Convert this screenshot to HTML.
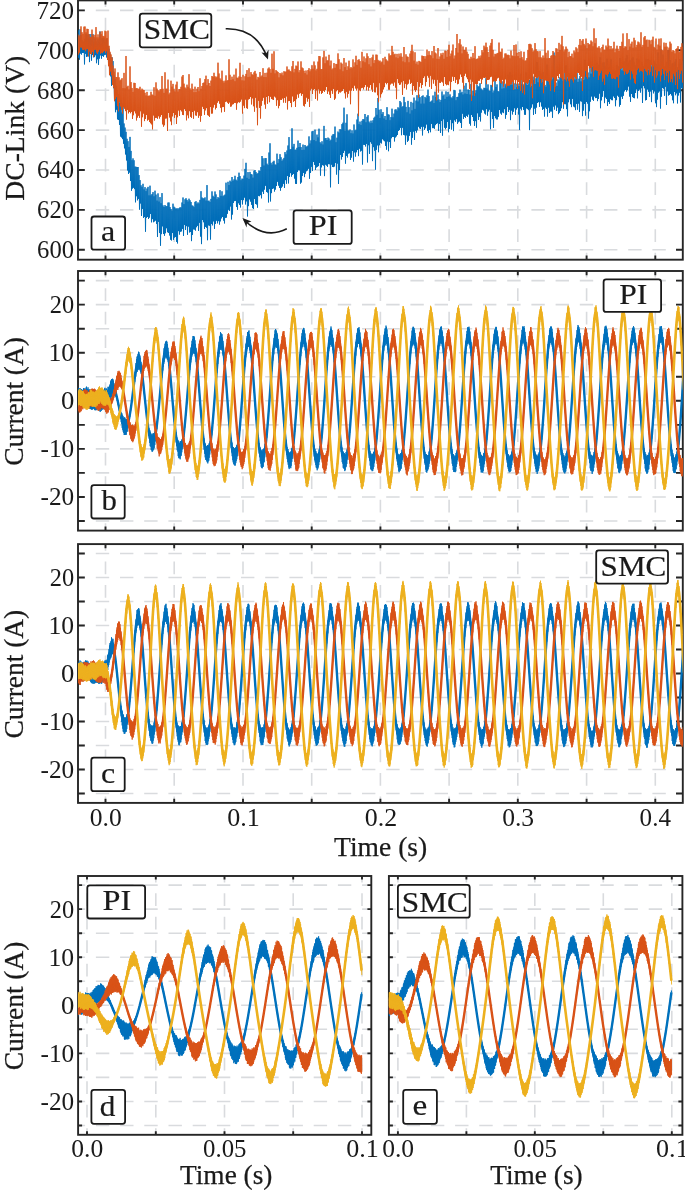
<!DOCTYPE html>
<html><head><meta charset="utf-8"><title>DC-link and current</title>
<style>html,body{margin:0;padding:0;background:#fff;width:685px;height:1193px;overflow:hidden}svg{display:block}</style>
</head><body>
<svg width="685" height="1193" viewBox="0 0 685 1193" font-family='"Liberation Serif", "DejaVu Serif", serif'>
<defs>
<clipPath id="ca"><rect x="78" y="0.4" width="604.8" height="259.3"/></clipPath>
<clipPath id="cb"><rect x="78" y="271" width="604.8" height="259.6"/></clipPath>
<clipPath id="cc"><rect x="78" y="544.1" width="604.8" height="258.8"/></clipPath>
<clipPath id="cd"><rect x="78.1" y="876" width="293.2" height="258.8"/></clipPath>
<clipPath id="ce"><rect x="388.9" y="876" width="293.5" height="258.8"/></clipPath>
</defs>
<path d="M105.5 0.4V259.7M174.2 0.4V259.7M243 0.4V259.7M311.7 0.4V259.7M380.4 0.4V259.7M449.1 0.4V259.7M517.8 0.4V259.7M586.6 0.4V259.7M655.3 0.4V259.7" stroke="#d9dbde" stroke-width="1.6" fill="none" stroke-dasharray="12.8 10.7" stroke-dashoffset="6.2"/>
<path d="M78 249.8H682.8M78 209.9H682.8M78 170H682.8M78 130.1H682.8M78 90.2H682.8M78 50.3H682.8M78 10.4H682.8" stroke="#d9dbde" stroke-width="1.6" fill="none" stroke-dasharray="13.4 10.8" stroke-dashoffset="6.4"/>
<path d="M105.5 259.7V255.5M105.5 0.4V4.6M174.2 259.7V255.5M174.2 0.4V4.6M243 259.7V255.5M243 0.4V4.6M311.7 259.7V255.5M311.7 0.4V4.6M380.4 259.7V255.5M380.4 0.4V4.6M449.1 259.7V255.5M449.1 0.4V4.6M517.8 259.7V255.5M517.8 0.4V4.6M586.6 259.7V255.5M586.6 0.4V4.6M655.3 259.7V255.5M655.3 0.4V4.6M78 249.8H84.8M682.8 249.8H676M78 209.9H84.8M682.8 209.9H676M78 170H84.8M682.8 170H676M78 130.1H84.8M682.8 130.1H676M78 90.2H84.8M682.8 90.2H676M78 50.3H84.8M682.8 50.3H676M78 10.4H84.8M682.8 10.4H676" stroke="#262626" stroke-width="1.9" fill="none"/>
<rect x="78" y="0.4" width="604.8" height="259.3" fill="none" stroke="#262626" stroke-width="1.9"/>
<path d="M105.5 271V530.6M174.2 271V530.6M243 271V530.6M311.7 271V530.6M380.4 271V530.6M449.1 271V530.6M517.8 271V530.6M586.6 271V530.6M655.3 271V530.6" stroke="#d9dbde" stroke-width="1.6" fill="none" stroke-dasharray="12.8 10.7" stroke-dashoffset="6.2"/>
<path d="M78 521H682.8M78 497H682.8M78 472.9H682.8M78 448.9H682.8M78 424.9H682.8M78 400.8H682.8M78 376.8H682.8M78 352.7H682.8M78 328.7H682.8M78 304.6H682.8M78 280.6H682.8" stroke="#d9dbde" stroke-width="1.6" fill="none" stroke-dasharray="13.4 10.8" stroke-dashoffset="6.4"/>
<path d="M105.5 530.6V526.4M105.5 271V275.2M174.2 530.6V526.4M174.2 271V275.2M243 530.6V526.4M243 271V275.2M311.7 530.6V526.4M311.7 271V275.2M380.4 530.6V526.4M380.4 271V275.2M449.1 530.6V526.4M449.1 271V275.2M517.8 530.6V526.4M517.8 271V275.2M586.6 530.6V526.4M586.6 271V275.2M655.3 530.6V526.4M655.3 271V275.2M78 521H84.8M682.8 521H676M78 497H84.8M682.8 497H676M78 472.9H84.8M682.8 472.9H676M78 448.9H84.8M682.8 448.9H676M78 424.9H84.8M682.8 424.9H676M78 400.8H84.8M682.8 400.8H676M78 376.8H84.8M682.8 376.8H676M78 352.7H84.8M682.8 352.7H676M78 328.7H84.8M682.8 328.7H676M78 304.6H84.8M682.8 304.6H676M78 280.6H84.8M682.8 280.6H676" stroke="#262626" stroke-width="1.9" fill="none"/>
<rect x="78" y="271" width="604.8" height="259.6" fill="none" stroke="#262626" stroke-width="1.9"/>
<path d="M105.5 544.1V802.9M174.2 544.1V802.9M243 544.1V802.9M311.7 544.1V802.9M380.4 544.1V802.9M449.1 544.1V802.9M517.8 544.1V802.9M586.6 544.1V802.9M655.3 544.1V802.9" stroke="#d9dbde" stroke-width="1.6" fill="none" stroke-dasharray="12.8 10.7" stroke-dashoffset="6.2"/>
<path d="M78 793.5H682.8M78 769.5H682.8M78 745.5H682.8M78 721.5H682.8M78 697.5H682.8M78 673.5H682.8M78 649.5H682.8M78 625.5H682.8M78 601.5H682.8M78 577.5H682.8M78 553.5H682.8" stroke="#d9dbde" stroke-width="1.6" fill="none" stroke-dasharray="13.4 10.8" stroke-dashoffset="6.4"/>
<path d="M105.5 802.9V798.7M105.5 544.1V548.3M174.2 802.9V798.7M174.2 544.1V548.3M243 802.9V798.7M243 544.1V548.3M311.7 802.9V798.7M311.7 544.1V548.3M380.4 802.9V798.7M380.4 544.1V548.3M449.1 802.9V798.7M449.1 544.1V548.3M517.8 802.9V798.7M517.8 544.1V548.3M586.6 802.9V798.7M586.6 544.1V548.3M655.3 802.9V798.7M655.3 544.1V548.3M78 793.5H84.8M682.8 793.5H676M78 769.5H84.8M682.8 769.5H676M78 745.5H84.8M682.8 745.5H676M78 721.5H84.8M682.8 721.5H676M78 697.5H84.8M682.8 697.5H676M78 673.5H84.8M682.8 673.5H676M78 649.5H84.8M682.8 649.5H676M78 625.5H84.8M682.8 625.5H676M78 601.5H84.8M682.8 601.5H676M78 577.5H84.8M682.8 577.5H676M78 553.5H84.8M682.8 553.5H676" stroke="#262626" stroke-width="1.9" fill="none"/>
<rect x="78" y="544.1" width="604.8" height="258.8" fill="none" stroke="#262626" stroke-width="1.9"/>
<path d="M87 876V1134.8M155.8 876V1134.8M224.5 876V1134.8M293.2 876V1134.8M362 876V1134.8" stroke="#d9dbde" stroke-width="1.6" fill="none" stroke-dasharray="12.8 10.7" stroke-dashoffset="6.2"/>
<path d="M78.1 1125.5H371.4M78.1 1101.5H371.4M78.1 1077.4H371.4M78.1 1053.4H371.4M78.1 1029.3H371.4M78.1 1005.3H371.4M78.1 981.3H371.4M78.1 957.2H371.4M78.1 933.2H371.4M78.1 909.1H371.4M78.1 885.1H371.4" stroke="#d9dbde" stroke-width="1.6" fill="none" stroke-dasharray="13.4 10.8" stroke-dashoffset="6.4"/>
<path d="M87 1134.8V1131.2M87 876V879.6M155.8 1134.8V1131.2M155.8 876V879.6M224.5 1134.8V1131.2M224.5 876V879.6M293.2 1134.8V1131.2M293.2 876V879.6M362 1134.8V1131.2M362 876V879.6M78.1 1125.5H82.1M371.4 1125.5H367.4M78.1 1101.5H82.1M371.4 1101.5H367.4M78.1 1077.4H82.1M371.4 1077.4H367.4M78.1 1053.4H82.1M371.4 1053.4H367.4M78.1 1029.3H82.1M371.4 1029.3H367.4M78.1 1005.3H82.1M371.4 1005.3H367.4M78.1 981.3H82.1M371.4 981.3H367.4M78.1 957.2H82.1M371.4 957.2H367.4M78.1 933.2H82.1M371.4 933.2H367.4M78.1 909.1H82.1M371.4 909.1H367.4M78.1 885.1H82.1M371.4 885.1H367.4" stroke="#262626" stroke-width="1.9" fill="none"/>
<rect x="78.1" y="876" width="293.2" height="258.8" fill="none" stroke="#262626" stroke-width="1.9"/>
<path d="M397.9 876V1134.8M466.4 876V1134.8M534.8 876V1134.8M603.3 876V1134.8M671.8 876V1134.8" stroke="#d9dbde" stroke-width="1.6" fill="none" stroke-dasharray="12.8 10.7" stroke-dashoffset="6.2"/>
<path d="M388.9 1125.5H682.4M388.9 1101.5H682.4M388.9 1077.4H682.4M388.9 1053.4H682.4M388.9 1029.3H682.4M388.9 1005.3H682.4M388.9 981.3H682.4M388.9 957.2H682.4M388.9 933.2H682.4M388.9 909.1H682.4M388.9 885.1H682.4" stroke="#d9dbde" stroke-width="1.6" fill="none" stroke-dasharray="13.4 10.8" stroke-dashoffset="6.4"/>
<path d="M397.9 1134.8V1131.2M397.9 876V879.6M466.4 1134.8V1131.2M466.4 876V879.6M534.8 1134.8V1131.2M534.8 876V879.6M603.3 1134.8V1131.2M603.3 876V879.6M671.8 1134.8V1131.2M671.8 876V879.6M388.9 1125.5H392.9M682.4 1125.5H678.4M388.9 1101.5H392.9M682.4 1101.5H678.4M388.9 1077.4H392.9M682.4 1077.4H678.4M388.9 1053.4H392.9M682.4 1053.4H678.4M388.9 1029.3H392.9M682.4 1029.3H678.4M388.9 1005.3H392.9M682.4 1005.3H678.4M388.9 981.3H392.9M682.4 981.3H678.4M388.9 957.2H392.9M682.4 957.2H678.4M388.9 933.2H392.9M682.4 933.2H678.4M388.9 909.1H392.9M682.4 909.1H678.4M388.9 885.1H392.9M682.4 885.1H678.4" stroke="#262626" stroke-width="1.9" fill="none"/>
<rect x="388.9" y="876" width="293.5" height="258.8" fill="none" stroke="#262626" stroke-width="1.9"/>
<path clip-path="url(#ca)" fill="none" stroke="#006EB9" stroke-width="1.0" stroke-linejoin="round" d="M77 39.2l.5 16.7.5-25.7.5 27.5.5-18.8.5 20.7.5-30.3.5 24.2.5-18.5.5 19.5.5-14.5.5 13 .5-11.3.5 11.2.5-11.4.5 22.9.5-25.5.5 14.8.5-19.8.5 23 .5-22.3.5 21.8.5-17.8.5 14.4.5-19 .5 28.1.5-22.6.5 14.4.5-19.9.5 26.6.5-20.5.5 14.9.5-20.8.5 23.1.5-15.2.5 15 .5-18.6.5 16.7.5-14.5.5 22.5.5-19.6.5 15.6.5-19.8.5 25.4.5-22.8.5 16.5.5-27.1.5 23.9.5-11.6.5 14.9.5-20.5.5 17.8.5-18 .5 18.8.5-18.4.5 16.8.5-12.9.5 12.4.5-15.4.5 18.2.5-18.8.5 18.6.5-11.2.5 17.3.5-14.6.5 20.2.5-15.4.5 22.8.5-18.7.5 28.2.5-28.5.5 25 .5-21.2.5 27.1.5-12.8.5 25.4.5-21.8.5 33.2.5-26.3.5 23.7.5-19.6.5 29.3.5-25.3.5 26 .5-17.2.5 22 .5-23.9.5 35.6.5-36.3.5 37.2.5-24.9.5 26.6.5-35.6.5 40.2.5-20.2.5 24.8.5-20.7.5 26.8.5-22.6.5 28.6.5-21.6.5 31.6.5-29.2.5 32.7.5-26.9.5 25.5.5-35.6.5 44.1.5-30.1.5 39.8.5-30.5.5 28.3.5-30.1.5 29.3.5-27.4.5 28.8.5-22.5.5 35.7.5-35.5.5 29.4.5-29.2.5 33.3.5-33.3.5 31.8.5-23.7.5 34.5.5-29.5.5 23.3.5-18.1.5 30.6.5-29 .5 21.9.5-25 .5 34 .5-28.4.5 27.5.5-29.8.5 44.6.5-40.6.5 26.7.5-29.3.5 28.5.5-30.1.5 32.1.5-23.6.5 22.1.5-31.8.5 28.2.5-18.5.5 26.9.5-28.2.5 25 .5-27 .5 30.1.5-25.9.5 25.1.5-30.7.5 29.8.5-25.9.5 29.3.5-23.3.5 36.4.5-43.6.5 28.4.5-20.2.5 31.3.5-35.8.5 48.6.5-42.5.5 30.9.5-41 .5 33.2.5-20.9.5 28.6.5-27 .5 28.7.5-30.6.5 28.1.5-26.9.5 21.9.5-22.1.5 26.1.5-29.6.5 30.3.5-30.4.5 32.9.5-28.3.5 32.5.5-30.5.5 31.3.5-29.7.5 22.3.5-29.3.5 36 .5-32.8.5 30.6.5-29.8.5 29.2.5-27.9.5 32.8.5-33.7.5 35.3.5-34.1.5 21.8.5-23 .5 26.4.5-27.2.5 24.4.5-24.2.5 23.8.5-28.8.5 26.3.5-31.3.5 38.4.5-31.8.5 20.7.5-25.5.5 30.7.5-31.8.5 27.9.5-26.2.5 34.8.5-33.1.5 24.9.5-27.8.5 33.7.5-32.1.5 31.6.5-29.9.5 39.1.5-35.7.5 29.5.5-29.1.5 23.5.5-22.2.5 22.4.5-27.6.5 28.6.5-29.3.5 26 .5-23.5.5 22 .5-23.3.5 28.4.5-27.3.5 19.2.5-22.8.5 36.6.5-45.3.5 52.9.5-46.6.5 22.5.5-21.6.5 23.8.5-23.8.5 30.6.5-31.6.5 29.4.5-26.2.5 27.1.5-42.6.5 55.1.5-39.3.5 24.4.5-24.7.5 25.1.5-23.7.5 37.5.5-40.6.5 25 .5-32.5.5 33.9.5-29.5.5 25.5.5-24.3.5 31.8.5-37.3.5 32.3.5-29.4.5 26.2.5-21.4.5 24.1.5-26.2.5 24 .5-23 .5 26.4.5-34.3.5 31.1.5-25.4.5 22.4.5-27 .5 25.7.5-20.7.5 24.2.5-25.1.5 28 .5-28.8.5 23.2.5-35.1.5 34.8.5-27.2.5 23.4.5-31.9.5 27.9.5-24.7.5 25.9.5-30.2.5 25.7.5-24.6.5 37.6.5-42.4.5 37.5.5-33.7.5 22.2.5-23.6.5 21.7.5-25.3.5 25 .5-21.1.5 27.3.5-26.3.5 29 .5-32.7.5 26.2.5-30.5.5 32.3.5-28.9.5 31.3.5-27.2.5 19.8.5-21.4.5 25.8.5-25.5.5 21.2.5-24.5.5 21.9.5-28.6.5 35.5.5-41.6.5 38.5.5-23.5.5 38.6.5-44.3.5 34 .5-27.2.5 20.4.5-27.4.5 29.6.5-27.5.5 30.7.5-30.2.5 33.6.5-30.4.5 31.3.5-38.3.5 28.3.5-29 .5 33.8.5-31.7.5 32.3.5-30.5.5 33.7.5-34.5.5 22.7.5-25.4.5 25.8.5-25.2.5 24.1.5-28.1.5 31.3.5-42.3.5 35.5.5-33.2.5 35.7.5-28.5.5 24 .5-31.3.5 27.5.5-27.6.5 33.9.5-28.3.5 28.8.5-27.4.5 37.3.5-49.9.5 36.6.5-45.8.5 58.1.5-38.6.5 30.3.5-28.4.5 24.2.5-27.1.5 26.5.5-27.5.5 30.7.5-27 .5 25 .5-24.7.5 21.2.5-32.3.5 28 .5-18.8.5 22.6.5-26.4.5 28.9.5-33.8.5 36.4.5-33.3.5 30.3.5-26.7.5 25.5.5-27 .5 24.3.5-25.8.5 30.1.5-35.9.5 28 .5-25.8.5 29.4.5-33.2.5 25.5.5-30.5.5 37.9.5-46.3.5 39.8.5-27.4.5 23.6.5-24 .5 27.4.5-48.2.5 46.5.5-28.1.5 27.1.5-29.9.5 34.6.5-28.7.5 33.9.5-34 .5 34.3.5-36.2.5 24.2.5-31.4.5 29.6.5-23.2.5 23.3.5-27.3.5 40.6.5-36.5.5 35.3.5-32.4.5 25.8.5-31.2.5 28.2.5-23 .5 27.3.5-32.1.5 28.6.5-27 .5 24.6.5-24.7.5 23.9.5-24.8.5 23 .5-32.2.5 42.3.5-35.2.5 29.5.5-32.6.5 26.3.5-35.3.5 39.5.5-40 .5 31 .5-21.9.5 24.8.5-35.1.5 40.1.5-28.6.5 26.2.5-32.8.5 32.1.5-29.3.5 28.7.5-37.4.5 34.3.5-20.8.5 33.4.5-32 .5 23.7.5-26 .5 23.8.5-20.6.5 21 .5-39.6.5 50.2.5-37.9.5 26.4.5-26.6.5 27.5.5-25.5.5 26.8.5-29.2.5 26.5.5-25.6.5 25.7.5-23.4.5 46.5.5-47.6.5 24.9.5-28.9.5 31.3.5-32.7.5 32.8.5-33 .5 32.3.5-39.8.5 36.2.5-20.6.5 32.3.5-36.8.5 25.8.5-32 .5 52.4.5-51.2.5 37.2.5-40.7.5 25.6.5-25.2.5 29.8.5-35.3.5 32.7.5-34.1.5 30.3.5-45.3.5 42.9.5-19.7.5 32.7.5-40.8.5 33 .5-41.5.5 43.1.5-26.9.5 23 .5-22.9.5 22.6.5-23.6.5 30.4.5-26.8.5 24.3.5-27.2.5 20.7.5-17.5.5 28 .5-37 .5 27.8.5-21.9.5 26.1.5-26.8.5 22.5.5-32.7.5 30.4.5-36.2.5 42.4.5-31.9.5 24.4.5-27 .5 29.8.5-26.5.5 25.7.5-29.8.5 43.7.5-45.4.5 25.6.5-25.2.5 25.3.5-30.8.5 32.4.5-24.1.5 21.5.5-27 .5 45.6.5-47.2.5 30 .5-23.6.5 32.2.5-30.6.5 18.9.5-21.4.5 22.9.5-20.7.5 38.2.5-40.8.5 26.8.5-29.3.5 32.8.5-33.9.5 52.9.5-61.6.5 41.7.5-34.9.5 30.5.5-47.3.5 54.2.5-42.5.5 35.5.5-27.2.5 24.6.5-33.3.5 34.1.5-29.2.5 25 .5-27.1.5 28.2.5-21.8.5 22.7.5-25.2.5 29.8.5-25.9.5 29.7.5-42.4.5 34.2.5-27.1.5 36.9.5-36.5.5 27.3.5-21.8.5 27.8.5-30.9.5 21.1.5-29.5.5 28.2.5-19.6.5 19.6.5-23.3.5 27.8.5-31.8.5 27.8.5-28.1.5 27 .5-25.6.5 24.2.5-27.6.5 23.7.5-22.6.5 21.6.5-29 .5 26.7.5-25.3.5 32.8.5-28.1.5 20.6.5-21.6.5 28.7.5-37.9.5 38.3.5-33 .5 42.4.5-37.7.5 28.4.5-23 .5 29.6.5-41 .5 39.6.5-33.3.5 28.5.5-22 .5 18.1.5-29.9.5 42.7.5-34.3.5 27.4.5-34.9.5 28.7.5-33.9.5 42.3.5-31 .5 21.8.5-30.1.5 31.9.5-37.3.5 35 .5-28.7.5 25.1.5-31.9.5 33.6.5-31.1.5 31.7.5-25.2.5 23 .5-30.6.5 39.3.5-40 .5 31.2.5-23 .5 26.3.5-33 .5 31.3.5-30 .5 26.2.5-29.1.5 35.5.5-41.2.5 43.5.5-37 .5 33.7.5-27.8.5 30.2.5-30.8.5 22.4.5-23.3.5 27.6.5-32.6.5 32.6.5-25.1.5 25.7.5-37 .5 33.4.5-28.1.5 26.9.5-23.8.5 23.1.5-28.5.5 36.1.5-31.4.5 24.6.5-21.9.5 30.9.5-33.1.5 21.1.5-29.5.5 44.1.5-39.8.5 23.4.5-24.7.5 33.1.5-28.7.5 30.3.5-37.8.5 36.3.5-30.8.5 24.9.5-29.9.5 40.3.5-35.8.5 32.6.5-34.6.5 25.3.5-22.4.5 32.2.5-31.3.5 24.9.5-26.8.5 34.8.5-41.2.5 30.3.5-29.9.5 31.3.5-21.4.5 18.9.5-22.1.5 26.7.5-26.9.5 25.4.5-29 .5 28.1.5-31.6.5 33.3.5-30.2.5 35.1.5-36.2.5 21.9.5-19.1.5 24.5.5-33.3.5 31.2.5-23.3.5 24.3.5-34.8.5 32.6.5-21.7.5 22.8.5-27.2.5 24.8.5-24.5.5 33.7.5-29.1.5 31 .5-41.4.5 30.8.5-19.3.5 21.4.5-26.3.5 30.2.5-35.6.5 40.5.5-32.7.5 28 .5-30.9.5 37.5.5-43.1.5 28.6.5-26.6.5 33.3.5-33.6.5 30.4.5-33.5.5 38.2.5-32.9.5 24 .5-23 .5 20.1.5-19.2.5 20 .5-22.6.5 25.6.5-25.4.5 26.4.5-36.2.5 30.9.5-20.6.5 27.1.5-31.2.5 27 .5-20.9.5 19.1.5-18.6.5 38.2.5-44.3.5 26.9.5-26 .5 33.2.5-26.4.5 35.2.5-37.1.5 25.2.5-40.6.5 42.9.5-31.3.5 32.4.5-34.9.5 34.9.5-28.2.5 25.6.5-25.1.5 18.4.5-34.1.5 37.5.5-30.5.5 31.7.5-25.9.5 23.6.5-30.9.5 31.7.5-24.8.5 20.8.5-25.4.5 34.9.5-33.2.5 29.4.5-31.8.5 23.8.5-32.1.5 37.3.5-35.8.5 33.5.5-37.6.5 48 .5-35.3.5 25.7.5-35.7.5 39.6.5-29.5.5 26.7.5-28.3.5 24.9.5-18.8.5 25.6.5-31.3.5 25.7.5-22.3.5 20.6.5-24.1.5 30.8.5-28.3.5 43.7.5-45.3.5 24 .5-34.7.5 36.4.5-26 .5 22.7.5-21.4.5 24.3.5-25.6.5 30.4.5-34.4.5 34.5.5-42.2.5 35.8.5-23.5.5 24.3.5-24.6.5 25.6.5-30.1.5 50.1.5-50.3.5 29.5.5-26 .5 24.2.5-21.5.5 18.2.5-27.6.5 38.3.5-35 .5 28.6.5-24.5.5 29.8.5-35.5.5 29.2.5-45.5.5 41 .5-20.6.5 19.7.5-31.3.5 36 .5-28.8.5 24.2.5-28.8.5 33 .5-24.3.5 27.8.5-37.8.5 36.8.5-25.8.5 33.4.5-31.6.5 22.5.5-20.6.5 22.1.5-44.3.5 51.9.5-38.7.5 29.7.5-25.9.5 31.4.5-30.8.5 29.2.5-32.1.5 32.1.5-32 .5 38.3.5-41.7.5 30.5.5-54 .5 57 .5-29.4.5 25.2.5-22.7.5 28.4.5-25.1.5 21.5.5-28 .5 34.7.5-33.4.5 31.9.5-35.5.5 33.9.5-33.3.5 30.5.5-32.1.5 26 .5-21.5.5 28.1.5-29.5.5 24.9.5-37.6.5 37.7.5-38.8.5 43.7.5-30.4.5 37.6.5-40.3.5 26.2.5-29 .5 25.9.5-24.1.5 29.2.5-25.9.5 28.8.5-32.1.5 23.8.5-21.5.5 29.1.5-32.1.5 32.9.5-27.6.5 30.5.5-33.6.5 27.3.5-30.7.5 36.5.5-27.7.5 21.6.5-24.8.5 33.3.5-36.2.5 25.4.5-19.8.5 20.1.5-23.3.5 37.9.5-36.8.5 31.2.5-30.8.5 24.3.5-44.1.5 55.6.5-46.4.5 32.9.5-36.1.5 37.6.5-31 .5 46 .5-41.1.5 33.8.5-43.4.5 33.8.5-27.9.5 22.7.5-29.3.5 32.5.5-33.7.5 34.9.5-32.4.5 28 .5-27.5.5 29.2.5-30.1.5 29.9.5-35.1.5 38.3.5-33.5.5 31.3.5-34.2.5 28.8.5-36.2.5 50.9.5-38.8.5 30.9.5-31.7.5 28 .5-34 .5 28.4.5-28.7.5 40.8.5-36.6.5 30.9.5-24.2.5 25.8.5-40.2.5 47.1.5-32.8.5 28.9.5-34.9.5 36.8.5-32.6.5 27.8.5-39.7.5 40.7.5-25.3.5 25.4.5-29.8.5 25.9.5-24.3.5 26 .5-27.5.5 35.7.5-33.8.5 27.7.5-34.9.5 30.3.5-23.8.5 25 .5-30.5.5 40.3.5-48.3.5 46.6.5-37.4.5 29.1.5-26.2.5 28.5.5-36 .5 32.9.5-34.4.5 30 .5-21.4.5 20.1.5-31.6.5 33.2.5-36.4.5 35 .5-26.8.5 23 .5-24.6.5 34.7.5-36.5.5 41.8.5-35.9.5 28 .5-35.4.5 38.6.5-39.9.5 40.7.5-36 .5 36.3.5-32.9.5 27.7.5-26.3.5 22.6.5-30.7.5 39.7.5-32.7.5 25.4.5-31.5.5 30 .5-21.5.5 24.5.5-25.5.5 21.2.5-25.8.5 40.6.5-37 .5 19.8.5-18.6.5 21 .5-22.7.5 34.8.5-41 .5 40.7.5-34.4.5 23.8.5-30.4.5 32.6.5-21.5.5 26.7.5-36.5.5 31.1.5-27.7.5 38.4.5-35.5.5 23.2.5-25.3.5 28.8.5-32.7.5 30.7.5-28.8.5 40.7.5-39.4.5 43.3.5-40.7.5 33.1.5-47.1.5 40.1.5-24.9.5 23.7.5-22.9.5 40.1.5-59.2.5 47.3.5-28.1.5 19.4.5-33.3.5 34 .5-18.7.5 25.8.5-29.4.5 20.4.5-19.5.5 37.7.5-43 .5 29.4.5-41.3.5 45.5.5-45.8.5 45.2.5-34.8.5 33.7.5-26.7.5 28.3.5-31.5.5 36.3.5-37.3.5 40.3.5-38.5.5 27.2.5-30.2.5 33.5.5-35.9.5 34 .5-25.2.5 35.3.5-36.4.5 28.4.5-31.6.5 28.8.5-33.5.5 43.3.5-38 .5 23.4.5-25.2.5 26.1.5-27.9.5 26.7.5-28.2"/>
<path clip-path="url(#ca)" fill="none" stroke="#D95319" stroke-width="1.0" stroke-linejoin="round" d="M77 30.7l.5 19.3.5-15.4.5 19.8.5-17.7.5 15.9.5-17.2.5 11.9.5-20.9.5 21.1.5-15.3.5 17.4.5-15.7.5 16.1.5-23.3.5 22.7.5-22.9.5 24.7.5-18.9.5 17 .5-20.5.5 20.3.5-20.1.5 27.4.5-22 .5 17 .5-14.3.5 16.9.5-17.1.5 17.3.5-24.6.5 22.3.5-16.9.5 21.6.5-19.7.5 13 .5-15.1.5 14.8.5-22.5.5 25.3.5-15 .5 16.4.5-19.4.5 17.2.5-14.1.5 12.2.5-17.9.5 22.1.5-19.8.5 18.5.5-21.4.5 22 .5-17.3.5 15.8.5-15.3.5 14.3.5-20 .5 22.4.5-21.8.5 19.9.5-13.2.5 21.9.5-29.3.5 35.6.5-20.4.5 29.4.5-23.4.5 19.6.5-16.9.5 20.7.5-17.7.5 27.3.5-19.2.5 21.9.5-15.8.5 29.5.5-32.7.5 30.6.5-22.1.5 20.1.5-19.9.5 28.9.5-33.7.5 38.9.5-34 .5 24.6.5-21.5.5 26 .5-26.8.5 30.1.5-31.5.5 35.3.5-25.4.5 19 .5-34.2.5 35.7.5-20.3.5 22.8.5-55.1.5 63.5.5-32.7.5 23 .5-24 .5 27.5.5-23.8.5 22.5.5-45.6.5 46.8.5-31.1.5 29.7.5-23.8.5 31 .5-27.2.5 23.4.5-32.4.5 28.4.5-28.2.5 30.3.5-25 .5 32.1.5-32.4.5 29.5.5-28.4.5 26.5.5-27 .5 29.2.5-31 .5 24.4.5-21 .5 36.5.5-38 .5 28.5.5-27.5.5 23.8.5-23.5.5 31.1.5-28.3.5 26.2.5-23.5.5 19.4.5-23 .5 28.6.5-24.5.5 23.6.5-24 .5 26.3.5-26.2.5 27.5.5-31.4.5 32.5.5-29.8.5 34.8.5-34.1.5 20.2.5-28.1.5 33.2.5-24.7.5 22 .5-35.4.5 35.3.5-29 .5 30 .5-28.6.5 26.1.5-24.7.5 27 .5-29 .5 27.1.5-27.5.5 25.9.5-39 .5 48.3.5-35.5.5 37.8.5-33.7.5 32.3.5-52.9.5 46.2.5-29.7.5 29.5.5-29.6.5 42.3.5-51.4.5 33.3.5-18.5.5 23 .5-24.7.5 28.6.5-40.6.5 44.4.5-38.5.5 29.7.5-32.4.5 29.1.5-23.8.5 28.6.5-26.3.5 23.3.5-30.2.5 39.4.5-42.3.5 35.5.5-25.7.5 18.9.5-21.3.5 26.9.5-26.9.5 21 .5-23.3.5 24.5.5-34.7.5 38.2.5-39.8.5 40.1.5-31.4.5 25.4.5-21.6.5 23.3.5-22.2.5 31.7.5-35.6.5 30.5.5-28.4.5 31.4.5-44 .5 36.9.5-22.7.5 28.3.5-26.9.5 28 .5-34.1.5 28.3.5-23.1.5 29.8.5-26.5.5 18.4.5-23.9.5 28.6.5-23.2.5 23.5.5-26.8.5 23.3.5-25.1.5 30.7.5-26.5.5 24.3.5-37.2.5 43.3.5-32.8.5 26.9.5-29.7.5 20.6.5-23.6.5 26 .5-26.5.5 32.3.5-35.7.5 31.2.5-34.6.5 32.4.5-22.8.5 29.8.5-35.9.5 36.4.5-32.6.5 33.9.5-30.9.5 21 .5-26.4.5 32.9.5-37.5.5 37.4.5-36.5.5 30.5.5-34.6.5 31.8.5-28.3.5 33 .5-31.8.5 30.3.5-31.2.5 26 .5-39.9.5 38.4.5-27.6.5 30.1.5-25.2.5 29.2.5-27.8.5 32.5.5-41.6.5 36.4.5-26.3.5 26.1.5-24.3.5 29.1.5-31 .5 21.2.5-26.5.5 26 .5-20.6.5 21.8.5-22.6.5 24 .5-44.7.5 43.1.5-27.6.5 31.8.5-26.7.5 26.4.5-29.6.5 27.7.5-25.1.5 24.8.5-29.4.5 28.1.5-21.6.5 21.6.5-34.2.5 41 .5-32 .5 25.6.5-25 .5 23.9.5-25.6.5 26 .5-39.7.5 38.7.5-24.6.5 22.5.5-19.1.5 33.2.5-38.7.5 30.7.5-24.9.5 27.5.5-31.8.5 23.2.5-25.6.5 34.2.5-38 .5 38.6.5-31.6.5 22.3.5-31.1.5 30.5.5-22 .5 20.1.5-24.8.5 32.3.5-30.2.5 24.1.5-23.3.5 31.2.5-33.8.5 39.2.5-40.7.5 26.8.5-24 .5 33.8.5-27.9.5 45.6.5-48.3.5 23.8.5-23 .5 30.1.5-35.8.5 46.5.5-41.9.5 29 .5-30.1.5 25.1.5-32.4.5 29.4.5-20.6.5 27.4.5-31.5.5 35.7.5-31.5.5 19.8.5-24.2.5 31 .5-35.1.5 27.4.5-28.5.5 34.7.5-33.1.5 27.6.5-23.9.5 26.1.5-45.2.5 45.7.5-30.6.5 31.2.5-48.7.5 45.1.5-23 .5 24 .5-27.3.5 35.6.5-34.5.5 28.9.5-28.1.5 36.2.5-30.8.5 28.3.5-32.7.5 26.7.5-25.3.5 25.5.5-27.3.5 25.8.5-23 .5 27.1.5-31.3.5 26.7.5-26 .5 30.8.5-31.2.5 24.9.5-29.9.5 42.9.5-39.6.5 31.3.5-31.6.5 31.5.5-30.1.5 32.1.5-31.4.5 35.5.5-40.8.5 30 .5-35.3.5 40.7.5-29.3.5 28.6.5-32.1.5 38 .5-41.3.5 33.5.5-32.8.5 28 .5-32.8.5 36.1.5-25.2.5 21.2.5-23.5.5 23 .5-31.7.5 34.2.5-28.1.5 26.4.5-25.6.5 37.3.5-34.8.5 35.6.5-33.3.5 30.8.5-33.4.5 27 .5-22.9.5 26.9.5-31.4.5 28.6.5-30.5.5 38.7.5-35.6.5 19.1.5-21.1.5 19.3.5-23.3.5 28.7.5-25.2.5 20.9.5-28.2.5 27.4.5-23.5.5 33.4.5-28.4.5 19.9.5-21.5.5 31.6.5-38.8.5 27.7.5-33.3.5 37.4.5-37.1.5 34.6.5-21.7.5 24.8.5-24.9.5 23.7.5-35.4.5 33.3.5-39.8.5 40.9.5-28.6.5 26.8.5-33.4.5 30.3.5-26.4.5 33.3.5-33.4.5 30.9.5-36.5.5 39.7.5-28.9.5 32.4.5-37.4.5 29.9.5-21 .5 24.2.5-25.3.5 20.4.5-25.7.5 36.7.5-32 .5 30.6.5-34.5.5 27.3.5-27.1.5 26 .5-36.7.5 40.3.5-34.5.5 33 .5-22.8.5 23 .5-29.8.5 28.8.5-27.7.5 27.3.5-19.7.5 17.8.5-31.1.5 35.2.5-26.1.5 31.3.5-35.8.5 29.1.5-21.7.5 27.4.5-31.1.5 27.4.5-33 .5 29.7.5-21.9.5 35.7.5-37.1.5 23.4.5-22.3.5 19.9.5-28.7.5 31.4.5-24.1.5 18.8.5-23.1.5 26 .5-32.6.5 34.6.5-25.5.5 23.4.5-28.4.5 56.2.5-56.8.5 31 .5-29.2.5 30 .5-23.3.5 20.3.5-36.2.5 35.7.5-26.3.5 28 .5-32.8.5 30.6.5-24.8.5 22.6.5-26.6.5 32 .5-37 .5 33.3.5-30.3.5 34.2.5-26.2.5 23.2.5-29.4.5 26.9.5-18.5.5 22.9.5-32 .5 34.4.5-37.1.5 28 .5-19.6.5 29.1.5-32.1.5 32.2.5-37.7.5 32.6.5-32.4.5 40.4.5-35.3.5 42.3.5-40.9.5 21.8.5-22.5.5 36.8.5-34.9.5 31.6.5-32.5.5 30.7.5-34.1.5 31.1.5-24.6.5 22.4.5-30.3.5 25.9.5-23.4.5 24.9.5-23.7.5 22.4.5-21.6.5 28.2.5-36 .5 36.1.5-34 .5 28.8.5-29.2.5 28.2.5-37.5.5 37.5.5-31.6.5 33.8.5-31 .5 27.7.5-28.5.5 33.7.5-30.1.5 41.7.5-45.2.5 25.1.5-20.8.5 24.9.5-29.4.5 31.1.5-28.3.5 27.9.5-31.1.5 28.9.5-25.4.5 38.1.5-33.5.5 19.4.5-33.8.5 41.1.5-25.8.5 21.5.5-29.5.5 35.1.5-32.9.5 27.9.5-27.5.5 26.6.5-21.2.5 17.1.5-25.8.5 30.4.5-33 .5 31.7.5-37.9.5 49.9.5-43.4.5 34.6.5-25.2.5 29.2.5-37.6.5 39.3.5-27.9.5 26.3.5-28.4.5 20.4.5-17.3.5 32.8.5-36.6.5 25.7.5-25.1.5 21.3.5-20.7.5 26 .5-32.5.5 29.3.5-28.8.5 21.9.5-21.9.5 20.1.5-17.4.5 27.4.5-30 .5 25.8.5-32.4.5 26 .5-20.3.5 22.2.5-26.3.5 35.5.5-31.8.5 20.8.5-20 .5 33.1.5-37.7.5 28.2.5-21 .5 25.2.5-37.5.5 33.6.5-27.1.5 33.2.5-32.2.5 46.8.5-41.5.5 20.9.5-31.7.5 44.5.5-33.4.5 23.5.5-26.1.5 26.5.5-29.7.5 28.2.5-26.5.5 27.3.5-29.5.5 33.2.5-27.2.5 18.2.5-26.4.5 33.5.5-33.2.5 34.3.5-28.3.5 27.6.5-34.7.5 35.3.5-40.3.5 36.4.5-25 .5 35 .5-37.6.5 28.2.5-31.2.5 25.9.5-32 .5 36.3.5-22.2.5 18.4.5-21.5.5 27.3.5-34.8.5 31.6.5-45.6.5 50.2.5-31.6.5 31 .5-40.3.5 35.9.5-40 .5 35.1.5-29.7.5 32.3.5-23.5.5 29.1.5-36 .5 42.1.5-38.7.5 25.8.5-25.8.5 23.6.5-26.2.5 29.9.5-25.5.5 27.4.5-25.2.5 28.2.5-23.4.5 30.1.5-29.6.5 20.2.5-22.6.5 44 .5-42.3.5 23.1.5-28.6.5 36.8.5-31.7.5 37.8.5-49.7.5 37.5.5-24.4.5 25.1.5-25.6.5 25.2.5-25.5.5 22.2.5-24.8.5 24.7.5-22.9.5 21.1.5-23.3.5 28.2.5-33.6.5 29.3.5-27 .5 25.2.5-31.9.5 32.2.5-30.5.5 30.1.5-34.8.5 41.4.5-36.9.5 32.7.5-27.9.5 27.8.5-22.8.5 22.3.5-33.7.5 31.5.5-34.2.5 33.6.5-37.4.5 47.7.5-36.9.5 31.5.5-24.8.5 23.9.5-26.7.5 27.9.5-27.4.5 26.4.5-27.3.5 24.9.5-25.4.5 24.7.5-35 .5 38.1.5-29 .5 31.2.5-30.8.5 31.5.5-35 .5 31.1.5-20.7.5 27.5.5-28.8.5 25.9.5-30.1.5 25.8.5-25.8.5 33.9.5-32.3.5 30.4.5-30.8.5 31.1.5-30.6.5 30.2.5-27 .5 26.1.5-33.9.5 33.5.5-28.6.5 26.2.5-25.6.5 33.8.5-44.9.5 34.8.5-23.6.5 28 .5-39.7.5 35.6.5-27.3.5 36.2.5-32.9.5 25.9.5-30.1.5 33.2.5-26.9.5 32.7.5-39.6.5 28.8.5-22.9.5 35.7.5-33.3.5 22.2.5-30 .5 42.6.5-33.6.5 21.8.5-22.2.5 22.5.5-24.8.5 26.1.5-34.3.5 32.6.5-38.5.5 35.4.5-35.6.5 43.4.5-42.7.5 39 .5-35.3.5 50 .5-46.5.5 22 .5-23.1.5 32.9.5-40.4.5 34.1.5-28 .5 28.4.5-26.5.5 27 .5-26.8.5 25.2.5-19.2.5 29.2.5-35.4.5 27.7.5-21.5.5 25.4.5-24.3.5 20.5.5-23.4.5 37.7.5-35.4.5 28 .5-47.7.5 42.2.5-27.5.5 27.9.5-22.4.5 22.6.5-30.4.5 30.9.5-23.3.5 26.3.5-26.3.5 32.8.5-35.1.5 24.5.5-25.1.5 22 .5-26.2.5 26.5.5-22.2.5 36.4.5-36 .5 30.8.5-38.3.5 32.7.5-32.2.5 27.2.5-23.9.5 26.2.5-35.3.5 30.9.5-23.8.5 27.4.5-32.9.5 33.8.5-42.4.5 43.9.5-33.5.5 58.2.5-53.1.5 21.6.5-23.5.5 30 .5-32.9.5 34.7.5-32.5.5 28 .5-19.6.5 23.9.5-29.4.5 34.9.5-30.5.5 23.1.5-22.9.5 22.2.5-24.8.5 26.5.5-22.5.5 24.7.5-31.9.5 26.3.5-24.4.5 25.9.5-31 .5 31.8.5-30.6.5 24.2.5-20.6.5 20.8.5-28 .5 29.9.5-35.8.5 39.3.5-33 .5 31.3.5-35.9.5 50.3.5-51.9.5 40.1.5-35.3.5 32.6.5-31.1.5 25.5.5-32.3.5 38.4.5-28.8.5 30.4.5-35.6.5 22.8.5-21.3.5 23.8.5-24 .5 23.6.5-27.4.5 30.9.5-29.7.5 24.8.5-20.2.5 30.3.5-48.2.5 42 .5-27.1.5 26.8.5-31.9.5 32.3.5-22.9.5 23.4.5-23.2.5 32 .5-33.6.5 29.2.5-27.1.5 24.8.5-20.7.5 18.1.5-23.5.5 34.5.5-36.8.5 33.6.5-28.6.5 35 .5-34.8.5 24.4.5-28.7.5 29 .5-27.3.5 29.2.5-37.9.5 35.5.5-28.4.5 26.4.5-22.8.5 24.6.5-27.9.5 32.3.5-28.9.5 29.5.5-30.6.5 29.8.5-36.3.5 37.2.5-26.7.5 26.8.5-30.4.5 28.4.5-31.4.5 31.3.5-28.2.5 38.7.5-36.6.5 23.9.5-28.8.5 22.7.5-22.5.5 22.4.5-26.8.5 26.1.5-34.4.5 37.3.5-22.7.5 26.5.5-28.3.5 25.1.5-24.6.5 27.1.5-40.7.5 40.4.5-23.5.5 22.3.5-33.3.5 30.7.5-23.2.5 32.8.5-35.7.5 27.5.5-29.5.5 31.9.5-25.8.5 30.5.5-40.5.5 45 .5-42.5.5 43.5.5-36.5.5 27.2.5-29.6.5 24.8.5-28.1.5 26.7.5-25.9.5 29.8.5-27.8.5 26.5.5-38.6.5 38.8.5-24.3.5 25.2.5-27.1.5 37.2.5-44.7.5 31.4.5-32.8.5 34.8.5-30.6.5 31.9.5-32.5.5 35.6.5-28.3.5 22.4.5-29.5.5 34.8.5-34.2.5 31.2.5-27.3.5 20.7.5-25.2.5 36.2.5-39.3.5 29.7.5-19.5.5 35.6.5-34.4.5 22 .5-31.5.5 38.9.5-27.9.5 25.7.5-30.7.5 26.5.5-32.4.5 32.5.5-25.5.5 35.6.5-42.9.5 36.9.5-25.4.5 19 .5-18.2.5 23 .5-31.1.5 37.3.5-33.1.5 23.7.5-27.6.5 32.9.5-29.1.5 25.8.5-22.3.5 32.1.5-34.7.5 23 .5-28.9.5 40.2.5-38.3.5 35.2.5-27 .5 30.5.5-32.2.5 23.5.5-22.8.5 25.4.5-22.8.5 31.5.5-35.9.5 23 .5-23.7.5 40.8.5-42.9.5 23.6.5-17.7.5 26.9.5-27.5.5 22.4.5-27 .5 23.6.5-27.2.5 39.2.5-35.7.5 27.5.5-34.3"/>
<path clip-path="url(#cb)" fill="none" stroke="#0072BD" stroke-width="2.4" stroke-linejoin="round" d="M77 398.4l.5-.6.5-.5.5 0 .5.1.5.1.5.2.5.1.5.2.5.2.5.2.5.2.5-.2.5-.3.5-.3.5-.3.5-.3.5-.2.5-.2.5-.1.5-.2.5.3.5.5.5.5.5.6.5.5.5.6.5.6.5.5.5.6.5.2.5-.1.5-.1.5-.1.5-.1.5-.2.5-.2.5-.2.5-.2.5-.1.5.4.5.3.5.3.5.3.5.2.5.2.5.2.5.1.5.1.5-.5.5-.6.5-.5.5-.6.5-.5.5-.6.5-.5.5-.6.5-.6.5 0 .5-.2.5-.5.5-.6.5-.8.5-.9.5-1 .5-1 .5-.9.5-1.1.5-1 .5-.8.5-.5.5-.3.5 0 .5.2.5.6.5.9.5 1.2.5 1.5.5 1.7.5 2 .5 2.1.5 2.2.5 2.3.5 2.4.5 2.4.5 2.4.5 2.3.5 2.3.5 2.1.5 2 .5 1.8.5 1.6.5 1.5.5 1.2.5 1 .5.7.5.5.5.2.5-.2.5-.4.5-.8.5-1.1.5-1.4.5-1.8.5-2.1.5-2.5.5-2.8.5-3.1.5-3.3.5-3.6.5-3.9.5-3.9.5-4.1.5-4.1.5-4 .5-4 .5-3.7.5-3.5.5-3.2.5-2.7.5-2.3.5-1.8.5-1.2.5-.6.5 0 .5.7.5 1.2.5 1.9.5 2.4.5 3 .5 3.4.5 3.8.5 4.2.5 4.5.5 4.6.5 4.8.5 4.8.5 4.8.5 4.7.5 4.6.5 4.3.5 4.1.5 3.8.5 3.4.5 3.1.5 2.7.5 2.3.5 1.9.5 1.5.5 1.1.5.6.5.2.5-.3.5-.7.5-1.2.5-1.6.5-2.1.5-2.6.5-3 .5-3.5.5-3.9.5-4.2.5-4.7.5-4.9.5-5.2.5-5.5.5-5.5.5-5.6.5-5.5.5-5.4.5-5.2.5-4.9.5-4.5.5-3.9.5-3.4.5-2.8.5-2 .5-1.3.5-.5.5.3.5 1.1.5 1.9.5 2.6.5 3.3.5 3.9.5 4.5.5 5 .5 5.3.5 5.6.5 5.8.5 5.9.5 6 .5 5.8.5 5.7.5 5.4.5 5.2.5 4.8.5 4.5.5 4 .5 3.6.5 3.1.5 2.6.5 2.1.5 1.6.5 1.1.5.6.5.1.5-.5.5-.9.5-1.5.5-2.1.5-2.5.5-3.1.5-3.5.5-4.1.5-4.5.5-5 .5-5.3.5-5.7.5-5.9.5-6.2.5-6.2.5-6.3.5-6.3.5-6 .5-5.8.5-5.4.5-4.9.5-4.4.5-3.7.5-2.9.5-2.2.5-1.3.5-.5.5.4.5 1.4.5 2.1.5 3 .5 3.7.5 4.4.5 5 .5 5.5.5 5.8.5 6.2.5 6.4.5 6.5.5 6.5.5 6.3.5 6.2.5 6 .5 5.5.5 5.3.5 4.7.5 4.4.5 3.8.5 3.3.5 2.8.5 2.2.5 1.7.5 1.1.5.6.5 0 .5-.5.5-1.1.5-1.7.5-2.2.5-2.8.5-3.3.5-3.9.5-4.4.5-4.8.5-5.4.5-5.7.5-6 .5-6.4.5-6.6.5-6.6.5-6.7.5-6.6.5-6.5.5-6.1.5-5.7.5-5.2.5-4.6.5-3.8.5-3.1.5-2.3.5-1.3.5-.4.5.5.5 1.4.5 2.3.5 3.2.5 3.9.5 4.7.5 5.3.5 5.8.5 6.2.5 6.5.5 6.8.5 6.8.5 6.8.5 6.7.5 6.4.5 6.3.5 5.8.5 5.5.5 4.9.5 4.5.5 4 .5 3.4.5 2.9.5 2.3.5 1.8.5 1.1.5.6.5 0 .5-.6.5-1.2.5-1.8.5-2.3.5-3 .5-3.5.5-4 .5-4.6.5-5.1.5-5.5.5-6 .5-6.3.5-6.7.5-6.8.5-6.9.5-7 .5-6.8.5-6.7.5-6.3.5-5.9.5-5.4.5-4.7.5-4 .5-3.2.5-2.3.5-1.3.5-.5.5.6.5 1.5.5 2.4.5 3.4.5 4.1.5 4.8.5 5.5.5 6 .5 6.5.5 6.7.5 7 .5 7 .5 7.1.5 6.9.5 6.6.5 6.4.5 6 .5 5.7.5 5.1.5 4.6.5 4.1.5 3.5.5 2.9.5 2.4.5 1.7.5 1.2.5.5.5 0 .5-.6.5-1.3.5-1.8.5-2.5.5-3 .5-3.6.5-4.2.5-4.7.5-5.3.5-5.7.5-6.1.5-6.5.5-6.8.5-7.1.5-7.1.5-7.1.5-7 .5-6.9.5-6.4.5-6.1.5-5.5.5-4.8.5-4.1.5-3.2.5-2.3.5-1.4.5-.4.5.6.5 1.6.5 2.5.5 3.4.5 4.3.5 5 .5 5.6.5 6.2.5 6.6.5 6.9.5 7.1.5 7.2.5 7.2.5 7 .5 6.9.5 6.5.5 6.1.5 5.7.5 5.3.5 4.7.5 4.1.5 3.6.5 3 .5 2.3.5 1.8.5 1.2.5.5.5 0 .5-.7.5-1.3.5-1.9.5-2.5.5-3.1.5-3.7.5-4.3.5-4.8.5-5.4.5-5.8.5-6.3.5-6.7.5-6.9.5-7.2.5-7.2.5-7.3.5-7.1.5-7 .5-6.6.5-6.1.5-5.6.5-4.9.5-4.1.5-3.2.5-2.4.5-1.4.5-.3.5.6.5 1.6.5 2.6.5 3.5.5 4.4.5 5 .5 5.8.5 6.3.5 6.7.5 7 .5 7.3.5 7.3.5 7.3.5 7.2.5 6.9.5 6.6.5 6.2.5 5.8.5 5.3.5 4.8.5 4.2.5 3.6.5 3 .5 2.4.5 1.8.5 1.1.5.6.5-.1.5-.7.5-1.3.5-2 .5-2.6.5-3.1.5-3.8.5-4.4.5-4.9.5-5.4.5-6 .5-6.3.5-6.8.5-7 .5-7.3.5-7.3.5-7.4.5-7.3.5-7 .5-6.7.5-6.2.5-5.6.5-4.9.5-4.2.5-3.3.5-2.3.5-1.4.5-.3.5.6.5 1.7.5 2.7.5 3.5.5 4.4.5 5.2.5 5.8.5 6.4.5 6.8.5 7.2.5 7.3.5 7.4.5 7.4.5 7.2.5 7 .5 6.7.5 6.3.5 5.8.5 5.4.5 4.8.5 4.2.5 3.6.5 3.1.5 2.4.5 1.7.5 1.2.5.5.5-.1.5-.7.5-1.3.5-2 .5-2.6.5-3.2.5-3.9.5-4.4.5-5 .5-5.5.5-6 .5-6.5.5-6.8.5-7.1.5-7.3.5-7.5.5-7.4.5-7.3.5-7.1.5-6.8.5-6.2.5-5.7.5-4.9.5-4.2.5-3.3.5-2.3.5-1.4.5-.3.5.7.5 1.7.5 2.7.5 3.6.5 4.4.5 5.3.5 5.9.5 6.4.5 6.9.5 7.2.5 7.4.5 7.5.5 7.4.5 7.3.5 7.1.5 6.7.5 6.3.5 5.9.5 5.4.5 4.8.5 4.3.5 3.6.5 3.1.5 2.4.5 1.8.5 1.1.5.5.5-.1.5-.7.5-1.4.5-2 .5-2.7.5-3.2.5-3.9.5-4.5.5-5 .5-5.6.5-6.1.5-6.5.5-6.9.5-7.1.5-7.4.5-7.5.5-7.5.5-7.4.5-7.1.5-6.8.5-6.3.5-5.7.5-4.9.5-4.2.5-3.3.5-2.4.5-1.3.5-.3.5.7.5 1.7.5 2.8.5 3.6.5 4.6.5 5.2.5 6 .5 6.5.5 6.9.5 7.3.5 7.4.5 7.6.5 7.4.5 7.4.5 7.1.5 6.8.5 6.3.5 5.9.5 5.4.5 4.9.5 4.2.5 3.7.5 3 .5 2.4.5 1.8.5 1.2.5.5.5-.2.5-.7.5-1.4.5-2.1.5-2.6.5-3.3.5-3.9.5-4.6.5-5 .5-5.7.5-6.1.5-6.5.5-7 .5-7.2.5-7.4.5-7.6.5-7.5.5-7.4.5-7.2.5-6.8.5-6.3.5-5.7.5-5 .5-4.2.5-3.2.5-2.4.5-1.3.5-.3.5.7.5 1.8.5 2.8.5 3.7.5 4.5.5 5.4.5 6 .5 6.5.5 7 .5 7.3.5 7.5.5 7.5.5 7.6.5 7.3.5 7.2.5 6.7.5 6.4.5 6 .5 5.4.5 4.8.5 4.3.5 3.7.5 3 .5 2.4.5 1.8.5 1.1.5.5.5-.1.5-.8.5-1.4.5-2.1.5-2.7.5-3.3.5-4 .5-4.5.5-5.1.5-5.7.5-6.1.5-6.6.5-7 .5-7.3.5-7.4.5-7.6.5-7.6.5-7.4.5-7.2.5-6.8.5-6.3.5-5.7.5-5 .5-4.2.5-3.3.5-2.3.5-1.3.5-.3.5.8.5 1.8.5 2.8.5 3.7.5 4.6.5 5.3.5 6.1.5 6.6.5 7 .5 7.3.5 7.5.5 7.6.5 7.6.5 7.4.5 7.1.5 6.8.5 6.4.5 5.9.5 5.5.5 4.8.5 4.3.5 3.7.5 3 .5 2.4.5 1.8.5 1.1.5.5.5-.2.5-.8.5-1.4.5-2.1.5-2.7.5-3.4.5-4 .5-4.5.5-5.2.5-5.7.5-6.1.5-6.7.5-7 .5-7.3.5-7.4.5-7.6.5-7.6.5-7.5.5-7.2.5-6.8.5-6.3.5-5.8.5-5 .5-4.1.5-3.3.5-2.3.5-1.3.5-.3.5.8.5 1.9.5 2.8.5 3.7.5 4.7.5 5.4.5 6 .5 6.6.5 7.1.5 7.3.5 7.6.5 7.6.5 7.6.5 7.4.5 7.1.5 6.8.5 6.4.5 6 .5 5.4.5 4.9.5 4.2.5 3.7.5 3 .5 2.4.5 1.8.5 1.1.5.5.5-.2.5-.8.5-1.5.5-2.1.5-2.7.5-3.4.5-4 .5-4.6.5-5.2.5-5.7.5-6.2.5-6.6.5-7 .5-7.4.5-7.5.5-7.6.5-7.6.5-7.4.5-7.3.5-6.8.5-6.3.5-5.7.5-5 .5-4.2.5-3.3.5-2.3.5-1.2.5-.3.5.8.5 1.9.5 2.8.5 3.8.5 4.7.5 5.4.5 6.1.5 6.6.5 7.1.5 7.4.5 7.5.5 7.7.5 7.5.5 7.5.5 7.1.5 6.8.5 6.5.5 5.9.5 5.4.5 4.9.5 4.2.5 3.7.5 3 .5 2.4.5 1.7.5 1.2.5.4.5-.2.5-.8.5-1.5.5-2.1.5-2.8.5-3.4.5-4 .5-4.6.5-5.2.5-5.7.5-6.2.5-6.7.5-7 .5-7.4.5-7.5.5-7.6.5-7.6.5-7.5.5-7.2.5-6.9.5-6.3.5-5.7.5-5 .5-4.2.5-3.2.5-2.3.5-1.2.5-.3.5.9.5 1.9.5 2.8.5 3.9.5 4.6.5 5.5.5 6.1.5 6.6.5 7.1.5 7.4.5 7.6.5 7.6.5 7.6.5 7.4.5 7.2.5 6.8.5 6.4.5 6 .5 5.4.5 4.9.5 4.2.5 3.7.5 3 .5 2.3.5 1.8.5 1.1.5.4.5-.2.5-.8.5-1.5.5-2.2.5-2.7.5-3.4.5-4.1.5-4.6.5-5.2.5-5.8.5-6.2.5-6.7.5-7.1.5-7.3.5-7.5.5-7.7.5-7.6.5-7.5.5-7.2.5-6.8.5-6.4.5-5.7.5-5 .5-4.1.5-3.2.5-2.3.5-1.2.5-.2.5.9.5 1.9.5 2.8.5 3.9.5 4.7.5 5.4.5 6.2.5 6.6.5 7.1.5 7.5.5 7.5.5 7.7.5 7.6.5 7.4.5 7.2.5 6.8.5 6.4.5 6 .5 5.4.5 4.8.5 4.3.5 3.6.5 3 .5 2.4.5 1.7.5 1.1.5.4.5-.2.5-.9.5-1.5.5-2.1.5-2.8.5-3.4.5-4.1.5-4.6.5-5.3.5-5.7.5-6.3.5-6.7.5-7.1.5-7.3.5-7.6.5-7.6.5-7.6.5-7.5.5-7.3.5-6.8.5-6.3.5-5.7.5-5 .5-4.1.5-3.2.5-2.3.5-1.2.5-.2.5.9.5 2 .5 2.9.5 3.8.5 4.7.5 5.5.5 6.2.5 6.7.5 7.1.5 7.4.5 7.6.5 7.6.5 7.6.5 7.5.5 7.1.5 6.9.5 6.4.5 5.9.5 5.4.5 4.9.5 4.2.5 3.6.5 3 .5 2.4.5 1.7.5 1.1.5.4.5-.3.5-.8.5-1.6.5-2.1.5-2.8.5-3.5.5-4 .5-4.7.5-5.2.5-5.8.5-6.3.5-6.7.5-7.1.5-7.4.5-7.5.5-7.7.5-7.6.5-7.5.5-7.2.5-6.8.5-6.4.5-5.6.5-5 .5-4.1.5-3.2.5-2.2.5-1.2.5-.2.5.9.5 2 .5 2.9.5 3.9.5 4.7.5 5.5.5 6.2.5 6.7.5 7.1.5 7.4.5 7.6.5 7.7.5 7.6.5 7.4.5 7.2.5 6.8.5 6.4.5 6 .5 5.4.5 4.8.5 4.2.5 3.6.5 3 .5 2.4.5 1.7.5 1 .5.4.5-.2.5-.9.5-1.5.5-2.2.5-2.9.5-3.4.5-4.1.5-4.7.5-5.2.5-5.8.5-6.3.5-6.7.5-7.1.5-7.4.5-7.6.5-7.6.5-7.7.5-7.4.5-7.3.5-6.8.5-6.3.5-5.7.5-4.9.5-4.1.5-3.2.5-2.2.5-1.2.5-.1.5.9.5 2 .5 3 .5 3.9.5 4.7.5 5.5.5 6.2.5 6.7.5 7.2.5 7.4.5 7.6.5 7.7.5 7.6.5 7.4.5 7.2.5 6.8.5 6.4.5 5.9.5 5.4.5 4.8.5 4.2.5 3.6.5 3 .5 2.3.5 1.7.5 1.1.5.4.5-.3.5-.9.5-1.6.5-2.1.5-2.9.5-3.5.5-4 .5-4.7.5-5.3.5-5.8.5-6.3.5-6.8.5-7.1.5-7.3.5-7.6.5-7.7.5-7.6.5-7.5.5-7.2.5-6.8.5-6.3.5-5.7.5-4.9.5-4.1.5-3.2.5-2.2.5-1.1.5-.1.5.9.5 2 .5 3 .5 3.9.5 4.8.5 5.5.5 6.2.5 6.8.5 7.1.5 7.4.5 7.7.5 7.6.5 7.6.5 7.5.5 7.1.5 6.8.5 6.4.5 5.9.5 5.4.5 4.8.5 4.2.5 3.6.5 3 .5 2.3.5 1.7.5 1 .5.4.5-.3.5-.9.5-1.6.5-2.2.5-2.8.5-3.5.5-4.1.5-4.7.5-5.3.5-5.8.5-6.3.5-6.8.5-7.1.5-7.4.5-7.6.5-7.6.5-7.7.5-7.4.5-7.2"/>
<path clip-path="url(#cb)" fill="none" stroke="#0072BD" stroke-width="0.9" stroke-linejoin="round" d="M77 390.8l.2 14.6.3-15.6.3 15 .2-17 .2 19 .3-17.2.3 15.3.2-16.2.2 18.2.3-18.4.3 18.7.2-16.7.2 15.7.3-17.7.3 18.9.2-18.2.2 17.7.3-17.9.3 17.6.2-16.5.2 17.3.3-16.7.3 17 .2-18 .2 15.7.3-17.2.3 19.1.2-19.3.2 19.4.3-18.2.3 15.8.2-16.1.2 17.9.3-17.3.3 15 .2-16.9.2 17.3.3-18.3.3 19.9.2-17.2.2 16.3.3-16.7.3 16 .2-17.6.2 18.8.3-16.1.3 16.1.2-16.9.2 18.1.3-17.2.3 18.9.2-19.6.2 19.2.3-16.7.3 17.2.2-18.4.2 18.4.3-18 .3 18.6.2-15.5.2 15.4.3-17.4.3 16.8.2-15.9.2 15.2.3-17 .3 17.4.2-17.1.2 17.6.3-17.7.3 18.4.2-16.4.2 16.9.3-19.7.3 19.2.2-18.3.2 17.4.3-17.7.3 18.9.2-18.5.2 17.4.3-17.2.3 16.4.2-14.8.2 15.5.3-16.2.3 16.9.2-16.4.2 17.5.3-18 .3 16.3.2-17 .2 19.9.3-18.7.3 16.8.2-15.7.2 16.6.3-18 .3 15.5.2-17.1.2 17.4.3-17.9.3 18.9.2-18.7.2 17.2.3-18 .3 18.7.2-18.9.2 17.7.3-19.3.3 17.2.2-17.9.2 17.4.3-15.1.3 16.1.2-16.7.2 16.1.3-17.1.3 14.7.2-13.3.2 14.9.3-15 .3 12 .2-15 .2 16.4.3-15.7.3 13.9.2-14.6.2 14.6.3-15.8.3 15.5.2-16.7.2 14.6.3-17.6.3 15.7.2-16.8.2 16.1.3-17.3.3 18.4.2-18 .2 16.4.3-17.2.3 15.1.2-14.5.2 14.1.3-12.7.3 12.9.2-10.3.2 10.8.3-9.1.3 9.6.2-9 .2 9.7.3-7.3.3 8.4.2-5.3.2 6 .3-3.9.3 5.7.2-2.9.2 4.9.3-2.7.3 5 .2-2.8.2 4.8.3-2.2.3 5.1.2-2.9.2 5.5.3-3.6.3 5.8.2-3.6.2 6.3.3-5.1.3 8.5.2-6.7.2 9.8.3-8.7.3 10.8.2-10.7.2 14.3.3-12.4.3 14.5.2-14 .2 15.7.3-13.9.3 15.3.2-14.9.2 16.9.3-17.6.3 17.6.2-17.3.2 16.7.3-15 .3 15.5.2-15.6.2 15.4.3-15.7.3 12.9.2-13 .2 12.7.3-12 .3 8.8.2-10.1.2 7.5.3-8.5.3 6.1.2-7.2.2 3.9.3-5.8.3 2.6.2-5.2.2 2.3.3-4.8.3 1.1.2-4.2.2.2.3-3.7.3-.1.2-4 .2.3.3-4.1.3.7.2-5.5.2 1.3.3-5.9.3 3 .2-7.3.2 4 .3-9.2.3 6 .2-10 .2 6.3.3-10.7.3 9.2.2-13.6.2 10.2.3-14.2.3 12.9.2-15.3.2 15.1.3-15.9.3 14.3.2-16.2.2 15.8.3-18 .3 15.9.2-15.4.2 16.9.3-14.7.3 15.3.2-14.1.2 15 .3-12.8.3 14.4.2-10.4.2 12 .3-9.4.3 11.4.2-7.2.2 9.7.3-4.9.3 8.7.2-3.5.2 7.2.3-2 .3 6.1.2-1 .2 5.3.3-.2.3 4.4.2.5.2 4.3.3.5.3 4.2.2.4.2 4.4.3-.3.3 5.1.2-.9.2 6.2.3-2.7.3 7 .2-3.6.2 8.3.3-5.7.3 10 .2-7.9.2 10.5.3-8.8.3 13.1.2-12.5.2 15.7.3-13.8.3 14.3.2-12.5.2 15.7.3-14.9.3 15.5.2-17 .2 18.4.3-16.3.3 15.5.2-17.3.2 16.1.3-16.7.3 16.1.2-14.4.2 12.9.3-15.4.3 12.6.2-13.9.2 10.4.3-10.8.3 7 .2-9.8.2 5.8.3-8.8.3 4.3.2-7.7.2 2.3.3-5.5.3.6.2-5.1.2 0 .3-4.6.3-.6.2-4.6.2-.5.3-5 .3-.3.2-5.3.2-.1.3-6 .3.9.2-7.1.2 2.2.3-8.1.3 3.1.2-9 .2 4.9.3-10.9.3 7.7.2-12 .2 8.4.3-13.5.3 10.4.2-15.5.2 13.5.3-15.1.3 12.4.2-15.4.2 13.8.3-15.6.3 15.4.2-16.1.2 15.9.3-16.3.3 17.4.2-16.5.2 17.6.3-15.2.3 15.9.2-12.2.2 14 .3-9.9.3 14 .2-8.6.2 11.3.3-6.5.3 11 .2-5.2.2 9.1.3-2.2.3 7.5.2-1.7.2 6.9.3-.4.3 5.4.2.8.2 5.2.3.8.3 4.9.2.9.2 4.9.3.6.3 5.1.2.2.2 5.5.3-.6.3 6.3.2-1.9.2 7.3.3-3.8.3 8.5.2-5 .2 10.2.3-8.1.3 11.8.2-8.6.2 12.7.3-10.5.3 12 .2-11.8.2 16.2.3-14.7.3 16.8.2-16.7.2 15.7.3-14.1.3 15.2.2-15 .2 16 .3-18.2.3 15 .2-14.2.2 13.7.3-15 .3 11.7.2-13 .2 10.1.3-11.8.3 9.4.2-11.6.2 6.4.3-8.8.3 4.2.2-7.7.2 3.4.3-7.1.3 1.7.2-6.4.2.8.3-5.5.3-.5.2-5.1.2-.8.3-5.1.3-1.1.2-5.2.2-.9.3-5.6.3-.5.2-6 .2.4.3-7.3.3 1.4.2-7.7.2 3 .3-9.7.3 4.3.2-10.5.2 6.5.3-12.2.3 8.6.2-14.8.2 11.9.3-14.9.3 12.2.2-16 .2 14.4.3-16.2.3 12.5.2-15.5.2 17.5.3-17.4.3 17 .2-16.9.2 17.5.3-16.2.3 16.3.2-13.5.2 16.2.3-12.6.3 14.1.2-9.8.2 13.8.3-7.5.3 11.1.2-5.6.2 10.3.3-4.1.3 8.5.2-2.1.2 7.7.3-1 .3 6.8.2.2.2 5.9.3.6.3 5.6.2 1.4.2 5 .3 1.4.3 5 .2 1.1.2 5.1.3.5.3 5.8.2-.9.2 6.8.3-2.3.3 7.8.2-3.5.2 9.1.3-5 .3 9.3.2-6.7.2 11.5.3-9.4.3 13.5.2-10.9.2 14.4.3-13.1.3 15.5.2-14 .2 14.2.3-13.5.3 14.7.2-14.7.2 15.7.3-17.1.3 18.3.2-18.4.2 16.5.3-15.5.3 14.7.2-17.2.2 14.3.3-15 .3 11.7.2-13.2.2 9.1.3-11.6.3 6.3.2-10.4.2 5.9.3-8.5.3 3.2.2-7.7.2 1.7.3-6.5.3.6.2-6 .2-.6.3-5.2.3-1.1.2-5.2.2-1.2.3-5.2.3-1.3.2-5.6.2-1 .3-6.2.3.2.2-7.4.2 1 .3-8.3.3 2.8.2-9.9.2 4.5.3-10 .3 6.3.2-12 .2 6.7.3-13.7.3 12.1.2-15.4.2 12 .3-17.1.3 13.4.2-14.2.2 12.7.3-16.5.3 17.9.2-16.8.2 15 .3-13.5.3 15.1.2-15.5.2 16.7.3-13.3.3 16.7.2-13.4.2 14.8.3-9.6.3 14.1.2-7.9.2 12.5.3-7.4.3 11.2.2-3.9.2 9.1.3-1.7.3 7.3.2-.6.2 6.7.3.2.3 6.6.2.7.2 5.9.3 1.2.3 5.4.2 1.3.2 5.3.3 1.1.3 5.4.2.3.2 5.9.3-.1.3 6.3.2-1.4.2 7.7.3-3.5.3 9.2.2-5.1.2 10.1.3-6.7.3 11.1.2-9.8.2 13.6.3-10 .3 14 .2-13.2.2 15.3.3-15.3.3 17.1.2-15.7.2 16.3.3-16.3.3 17.1.2-16.7.2 16.7.3-18.1.3 15.7.2-14.4.2 12.4.3-15.5.3 13.6.2-14.3.2 11.5.3-13.1.3 7.7.2-11.2.2 7.5.3-9.6.3 3.8.2-8.6.2 3.1.3-6.7.3 1.2.2-6.5.2.3.3-6.1.3-.3.2-5.6.2-1.2.3-5.4.3-1.3.2-5.6.2-1.1.3-6.1.3-.7.2-6.3.2-.3.3-7.4.3 1.5.2-8.9.2 2.4.3-9 .3 3.7.2-11.1.2 6.3.3-12.8.3 8.3.2-13.6.2 11.4.3-16.6.3 13.1.2-15.4.2 12.9.3-17.1.3 14.6.2-14.5.2 14 .3-14.8.3 15.7.2-16.6.2 16.8.3-12.8.3 16 .2-13.6.2 16.2.3-12.8.3 15.3.2-10.1.2 12.3.3-6.5.3 11.1.2-5.8.2 12 .3-4.6.3 9.7.2-2.3.2 7.9.3-.8.3 7.2.2.5.2 6.1.3 1.2.3 5.4.2 1.5.2 5.7.3 1.2.3 5.7.2 1 .2 5.5.3.8.3 5.7.2-.5.2 6.7.3-1.3.3 8 .2-3.8.2 8.8.3-5.1.3 10.6.2-6.3.2 10.5.3-8.7.3 12.4.2-10.1.2 14 .3-13 .3 15.5.2-13.4.2 16.6.3-15.7.3 16.8.2-18.3.2 18.7.3-16.8.3 15.4.2-17.6.2 17.4.3-17.4.3 13.4.2-14.6.2 13.8.3-15.2.3 10.6.2-13.5.2 8.9.3-10.2.3 6.3.2-9.8.2 4.4.3-9.2.3 3.5.2-7.5.2 1.2.3-6.5.3-.2.2-5.7.2-.7.3-5.8.3-1 .2-5.4.2-1.5.3-5.8.3-1.4.2-6 .2-1 .3-6.4.3-.2.2-7 .2.8.3-8.5.3 2.1.2-9 .2 3.9.3-11.7.3 6.2.2-12.1.2 8.6.3-13.4.3 10.6.2-16.4.2 11.3.3-15 .3 14.4.2-18.3.2 17 .3-18.3.3 16.7.2-15.9.2 17.1.3-15.8.3 16.9.2-15.1.2 14.7.3-13 .3 16 .2-11.7.2 14.5.3-9.5.3 13.5.2-7.3.2 12.7.3-5.9.3 10.2.2-4 .2 9.6.3-2.1.3 8.1.2-.4.2 7.1.3.8.3 6.1.2 1 .2 5.9.3 1.6.3 5.5.2 1.7.2 5.3.3 1.4.3 5.3.2.8.2 6.3.3-.4.3 6.9.2-1.8.2 7.3.3-3.3.3 9.1.2-5.1.2 10.8.3-6.8.3 11.1.2-7.9.2 12.1.3-9.7.3 12.8.2-13.2.2 15.7.3-13.4.3 16.2.2-15.2.2 16.8.3-16.4.3 14.7.2-14.2.2 14.1.3-15.2.3 16.1.2-17.1.2 14.7.3-17.2.3 13.2.2-13.5.2 10.6.3-13 .3 8 .2-11.6.2 6.6.3-10.2.3 4.9.2-8.5.2 2.7.3-7.1.3 1.1.2-6.4.2-.1.3-6 .3-.9.2-5.3.2-1.5.3-5.5.3-1.6.2-5.6.2-1.3.3-6.3.3-.7.2-6.8.2-.5.3-7.4.3 1.3.2-8.2.2 1.7.3-9.6.3 3.8.2-10.5.2 5.4.3-11.8.3 8.1.2-13.8.2 9.3.3-15.2.3 12 .2-15.2.2 12.8.3-15.9.3 16.9.2-17.7.2 14.7.3-16.1.3 16 .2-15.7.2 17.3.3-15.1.3 16.8.2-13.7.2 16.9.3-12.4.3 15.2.2-10.5.2 15 .3-8.9.3 13.2.2-5.5.2 10.2.3-3.9.3 10.1.2-2.3.2 8 .3-.2.3 6.9.2.6.2 6.5.3 1.5.3 5.5.2 1.6.2 5.8.3 1.3.3 5.5.2 1.6.2 5.6.3.4.3 6.4.2-.1.2 6.4.3-1.6.3 8 .2-3.3.2 9.7.3-6.2.3 11 .2-6.6.2 11.7.3-10.1.3 13.9.2-11.4.2 13.5.3-11.5.3 14.1.2-13.8.2 16.2.3-14 .3 14.7.2-15 .2 17.1.3-16.2.3 14.6.2-14.7.2 13.5.3-15.4.3 13 .2-15.6.2 12.6.3-12.3.3 9.6.2-13.5.2 8.8.3-11.5.3 6.5.2-10.1.2 4.8.3-8.9.3 2.8.2-6.9.2.6.3-6.1.3-.4.2-5.7.2-.9.3-5.9.3-1.1.2-5.8.2-1.6.3-5.5.3-1.6.2-6.1.2-.8.3-6.9.3-.5.2-7.2.2.6.3-8.5.3 2.1.2-8.9.2 3.2.3-10.1.3 5.3.2-12.2.2 9 .3-15.9.3 10.6.2-14.7.2 12.2.3-15.9.3 14.4.2-16.2.2 13.7.3-15.9.3 16.2.2-18.4.2 17 .3-14.8.3 17.7.2-16.2.2 16.6.3-12.2.3 15.6.2-12.4.2 15.6.3-10.3.3 13.9.2-7 .2 12.2.3-6.1.3 10.3.2-3.7.2 9.9.3-1.7.3 8.1.2-.7.2 7.1.3.9.3 6.4.2 1.3.2 5.9.3 1.6.3 5.4.2 1.7.2 5.7.3 1 .3 5.9.2.7.2 6.2.3-.4.3 7 .2-1.7.2 8.2.3-3.8.3 9.8.2-5.8.2 10.6.3-7.3.3 11.5.2-8.7.2 14.6.3-11.4.3 13 .2-12.5.2 16.5.3-15.6.3 16.2.2-13.2.2 13.9.3-15.8.3 17.9.2-15.8.2 14.8.3-15.7.3 12.9.2-15.2.2 14.5.3-14.1.3 11.5.2-14.4.2 9.9.3-12.7.3 8.7.2-11.8.2 6.8.3-10.2.3 4.9.2-9 .2 2.7.3-7.2.3 1.2.2-7 .2.2.3-6.5.3-.6.2-5.7.2-1.7.3-5.5.3-1.4.2-6 .2-1.6.3-5.8.3-1.3.2-6.7.2-.5.3-7.1.3.7.2-8.9.2 3.1.3-10 .3 3.4.2-11.5.2 7.3.3-13.7.3 9.5.2-13.8.2 8.3.3-15.3.3 12.5.2-14.4.2 14.2.3-18.6.3 14.7.2-14.6.2 15.4.3-15.8.3 15.7.2-16.8.2 16.4.3-13.7.3 17.4.2-14.7.2 16.6.3-11.7.3 16.1.2-10 .2 12.8.3-8.1.3 12.9.2-5.1.2 10.1.3-3.7.3 10.5.2-2.2.2 7.9.3.1.3 6.9.2.7.2 6.6.3 1.1.3 6 .2 1.6.2 5.6.3 1.8.3 5.7.2 1.2.2 5.8.3.4.3 6.6.2-.4.2 6.5.3-1.5.3 8.7.2-3.4.2 9.2.3-6.3.3 11.6.2-8.2.2 13.2.3-9.4.3 12.1.2-9.9.2 14.7.3-12.8.3 16.3.2-15.4.2 16.1.3-14.5.3 14.9.2-16.5.2 17.5.3-17 .3 16.6.2-16.9.2 15 .3-16.8.3 14.8.2-15.3.2 11.7.3-14 .3 11.1.2-12.4.2 7 .3-11.3.3 6.6.2-10.1.2 5.1.3-9.3.3 3.3.2-7.6.2 1.1.3-6.7.3.1.2-6.2.2-1 .3-5.7.3-1.4.2-5.7.2-1.7.3-5.6.3-1.9.2-5.9.2-1.2.3-6.9.3 0 .2-7.4.2.6.3-8.4.3 2.5.2-10.1.2 3.7.3-11.4.3 6.9.2-13.7.2 8 .3-12.9.3 9.8.2-15.9.2 12.3.3-15.3.3 13.8.2-17 .2 16.8.3-16.9.3 13.5.2-16.3.2 17.6.3-16 .3 17 .2-14.8.2 16.5.3-11.7.3 15.6.2-12.7.2 15.2.3-10.4.3 15.1.2-8.2.2 11.6.3-4.9.3 11.1.2-4.1.2 10.2.3-2.2.3 8.1.2.1.2 7.2.3.6.3 6.4.2 1.3.2 6.1.3 1.4.3 6 .2 1.5.2 5.6.3 1.5.3 5.6.2.6.2 6.7.3-1 .3 7.2.2-1.8.2 8.3.3-3.1.3 9.6.2-5.7.2 10 .3-6.1.3 12.3.2-10.2.2 12.8.3-9.7.3 13.3.2-11.3.2 13.6.3-12.3.3 16.2.2-17.2.2 18.1.3-16.5.3 14.6.2-15.4.2 15.7.3-17.3.3 15.5.2-15.3.2 15.1.3-16.5.3 12 .2-14.2.2 10.1.3-11.4.3 7.1.2-11 .2 6.3.3-9.9.3 4.4.2-9 .2 2.5.3-7.5.3 1.2.2-6.3.2-.5.3-5.9.3-1 .2-5.6.2-1.5.3-5.8.3-1.7.2-5.8.2-1.5.3-6.3.3-1.2.2-6.4.2-.7.3-7.3.3 1.2.2-9.2.2 2.8.3-10.6.3 4.7.2-12.4.2 7.9.3-13.3.3 7.1.2-12.3.2 9.1.3-14.2.3 11.4.2-16.8.2 15.2.3-17.3.3 16.4.2-18.1.2 17.3.3-17.2.3 16.7.2-15.7.2 17.6.3-15.7.3 15.8.2-12.6.2 15.6.3-11 .3 14.7.2-9.8.2 14.2.3-8.2.3 12.3.2-4.9.2 10.5.3-3 .3 9 .2-1.9.2 8.2.3.1.3 7.4.2.5.2 6.3.3 1.3.3 6.2.2 1.6.2 5.7.3 1.7.3 5.7.2 1.1.2 5.8.3.8.3 6.4.2-.5.2 7.5.3-2.3.3 8.7.2-3.8.2 8.8.3-4.7.3 10.1.2-5.9.2 11.5.3-9.2.3 13.8.2-11.4.2 13 .3-10.5.3 15.2.2-15.2.2 17.6.3-17.7.3 18.4.2-17.3.2 15.5.3-15.6.3 14.9.2-14.6.2 13.2.3-13.8.3 11.8.2-15.3.2 12.3.3-12.9.3 9.9.2-12.3.2 7.3.3-10.5.3 5.6.2-9.6.2 3.9.3-8.6.3 2.8.2-7.6.2 1 .3-6.7.3.1.2-6.4.2-.9.3-5.6.3-1.8.2-5.5.2-1.8.3-5.6.3-1.7.2-6.3.2-.7.3-7.2.3-.3.2-7.5.2.7.3-8.5.3 2.3.2-9.7.2 4.2.3-11.4.3 6.2.2-13.2.2 8.8.3-15.5.3 10.9.2-14.3.2 10.9.3-16 .3 15.6.2-16.9.2 14.4.3-16 .3 15.3.2-16.1.2 17.5.3-17.5.3 16.4.2-12.7.2 16.1.3-14.6.3 16.5.2-12.1.2 16.7.3-9.9.3 12.5.2-7.2.2 13.2.3-6.3.3 10.9.2-3.3.2 10.1.3-1.7.3 8.3.2-.8.2 7.1.3.8.3 6.7.2 1.4.2 5.7.3 1.9.3 5.8.2 1.7.2 5.5.3 1.3.3 5.9.2.8.2 6.4.3-.7.3 7.1.2-2 .2 8.3.3-3.6.3 9.9.2-5.9.2 10.9.3-7.6.3 12.3.2-9.2.2 14.5.3-12.5.3 14.7.2-11.6.2 15.7.3-15.8.3 17.8.2-16.1.2 15.7.3-14.7.3 15 .2-16.6.2 16.9.3-16 .3 15.1.2-18.3.2 14 .3-15.1.3 12.3.2-13.9.2 9.7.3-11.6.3 8.7.2-11.9.2 5.6.3-9.6.3 4.4.2-8.7.2 2.2.3-7.2.3 1 .2-6.5.2-.3.3-6.2.3-.9.2-5.9.2-1.4.3-5.6.3-1.9.2-5.8.2-1.6.3-6.3.3-.8.2-7.3.2-.1.3-7.9.3 1 .2-8.9.2 3.2.3-10.7.3 4.5.2-12.2.2 7.6.3-12.5.3 7.2.2-12.9.2 8.4.3-14.8.3 11.8.2-15.2.2 13.2.3-16.7.3 16.6.2-16.5.2 15.7.3-15.7.3 14.9.2-15.7.2 17.9.3-15.7.3 16 .2-13.3.2 16.9.3-10.6.3 14.8.2-10.5.2 13.8.3-7.7.3 12.4.2-5 .2 11.1.3-3.8.3 10.1.2-2.3.2 8.6.3-.6.3 7.2.2 1 .2 6.2.3 1.7.3 5.7.2 1.9.2 5.6.3 1.9.3 5.4.2 1.4.2 5.7.3 1.1.3 6 .2-.4.2 6.9.3-1.7.3 8.1.2-3.6.2 9.4.3-5.2.3 11.3.2-7.2.2 10.9.3-9.3.3 13.8.2-10.5.2 13.8.3-13.3.3 16.9.2-14.8.2 17.8.3-17.5.3 16.8.2-14.9.2 15.5.3-16.1.3 16.3.2-16.8.2 15.2.3-17.6.3 13.9.2-14.2.2 11.2.3-12.5.3 9.3.2-12 .2 7 .3-10.5.3 6.3.2-10.7.2 4.6.3-8.9.3 2.9.2-7.9.2.8.3-6.6.3-.3.2-5.8.2-1.3.3-5.5.3-1.6.2-5.6.2-1.9.3-5.9.3-1.4.2-6.5.2-1.2.3-6.9.3 0 .2-7.8.2.9.3-8.4.3 2.2.2-9.9.2 4.8.3-12.1.3 6.2.2-13.4.2 10 .3-15 .3 10.6.2-16.5.2 13.6.3-17 .3 14.8.2-16 .2 14.9.3-16.5.3 15.1.2-15.9.2 17.1.3-16.6.3 16.1.2-13 .2 15.3.3-14 .3 17.3.2-12.6.2 15.3.3-8.1.3 12 .2-7.6.2 12.6.3-5.1.3 11.2.2-3.6.2 9.4.3-1.6.3 8.5.2-.4.2 7.4.3.6.3 6.4.2 1.6.2 6 .3 1.8.3 5.4.2 1.9.2 5.5.3 1.6.3 5.7.2.7.2 6.4.3-.7.3 7.1.2-1.7.2 8.1.3-3.1.3 9.5.2-5 .2 9.9.3-7.5.3 13 .2-9.3.2 12.3.3-9.7.3 14.1.2-12.1.2 13.8.3-14.4.3 16.7.2-15.6.2 17 .3-15.2.3 14.8.2-15.9.2 15.6.3-16.4.3 15.6.2-16.4.2 13.4.3-15.3.3 12.5.2-13.6.2 8.7.3-12.5.3 8 .2-10.6.2 5.9.3-10.2.3 5 .2-8.7.2 2 .3-7 .3.9.2-6.8.2-.4.3-5.9.3-1.1.2-5.8.2-1.6.3-5.7.3-1.8.2-5.9.2-1.6.3-5.9.3-1.4.2-7 .2-.3.3-7.8.3 1.3.2-8.6.2 2.7.3-11 .3 5.1.2-12.3.2 6.2.3-12.7.3 9.2.2-13.6.2 10 .3-15.5.3 11 .2-15.9.2 13.7.3-17.1.3 15.8.2-14.6.2 13.6.3-14.1.3 16.1.2-17.2.2 18.4.3-16.5.3 18.5.2-14.6.2 17.5.3-13 .3 15.3.2-9.7.2 13.3.3-5.6.3 11.9.2-6 .2 11.6.3-4.3.3 10.1.2-1.9.2 8 .3-.3.3 7.7.2.5.2 6.8.3 1.3.3 5.8.2 2.1.2 5.5.3 1.7.3 5.7.2 1.3.2 6 .3.6.3 6.1.2-.3.2 6.9.3-1.3.3 7.9.2-3.8.2 10.2.3-5.1.3 10.9.2-7.6.2 11.1.3-8.8.3 13.6.2-12.1.2 14.9.3-12.8.3 15.5.2-14.7.2 17.5.3-16.6.3 16.1.2-15.1.2 17.6.3-17.5.3 15.2.2-17 .2 16.2.3-16.3.3 14 .2-16 .2 13.2.3-14 .3 10.1.2-14.4.2 9.2.3-10.7.3 5.7.2-9.9.2 4.1.3-8.8.3 2.6.2-7.5.2.7.3-7 .3 0 .2-5.8.2-1.3.3-5.8.3-1.5.2-5.7.2-1.8.3-5.9.3-1.6.2-6.1.2-1.4.3-6.8.3.1.2-8.1.2 1.4.3-9.3.3 2.5.2-9.8.2 4.6.3-12.8.3 7.7.2-14.3.2 10 .3-14.4.3 8.8.2-13.3.2 11.3.3-16.7.3 14.8.2-16.6.2 14.7.3-15.6.3 15.7.2-16.7.2 15.6.3-14.6.3 17.5.2-15.9.2 17.9.3-14.7.3 17.3.2-11.3.2 13.8.3-8.8.3 13.4.2-7.2.2 12 .3-4.9.3 10.3.2-2.8.2 9.7.3-2 .3 8.2.2 0 .2 6.7.3.8.3 6.8.2 1.3.2 5.9.3 1.9.3 5.8.2 1.5.2 5.7.3 1.4.3 5.9.2.8.2 6.1.3-.4.3 7.6.2-2.6.2 8.4.3-3.1.3 9.7.2-5.5.2 10.7.3-8 .3 13.1.2-10.3.2 14.4.3-12.1.3 15.5.2-14.4.2 17.1.3-15.3.3 16.8.2-16.4.2 17.3.3-15.7.3 16.5.2-16.7.2 15.3.3-16 .3 15.3.2-18.1.2 15.3.3-16.2.3 13.1.2-14.8.2 10.8.3-12.4.3 8.1.2-11.6.2 5.1.3-9 .3 3.9.2-8.7.2 2.6.3-7.4.3.3.2-6.5.2-.1.3-6.2.3-1.1.2-5.8.2-1.5.3-5.6.3-1.8.2-6.1.2-1.5.3-6.3.3-1.2.2-6.8.2 0 .3-7.6.3 1.1.2-9.8.2 3.1.3-9.6.3 3.3.2-10.5.2 6.2.3-13.1.3 8.6.2-15.1.2 11.3.3-14.8.3 11.8.2-16.7.2 14.1.3-16.8.3 14.2.2-16.6.2 17.4.3-16 .3 14.9.2-14.1.2 15.2.3-13.3.3 16.6.2-12.8.2 15.9.3-12.3.3 15.6.2-9.4.2 13.6.3-6.9.3 11.3.2-4.5.2 11.2.3-3.4.3 9.2.2-1.9.2 8.7.3-.4.3 7.2.2.7.2 6.5.3 1.4.3 6 .2 1.9.2 5.5.3 1.8.3 5.5.2 1.5.2 5.7.3.9.3 6.3.2-.4.2 7.1.3-1.6.3 8.1.2-3.4.2 9.5.3-6.4.3 11.9.2-7.1.2 10.7.3-9.4.3 13.6.2-11.4.2 16.6.3-13.1.3 15.3.2-15.8.2 16.4.3-16 .3 16.1.2-14.8.2 17.5.3-17.5.3 15.5.2-16.5.2 15.6.3-16.4.3 13.1.2-15.7.2 12.4.3-12.8.3 10 .2-13.5.2 9.1.3-12.1.3 5.5.2-8.7.2 3.4.3-8.3.3 2.5.2-8.1.2 1.1.3-6.8.3.1.2-6.2.2-1.1.3-5.9.3-1.4.2-6 .2-1.8.3-5.8.3-1.6.2-5.9.2-1.2.3-7.3.3.1.2-8.2.2 1.4.3-9.5.3 3.4.2-10.3.2 3.9.3-11.7.3 6.8.2-12.8.2 9.3.3-15.8.3 11.5.2-15.9.2 13.4.3-18.2.3 16.2.2-18.7.2 16.2.3-16.3.3 15.3.2-16 .2 16.6.3-14.9.3 15.7.2-13.9.2 15.9.3-12.4.3 16.9.2-12.2.2 13.8.3-9.2.3 14.3.2-6.7.2 11.6.3-5.2.3 11 .2-3 .2 9.4.3-1.7.3 8.4.2-.3.2 7.2.3.7.3 6.2.2 1.7.2 6.1.3 1.5.3 5.9.2 1.7.2 5.6.3 1.3.3 6 .2.3.2 6.8.3-.8.3 7 .2-1.9.2 8.2.3-3.5.3 9.9.2-5.6.2 10.4.3-6.2.3 11.1.2-8.1.2 12.4.3-12.3.3 16.5.2-14.5.2 15.6.3-14.2.3 17.3.2-15.3.2 16.4.3-16.2.3 15.5.2-16.8.2 14.9.3-15.5.3 15.3.2-15.5.2 13.6.3-14.8.3 10.5.2-12.8.2 9.2.3-11.7.3 8 .2-11.4.2 5.9.3-10.4.3 4.2.2-8.9.2 3.1.3-8.1.3.9.2-6.6.2-.1.3-6.2.3-1.2.2-5.4.2-1.8.3-5.6.3-2 .2-5.8.2-1.4.3-6.2.3-1.2.2-7.3.2-.2.3-7.4.3.9.2-8.9.2 2.7.3-10 .3 4.3.2-11.9.2 6.4.3-12.6.3 7.4.2-12.5.2 9.2.3-14.5.3 11.1.2-14.7.2 13.9.3-16.3.3 14.3.2-15.1.2 15 .3-16.5.3 15.8.2-14.4.2 15 .3-13 .3 15.1.2-11.7.2 15.5.3-9.9.3 14.5.2-9.7.2 13.1.3-6.5.3 11.2.2-4.8.2 10.7.3-2.7.3 8.7.2-1.2.2 7.9.3-.1.3 7.5.2 1 .2 6.1.3 1.8.3 5.9.2 1.6.2 5.7.3 1.8.3 5.8.2 1.3.2 5.8.3.7.3 6.4.2-.3.2 7.1.3-2.5.3 8.4.2-2.8.2 9 .3-6 .3 11.1.2-6.9.2 11.4.3-9.5.3 14.1.2-12 .2 16.5.3-14.3.3 16.6.2-16.3.2 17.6.3-15.8.3 17.3.2-16.8.2 16.7.3-18.3.3 17.1.2-17.4.2 14.7.3-14.3.3 13.9.2-16.6.2 12.1.3-14.3.3 9.7.2-11.1.2 8 .3-11.4.3 6.1.2-10.2.2 4 .3-9.1.3 2.2.2-7.1.2.9.3-6.9.3-.1.2-6.3.2-1.1.3-5.6.3-1.8.2-5.5.2-1.7.3-5.9.3-1.7.2-6.1.2-1.4.3-6.7.3-.3.2-8.2.2 1.3.3-9 .3 3.4.2-11.2.2 4.7.3-10.9.3 5.5.2-11.9.2 8.9.3-14.7.3 9.7.2-14.9.2 13 .3-18 .3 14.4.2-16.9.2 15.7.3-14.8.3 15.5.2-16.7.2 15.4.3-15.4.3 16.2.2-12.9.2 15.4.3-12.8.3 17.2.2-12.2.2 15.1.3-8.7.3 12.8.2-6.6.2 12.3.3-5.2.3 10.1.2-3.3.2 10 .3-1.6.3 7.8.2.1.2 7.2.3 1.1.3 6 .2 1.8.2 5.7.3 2 .3 5.5.2 1.8.2 5.9.3 1.1.3 5.9.2.6.2 6.2.3-.2.3 7.5.2-2.6.2 8.2.3-3 .3 9.5.2-5.7.2 11.6.3-7.6.3 11.3.2-10 .2 13.4.3-9.9.3 13.8.2-13.6.2 17.4.3-15.5.3 17.4.2-15.2.2 14.9.3-14.5.3 15.2.2-15.6.2 15.3.3-17 .3 13.9.2-15.5.2 14.6.3-14.7.3 11.3.2-13.7.2 9.6.3-13.8.3 8 .2-10.2.2 6 .3-10.2.3 3.6.2-8.4.2 2.8.3-7.6.3.6.2-6.8.2-.1.3-5.8.3-1.4.2-5.6.2-1.7.3-5.6.3-1.8.2-6 .2-1.7.3-6.2.3-.9.2-7.3.2.4.3-8.7.3 1.6.2-9.1.2 2.4"/>
<path clip-path="url(#cb)" fill="none" stroke="#D95319" stroke-width="2.4" stroke-linejoin="round" d="M77 401.7l.5.3.5.2.5.3.5.2.5.2.5 0 .5-.5.5-.5.5-.5.5-.5.5-.5.5-.6.5-.5.5-.6.5-.5.5.1.5.1.5.1.5.1.5.1.5.1.5.2.5.1.5.2.5-.4.5-.4.5-.3.5-.3.5-.3.5-.3.5-.2.5-.3.5-.2.5.4.5.5.5.5.5.5.5.5.5.6.5.5.5.6.5.6.5.1.5-.1.5 0 .5-.1.5-.1.5-.2.5-.1.5-.2.5-.1.5.1.5.4.5.3.5.4.5.3.5.3.5 1 .5.9.5.7.5.5.5 0 .5-.1.5-.3.5-.4.5-.6.5-.7.5-1 .5-1.2.5-1.3.5-1.4.5-1.5.5-1.7.5-1.8.5-1.9.5-1.9.5-1.9.5-1.8.5-1.7.5-1.6.5-1.3.5-1.1.5-.8.5-.4.5 0 .5.4.5.8.5 1.1.5 1.6.5 1.9.5 2.2.5 2.5.5 2.7.5 3 .5 3.1.5 3.2.5 3.2.5 3.2.5 3.2.5 3.1.5 2.9.5 2.8.5 2.6.5 2.4.5 2.1.5 1.9.5 1.6.5 1.3.5 1 .5.6.5.3.5 0 .5-.4.5-.7.5-1.2.5-1.5.5-1.9.5-2.3.5-2.6.5-3 .5-3.4.5-3.7.5-4 .5-4.2.5-4.4.5-4.5.5-4.6.5-4.6.5-4.5.5-4.4.5-4.1.5-3.8.5-3.3.5-2.9.5-2.4.5-1.7.5-1.1.5-.5.5.2.5.9.5 1.6.5 2.3.5 2.8.5 3.4.5 3.9.5 4.3.5 4.6.5 4.9.5 5.1.5 5.2.5 5.2.5 5.2.5 5 .5 4.8.5 4.6.5 4.3.5 4 .5 3.6.5 3.2.5 2.8.5 2.4.5 1.9.5 1.4.5 1.1.5.5.5.1.5-.4.5-.9.5-1.4.5-1.8.5-2.3.5-2.8.5-3.3.5-3.7.5-4.2.5-4.6.5-4.9.5-5.2.5-5.5.5-5.7.5-5.8.5-5.8.5-5.8.5-5.6.5-5.3.5-5 .5-4.5.5-4 .5-3.4.5-2.7.5-2 .5-1.1.5-.4.5.5.5 1.3.5 2.1.5 2.8.5 3.5.5 4.2.5 4.7.5 5.2.5 5.6.5 5.9.5 6 .5 6.1.5 6.1.5 6 .5 5.8.5 5.6.5 5.3.5 4.9.5 4.5.5 4 .5 3.6.5 3.1.5 2.6.5 2.1.5 1.5.5 1.1.5.5.5-.1.5-.5.5-1.1.5-1.6.5-2.2.5-2.7.5-3.2.5-3.8.5-4.2.5-4.7.5-5.1.5-5.5.5-5.9.5-6.1.5-6.3.5-6.4.5-6.4.5-6.3.5-6.2.5-5.8.5-5.4.5-5 .5-4.3.5-3.6.5-2.9.5-2.1.5-1.2.5-.3.5.6.5 1.5.5 2.3.5 3.2.5 3.9.5 4.5.5 5.2.5 5.7.5 6 .5 6.4.5 6.5.5 6.6.5 6.5.5 6.5.5 6.2.5 6 .5 5.6.5 5.2.5 4.8.5 4.3.5 3.8.5 3.3.5 2.7.5 2.2.5 1.6.5 1.1.5.5.5-.1.5-.7.5-1.2.5-1.8.5-2.3.5-2.9.5-3.5.5-4 .5-4.5.5-5 .5-5.4.5-5.9.5-6.2.5-6.5.5-6.6.5-6.8.5-6.8.5-6.6.5-6.5.5-6.1.5-5.7.5-5.1.5-4.6.5-3.8.5-3 .5-2.1.5-1.2.5-.3.5.7.5 1.6.5 2.5.5 3.3.5 4.1.5 4.8.5 5.5.5 5.9.5 6.4.5 6.6.5 6.8.5 6.9.5 6.9.5 6.7.5 6.5.5 6.2.5 5.9.5 5.4.5 5 .5 4.4.5 3.9.5 3.4.5 2.8.5 2.3.5 1.6.5 1.1.5.5.5-.2.5-.7.5-1.2.5-1.9.5-2.5.5-3 .5-3.6.5-4.2.5-4.7.5-5.2.5-5.7.5-6.1.5-6.4.5-6.7.5-6.9.5-7 .5-7 .5-6.9.5-6.7.5-6.3.5-5.9.5-5.3.5-4.6.5-3.9.5-3.1.5-2.1.5-1.3.5-.2.5.7.5 1.7.5 2.6.5 3.4.5 4.3.5 5 .5 5.6.5 6.2.5 6.5.5 6.9.5 7 .5 7.1.5 7 .5 6.9.5 6.7.5 6.4.5 6 .5 5.6.5 5.1.5 4.5.5 4 .5 3.5.5 2.8.5 2.3.5 1.7.5 1.1.5.4.5-.1.5-.7.5-1.4.5-1.9.5-2.6.5-3.1.5-3.8.5-4.3.5-4.8.5-5.3.5-5.9.5-6.2.5-6.6.5-6.9.5-7.1.5-7.1.5-7.2.5-7 .5-6.9.5-6.4.5-6 .5-5.4.5-4.8.5-3.9.5-3.1.5-2.2.5-1.2.5-.3.5.8.5 1.7.5 2.7.5 3.6.5 4.4.5 5.1.5 5.7.5 6.3.5 6.7.5 7 .5 7.2.5 7.2.5 7.2.5 7.1.5 6.8.5 6.5.5 6.1.5 5.7.5 5.1.5 4.7.5 4 .5 3.5.5 2.9.5 2.3.5 1.7.5 1.1.5.4.5-.1.5-.8.5-1.4.5-2 .5-2.6.5-3.2.5-3.8.5-4.4.5-5 .5-5.4.5-6 .5-6.3.5-6.8.5-7 .5-7.2.5-7.3.5-7.2.5-7.2.5-6.9.5-6.6.5-6.1.5-5.4.5-4.8.5-4 .5-3.2.5-2.2.5-1.2.5-.2.5.8.5 1.8.5 2.7.5 3.7.5 4.4.5 5.3.5 5.8.5 6.4.5 6.8.5 7.1.5 7.3.5 7.4.5 7.3.5 7.1.5 6.9.5 6.6.5 6.2.5 5.7.5 5.3.5 4.6.5 4.2.5 3.5.5 2.9.5 2.3.5 1.7.5 1.1.5.4.5-.1.5-.8.5-1.5.5-2 .5-2.7.5-3.3.5-3.8.5-4.5.5-5 .5-5.6.5-6 .5-6.5.5-6.8.5-7.1.5-7.3.5-7.4.5-7.3.5-7.3.5-7 .5-6.6.5-6.2.5-5.5.5-4.8.5-4.1.5-3.1.5-2.2.5-1.2.5-.2.5.8.5 1.8.5 2.8.5 3.7.5 4.6.5 5.3.5 5.9.5 6.5.5 6.9.5 7.2.5 7.4.5 7.4.5 7.4.5 7.2.5 7 .5 6.6.5 6.3.5 5.7.5 5.3.5 4.7.5 4.2.5 3.5.5 3 .5 2.3.5 1.7.5 1 .5.5.5-.2.5-.8.5-1.5.5-2.1.5-2.7.5-3.3.5-4 .5-4.5.5-5.1.5-5.6.5-6.1.5-6.5.5-6.9.5-7.2.5-7.3.5-7.5.5-7.4.5-7.3.5-7.1.5-6.7.5-6.2.5-5.5.5-4.9.5-4 .5-3.2.5-2.2.5-1.2.5-.2.5.9.5 1.9.5 2.8.5 3.8.5 4.6.5 5.3.5 6 .5 6.6.5 6.9.5 7.3.5 7.4.5 7.5.5 7.4.5 7.3.5 7 .5 6.7.5 6.3.5 5.8.5 5.3.5 4.8.5 4.1.5 3.6.5 2.9.5 2.4.5 1.7.5 1 .5.4.5-.2.5-.8.5-1.5.5-2.1.5-2.8.5-3.3.5-4 .5-4.6.5-5.1.5-5.7.5-6.1.5-6.6.5-7 .5-7.2.5-7.4.5-7.5.5-7.5.5-7.4.5-7.1.5-6.7.5-6.2.5-5.6.5-4.9.5-4 .5-3.2.5-2.2.5-1.1.5-.2.5.9.5 1.9.5 2.9.5 3.8.5 4.6.5 5.4.5 6.1.5 6.6.5 7 .5 7.3.5 7.5.5 7.5.5 7.5.5 7.3.5 7.1.5 6.7.5 6.3.5 5.8.5 5.4.5 4.7.5 4.2.5 3.6.5 2.9.5 2.3.5 1.7.5 1.1.5.4.5-.3.5-.8.5-1.5.5-2.2.5-2.8.5-3.4.5-4 .5-4.6.5-5.1.5-5.8.5-6.2.5-6.6.5-7 .5-7.2.5-7.5.5-7.6.5-7.5.5-7.4.5-7.1.5-6.7.5-6.3.5-5.6.5-4.9.5-4 .5-3.2.5-2.1.5-1.2.5-.1.5.9.5 1.9.5 2.9.5 3.9.5 4.6.5 5.5.5 6.1.5 6.6.5 7.1.5 7.3.5 7.5.5 7.6.5 7.5.5 7.4.5 7 .5 6.8.5 6.3.5 5.9.5 5.3.5 4.8.5 4.1.5 3.6.5 3 .5 2.3.5 1.6.5 1.1.5.4.5-.3.5-.8.5-1.6.5-2.1.5-2.8.5-3.5.5-4 .5-4.6.5-5.3.5-5.7.5-6.2.5-6.7.5-7 .5-7.3.5-7.5.5-7.6.5-7.5.5-7.5.5-7.1.5-6.8.5-6.2.5-5.6.5-4.9.5-4.1.5-3.1.5-2.2.5-1.1.5-.1.5.9.5 2 .5 2.9.5 3.9.5 4.7.5 5.5.5 6.1.5 6.7.5 7.1.5 7.3.5 7.6.5 7.6.5 7.5.5 7.4.5 7.1.5 6.7.5 6.4.5 5.8.5 5.4.5 4.8.5 4.1.5 3.6.5 2.9.5 2.3.5 1.7.5 1 .5.4.5-.2.5-.9.5-1.6.5-2.2.5-2.8.5-3.4.5-4.1.5-4.7.5-5.2.5-5.8.5-6.2.5-6.7.5-7.1.5-7.3.5-7.5.5-7.6.5-7.6.5-7.4.5-7.2.5-6.8.5-6.2.5-5.6.5-4.9.5-4.1.5-3.1.5-2.1.5-1.2.5-.1.5 1 .5 2 .5 3 .5 3.9.5 4.7.5 5.5.5 6.2.5 6.7.5 7.1.5 7.4.5 7.5.5 7.7.5 7.5.5 7.4.5 7.1.5 6.8.5 6.3.5 5.9.5 5.3.5 4.8.5 4.2.5 3.5.5 3 .5 2.3.5 1.6.5 1 .5.4.5-.3.5-.9.5-1.5.5-2.3.5-2.8.5-3.5.5-4.1.5-4.6.5-5.3.5-5.8.5-6.3.5-6.7.5-7.1.5-7.3.5-7.6.5-7.6.5-7.6.5-7.4.5-7.2.5-6.7.5-6.3.5-5.6.5-4.9.5-4 .5-3.1.5-2.2.5-1.1.5-.1.5 1 .5 2 .5 3 .5 4 .5 4.8.5 5.5.5 6.2.5 6.7.5 7.1.5 7.4.5 7.6.5 7.6.5 7.6.5 7.4.5 7.1.5 6.8.5 6.3.5 5.9.5 5.3.5 4.8.5 4.2.5 3.5.5 2.9.5 2.3.5 1.7.5 1 .5.3.5-.2.5-1 .5-1.6.5-2.2.5-2.8.5-3.5.5-4.1.5-4.7.5-5.3.5-5.8.5-6.3.5-6.8.5-7.1.5-7.3.5-7.6.5-7.6.5-7.6.5-7.5.5-7.1.5-6.8.5-6.3.5-5.6.5-4.8.5-4.1.5-3.1.5-2.1.5-1.1.5 0 .5 1 .5 2 .5 3 .5 4 .5 4.8.5 5.6.5 6.2.5 6.7.5 7.1.5 7.5.5 7.6.5 7.6.5 7.6.5 7.4.5 7.1.5 6.8.5 6.3.5 5.9.5 5.3.5 4.8.5 4.1.5 3.6.5 2.9.5 2.3.5 1.6.5 1 .5.4.5-.3.5-1 .5-1.6.5-2.2.5-2.9.5-3.5.5-4.1.5-4.8.5-5.3.5-5.8.5-6.3.5-6.8.5-7.1.5-7.4.5-7.5.5-7.7.5-7.6.5-7.4.5-7.2.5-6.8.5-6.2.5-5.6.5-4.9.5-4 .5-3.1.5-2.1.5-1 .5-.1.5 1.1.5 2 .5 3.1.5 3.9.5 4.9.5 5.5.5 6.3.5 6.7.5 7.2.5 7.4.5 7.6.5 7.7.5 7.5.5 7.4.5 7.2.5 6.7.5 6.4.5 5.8.5 5.4.5 4.7.5 4.2.5 3.5.5 2.9.5 2.3.5 1.6.5 1 .5.3.5-.3.5-.9.5-1.7.5-2.2.5-2.9.5-3.5.5-4.2.5-4.7.5-5.3.5-5.9.5-6.3.5-6.8.5-7.1.5-7.4.5-7.6.5-7.6.5-7.6.5-7.5.5-7.1.5-6.8.5-6.3.5-5.5.5-4.9.5-4 .5-3.1.5-2 .5-1.1.5 0 .5 1.1.5 2 .5 3.1.5 4 .5 4.8.5 5.6.5 6.3.5 6.7.5 7.2.5 7.5.5 7.6.5 7.6.5 7.6.5 7.4.5 7.1.5 6.8.5 6.3.5 5.9.5 5.3.5 4.8.5 4.1.5 3.5.5 2.9.5 2.3.5 1.6.5 1 .5.3.5-.3.5-1 .5-1.6.5-2.3.5-2.9.5-3.6.5-4.1.5-4.8.5-5.3.5-5.9.5-6.3.5-6.8.5-7.1.5-7.4.5-7.6.5-7.7.5-7.6.5-7.4.5-7.2.5-6.8.5-6.2.5-5.6.5-4.8.5-4 .5-3 .5-2.1.5-1 .5 0 .5 1.1.5 2.1.5 3 .5 4.1.5 4.8.5 5.6.5 6.3.5 6.8.5 7.2.5 7.4.5 7.6.5 7.7.5 7.6.5 7.4.5 7.1.5 6.8.5 6.3.5 5.8.5 5.4.5 4.7.5 4.1.5 3.5.5 2.9.5 2.3.5 1.6.5.9.5.3.5-.3.5-1 .5-1.6.5-2.3.5-2.9.5-3.6.5-4.2.5-4.7.5-5.4.5-5.9.5-6.3.5-6.8.5-7.1.5-7.5.5-7.5.5-7.7.5-7.6.5-7.5.5-7.1.5-6.8.5-6.2.5-5.6.5-4.8.5-4 .5-3 .5-2.1.5-1 .5.1.5 1.1.5 2.1.5 3.1.5 4 .5 4.9.5 5.6.5 6.3.5 6.8.5 7.2.5 7.5.5 7.6.5 7.7.5 7.5.5 7.4.5 7.2.5 6.7.5 6.3.5 5.9.5 5.3.5 4.7.5 4.1.5 3.5.5 2.9.5 2.2.5 1.6.5 1 .5.3.5-.4.5-1 .5-1.6.5-2.3.5-3 .5-3.5.5-4.2.5-4.8.5-5.4.5-5.9.5-6.3.5-6.8.5-7.2.5-7.4.5-7.6.5-7.7.5-7.6.5-7.4.5-7.2.5-6.7.5-6.3.5-5.5.5-4.8.5-4 .5-3 .5-2 .5-1 .5.1.5 1.1.5 2.1.5 3.2.5 4 .5 4.9.5 5.7.5 6.2.5 6.8.5 7.2.5 7.5.5 7.7.5 7.6.5 7.6.5 7.4.5 7.1.5 6.8.5 6.3.5 5.8.5 5.3.5 4.7.5 4.1.5 3.5.5 2.9.5 2.2.5 1.6.5.9.5.3.5-.4.5-1 .5-1.7.5-2.3"/>
<path clip-path="url(#cb)" fill="none" stroke="#D95319" stroke-width="0.9" stroke-linejoin="round" d="M77 393.3l.2 17.9.3-18 .3 16.9.2-17 .2 16.6.3-16.8.3 18.1.2-15.4.2 16.7.3-17.1.3 17.2.2-18.8.2 18.1.3-18.3.3 17.3.2-17.9.2 18.4.3-18 .3 15 .2-14.4.2 14.1.3-16.1.3 17.5.2-17 .2 15.8.3-18.1.3 16.4.2-16.1.2 17.4.3-18.1.3 17.2.2-15.4.2 15.4.3-17.5.3 17.1.2-15.4.2 15.5.3-15.9.3 16.9.2-17.3.2 16.9.3-15.2.3 14.8.2-15.2.2 15.6.3-15 .3 16.5.2-16.3.2 15.1.3-17.3.3 16.4.2-15.1.2 13.8.3-14.5.3 15.5.2-16.8.2 17 .3-17.2.3 17.2.2-17.8.2 17 .3-16.7.3 15.7.2-15.7.2 17.2.3-17.1.3 15.2.2-14.4.2 14.2.3-15.3.3 17.2.2-16.9.2 16 .3-13.4.3 14.4.2-15.6.2 18.2.3-15.8.3 15 .2-16.6.2 18.4.3-17 .3 16.6.2-16.9.2 18.4.3-16.1.3 16.2.2-17.1.2 14.9.3-15.5.3 16.3.2-16.6.2 16.9.3-16.5.3 14.9.2-14.9.2 14.9.3-14.4.3 14.4.2-16.7.2 16.2.3-16 .3 17.1.2-16.6.2 15.9.3-16.2.3 16.8.2-15.5.2 15.5.3-15.6.3 16.7.2-15.7.2 16.2.3-16.1.3 17.8.2-17.5.2 17.9.3-16.6.3 18.1.2-17.4.2 15.9.3-14.8.3 15 .2-14.9.2 14.7.3-14.1.3 12 .2-10.4.2 10.2.3-9.9.3 8.8.2-9.7.2 8.5.3-8.9.3 8.5.2-8.7.2 6.5.3-7.1.3 6 .2-7.1.2 5.9.3-7 .3 5.5.2-7.6.2 6 .3-7.9.3 6.2.2-8.3.2 6.5.3-9.7.3 9.1.2-11.8.2 10.3.3-12.4.3 11.9.2-13.9.2 12.2.3-15.6.3 13.6.2-14.3.2 12.9.3-15.3.3 16.8.2-18.8.2 16.6.3-15.8.3 14.7.2-15.9.2 15.6.3-14.6.3 14.7.2-13.2.2 12.4.3-12.9.3 14.8.2-12.4.2 11.4.3-8.6.3 10.7.2-8 .2 8.7.3-5.9.3 7.6.2-4 .2 6.1.3-3.5.3 6 .2-2.3.2 4.9.3-1.5.3 4.3.2-.9.2 4 .3-.6.3 4 .2-1.2.2 4.5.3-1.5.3 4.7.2-2.2.2 6.1.3-3.4.3 6.8.2-4.2.2 7.5.3-5.8.3 8.9.2-7.5.2 11.3.3-10 .3 13.3.2-12.8.2 13.4.3-12 .3 15.1.2-13.5.2 14.3.3-14.1.3 15.8.2-14.7.2 14.5.3-16.2.3 17.5.2-17.3.2 16.1.3-14.7.3 13 .2-13.6.2 12.6.3-12.3.3 10.3.2-12 .2 9.2.3-9.5.3 6.9.2-8.4.2 4.9.3-7.1.3 3.9.2-6.3.2 2.2.3-5.3.3 1.7.2-4.9.2.5.3-4.2.3 0 .2-4.2.2-.1.3-4.3.3 0 .2-4.6.2.5.3-5.6.3 1.4.2-6.8.2 2.4.3-7.2.3 4 .2-9.6.2 6.2.3-10.9.3 7.9.2-11.6.2 7.6.3-13 .3 11 .2-15.1.2 13.1.3-15 .3 13 .2-14.9.2 15.3.3-16.3.3 16.2.2-16.6.2 15.2.3-16 .3 15.5.2-15 .2 16.2.3-13.4.3 15.3.2-11.9.2 14.6.3-12 .3 13.8.2-8.6.2 11.2.3-6.8.3 9.6.2-4.6.2 8.6.3-2.8.3 7.3.2-2.2.2 6.4.3-.4.3 5.4.2.2.2 4.5.3.7.3 4.4.2.6.2 4.7.3.3.3 4.9.2-.3.2 5.4.3-1.6.3 6.2.2-2.3.2 7.2.3-3.4.3 8.4.2-6.4.2 10.6.3-8.2.3 11.1.2-9.7.2 14.8.3-11.4.3 12.5.2-12.4.2 14.4.3-14 .3 16.1.2-15.7.2 18.7.3-18.2.3 16.1.2-15.3.2 14.8.3-14.8.3 14.3.2-13.7.2 11.8.3-13.7.3 12.1.2-13.2.2 10.2.3-10.9.3 8.9.2-11.2.2 6.6.3-9.7.3 5.5.2-8.1.2 3 .3-6.9.3 2.5.2-6 .2.5.3-5.4.3-.2.2-4.8.2-.5.3-4.8.3-1 .2-4.7.2-.9.3-5 .3-.3.2-6 .2.6.3-6.8.3 1.3.2-7.7.2 3.3.3-8.9.3 4.7.2-10.5.2 5.9.3-11.5.3 7.6.2-13.7.2 12.4.3-16.1.3 13.4.2-15.1.2 12.1.3-15.7.3 15 .2-16.1.2 15.1.3-14.6.3 16.2.2-17 .2 16.8.3-15.5.3 17.4.2-13.9.2 14 .3-11.5.3 14.4.2-9.6.2 12.5.3-6.7.3 11 .2-5.7.2 10.4.3-4.6.3 9.2.2-3.1.2 7.8.3-1.4.3 6.6.2.4.2 5.5.3.6.3 5.2.2.9.2 5.3.3.9.3 5.1.2.5.2 5.2.3.2.3 5.7.2-1 .2 6.8.3-2.1.3 7.5.2-3.5.2 8.1.3-4.7.3 9.2.2-6.9.2 10.6.3-8.5.3 13 .2-10.2.2 12.6.3-12.8.3 15.5.2-13.6.2 14.8.3-14.3.3 16.3.2-16.3.2 15.9.3-15.9.3 16.3.2-17.1.2 14.8.3-14.7.3 13.6.2-15.6.2 14 .3-15.5.3 12.3.2-12.4.2 7.2.3-11.2.3 7.8.2-10 .2 5.1.3-8.9.3 3.9.2-7.7.2 1.6.3-6 .3.4.2-5.7.2-.1.3-5.3.3-1.1.2-4.8.2-1.2.3-5.2.3-1.2.2-5.5.2-.5.3-6.6.3.5.2-7.2.2 2 .3-8.4.3 3.2.2-9.6.2 4.1.3-10.8.3 7.3.2-13.7.2 9.7.3-13.7.3 10.2.2-16 .2 12.8.3-15.5.3 13.6.2-15 .2 14.4.3-17 .3 15 .2-16.3.2 17.4.3-15.1.3 16.1.2-16.1.2 18 .3-14.6.3 15.2.2-10.3.2 14.8.3-11.3.3 14.1.2-8.6.2 12.1.3-5.7.3 11.4.2-5.1.2 9.9.3-2.2.3 7.4.2-1.2.2 7 .3.2.3 6.3.2.6.2 5.5.3 1.4.3 5.1.2 1.3.2 5.3.3 1 .3 5.2.2.4.2 5.5.3-.7.3 7.3.2-2.3.2 7.3.3-3.2.3 9.2.2-6.4.2 11.6.3-7.7.3 10.8.2-9.3.2 14 .3-11 .3 15 .2-13.2.2 15.8.3-14.6.3 15.6.2-15.1.2 16.4.3-15.6.3 14.3.2-16.4.2 17.3.3-16.8.3 14.9.2-15 .2 13.8.3-15.1.3 12.7.2-15.7.2 12.1.3-14.1.3 9.1.2-10.3.2 5.5.3-9.9.3 5.7.2-8.9.2 2.9.3-7 .3.9.2-6 .2.3.3-5.8.3-.6.2-5.5.2-1.2.3-5.3.3-1.1.2-5.5.2-1.1.3-5.8.3-.9.2-6.2.2.3.3-7.4.3 1.4.2-9 .2 3.7.3-10.2.3 4 .2-10 .2 6.7.3-12.6.3 8.4.2-13.6.2 10.2.3-14.4.3 11.3.2-15.6.2 13.8.3-16.8.3 14.8.2-16.9.2 17.2.3-17.9.3 18.8.2-17.6.2 16.6.3-14.1.3 17.4.2-14.3.2 14.5.3-10.7.3 14.2.2-9.1.2 14 .3-8.3.3 12.4.2-5.8.2 9.9.3-3.1.3 8.5.2-2.1.2 8.3.3-.7.3 6.5.2.7.2 6 .3 1.1.3 5.4.2 1.6.2 5.5.3 1.3.3 5.2.2.9.2 5.7.3.3.3 6.3.2-.9.2 7 .3-1.8.3 8 .2-4 .2 8.5.3-4.4.3 10.2.2-6.9.2 11.8.3-9.6.3 13.5.2-11.4.2 13.9.3-11.7.3 14.3.2-13.3.2 15 .3-14.3.3 14.6.2-14.9.2 17 .3-17.6.3 16.4.2-15.4.2 13.3.3-16.6.3 14.8.2-14.9.2 12.8.3-13.7.3 9.6.2-11.9.2 7.2.3-11.4.3 7.7.2-10 .2 4.7.3-8.9.3 2.4.2-7 .2 1.1.3-6.4.3.3.2-5.8.2-.7.3-5.5.3-1.3.2-5.4.2-1.5.3-5.4.3-1.4.2-5.8.2-.8.3-6.7.3-.1.2-7.5.2 1.8.3-9.3.3 3.1.2-9.9.2 5.1.3-12 .3 7.3.2-13.1.2 7.8.3-13.8.3 9.9.2-13 .2 12.2.3-16.2.3 12.1.2-16.8.2 15.3.3-15.7.3 16.2.2-16.1.2 16.6.3-16.4.3 18.4.2-17 .2 18.3.3-12.9.3 14.5.2-11.3.2 14.7.3-9.4.3 12.6.2-6.5.2 11.8.3-6.2.3 11.1.2-4.5.2 10.2.3-2.6.3 8 .2-.4.2 7 .3.5.3 6.1.2 1.5.2 5.4.3 1.7.3 5.3.2 1.7.2 5.2.3 1.2.3 5.4.2.9.2 5.9.3-.9.3 7.2.2-1.7.2 7.6.3-2.9.3 8.4.2-4.8.2 10.6.3-8 .3 11.8.2-8.6.2 12.9.3-10.1.3 14.2.2-13 .2 16 .3-16.7.3 18.2.2-16.1.2 16.5.3-16.5.3 15.2.2-14.7.2 16.7.3-16.9.3 13.8.2-16.6.2 14.5.3-13.7.3 11.9.2-15.8.2 12 .3-13.7.3 8.7.2-10.6.2 5.3.3-8.8.3 3.9.2-9 .2 2.9.3-7.1.3.9.2-6.1.2-.1.3-5.9.3-.7.2-5.5.2-1.6.3-5.4.3-1.7.2-5.3.2-1.3.3-6.3.3-.9.2-6.5.2-.4.3-7.5.3 1.7.2-9.1.2 2.6.3-9.2.3 4.6.2-11.4.2 6.8.3-13 .3 8.5.2-14.6.2 9.9.3-13.9.3 12.2.2-16.2.2 13 .3-15.5.3 15.1.2-17.3.2 17.6.3-17.6.3 15.2.2-15.6.2 18.1.3-13.8.3 14.3.2-12.3.2 16.4.3-11.1.3 13.4.2-8.9.2 13.2.3-7.9.3 11.9.2-4.4.2 10.5.3-3.3.3 8.7.2-1.7.2 7.9.3-.4.3 7.3.2.4.2 6.3.3 1.2.3 5.8.2 1.6.2 5.5.3 1.4.3 5.5.2 1.4.2 5.7.3.2.3 6.1.2-.5.2 6.9.3-1.4.3 8 .2-3.7.2 8.7.3-4.3.3 9.3.2-7 .2 12.6.3-9 .3 12.2.2-11.5.2 14.4.3-13.2.3 17.8.2-16.8.2 18.3.3-15.8.3 14.9.2-16.1.2 17.2.3-15.4.3 14.8.2-17.5.2 15.7.3-15.6.3 14.6.2-16.4.2 12.7.3-14.5.3 10 .2-11.1.2 7.3.3-11.5.3 6.6.2-10 .2 5.2.3-8.9.3 3 .2-8.1.2 1.1.3-6.4.3.1.2-6.1.2-.9.3-5.4.3-1.5.2-5.6.2-1.4.3-5.7.3-1.5.2-6.3.2-.5.3-7.1.3 0 .2-7.5.2 1.1.3-8.5.3 2.7.2-10.6.2 5.1.3-11 .3 6.5.2-13.6.2 8.2.3-12.7.3 9.9.2-14.7.2 11.2.3-16 .3 15.4.2-17 .2 14.7.3-16 .3 13.9.2-13.9.2 15.4.3-15.5.3 15.5.2-14.4.2 16.3.3-12.5.3 15.2.2-11.5.2 16.5.3-11.2.3 13.9.2-7 .2 12.1.3-4.8.3 9.9.2-3.1.2 8.6.3-1.1.3 8.1.2-.6.2 7.3.3.7.3 6 .2 1.5.2 5.5.3 1.8.3 5.4.2 1.8.2 5.5.3 1.2.3 5.9.2.1.2 6.3.3-.3.3 7.4.2-2.4.2 7.8.3-3 .3 9 .2-5.1.2 10 .3-6.9.3 11.4.2-8.9.2 12.7.3-11.2.3 16.5.2-15.2.2 16 .3-13.8.3 15 .2-14.3.2 17.2.3-17.5.3 18.4.2-18.1.2 15 .3-15.5.3 15.6.2-17.2.2 15.5.3-15 .3 11.5.2-14.4.2 10.4.3-13.7.3 8.2.2-11 .2 6.5.3-9.5.3 3.7.2-8.3.2 3.1.3-7.7.3 1.2.2-6.4.2-.7.3-5.8.3-1 .2-5.6.2-1.3.3-5.8.3-1.4.2-5.7.2-1.6.3-6.1.3-1 .2-7.1.2.1.3-7.4.3 1.2.2-9.4.2 3.2.3-10.5.3 4.8.2-11.2.2 5.9.3-12.4.3 9.2.2-16 .2 12.1.3-16.7.3 14.2.2-16.9.2 12.9.3-15.3.3 15.4.2-18 .2 17.9.3-18.4.3 17 .2-15.5.2 17.2.3-14.7.3 15.8.2-12.7.2 14.8.3-10.4.3 14.3.2-8.4.2 13.3.3-6.8.3 11.6.2-5.1.2 10.9.3-3.9.3 9.5.2-2.4.2 8.6.3-.2.3 7.2.2.7.2 6.2.3 1.1.3 6.1.2 1.4.2 5.8.3 1.7.3 5.6.2 1 .2 6 .3.3.3 6.6.2-.8.2 7.6.3-2.3.3 7.8.2-2.7.2 9.2.3-5.2.3 9.5.2-7.6.2 12.8.3-9.9.3 13.4.2-11 .2 14.8.3-12.7.3 15.4.2-13.5.2 14.2.3-15.5.3 18.9.2-16 .2 15.9.3-16.1.3 13.3.2-15.4.2 14.3.3-16.3.3 14.7.2-14.8.2 12.3.3-15.2.3 10.9.2-12.6.2 8.5.3-12.1.3 6.7.2-10 .2 4.8.3-8.8.3 2.4.2-7.9.2 1 .3-6.5.3-.1.2-6 .2-.7.3-5.9.3-1.4.2-5.7.2-1.5.3-5.8.3-1.7.2-6.3.2-1 .3-6.4.3-.3.2-7.5.2.8.3-8.9.3 2.7.2-10.3.2 4.8.3-12.3.3 7.1.2-13.6.2 8.9.3-12.9.3 9 .2-13.5.2 12.3.3-17.3.3 13.7.2-15 .2 13.8.3-17.3.3 18.3.2-16.6.2 15.7.3-15.3.3 15.4.2-14.3.2 17 .3-11.9.3 13.8.2-11.2.2 15.9.3-10.1.3 13.3.2-5.9.2 11.1.3-4.6.3 10.2.2-3.5.2 9.8.3-1.5.3 7.9.2-.2.2 6.7.3 1 .3 6.1.2 1.7.2 5.8.3 1.6.3 5.7.2 1.7.2 5.5.3 1.2.3 6.1.2.4.2 6.1.3-.4.3 7.1.2-1.9.2 8.1.3-4 .3 10 .2-5 .2 9.5.3-5.9.3 11.5.2-10.3.2 13.5.3-9.5.3 13.9.2-13.8.2 15.5.3-14.6.3 17.4.2-15.4.2 15 .3-13.8.3 14.2.2-16.8.2 17.3.3-18.1.3 17.1.2-17.9.2 15.2.3-14.7.3 9.8.2-13.1.2 10.9.3-13 .3 7.3.2-10 .2 5 .3-9.9.3 4.9.2-9 .2 3 .3-7.5.3.9.2-6.8.2 0 .3-6.2.3-1 .2-5.8.2-1.4.3-5.8.3-1.5.2-5.9.2-1.6.3-6.1.3-1.2.2-6.7.2 0 .3-7.9.3 1.2.2-8.5.2 2.5.3-10 .3 4.8.2-11.8.2 6.5.3-13.9.3 9.5.2-13.8.2 10.8.3-15.7.3 11.7.2-15.1.2 12.7.3-17.7.3 17.6.2-17.5.2 14.5.3-15.4.3 17.6.2-16.2.2 17.5.3-13.9.3 15.7.2-13.3.2 16.6.3-12.2.3 15.3.2-9.4.2 12.5.3-6.8.3 11.9.2-5.7.2 11.1.3-3.1.3 9.3.2-1.5.2 8.3.3-.3.3 7 .2 1 .2 6.2.3 1.3.3 5.9.2 1.7.2 5.8.3 1.7.3 5.6.2 1.2.2 6.1.3.3.3 6.1.2-.4.2 7.1.3-1.9.3 8.3.2-3.4.2 9.7.3-6 .3 11.7.2-8.2.2 12.9.3-9.4.3 12.7.2-11.4.2 13.6.3-12.1.3 14.9.2-14.4.2 17.8.3-17.5.3 18.3.2-16.2.2 17.2.3-16.8.3 13.3.2-14.4.2 13.4.3-13.8.3 12 .2-14.6.2 11.6.3-13.6.3 10.7.2-14.2.2 8.6.3-10.6.3 5.9.2-10 .2 3.9.3-8.8.3 2.7.2-7.5.2.7.3-6 .3-.4.2-6.3.2-.7.3-6.1.3-1.2.2-5.8.2-1.7.3-5.7.3-1.9.2-5.9.2-1.2.3-6.6.3-.1.2-8.4.2 1.5.3-8.7.3 3 .2-10.3.2 4.7.3-12.1.3 5.8.2-11.6.2 7.9.3-15.4.3 12.2.2-16.2.2 12.7.3-16.8.3 15.1.2-16 .2 13.4.3-17.2.3 17.3.2-16.1.2 15.6.3-13.6.3 14.6.2-12.3.2 15.4.3-13.3.3 17 .2-12.5.2 14.4.3-8.2.3 12.9.2-6.5.2 11.4.3-5.3.3 11.1.2-2.9.2 8.8.3-1.5.3 8.1.2-.3.2 7.2.3.9.3 6.6.2 1.2.2 6.1.3 1.6.3 5.9.2 1.4.2 5.8.3 1.2.3 6.1.2.5.2 6.2.3-.5.3 7.2.2-1.8.2 7.8.3-3.3.3 9.8.2-5.7.2 9.9.3-6.2.3 10.8.2-8.2.2 12.4.3-10.3.3 15 .2-14.6.2 17.2.3-15.8.3 16.7.2-14.2.2 16.2.3-16 .3 15.9.2-17 .2 16.8.3-18.6.3 16 .2-16 .2 14.6.3-15.4.3 10.9.2-13.3.2 9.5.3-12.2.3 8.1.2-12.1.2 5.9.3-9.9.3 4.2.2-7.8.2 1.9.3-6.9.3.9.2-6.8.2-.3.3-6.2.3-1.2.2-5.5.2-1.6.3-5.7.3-1.8.2-5.7.2-1.8.3-6.2.3-.8.2-7.1.2.1.3-7.9.3 1 .2-9.1.2 2.7.3-9.5.3 3.6.2-10.7.2 5.6.3-12.3.3 8.9.2-14.1.2 9.6.3-15.8.3 13.4.2-16.4.2 12.9.3-15.1.3 15 .2-15.8.2 16 .3-17.2.3 16.4.2-15.6.2 17 .3-14.7.3 17.5.2-12.7.2 14 .3-10.9.3 14.9.2-9 .2 12.7.3-6.1.3 11.2.2-3.9.2 9.7.3-3 .3 9.6.2-1.3.2 7.6.3.3.3 7 .2.8.2 6.4.3 1.3.3 6.2.2 1.5.2 6 .3 1.5.3 5.7.2 1.2.2 5.9.3.5.3 6.2.2-.4.2 7 .3-1.8.3 8.1.2-3.6.2 9.3.3-4.7.3 10.7.2-7.3.2 11.5.3-9.4.3 13.7.2-12.2.2 15.1.3-13.1.3 15 .2-12.4.2 15.3.3-14.4.3 16.4.2-17.4.2 16.6.3-16.3.3 16.5.2-16.7.2 13.8.3-15.6.3 12.5.2-14.1.2 12.4.3-14.2.3 9.4.2-12.7.2 7.7.3-10.3.3 5.5.2-9.5.2 4.2.3-8.6.3 2.1.2-7 .2.7.3-6.8.3-.4.2-6 .2-1.2.3-5.5.3-1.8.2-5.6.2-1.7.3-5.8.3-1.7.2-6.2.2-1.3.3-7 .3 0 .2-7.3.2.9.3-9.2.3 2.8.2-10.2.2 5 .3-12.3.3 6.8.2-13.3.2 9.1.3-15 .3 11.5.2-15.9.2 11.9.3-16.1.3 13.3.2-15.1.2 15.5.3-15.7.3 16.2.2-18.8.2 16.6.3-15 .3 17.2.2-13.6.2 16.3.3-12.4.3 15.5.2-12.7.2 16.1.3-9.6.3 13.6.2-6.9.2 12.2.3-5.9.3 11 .2-2.8.2 8.9.3-1.9.3 8.2.2.4.2 6.7.3 1.1.3 6.1.2 1.5.2 6.2.3 1.8.3 5.4.2 1.6.2 5.9.3 1 .3 6.4.2.3.2 6.2.3-.1.3 6.6.2-1.7.2 8.5.3-3.3.3 8.7.2-5.9.2 10.8.3-7.1.3 12.7.2-9.2.2 13.9.3-11.2.3 13.9.2-14.1.2 16.4.3-14.1.3 16 .2-16.1.2 17.5.3-17.4.3 17.2.2-17.1.2 15.3.3-16.3.3 14.8.2-14.3.2 11.5.3-14.4.3 11.4.2-12.8.2 9.3.3-12.5.3 7.5.2-9.8.2 5.5.3-9.6.3 3.8.2-8.7.2 2.3.3-7.5.3.6.2-6.3.2-.2.3-6.1.3-1.5.2-5.3.2-1.8.3-5.7.3-1.8.2-5.7.2-1.6.3-6.5.3-1.1.2-6.5.2-.4.3-7.8.3.7.2-8.8.2 2.9.3-11 .3 4.9.2-11 .2 5.9.3-13 .3 8.1.2-13.4.2 10.5.3-14.1.3 11.6.2-17.3.2 14.6.3-15.3.3 14.8.2-18.4.2 17 .3-14.5.3 15.9.2-15 .2 16.2.3-13.7.3 14.3.2-11.6.2 15.8.3-11 .3 14.4.2-8.9.2 13.5.3-8.1.3 13 .2-5.4.2 10.4.3-3.2.3 9.9.2-1.6.2 7.8.3 0 .3 7.1.2.8.2 6.7.3 1.4.3 5.8.2 1.9.2 5.5.3 1.7.3 5.7.2 1.2.2 6.1.3.4.3 6.3.2-.3.2 7.4.3-2.1.3 8 .2-3.5.2 9.8.3-5.7.3 11.1.2-7.9.2 13 .3-11 .3 14.7.2-12.9.2 15.8.3-12.6.3 15.4.2-15.9.2 18.6.3-18 .3 17.6.2-15.1.2 14.6.3-16.3.3 14.9.2-13.9.2 14.5.3-17.8.3 14.4.2-15 .2 12.5.3-15.3.3 10.3.2-12.1.2 7.4.3-10.5.3 5.9.2-10.3.2 4.6.3-9.2.3 2.6.2-7.7.2 1.2.3-6.6.3-.5.2-5.9.2-1.5.3-5.5.3-1.9.2-5.4.2-1.7.3-6.1.3-1.5.2-6.5.2-.9.3-6.8.3-.4.2-7.8.2 1.1.3-8.5.3 2.3.2-10.2.2 4.9.3-12.6.3 6.8.2-12.7.2 8.4.3-15 .3 10.7.2-14.6.2 11.4.3-15.6.3 14 .2-14.6.2 13.9.3-17.8.3 17.3.2-17.4.2 17.1.3-13.5.3 15.9.2-14.8.2 17.3.3-12.6.3 13.6.2-10.6.2 14.4.3-8.1.3 12.7.2-5.4.2 11 .3-5.2.3 11.4.2-3.9.2 9.8.3-1.6.3 8.5.2-.3.2 7.1.3.6.3 6.7.2 1.4.2 6.1.3 1.5.3 5.7.2 1.9.2 5.5.3 1.3.3 5.9.2.4.2 6.4.3-.5.3 7.6.2-2.7.2 9.2.3-4.7.3 10.4.2-5.7.2 10.9.3-7.7.3 11.6.2-9.6.2 14.8.3-11.1.3 13.9.2-12.8.2 14.8.3-13.5.3 14.6.2-13.2.2 15.5.3-15.7.3 14.6.2-14.4.2 14.7.3-15.7.3 14.2.2-16.1.2 12.2.3-13.4.3 10.8.2-13.6.2 9.1.3-12.3.3 8.9.2-11.5.2 6.3.3-10 .3 4.1.2-9.3.2 2.5.3-6.9.3.2.2-6.5.2-.2.3-6.1.3-1.3.2-5.7.2-1.7.3-5.4.3-1.9.2-5.8.2-1.7.3-6.3.3-.8.2-6.9.2-.3.3-7.6.3.8.2-8.8.2 2.8.3-10.1.3 4.3.2-11.1.2 6.2.3-14.2.3 9.4.2-14.8.2 10.7.3-15.1.3 13.9.2-16.7.2 14.5.3-17.7.3 15.8.2-17.8.2 17 .3-15.3.3 14.7.2-14.1.2 17.2.3-13.8.3 14.5.2-12.3.2 15.7.3-12 .3 15 .2-9.2.2 13.6.3-6.4.3 12 .2-4.4.2 10.4.3-3.4.3 9 .2-1.4.2 8 .3.5.3 7.2.2.9.2 6.3.3 1.3.3 5.9.2 1.8.2 5.7.3 1.7.3 5.7.2 1.3.2 6.1.3.4.3 6.4.2-.6.2 7.7.3-2.8.3 8.6.2-3.7.2 9.3.3-6.1.3 11.3.2-7.8.2 12.7.3-10.1.3 15.4.2-12.1.2 13.5.3-13.2.3 17.5.2-16.4.2 15.9.3-14.2.3 15.8.2-17 .2 16.2.3-15.8.3 16.1.2-16.4.2 13.8.3-15.8.3 14.4.2-14.7.2 10.4.3-13.2.3 10.8.2-12.9.2 7.5.3-10.4.3 5.6.2-10.3.2 3.7.3-7.7.3 2 .2-7.6.2.6.3-6.6.3-.1.2-6 .2-1.4.3-5.7.3-1.6.2-5.8.2-1.5.3-6 .3-1.8.2-6.3.2-.8.3-7.3.3 0 .2-7.6.2 1 .3-8.5.3 2.7.2-10.3.2 3.9.3-12.2.3 7.3.2-12.4.2 7.4.3-14.3.3 10.8.2-15.3.2 13.2.3-15.5.3 14.1.2-17.8.2 16 .3-18.3.3 18.2.2-15.9.2 15.4.3-16.1.3 17.3.2-13.3.2 16.6.3-12.3.3 14.6.2-12 .2 16 .3-8.8.3 13.3.2-6.8.2 11.5.3-5.4.3 10.6.2-2.6.2 8.6.3-.8.3 7.8.2.4.2 7 .3.5.3 6.7.2 1.4.2 5.8.3 2.1.3 5.6.2 1.5.2 5.6.3 1.3.3 5.9.2.6.2 6.3.3-.1.3 6.9.2-2.3.2 8.7.3-4.4.3 10 .2-5.6.2 11.9.3-8.9.3 12.8.2-9.6.2 14.6.3-12 .3 14.6.2-12.9.2 15.5.3-15.4.3 16.3.2-13.8.2 14.8.3-15.6.3 15.4.2-14.7.2 13 .3-15.4.3 16.3.2-16.9.2 13.5.3-14.8.3 11.5.2-14.9.2 10 .3-11.8.3 8.3.2-11.3.2 4.9.3-9.8.3 4.7.2-8.9.2 2.1.3-7.1.3.4.2-6.5.2-.2.3-6.3.3-.9.2-5.8.2-1.6.3-5.7.3-2 .2-6 .2-1.1.3-6.6.3-1.2.2-7 .2.4.3-8 .3.8.2-8.9.2 2.5.3-9.4.3 4.5.2-12.8.2 7.9.3-13.7.3 8.2.2-14.7.2 12.6.3-15.9.3 11.5.2-14.5.2 11.8.3-15.7.3 16.2.2-18.3.2 16 .3-14 .3 16.1.2-14.4.2 15.8.3-14.9.3 17.3.2-14.2.2 16.5.3-10.4.3 14.8.2-9.4.2 13.8.3-7.3.3 11.1.2-4.2.2 9.9.3-2.1.3 9.3.2-1.7.2 8 .3.2.3 6.7.2 1.1.2 6.2.3 1.8.3 6 .2 1.6.2 5.7.3 1.6.3 5.6.2 1.6.2 5.8.3.4.3 6.5.2-.7.2 7.7.3-2 .3 8.5.2-4.3.2 9.3.3-5.2.3 10.1.2-6.4.2 12.7.3-11 .3 15 .2-12.5.2 15 .3-12.8.3 15.6.2-14.3.2 15.1.3-15.2.3 16.5.2-17.4.2 17.4.3-16.3.3 14.9.2-15.5.2 13.7.3-14.5.3 11.8.2-14.4.2 12.7.3-14 .3 10 .2-14.1.2 8.7.3-11.1.3 5.5.2-10.1.2 4.8.3-8.7.3 1.9.2-7.5.2.8.3-6.5.3-.6.2-5.9.2-1.2.3-5.8.3-1.7.2-5.5.2-2.1.3-5.6.3-1.6.2-6.4.2-1.2.3-7.1.3 0 .2-8.2.2 1.7.3-9 .3 2.9.2-10.3.2 4.1.3-11.9.3 7.5.2-13.5.2 8.4.3-14.8.3 11.2.2-15.6.2 13.1.3-16.5.3 13.8.2-15.4.2 13.7.3-14.6.3 14.6.2-16.1.2 16.4.3-15.7.3 19.1.2-15.6.2 17.1.3-12 .3 13.9.2-10.5.2 14.3.3-8.5.3 12.7.2-6.7.2 11.8.3-4.5.3 11.4.2-2.9.2 8.5.3-1.1.3 7.8.2.3.2 7 .3.9.3 6.2.2 1.7.2 5.9.3 1.8.3 5.8.2 1.6.2 5.6.3 1.5.3 5.9.2.5.2 6.4.3-.9.3 7.4.2-2.5.2 8.9.3-4.1.3 10.1.2-6.7.2 12.4.3-8.3.3 12.8.2-10.4.2 13.6.3-10.3.3 13.8.2-13.1.2 15.9.3-15.7.3 17.9.2-15.8.2 14.8.3-15 .3 15 .2-15.2.2 15.2.3-17.4.3 16.4.2-15.2.2 11.7.3-15.6.3 13.4.2-14 .2 10.1.3-13.4.3 7.9.2-11.1.2 5.7.3-9.4.3 3.7.2-9 .2 2.5.3-7.4.3.8.2-6.8.2-.5.3-5.9.3-1.2.2-5.8.2-1.7.3-5.6.3-1.9.2-5.8.2-1.4.3-6.3.3-.9.2-7.3.2.2.3-8.2.3 1.6.2-10 .2 3.3.3-10.3.3 4.4.2-12.3.2 7.9.3-12.7.3 7.8.2-15.2.2 12.3.3-15.9.3 12.1.2-15.9.2 15.3.3-17.9.3 14.9.2-14.8.2 15.1.3-16.5.3 17.5.2-16.8.2 16.4.3-13.3.3 18 .2-13.6.2 14.9.3-11 .3 14.4.2-8.9.2 13.6.3-6.4.3 11.7.2-4.4.2 11 .3-3.3.3 9.3.2-1.3.2 8.1.3 0 .3 6.6.2 1.2.2 6.3.3 1.5.3 5.9.2 1.8.2 5.8.3 1.8.3 5.6.2 1.3.2 5.7.3.8.3 6.6.2-.8.2 7.2.3-2 .3 8.8.2-4 .2 9.6.3-6.7.3 11.5.2-7.8.2 13.4.3-10.5.3 13.6.2-12 .2 16.2.3-14.3.3 16.1.2-14.8.2 16 .3-14.8.3 16.6.2-17.4.2 17.8.3-18.2.3 15.4.2-15 .2 14 .3-16.9.3 13.2.2-13.8.2 12.4"/>
<path clip-path="url(#cb)" fill="none" stroke="#EDB120" stroke-width="2.6" stroke-linejoin="round" d="M77 398l.5 0 .5-.1.5-.1.5-.1.5 0 .5-.1.5-.1.5 0 .5-.1.5.3.5.6.5.5.5.5.5.5.5.5.5.4.5.4.5.4.5.1.5-.3.5-.3.5-.4.5-.3.5-.4.5-.5.5-.4.5-.5.5-.3.5.1.5.1.5.1.5.1.5.1.5 0 .5.1.5.1.5 0 .5-.6.5-.5.5-.5.5-.5.5-.5.5-.5.5-.4.5-.4.5-.4.5.3.5.3.5.3.5.4.5.4.5.4.5.4.5.5.5.4.5 0 .5-.1.5-.3.5 0 .5.3.5.6.5.8.5.9.5 1.2.5 1.6.5 1.8.5 1.9.5 2 .5 2.1.5 2.1.5 2 .5 2 .5 1.8.5 1.5.5 1.2.5.9.5.5.5 0 .5-.3.5-.7.5-1.1.5-1.4.5-1.6.5-1.9.5-2.2.5-2.3.5-2.6.5-2.7.5-3 .5-3.2.5-3.5.5-3.7.5-4.1.5-4.2.5-4.4.5-4.5.5-4.4.5-4.2.5-3.8.5-3.3.5-2.7.5-1.9.5-1 .5 0 .5.9.5 1.8.5 2.6.5 3.4.5 3.9.5 4.5.5 4.7.5 4.9.5 5 .5 5 .5 4.9.5 4.8.5 4.8.5 4.7.5 4.7.5 4.7.5 4.6.5 4.6.5 4.5.5 4.4.5 4.1.5 3.7.5 3.2.5 2.7.5 1.9.5 1.1.5.2.5-.6.5-1.4.5-2.2.5-2.9.5-3.5.5-3.9.5-4.4.5-4.5.5-4.8.5-5 .5-5.1.5-5.3.5-5.5.5-5.7.5-6 .5-6.3.5-6.4.5-6.7.5-6.7.5-6.7.5-6.4.5-5.9.5-5.3.5-4.4.5-3.3.5-2 .5-.8.5.6.5 1.9.5 3.2.5 4.3.5 5.3.5 5.9.5 6.5.5 6.8.5 7 .5 6.9.5 6.8.5 6.7.5 6.5.5 6.2.5 6.2.5 6 .5 5.9.5 5.8.5 5.7.5 5.6.5 5.3.5 4.9.5 4.4.5 3.8.5 2.9.5 2.1.5 1.1.5 0 .5-1.1.5-2 .5-2.9.5-3.7.5-4.4.5-5 .5-5.3.5-5.6.5-5.8.5-6 .5-6.1.5-6.3.5-6.5.5-6.7.5-6.9.5-7.3.5-7.4.5-7.7.5-7.6.5-7.6.5-7.2.5-6.7.5-5.8.5-4.8.5-3.6.5-2.2.5-.6.5.8.5 2.4.5 3.8.5 4.9.5 6 .5 6.8.5 7.4.5 7.6.5 7.8.5 7.8.5 7.6.5 7.4.5 7.1.5 6.9.5 6.8.5 6.6.5 6.4.5 6.4.5 6.2.5 6 .5 5.7.5 5.3.5 4.7.5 4 .5 3.1.5 2.1.5 1.1.5-.1.5-1.2.5-2.3.5-3.3.5-4.1.5-4.8.5-5.4.5-5.7.5-6.1.5-6.3.5-6.4.5-6.6.5-6.7.5-7 .5-7.2.5-7.4.5-7.7.5-7.9.5-8.1.5-8.2.5-8 .5-7.6.5-7 .5-6.1.5-5 .5-3.7.5-2.3.5-.6.5 1 .5 2.6.5 4 .5 5.4.5 6.4.5 7.2.5 7.7.5 8.1.5 8.2.5 8.2.5 8 .5 7.7.5 7.5.5 7.3.5 7 .5 6.9.5 6.7.5 6.7.5 6.4.5 6.3.5 5.9.5 5.5.5 4.9.5 4.1.5 3.2.5 2.2.5 1 .5-.1.5-1.3.5-2.5.5-3.4.5-4.3.5-5.1.5-5.6.5-6 .5-6.4.5-6.5.5-6.7.5-6.8.5-7 .5-7.2.5-7.5.5-7.7.5-8 .5-8.2.5-8.4.5-8.4.5-8.2.5-7.9.5-7.2.5-6.3.5-5.1.5-3.8.5-2.2.5-.6.5 1.1.5 2.7.5 4.2.5 5.6.5 6.6.5 7.4.5 8 .5 8.4.5 8.5.5 8.4.5 8.2.5 7.9.5 7.8.5 7.4.5 7.2.5 7.1.5 6.9.5 6.8.5 6.7.5 6.4.5 6 .5 5.6.5 5 .5 4.2.5 3.3.5 2.2.5 1 .5-.2.5-1.4.5-2.5.5-3.6.5-4.4.5-5.2.5-5.8.5-6.2.5-6.5.5-6.7.5-6.9.5-7 .5-7.1.5-7.4.5-7.6.5-7.9.5-8.2.5-8.4.5-8.5.5-8.6.5-8.4.5-8 .5-7.4.5-6.4.5-5.2.5-3.8.5-2.2.5-.6.5 1.2.5 2.8.5 4.3.5 5.7.5 6.8.5 7.6.5 8.2.5 8.5.5 8.6.5 8.6.5 8.4.5 8.1.5 7.8.5 7.6.5 7.4.5 7.2.5 7 .5 6.9.5 6.8.5 6.5.5 6.1.5 5.7.5 5.1.5 4.2.5 3.3.5 2.2.5 1 .5-.2.5-1.5.5-2.6.5-3.6.5-4.6.5-5.3.5-5.9.5-6.3.5-6.6.5-6.8.5-7 .5-7.1.5-7.3.5-7.5.5-7.7.5-8 .5-8.3.5-8.6.5-8.7.5-8.7.5-8.5.5-8.1.5-7.4.5-6.5.5-5.3.5-3.8.5-2.2.5-.5.5 1.2.5 2.9.5 4.4.5 5.8.5 6.9.5 7.7.5 8.4.5 8.6.5 8.8.5 8.6.5 8.5.5 8.2.5 8 .5 7.7.5 7.4.5 7.3.5 7.1.5 7 .5 6.8.5 6.6.5 6.3.5 5.7.5 5.1.5 4.3.5 3.3.5 2.1.5 1 .5-.2.5-1.5.5-2.7.5-3.7.5-4.6.5-5.4.5-6 .5-6.4.5-6.7.5-6.9.5-7 .5-7.3.5-7.3.5-7.6.5-7.8.5-8.2.5-8.4.5-8.6.5-8.8.5-8.8.5-8.6.5-8.2.5-7.5.5-6.5.5-5.3.5-3.8.5-2.2.5-.5.5 1.3.5 2.9.5 4.6.5 5.8.5 7 .5 7.9.5 8.4.5 8.7.5 8.8.5 8.8.5 8.6.5 8.3.5 8 .5 7.7.5 7.6.5 7.3.5 7.2.5 7 .5 6.9.5 6.7.5 6.2.5 5.8.5 5.1.5 4.3.5 3.3.5 2.2.5 1 .5-.3.5-1.6.5-2.7.5-3.7.5-4.7.5-5.5.5-6 .5-6.5.5-6.7.5-7 .5-7.1.5-7.3.5-7.5.5-7.6.5-7.9.5-8.2.5-8.5.5-8.7.5-8.8.5-8.9.5-8.7.5-8.2.5-7.5.5-6.6.5-5.3.5-3.8.5-2.2.5-.4.5 1.3.5 3 .5 4.6.5 5.9.5 7.1.5 7.9.5 8.5.5 8.8.5 8.9.5 8.8.5 8.6.5 8.4.5 8.1.5 7.8.5 7.5.5 7.4.5 7.3.5 7.1.5 6.9.5 6.6.5 6.4.5 5.8.5 5.1.5 4.3.5 3.3.5 2.2.5.9.5-.3.5-1.6.5-2.7.5-3.9.5-4.7.5-5.5.5-6.1.5-6.5.5-6.8.5-7 .5-7.2.5-7.3.5-7.5.5-7.7.5-8 .5-8.2.5-8.6.5-8.7.5-8.9.5-9 .5-8.7.5-8.2.5-7.6.5-6.5.5-5.3.5-3.9.5-2.1.5-.4.5 1.3.5 3.1.5 4.6.5 6 .5 7.2.5 7.9.5 8.6.5 8.8.5 9 .5 8.9.5 8.6.5 8.4.5 8.1.5 7.8.5 7.7.5 7.4.5 7.3.5 7.1.5 6.9.5 6.7.5 6.4.5 5.8.5 5.1.5 4.3.5 3.3.5 2.2.5.9.5-.4.5-1.6.5-2.8.5-3.8.5-4.8.5-5.6.5-6.1.5-6.5.5-6.9.5-7 .5-7.2.5-7.4.5-7.5.5-7.8.5-8 .5-8.3.5-8.5.5-8.9.5-8.9.5-9 .5-8.7.5-8.3.5-7.6.5-6.5.5-5.3.5-3.8.5-2.2.5-.3.5 1.4.5 3.1.5 4.7.5 6 .5 7.2.5 8 .5 8.6.5 8.9.5 9 .5 8.9.5 8.7.5 8.4.5 8.1.5 7.9.5 7.6.5 7.5.5 7.3.5 7.1.5 7 .5 6.7.5 6.4.5 5.8.5 5.2.5 4.2.5 3.3.5 2.2.5.9.5-.4.5-1.7.5-2.8.5-3.9.5-4.8.5-5.6.5-6.1.5-6.6.5-6.9.5-7.1.5-7.2.5-7.4.5-7.6.5-7.8.5-8 .5-8.3.5-8.6.5-8.9.5-9 .5-8.9.5-8.8.5-8.3.5-7.6.5-6.5.5-5.3.5-3.8.5-2.1.5-.3.5 1.4.5 3.2.5 4.7.5 6.1.5 7.2.5 8.1.5 8.6.5 8.9.5 9 .5 9 .5 8.7.5 8.4.5 8.2.5 7.8.5 7.7.5 7.5.5 7.3.5 7.1.5 7 .5 6.8.5 6.3.5 5.8.5 5.2.5 4.3.5 3.2.5 2.2.5.8.5-.4.5-1.6.5-2.9.5-3.9.5-4.9.5-5.6.5-6.2.5-6.6.5-6.9.5-7.1.5-7.3.5-7.4.5-7.6.5-7.8.5-8 .5-8.4.5-8.6.5-8.9.5-9 .5-9 .5-8.8.5-8.3.5-7.6.5-6.5.5-5.3.5-3.7.5-2.1.5-.3.5 1.5.5 3.2.5 4.7.5 6.2.5 7.2.5 8.1.5 8.7.5 8.9.5 9.1.5 8.9.5 8.8.5 8.4.5 8.2.5 7.9.5 7.6.5 7.5.5 7.3.5 7.2.5 7 .5 6.7.5 6.4.5 5.8.5 5.2.5 4.3.5 3.2.5 2.1.5.8.5-.4.5-1.7.5-2.9.5-3.9.5-4.9.5-5.7.5-6.2.5-6.6.5-6.9.5-7.1.5-7.3.5-7.5.5-7.6.5-7.8.5-8.1.5-8.3.5-8.7.5-8.9.5-9 .5-9 .5-8.8.5-8.3.5-7.6.5-6.5.5-5.3.5-3.7.5-2.1.5-.2.5 1.5.5 3.2.5 4.8.5 6.2.5 7.3.5 8.1.5 8.7.5 9 .5 9 .5 9 .5 8.7.5 8.5.5 8.2.5 7.9.5 7.6.5 7.5.5 7.4.5 7.2.5 7 .5 6.7.5 6.3.5 5.9.5 5.1.5 4.3.5 3.2.5 2.1.5.8.5-.5.5-1.7.5-2.9.5-4 .5-4.9.5-5.7.5-6.2.5-6.6.5-7 .5-7.1.5-7.3.5-7.5.5-7.6.5-7.8.5-8.1.5-8.4.5-8.7.5-8.9.5-9 .5-9.1.5-8.7.5-8.4.5-7.5.5-6.5.5-5.3.5-3.7.5-2 .5-.2.5 1.6.5 3.2.5 4.9.5 6.2.5 7.3.5 8.2.5 8.7.5 8.9.5 9.1.5 9 .5 8.7.5 8.5.5 8.1.5 8 .5 7.6.5 7.5.5 7.4.5 7.2.5 7 .5 6.7.5 6.4.5 5.8.5 5.1.5 4.3.5 3.2.5 2 .5.8.5-.5.5-1.7.5-3 .5-4 .5-4.9.5-5.7.5-6.2.5-6.7.5-6.9.5-7.2.5-7.3.5-7.5.5-7.6.5-7.8.5-8.2.5-8.4.5-8.6.5-9 .5-9 .5-9.1.5-8.8.5-8.3.5-7.5.5-6.5.5-5.2.5-3.7.5-2 .5-.2.5 1.6.5 3.3.5 4.9.5 6.3.5 7.3.5 8.2.5 8.7.5 9 .5 9.1.5 8.9.5 8.8.5 8.5.5 8.1.5 7.9.5 7.7.5 7.5.5 7.4.5 7.2.5 7 .5 6.7.5 6.4.5 5.8.5 5.1.5 4.2.5 3.2.5 2 .5.8.5-.5.5-1.8.5-3 .5-4 .5-4.9.5-5.7.5-6.3.5-6.7.5-6.9.5-7.2.5-7.3.5-7.5.5-7.6.5-7.9.5-8.1.5-8.4.5-8.7.5-9 .5-9 .5-9.1.5-8.8.5-8.3.5-7.5.5-6.5.5-5.2.5-3.6.5-1.9.5-.2.5 1.6.5 3.4.5 4.9.5 6.3.5 7.3.5 8.2.5 8.8.5 9 .5 9 .5 9 .5 8.8.5 8.4.5 8.2.5 7.9.5 7.7.5 7.5.5 7.4.5 7.1.5 7.1.5 6.7.5 6.3.5 5.8.5 5.1.5 4.3.5 3.1.5 2 .5.8.5-.6.5-1.8.5-3 .5-4 .5-5 .5-5.7.5-6.3.5-6.7.5-6.9.5-7.2.5-7.3.5-7.5.5-7.7.5-7.8.5-8.2.5-8.4.5-8.7.5-8.9.5-9.1.5-9.1.5-8.7.5-8.3.5-7.6.5-6.4.5-5.2.5-3.6.5-1.9.5-.1.5 1.6.5 3.4.5 5 .5 6.3.5 7.4.5 8.2.5 8.7.5 9 .5 9.1.5 9 .5 8.7.5 8.5.5 8.2.5 7.9.5 7.7.5 7.5.5 7.3.5 7.2.5 7 .5 6.8.5 6.3.5 5.8.5 5.1.5 4.2.5 3.1.5 2 .5.7.5-.5.5-1.9.5-3 .5-4.1.5-5 .5-5.7.5-6.3.5-6.7.5-6.9.5-7.2.5-7.4.5-7.4.5-7.7.5-7.9.5-8.1.5-8.5.5-8.7.5-8.9.5-9.1.5-9 .5-8.8.5-8.3.5-7.5.5-6.5.5-5.1.5-3.6.5-1.8.5-.1.5 1.7.5 3.4.5 5 .5 6.3.5 7.4.5 8.2.5 8.8.5 9 .5 9.1.5 9 .5 8.7.5 8.5.5 8.2.5 7.9.5 7.6.5 7.5.5 7.4.5 7.2.5 7 .5 6.7.5 6.4.5 5.7.5 5.1.5 4.2.5 3.1.5 2 .5.7.5-.6.5-1.9.5-3 .5-4.1.5-5 .5-5.8.5-6.3.5-6.7.5-7 .5-7.1.5-7.4.5-7.5.5-7.6.5-7.9.5-8.2.5-8.4.5-8.8.5-8.9.5-9.1.5-9 .5-8.8.5-8.3.5-7.5.5-6.4.5-5.1.5-3.5.5-1.9.5 0 .5 1.7.5 3.5.5 5 .5 6.3.5 7.5.5 8.2.5 8.8.5 9 .5 9.1.5 8.9.5 8.8.5 8.5.5 8.1.5 7.9.5 7.7.5 7.5.5 7.4.5 7.1.5 7.1.5 6.7.5 6.3.5 5.8.5 5 .5 4.2.5 3.1.5 1.9.5.7.5-.6.5-1.9.5-3.1.5-4.1.5-5 .5-5.8.5-6.3.5-6.7.5-7 .5-7.2.5-7.3.5-7.5.5-7.7.5-7.9.5-8.1.5-8.5.5-8.7.5-9 .5-9.1.5-9 .5-8.8.5-8.3.5-7.4.5-6.4.5-5.1.5-3.5.5-1.8.5 0 .5 1.7.5 3.5.5 5.1.5 6.3.5 7.5.5 8.3.5 8.7.5 9.1.5 9.1.5 8.9.5 8.8"/>
<path clip-path="url(#cb)" fill="none" stroke="#EDB120" stroke-width="0.9" stroke-linejoin="round" d="M77 389.9l.2 15.2.3-14.6.3 15.9.2-15.7.2 14.4.3-13.7.3 13.5.2-15.1.2 14 .3-14.7.3 15.8.2-15.9.2 16.3.3-15.1.3 15.8.2-14.9.2 14.9.3-15.6.3 14.3.2-13.2.2 13 .3-13.6.3 15.5.2-14.8.2 16.1.3-16.1.3 16.4.2-14.4.2 13.6.3-13.5.3 14.9.2-14.7.2 13.7.3-12.6.3 13.7.2-14.4.2 15.5.3-15.9.3 14.3.2-13.9.2 15.5.3-15.2.3 12.3.2-13.7.2 15.6.3-16.4.3 16.2.2-16.4.2 13.9.3-12.7.3 12.3.2-13.8.2 14 .3-15.7.3 14.9.2-15.3.2 14.6.3-13.8.3 15.1.2-14.8.2 15.6.3-14.5.3 14.7.2-14.7.2 12.8.3-13.1.3 15 .2-14.9.2 14.4.3-13.7.3 14.4.2-14.3.2 13.7.3-14.8.3 15.7.2-15.9.2 13.8.3-13.7.3 14.1.2-15.5.2 15.5.3-16 .3 13.7.2-13.5.2 14 .3-16.1.3 16.1.2-16.1.2 16.2.3-17.4.3 15.5.2-13.7.2 13 .3-13.1.3 13.2.2-13.5.2 15.3.3-14.7.3 15.5.2-16.5.2 14.9.3-13.7.3 15.8.2-15.4.2 16.3.3-14.6.3 14.6.2-13.9.2 14 .3-14.7.3 14.7.2-15 .2 15.5.3-14.1.3 13.5.2-13.5.2 12 .3-13.5.3 14.2.2-12.3.2 10.9.3-9.4.3 11 .2-10.2.2 9.3.3-8.1.3 9.5.2-8.2.2 9.5.3-8.1.3 9.7.2-7.5.2 9.3.3-7.5.3 10.4.2-8.7.2 10.6.3-8.8.3 10.5.2-8.1.2 10.4.3-9 .3 12.7.2-11.7.2 13.1.3-10.7.3 12 .2-10.6.2 12.4.3-12.4.3 14.6.2-13 .2 13.1.3-13.7.3 14.3.2-12.9.2 12.4.3-12.7.3 11 .2-11.3.2 10 .3-9.6.3 7.7.2-9.1.2 6.3.3-7.9.3 5.7.2-6 .2 3.7.3-5.8.3 2.9.2-4.8.2 2 .3-4.3.3 1.8.2-4.3.2 1 .3-3.9.3.8.2-3.7.2.5.3-4.2.3.7.2-4.6.2 1 .3-5.6.3 2.1.2-7.1.2 3.5.3-8.1.3 4.1.2-9 .2 5.5.3-10.6.3 7.1.2-11.9.2 8.7.3-13.3.3 8.9.2-12.7.2 11.4.3-15.1.3 11.8.2-13.8.2 11.8.3-13.1.3 13.8.2-12.3.2 13.2.3-13 .3 14.2.2-11 .2 11.5.3-9.7.3 11.9.2-7.3.2 11 .3-5.9.3 8.8.2-4.7.2 9.5.3-4.1.3 8.3.2-2.5.2 6.9.3-1.1.3 5.4.2 0 .2 4.7.3.4.3 4.2.2.7.2 3.9.3.9.3 4.2.2.4.2 4.3.3.3.3 4.4.2 0 .2 5.3.3-1.6.3 7 .2-2.7.2 7.2.3-3.1.3 8.2.2-4.1.2 9.2.3-6.6.3 11 .2-6.9.2 11.4.3-9.2.3 13.3.2-12.4.2 13.4.3-11.1.3 14.2.2-11.8.2 11.5.3-12.9.3 12.5.2-11.7.2 10.3.3-12.5.3 11.5.2-13.2.2 9.1.3-11.4.3 7.7.2-10.5.2 6.3.3-9.3.3 4.9.2-8.3.2 3.5.3-7.6.3 1.6.2-6.2.2 1.3.3-5.4.3-.3.2-4.5.2-.9.3-4.5.3-.9.2-4.4.2-1.2.3-4.5.3-1.3.2-5 .2-.8.3-5.6.3-.7.2-5.9.2.1.3-7.8.3 1.2.2-8 .2 1.9.3-9.7.3 4.7.2-11.1.2 4.4.3-11.4.3 7.8.2-13.8.2 8 .3-13.4.3 10.9.2-15 .2 12.5.3-13.7.3 11.9.2-11.7.2 11.3.3-10.8.3 13.1.2-11.2.2 13 .3-9.7.3 13.5.2-9.4.2 12.5.3-5.9.3 11.3.2-5.5.2 10.8.3-3.4.3 9.8.2-1.8.2 8.3.3-1.2.3 7.6.2.1.2 6.3.3.8.3 5.6.2 1.4.2 5 .3 1.3.3 4.8.2 1.7.2 4.5.3 1.4.3 5 .2.7.2 5.5.3.4.3 6 .2-.6.2 7 .3-2.5.3 8.6.2-3 .2 9.3.3-4.6.3 10.7.2-6.2.2 11.2.3-7.2.3 11 .2-8.8.2 12.6.3-10.9.3 15.4.2-12.7.2 14.3.3-14.3.3 14.1.2-12.4.2 11.2.3-13.3.3 11.5.2-12.2.2 10.2.3-12.8.3 8.7.2-11.6.2 6.4.3-10.1.3 5.1.2-9.9.2 4.4.3-9.4.3 3.2.2-8.2.2 2 .3-7.2.3.9.2-6.3.2-.4.3-5.1.3-1.2.2-5.1.2-1.5.3-5 .3-1.5.2-5.2.2-1.6.3-5.4.3-1.5.2-6 .2-.8.3-6.9.3-.3.2-8.3.2 1.4.3-9.1.3 1.7.2-10.4.2 4 .3-11.3.3 4.4.2-12.7.2 6.5.3-13.1.3 8.4.2-13.7.2 10.1.3-13.5.3 12.1.2-14.1.2 12 .3-13.9.3 13.3.2-12.3.2 14.1.3-11.6.3 14.1.2-7.9.2 12.2.3-8.3.3 14.2.2-7.4.2 13.3.3-5.1.3 10.6.2-3.2.2 10.3.3-1.5.3 8.5.2-.1.2 7.4.3.5.3 6.9.2 1.1.2 6.1.3 1.7.3 5.2.2 2.1.2 5.1.3 1.8.3 4.9.2 1.5.2 5.3.3 1.1.3 5.8.2.6.2 6.3.3-.4.3 7.3.2-1.7.2 8.5.3-3.6.3 9.3.2-3.6.2 9.8.3-6.1.3 11.7.2-7.2.2 12.8.3-8.4.3 11.8.2-10.4.2 13.8.3-10.9.3 12 .2-11.8.2 13.8.3-14.1.3 13.8.2-14.2.2 11.6.3-14.2.3 11.3.2-13.8.2 9.8.3-13.9.3 7.1.2-10.3.2 5.1.3-10 .3 4.5.2-10 .2 2.7.3-8.1.3 1.4.2-7 .2.2.3-6 .3-.6.2-5.9.2-1.1.3-5.2.3-1.8.2-5.2.2-2.1.3-4.9.3-2.1.2-5.7.2-1.7.3-6.2.3-1.1.2-7.3.2-.6.3-8.4.3.9.2-9.2.2 1.6.3-9.7.3 2.9.2-11.3.2 4.6.3-13.5.3 7.9.2-13.2.2 7.4.3-14.2.3 10.5.2-12.9.2 9.9.3-13.3.3 12.5.2-14.5.2 15.3.3-12.8.3 13 .2-11.2.2 15.6.3-10.6.3 14 .2-8.7.2 14 .3-6 .3 12.3.2-4.4.2 11.4.3-3 .3 9.8.2-.9.2 9 .3-.2.3 7.4.2.9.2 6.8.3 1.7.3 6 .2 2 .2 5.5.3 2.1.3 5.2.2 2.1.2 5.1.3 1.7.3 5.4.2 1.2.2 6 .3.7.3 6.5.2-.9.2 7.9.3-2.1.3 8.8.2-3 .2 10.1.3-4.4.3 10.7.2-5.5.2 11.6.3-7.5.3 12.6.2-10.1.2 14.4.3-10.2.3 13 .2-11.2.2 12.6.3-13.2.3 13.7.2-12.4.2 12.1.3-14.9.3 13.3.2-14.4.2 10.6.3-13.3.3 8.9.2-13.1.2 7.5.3-11.3.3 4.7.2-9.8.2 3.8.3-9.4.3 2.3.2-8.3.2 1.2.3-6.9.3-.1.2-6.3.2-.8.3-5.7.3-1.5.2-5.3.2-1.8.3-5.2.3-2.2.2-5.3.2-2.2.3-5.8.3-1.8.2-6.3.2-1.6.3-6.9.3-.9.2-7.8.2.2.3-9.8.3 2 .2-10.4.2 2.5.3-12 .3 5.8.2-13.2.2 6.7.3-12.8.3 8.3.2-13.5.2 8.9.3-14.9.3 11.5.2-12.3.2 12.2.3-12.8.3 11.6.2-10.8.2 13.7.3-10.9.3 13.4.2-9.5.2 15 .3-9.3.3 14.9.2-6.7.2 12 .3-3.4.3 10.4.2-2.2.2 10 .3-1.2.3 8.9.2.5.2 8 .3.8.3 6.6.2 1.7.2 6.2.3 2.1.3 5.7.2 2.3.2 5.1.3 2.3.3 5.2.2 1.8.2 5.6.3 1.1.3 6.1.2.6.2 6.4.3-.2.3 8 .2-1.8.2 8.8.3-3.2.3 10.5.2-4.8.2 10.3.3-5.6.3 11.3.2-6.3.2 11.7.3-8.7.3 14.4.2-11.1.2 13 .3-10.6.3 13.1.2-13.8.2 14.8.3-14.1.3 11.8.2-12.2.2 10.1.3-12.4.3 9 .2-13.7.2 9 .3-12.6.3 8 .2-11.5.2 4.4.3-10.6.3 4.5.2-9.4.2 2 .3-8.2.3 1.5.2-7.2.2-.1.3-6.6.3-.8.2-5.9.2-1.6.3-5.3.3-2 .2-5.2.2-2.3.3-5.5.3-2.3.2-5.6.2-2 .3-6.8.3-1.3.2-7.1.2-1.1.3-8.3.3.4.2-9.6.2 1.5.3-9.9.3 2.4.2-11.1.2 4.7.3-12.9.3 6.6.2-13.8.2 7.7.3-13.4.3 9.7.2-14.6.2 11.2.3-13.2.3 11.6.2-12.6.2 13.5.3-12.5.3 15.2.2-11.8.2 13.6.3-9.2.3 15.1.2-7.2.2 13.1.3-5.9.3 12.1.2-4 .2 11.6.3-3.4.3 10.9.2-1.3.2 8.9.3 0 .3 8 .2 1.2.2 7.2.3 1.7.3 6.3.2 2 .2 5.7.3 2.1.3 5.5.2 2.2.2 5.4.3 1.7.3 5.6.2 1.5.2 5.7.3 1.2.3 6.4.2-.1.2 7.1.3-1.3.3 9.1.2-2.6.2 9.1.3-3.8.3 10.7.2-6.6.2 13 .3-8.1.3 13.2.2-9.6.2 13.9.3-11.8.3 13.8.2-10 .2 12.6.3-12.7.3 12.3.2-12.7.2 13.4.3-14.3.3 11.2.2-14.4.2 11.9.3-13.3.3 7.3.2-12.4.2 8 .3-12.4.3 5.4.2-10.2.2 3.5.3-9.2.3 2.2.2-8.5.2 1.3.3-7.5.3-.4.2-6.4.2-1.1.3-5.5.3-1.8.2-5.4.2-2 .3-5.3.3-2.3.2-5.5.2-2.2.3-6.2.3-1.9.2-6.6.2-1.5.3-7.2.3-.6.2-9.1.2.7.3-9.8.3 1.5.2-10.5.2 3.7.3-12.2.3 4.8.2-14 .2 6.9.3-13.8.3 9.2.2-13.6.2 9.7.3-14.6.3 10.2.2-13.8.2 13.5.3-12.8.3 13 .2-12.4.2 13.9.3-11.2.3 15 .2-9.2.2 14.6.3-8.8.3 13.8.2-5.9.2 13 .3-4.8.3 11.6.2-2.1.2 10.9.3-1.6.3 8.8.2.5.2 8.2.3.9.3 7.3.2 1.5.2 6.2.3 2.4.3 5.8.2 2 .2 5.7.3 2.1.3 5.4.2 2 .2 5.4.3 1.8.3 6 .2.4.2 6.7.3.4.3 7.5.2-1.9.2 9 .3-2.8.3 9.4.2-4.2.2 11.2.3-6.5.3 12.3.2-7.4.2 12.8.3-8.1.3 13.7.2-10.9.2 13.8.3-12.8.3 13.3.2-12.5.2 13.1.3-12.5.3 11.5.2-13.3.2 11 .3-13.3.3 10.1.2-12.4.2 7 .3-12.5.3 7.7.2-12.6.2 5.4.3-9.7.3 3.6.2-9.6.2 2.1.3-8.2.3.8.2-7.1.2-.2.3-6.5.3-.9.2-5.8.2-1.9.3-5.5.3-2.2.2-5.3.2-2.2.3-5.8.3-2.2.2-6.1.2-2 .3-6.5.3-1.4.2-7.9.2-.5.3-9 .3.9.2-10.2.2 1.7.3-10.3.3 2.2.2-11.7.2 5.1.3-13.7.3 6.5.2-13.1.2 8 .3-13.3.3 9.8.2-14.5.2 11.8.3-13.8.3 13.1.2-13.7.2 13.9.3-13.4.3 14.2.2-11.1.2 14.9.3-9.4.3 14 .2-6.5.2 13.5.3-6.4.3 12.3.2-4.7.2 12.2.3-2.9.3 10.8.2-.9.2 9.1.3.3.3 8.1.2 1 .2 7.2.3 1.7.3 6.5.2 2.1.2 5.8.3 2.5.3 5.4.2 2.2.2 5.5.3 2 .3 5.4.2 1.7.2 6.1.3.7.3 6.8.2-.3.2 8.2.3-2 .3 9.1.2-2.5.2 9.8.3-4.9.3 11 .2-5.6.2 11.3.3-6.9.3 13.1.2-9.4.2 12.7.3-9.7.3 14 .2-11.2.2 12.9.3-14 .3 15 .2-15 .2 12 .3-12.4.3 10.6.2-12.4.2 9 .3-12.7.3 8.2.2-13.2.2 7.4.3-12.1.3 5.5.2-10 .2 3.6.3-10.3.3 2.8.2-8 .2.1.3-6.8.3-.6.2-6.2.2-1.4.3-5.8.3-1.7.2-5.5.2-2.1.3-5.5.3-2.3.2-5.5.2-2.4.3-6 .3-2.2.2-6.6.2-1.4.3-7.6.3-.6.2-8.5.2-.4.3-9.5.3 1.3.2-10.2.2 3.1.3-13 .3 5.2.2-13.1.2 6.1.3-12.2.3 7.3.2-13.8.2 9 .3-12.9.3 11.7.2-14.5.2 12.3.3-13.5.3 14.9.2-12.3.2 13.5.3-10.2.3 14.2.2-9.6.2 14.3.3-7.8.3 13.1.2-5.5.2 12.9.3-4.5.3 12.1.2-2.5.2 10.5.3-.9.3 8.8.2.7.2 7.8.3 1.4.3 7 .2 1.7.2 6.4.3 2.4.3 5.6.2 2.6.2 5.4.3 2.2.3 5.4.2 2.2.2 5.7.3 1.4.3 5.9.2.7.2 7.2.3-.2.3 7.7.2-1.1.2 8.8.3-3.4.3 10.3.2-3.9.2 10.5.3-5.1.3 10.8.2-6.3.2 11.3.3-9.1.3 13.4.2-10.1.2 14.4.3-12.7.3 13.8.2-13.3.2 14 .3-13.9.3 11.7.2-13 .2 12 .3-14.5.3 11 .2-13.3.2 7.7.3-11.5.3 5.2.2-10.8.2 4.9.3-10.6.3 3.3.2-8.6.2 2.1.3-8.4.3.5.2-7.1.2-.5.3-6.3.3-1.2.2-6 .2-1.9.3-5.4.3-2.2.2-5.4.2-2.3.3-5.7.3-2.5.2-5.8.2-2.4.3-6.6.3-1.4.2-7.5.2-.8.3-9.1.3.8.2-10.5.2 2.6.3-11.2.3 2.9.2-12.4.2 5.2.3-13.4.3 6.7.2-14.3.2 8.5.3-12.8.3 9.5.2-15 .2 12.6.3-13.8.3 12.3.2-13.5.2 13 .3-11.6.3 14.3.2-11.5.2 15.6.3-9.2.3 13.9.2-8.1.2 13.3.3-4.9.3 11.7.2-3.7.2 11.6.3-2.9.3 10.7.2-.7.2 9.2.3.2.3 8.5.2 1.1.2 7 .3 1.9.3 6.5.2 2.1.2 6.1.3 2.3.3 5.3.2 2.4.2 5.4.3 2 .3 5.7.2 1.6.2 6 .3.8.3 7.1.2-.4.2 7.5.3-1 .3 9.2.2-3.2.2 9.6.3-4 .3 11.4.2-5.8.2 12.4.3-8.9.3 13.4.2-8.5.2 12.7.3-10.6.3 14.4.2-11.6.2 11.9.3-11.9.3 12.2.2-12.9.2 13.4.3-14.5.3 10.8.2-14 .2 11.5.3-14.5.3 8.5.2-12.9.2 7.8.3-11.3.3 5 .2-10.9.2 2.8.3-9.2.3 2.6.2-8.6.2.8.3-7.2.3-.4.2-6.6.2-.8.3-6 .3-1.9.2-5.5.2-2.3.3-5.3.3-2.6.2-5.5.2-2.4.3-6.1.3-2.1.2-6.8.2-1.7.3-7.7.3-.2.2-8.9.2.5.3-10.4.3 1.5.2-10.6.2 3.4.3-12.5.3 4.1.2-12.3.2 6.4.3-14.3.3 8.5.2-13.2.2 9 .3-13.7.3 12.5.2-15.7.2 13.4.3-13 .3 13.9.2-11.6.2 13.3.3-10.1.3 13.4.2-7.8.2 13.9.3-7.3.3 12.7.2-5 .2 11.3.3-4 .3 11.9.2-2.4.2 10.5.3-.6.3 9.5.2-.1.2 8.3.3 1.2.3 7.2.2 2 .2 6.4.3 2.3.3 5.8.2 2.4.2 5.4.3 2.3.3 5.7.2 2.1.2 5.6.3 1.3.3 6.1.2 1.1.2 7.1.3-.7.3 8 .2-1.6.2 8.6.3-2.3.3 10.3.2-4.3.2 10.1.3-4.8.3 11.3.2-7.5.2 12.8.3-8 .3 12.2.2-9.5.2 12.2.3-11.3.3 14.7.2-12.7.2 13.1.3-15.2.3 12.4.2-14 .2 11.4.3-12.9.3 10.6.2-14.3.2 8.5.3-12.2.3 6 .2-10.9.2 4.2.3-9.9.3 3.5.2-9.3.2 1.6.3-8.3.3.8.2-7 .2-.3.3-6.5.3-1.6.2-5.7.2-1.7.3-5.7.3-2.1.2-5.7.2-2.3.3-5.7.3-2.4.2-6.2.2-1.8.3-6.9.3-1.5.2-8.1.2-.6.3-9 .3.4.2-9.6.2 1.6.3-11.3.3 4.2.2-13.1.2 5.7.3-13.1.3 6.9.2-14.1.2 7.5.3-14.1.3 9.6.2-12.6.2 10.8.3-15.1.3 13.5.2-12.6.2 12.5.3-10.6.3 12.8.2-9.3.2 13.8.3-9.1.3 13.8.2-8 .2 13.5.3-5.4.3 13.6.2-4.4.2 12.1.3-2.8.3 10 .2-.7.2 9.7.3.5.3 7.8.2 1.2.2 7.4.3 1.6.3 6.4.2 2.3.2 5.9.3 2.4.3 5.6.2 2.3.2 5.7.3 1.8.3 5.7.2 1.6.2 6.3.3.4.3 7 .2-.4.2 8.3.3-1.6.3 9.1.2-3.2.2 9.7.3-3.5.3 11.3.2-6.2.2 11.4.3-7.8.3 14 .2-10.2.2 14.7.3-11.4.3 13.8.2-11.3.2 14.1.3-14.2.3 12.8.2-13.9.2 12.2.3-11.5.3 9.7.2-12.7.2 9.7.3-13 .3 7.6.2-12.2.2 5.8.3-11.2.3 5.7.2-11.6.2 3.6.3-8.8.3 1.6.2-8.1.2.9.3-7.3.3-.5.2-6.4.2-1.4.3-6 .3-1.7.2-5.5.2-2.3.3-5.6.3-2.4.2-5.8.2-2.4.3-5.8.3-2.5.2-6.5.2-1.8.3-7.9.3-.7.2-8.9.2.6.3-9.8.3 1.3.2-10.3.2 2.3.3-12.3.3 6.1.2-14.7.2 8.3.3-15 .3 8.7.2-14.1.2 9.5.3-14.5.3 12.8.2-13.4.2 11.5.3-13.5.3 15 .2-12.1.2 13.8.3-11.1.3 15.4.2-9.5.2 12.9.3-5.8.3 12.8.2-6.2.2 13.7.3-4.6.3 12.1.2-2.6.2 10.1.3-.4.3 9.4.2-.1.2 8.3.3 1.5.3 7.3.2 1.9.2 6.2.3 2.2.3 6 .2 2.3.2 5.7.3 2.1.3 5.7.2 2.1.2 5.6.3 1.6.3 6.2.2.8.2 6.6.3-.3.3 8.5.2-1.7.2 9 .3-2.7.3 10.1.2-4.3.2 10.3.3-5.2.3 12.6.2-8.9.2 13.7.3-10 .3 13.6.2-10 .2 14.1.3-13.3.3 14.7.2-12.8.2 12 .3-12.5.3 12.2.2-13.9.2 11.3.3-13.5.3 9.9.2-13.9.2 8.9.3-13 .3 6.2.2-11.7.2 4.8.3-10.3.3 3.8.2-9.6.2 2.4.3-8.3.3.6.2-7.6.2 0 .3-6.8.3-1 .2-5.9.2-1.9.3-5.7.3-2.1.2-5.5.2-2.5.3-5.8.3-2.2.2-6.2.2-2 .3-7.1.3-1.5.2-7.6.2-.6.3-9.1.3 0 .2-10.1.2 2.7.3-11.2.3 2.8.2-13 .2 6 .3-13.9.3 6.6.2-13.8.2 8.9.3-15.2.3 11.8.2-13.7.2 9.9.3-14.3.3 13.3.2-12.3.2 13.7.3-12.7.3 13.5.2-10.2.2 14.8.3-9.2.3 14.7.2-7.6.2 12.6.3-4.7.3 12.1.2-3.5.2 11.5.3-2 .3 10 .2-.2.2 8.8.3.8.3 7.6.2 1.8.2 6.7.3 2.1.3 6.6.2 2.3.2 5.8.3 2.3.3 5.5.2 2.5.2 5.4.3 2.1.3 5.6.2 1.6.2 6.2.3 1 .3 6.5.2 0 .2 7.7.3-1.4.3 9.3.2-3.2.2 10.1.3-4.1.3 10.6.2-6 .2 11.9.3-7.9.3 13 .2-8 .2 12.4.3-10.9.3 15.4.2-12.8.2 14.4.3-12.4.3 12.7.2-15.2.2 12.4.3-12.1.3 11.2.2-14.2.2 10.1.3-14.8.3 9.3.2-13.5.2 7.4.3-11.5.3 4.9.2-10.2.2 3.3.3-10.1.3 1.8.2-8 .2 1.1.3-7.8.3-.3.2-6.2.2-1.5.3-5.6.3-2.2.2-5.4.2-2.2.3-5.5.3-2.6.2-5.6.2-2.5.3-6.2.3-2 .2-7 .2-1.4.3-7.6.3-1 .2-9.1.2 1 .3-10.4.3 2.3.2-12 .2 3.2.3-12.7.3 5.5.2-13.2.2 6.8.3-12.9.3 8.4.2-13.9.2 8.3.3-13.1.3 10.3.2-12.2.2 11.7.3-11.6.3 12.4.2-11.2.2 14.6.3-10.8.3 13.7.2-9 .2 14 .3-6.6.3 12.3.2-4.7.2 11.7.3-3.6.3 11.8.2-2.4.2 10.9.3-1.2.3 9.7.2.6.2 7.8.3 1.3.3 7.1.2 2.1.2 6.4.3 2.2.3 5.9.2 2.3.2 5.6.3 2.3.3 5.7.2 2.1.2 5.6.3 1.6.3 5.9.2 1 .2 6.7.3.1.3 7.6.2-1.8.2 9.5.3-3.1.3 10.5.2-5.2.2 11.2.3-6 .3 12.5.2-8.1.2 13.9.3-10.2.3 13.5.2-10.2.2 12.8.3-10.5.3 12.6.2-12.5.2 13.3.3-14 .3 12.9.2-14.7.2 12.2.3-13.1.3 9.3.2-14.1.2 9 .3-12.9.3 6 .2-11.2.2 5.5.3-10.7.3 2.7.2-8.7.2 2 .3-8.4.3.1.2-6.9.2-.7.3-6.4.3-1 .2-5.9.2-2 .3-5.7.3-2.3.2-5.6.2-2.3.3-5.8.3-2.3.2-6.2.2-2.2.3-6.7.3-1.7.2-7.6.2-1.1.3-8.9.3 1.1.2-10.5.2 1.6.3-11.2.3 2.9.2-11.7.2 5.6.3-14.4.3 6.8.2-14.3.2 8.5.3-14.1.3 10.3.2-12.5.2 9.9.3-12.3.3 11.4.2-12.3.2 13 .3-10.3.3 13 .2-10.2.2 14 .3-8.7.3 13.5.2-6.6.2 13.9.3-6.3.3 12.3.2-3.4.2 12.1.3-2.6.3 10.6.2-.9.2 8.8.3.9.3 8.1.2 1.4.2 7.1.3 1.6.3 6.5.2 2.3.2 5.9.3 2.4.3 5.5.2 2.5.2 5.4.3 2 .3 5.9.2 1.6.2 6 .3.8.3 6.9.2 0 .2 7.6.3-1.4.3 9.2.2-3.3.2 10.3.3-3.8.3 11.1.2-6.3.2 12.8.3-9 .3 14.3.2-9.5.2 12.1.3-10.6.3 14.7.2-12.2.2 13.2.3-11.7.3 11 .2-12.8.2 12.3.3-13.3.3 10.2.2-13.9.2 10.1.3-12.1.3 7.1.2-12.6.2 7.6.3-12.6.3 4.8.2-10.1.2 3.6.3-9.5.3 2.4.2-8.3.2 0 .3-6.8.3-.9.2-6 .2-1.7.3-5.7.3-2 .2-5.5.2-2.1.3-5.8.3-2.2.2-6 .2-2.2.3-6.4.3-2.1.2-6.8.2-1.7.3-7.9.3-.3.2-8.8.2-.1.3-9.6.3 1.9.2-12.1.2 4 .3-12 .3 4.9.2-14.4.2 8.3.3-13.9.3 8.2.2-13.8.2 10 .3-15.5.3 12.6.2-14.5.2 12.5.3-12.2.3 12.7.2-11 .2 14.9.3-9.9.3 13.2.2-8.2.2 12.5.3-7.1.3 13.5.2-4.9.2 12.8.3-4.1.3 11.8.2-1.8.2 10.2.3-.9.3 9 .2.7.2 7.8.3 1.5.3 7.1.2 2.2.2 6.1.3 2.5.3 5.7.2 2.6.2 5.4.3 2.5.3 5.4.2 2.1.2 5.7.3 1.4.3 6.4.2.8.2 6.6.3.2.3 7.6.2-1.4.2 8.7.3-3.2.3 11.3.2-5.7.2 12.3.3-6.7.3 12.5.2-7.9.2 12.7.3-8.4.3 12.9.2-11.7.2 15.4.3-11.8.3 12.7.2-12.7.2 12.2.3-13.1.3 12.2.2-12.8.2 11 .3-13.6.3 8.9.2-13.4.2 9.1.3-12.9.3 5.5.2-10.6.2 4.9.3-10.4.3 2.5.2-8.7.2 1.5.3-8.4.3.8.2-6.9.2-.6.3-6.6.3-1.5.2-5.6.2-2 .3-5.7.3-2.2.2-5.4.2-2.6.3-5.7.3-2.5.2-6.2.2-2.1.3-7 .3-1.3.2-7.8.2-.7.3-8.8.3-.1.2-10.4.2 3 .3-11.8.3 2.8.2-11.8.2 5 .3-12.4.3 6.2.2-14.1.2 8.5.3-13.6.3 10.1.2-15.5.2 12.8.3-13.4.3 13.1.2-14.5.2 13.7.3-11.5.3 14.5.2-10.3.2 14.5.3-10.1.3 14.2.2-6.9.2 13.9.3-5.8.3 13.4.2-4.3.2 11.6.3-2 .3 10.6.2-.7.2 8.9.3.4.3 8.3.2 1.2.2 7.2.3 1.8.3 6.2.2 2.6.2 5.6.3 2.7.3 5.3.2 2.6.2 5.5.3 1.8.3 5.8.2 1.5.2 6.2.3.6.3 7.1.2-.2.2 8 .3-1.9.3 9.1.2-2.8.2 10 .3-3.8.3 10.9.2-5.6.2 11.2.3-6.6.3 13.1.2-9.8.2 13.5.3-10.2.3 12.5.2-12 .2 13.5.3-12.3.3 13.4.2-14.2.2 12.9.3-13.3.3 10.7.2-15.1.2 10 .3-12.7.3 7 .2-12.2.2 6.4.3-11.3.3 4.9.2-9.7.2 3.2.3-9.5.3 1.6.2-7.7.2.1.3-6.9.3-.9.2-6.3.2-1.4.3-5.8.3-1.8.2-5.7.2-2.3.3-5.5.3-2.6.2-5.7.2-2.5.3-6.3.3-2.1.2-6.9.2-1.1.3-8.1.3-.7.2-9.4.2 1.2.3-10 .3 1 .2-11.4.2 4 .3-13 .3 6.5.2-14.9.2 7.1.3-13.8.3 9.5.2-13.8.2 10.1.3-14.6.3 12.1.2-14.8.2 13.1.3-11.7.3 12.7.2-11.8.2 13.6.3-9.7.3 13.7.2-8.3.2 13.8.3-7.7.3 13.9.2-5.5.2 12.6.3-3.8.3 12.1.2-2.1.2 10 .3-.8.3 9.4.2.5.2 7.7.3 1.7.3 6.9.2 2 .2 6.6.3 2.3.3 5.7.2 2.6.2 5.5.3 2.2.3 5.7.2 1.8.2 5.9.3 1.4.3 6.4.2.5.2 7.2.3-.5.3 8.4.2-1.8.2 9.4.3-3.3.3 10.7.2-4.6.2 11.4.3-6.5.3 11.9.2-7.5.2 12.8.3-9.1.3 13.5.2-11.6.2 14.4.3-12.4.3 13.8.2-12.2.2 11.9.3-13 .3 12.3.2-13.7.2 10.6.3-13.7.3 10.1.2-13 .2 7.9.3-13.4.3 6.7.2-11 .2 4.2.3-10 .3 2.5.2-9.2.2 1.8.3-7.7.3.1.2-6.7.2-.9.3-6.2.3-1.5.2-5.7.2-1.8.3-5.6.3-2.5.2-5.4.2-2.4.3-5.8.3-2.5.2-6.2.2-2.1.3-6.7.3-1.7.2-8.2.2-.2.3-9.4.3.6.2-9.8.2 1.9.3-11.6.3 2.9.2-12.3.2 5.5.3-13.1.3 7.8.2-14.2.2 7 .3-13.6.3 11.4.2-14.3.2 12 .3-15.7.3 13.8.2-12.9.2 14.5.3-13 .3 13.9.2-9.1.2 13.8.3-9 .3 13.2.2-5.9.2 13.7.3-5.4.3 12.4.2-3.7.2 11.1.3-2 .3 10.4.2-.2.2 8.7.3.2.3 8.4.2 1.5.2 6.7.3 2.1.3 6.5.2 2.2.2 5.9.3 2.3.3 5.6.2 2.4.2 5.5.3 2 .3 5.7.2 1.5.2 6.4.3.7.3 6.8.2-.1.2 7.8.3-1.6.3 9.5.2-3 .2 10 .3-5.3.3 12.5.2-7.4.2 13.3.3-7.6.3 13.4.2-10.4.2 12.6.3-10.4.3 14.1.2-10.7.2 11.6.3-11.1.3 10.9.2-11.4.2 10.5.3-12.6.3 10.8.2-15 .2 11.3.3-13.2.3 6.7.2-11.3.2 5.2.3-10.3.3 3.6.2-10.4.2 3.8.3-9.3.3 1.4.2-8 .2.4.3-7.1.3-.7.2-6.3.2-1.1.3-5.9.3-2 .2-5.6.2-2.3.3-5.6.3-2.3.2-5.8.2-2.5.3-6.1.3-2.1.2-7 .2-1.4.3-7.9.3-.7.2-9.2.2.8.3-10 .3 2 .2-11.7.2 3.9.3-12.2.3 4.9.2-13.6.2 7 .3-14.7.3 9 .2-14.9.2 12.1.3-14.8.3 12.5.2-14.6.2 13 .3-12.5.3 14 .2-13.6.2 14.4.3-8.9.3 13.6.2-9.5.2 15.5.3-8.1.3 13.7.2-5.9.2 13.7.3-3.8.3 11.3.2-2.2.2 10.1.3-.8.3 9.6.2.5.2 7.5.3 2 .3 6.8.2 2.2.2 6"/>
<path clip-path="url(#cc)" fill="none" stroke="#0072BD" stroke-width="2.4" stroke-linejoin="round" d="M77 670.9l.5-.5.5-.6.5.1.5.1.5.1.5.2.5.1.5.2.5.2.5.3.5.2.5-.2.5-.3.5-.3.5-.3.5-.2.5-.2.5-.2.5-.1.5-.2.5.3.5.5.5.6.5.5.5.6.5.5.5.6.5.6.5.5.5.3.5-.1.5-.2.5-.1.5-.1.5-.2.5-.2.5-.2.5-.3.5 0 .5.3.5.3.5.3.5.2.5.2.5.2.5.2.5.1.5.1.5-.6.5-.5.5-.5.5-.6.5-.5.5-.6.5-.6.5-.5.5-.6.5-.6.5-1.2.5-1.8.5-2.1.5-2.4.5-2.6.5-2.5.5-2.5.5-2.3.5-2.2.5-1.7.5-1.2.5-.6.5 0 .5.7.5 1.3.5 2 .5 2.6.5 3.3.5 3.7.5 4.2.5 4.5.5 4.8.5 4.9.5 5 .5 5 .5 4.9.5 4.7.5 4.5.5 4.2.5 3.9.5 3.5.5 3.1.5 2.6.5 2.3.5 1.7.5 1.2.5.7.5.2.5-.3.5-.9.5-1.5.5-2.1.5-2.6.5-3.2.5-3.7.5-4.3.5-4.7.5-5.3.5-5.7.5-6 .5-6.3.5-6.5.5-6.7.5-6.6.5-6.5.5-6.4.5-6 .5-5.5.5-5 .5-4.4.5-3.6.5-2.8.5-2 .5-1 .5 0 .5.9.5 1.8.5 2.7.5 3.6.5 4.4.5 5 .5 5.7.5 6.1.5 6.5.5 6.8.5 7 .5 7 .5 6.9.5 6.8.5 6.5.5 6.2.5 5.9.5 5.4.5 4.9.5 4.3.5 3.9.5 3.2.5 2.7.5 2.1.5 1.5.5.9.5.3.5-.3.5-1 .5-1.5.5-2.1.5-2.7.5-3.3.5-3.9.5-4.5.5-5 .5-5.4.5-6 .5-6.3.5-6.7.5-6.9.5-7.1.5-7.2.5-7.1.5-7 .5-6.7.5-6.3.5-5.8.5-5.2.5-4.5.5-3.7.5-2.8.5-1.8.5-1 .5.1.5 1.1.5 2 .5 3 .5 3.8.5 4.6.5 5.3.5 5.9.5 6.4.5 6.8.5 7 .5 7.2.5 7.2.5 7.1.5 7 .5 6.7.5 6.3.5 5.9.5 5.5.5 5 .5 4.4.5 3.9.5 3.2.5 2.7.5 2.1.5 1.5.5.8.5.3.5-.4.5-.9.5-1.6.5-2.2.5-2.8.5-3.4.5-4 .5-4.5.5-5.1.5-5.6.5-6 .5-6.4.5-6.8.5-7 .5-7.2.5-7.2.5-7.2.5-7.1.5-6.7.5-6.4.5-5.8.5-5.2.5-4.5.5-3.7.5-2.8.5-1.9.5-.9.5.1.5 1.1.5 2.1.5 3 .5 3.9.5 4.6.5 5.4.5 6 .5 6.5.5 6.8.5 7.1.5 7.2.5 7.2.5 7.2.5 7 .5 6.7.5 6.4.5 6 .5 5.5.5 5 .5 4.4.5 3.9.5 3.3.5 2.6.5 2.1.5 1.5.5.8.5.3.5-.4.5-1 .5-1.6.5-2.2.5-2.8.5-3.5.5-4 .5-4.6.5-5.1.5-5.6.5-6.1.5-6.5.5-6.8.5-7 .5-7.2.5-7.3.5-7.3.5-7 .5-6.8.5-6.4.5-5.8.5-5.3.5-4.5.5-3.7.5-2.8.5-1.8.5-.9.5.1.5 1.1.5 2.1.5 3.1.5 3.9.5 4.7.5 5.4.5 6 .5 6.5.5 6.9.5 7.1.5 7.3.5 7.3.5 7.2.5 7 .5 6.8.5 6.4.5 6 .5 5.5.5 5 .5 4.4.5 3.9.5 3.3.5 2.7.5 2.1.5 1.4.5.9.5.2.5-.4.5-1 .5-1.7.5-2.2.5-2.8.5-3.5.5-4 .5-4.7.5-5.1.5-5.7.5-6.1.5-6.5.5-6.8.5-7.1.5-7.3.5-7.3.5-7.3.5-7.1.5-6.8.5-6.4.5-5.8.5-5.3.5-4.5.5-3.7.5-2.8.5-1.8.5-.9.5.2.5 1.1.5 2.1.5 3.1.5 4 .5 4.7.5 5.5.5 6 .5 6.6.5 6.9.5 7.1.5 7.3.5 7.3.5 7.3.5 7 .5 6.8.5 6.4.5 6 .5 5.5.5 5.1.5 4.4.5 3.9.5 3.3.5 2.7.5 2 .5 1.5.5.8.5.2.5-.4.5-1 .5-1.6.5-2.3.5-2.9.5-3.5.5-4 .5-4.7.5-5.2.5-5.7.5-6.1.5-6.6.5-6.8.5-7.2.5-7.3.5-7.3.5-7.3.5-7.1.5-6.8.5-6.4.5-5.9.5-5.3.5-4.5.5-3.7.5-2.8.5-1.8.5-.8.5.1.5 1.2.5 2.2.5 3.1.5 4 .5 4.7.5 5.5.5 6.1.5 6.6.5 6.9.5 7.2.5 7.3.5 7.4.5 7.2.5 7.1.5 6.8.5 6.4.5 6.1.5 5.5.5 5 .5 4.5.5 3.9.5 3.3.5 2.6.5 2.1.5 1.4.5.9.5.2.5-.5.5-1 .5-1.7.5-2.3.5-2.9.5-3.5.5-4.1.5-4.6.5-5.2.5-5.8.5-6.1.5-6.6.5-6.9.5-7.2.5-7.3.5-7.4.5-7.3.5-7.1.5-6.9.5-6.4.5-5.9.5-5.2.5-4.5.5-3.7.5-2.8.5-1.8.5-.9.5.2.5 1.2.5 2.2.5 3.2.5 4 .5 4.8.5 5.5.5 6.1.5 6.6.5 7 .5 7.2.5 7.4.5 7.3.5 7.3.5 7.1.5 6.8.5 6.5.5 6 .5 5.5.5 5.1.5 4.4.5 3.9.5 3.3.5 2.7.5 2 .5 1.5.5.8.5.2.5-.5.5-1 .5-1.7.5-2.3.5-2.9.5-3.6.5-4.1.5-4.7.5-5.2.5-5.8.5-6.2.5-6.6.5-6.9.5-7.2.5-7.4.5-7.4.5-7.3.5-7.1.5-6.9.5-6.4.5-5.9.5-5.3.5-4.5.5-3.7.5-2.7.5-1.8.5-.8.5.2.5 1.2.5 2.2.5 3.2.5 4 .5 4.9.5 5.5.5 6.2.5 6.6.5 7 .5 7.2.5 7.4.5 7.4.5 7.3.5 7.1.5 6.8.5 6.5.5 6 .5 5.5.5 5.1.5 4.4.5 3.9.5 3.3.5 2.7.5 2 .5 1.5.5.8.5.1.5-.4.5-1.1.5-1.7.5-2.3.5-3 .5-3.5.5-4.2.5-4.7.5-5.2.5-5.8.5-6.3.5-6.6.5-6.9.5-7.3.5-7.3.5-7.4.5-7.4.5-7.1.5-6.9.5-6.4.5-5.9.5-5.3.5-4.5.5-3.7.5-2.7.5-1.8.5-.8.5.2.5 1.3.5 2.2.5 3.2.5 4.1.5 4.8.5 5.6.5 6.2.5 6.6.5 7.1.5 7.2.5 7.4.5 7.4.5 7.3.5 7.2.5 6.8.5 6.5.5 6 .5 5.6.5 5 .5 4.4.5 3.9.5 3.3.5 2.7.5 2 .5 1.4.5.8.5.2.5-.5.5-1.1.5-1.7.5-2.3.5-3 .5-3.6.5-4.1.5-4.8.5-5.3.5-5.8.5-6.2.5-6.7.5-7 .5-7.2.5-7.4.5-7.4.5-7.4.5-7.1.5-6.9.5-6.4.5-6 .5-5.2.5-4.5.5-3.7.5-2.7.5-1.8.5-.8.5.3.5 1.3.5 2.2.5 3.3.5 4.1.5 4.9.5 5.5.5 6.2.5 6.7.5 7.1.5 7.3.5 7.4.5 7.4.5 7.3.5 7.1.5 6.9.5 6.4.5 6.1.5 5.5.5 5.1.5 4.4.5 3.9.5 3.3.5 2.6.5 2.1.5 1.4.5.8.5.1.5-.5.5-1.1.5-1.7.5-2.4.5-2.9.5-3.6.5-4.2.5-4.8.5-5.3.5-5.8.5-6.3.5-6.7.5-7 .5-7.2.5-7.4.5-7.5.5-7.3.5-7.2.5-6.9.5-6.4.5-6 .5-5.2.5-4.5.5-3.6.5-2.8.5-1.7.5-.8.5.3.5 1.3.5 2.3.5 3.2.5 4.1.5 5 .5 5.6.5 6.2.5 6.7.5 7.1.5 7.3.5 7.4.5 7.4.5 7.4.5 7.1.5 6.9.5 6.4.5 6.1.5 5.5.5 5.1.5 4.4.5 3.9.5 3.3.5 2.6.5 2 .5 1.4.5.8.5.1.5-.5.5-1.1.5-1.7.5-2.4.5-3 .5-3.6.5-4.2.5-4.8.5-5.3.5-5.9.5-6.3.5-6.7.5-7 .5-7.3.5-7.4.5-7.4.5-7.4.5-7.2.5-6.9.5-6.4.5-5.9.5-5.3.5-4.5.5-3.6.5-2.7.5-1.8.5-.7.5.3.5 1.3.5 2.3.5 3.3.5 4.2.5 4.9.5 5.6.5 6.3.5 6.7.5 7.1.5 7.3.5 7.4.5 7.5.5 7.3.5 7.2.5 6.8.5 6.5.5 6 .5 5.6.5 5 .5 4.5.5 3.8.5 3.3.5 2.6.5 2.1.5 1.3.5.8.5.1.5-.5.5-1.1.5-1.8.5-2.4.5-3 .5-3.6.5-4.2.5-4.8.5-5.4.5-5.9.5-6.3.5-6.7.5-7 .5-7.3.5-7.4.5-7.5.5-7.4.5-7.2.5-6.9.5-6.4.5-5.9.5-5.3.5-4.4.5-3.7.5-2.7.5-1.7.5-.7.5.3.5 1.4.5 2.3.5 3.3.5 4.2.5 4.9.5 5.7.5 6.3.5 6.7.5 7.1.5 7.3.5 7.5.5 7.4.5 7.4.5 7.1.5 6.9.5 6.5.5 6 .5 5.6.5 5 .5 4.4.5 3.9.5 3.2.5 2.7.5 2 .5 1.4.5.7.5.1.5-.5.5-1.2.5-1.7.5-2.4.5-3.1.5-3.6.5-4.3.5-4.8.5-5.4.5-5.8.5-6.4.5-6.7.5-7.1.5-7.2.5-7.5.5-7.5.5-7.4.5-7.2.5-6.8.5-6.5.5-5.9.5-5.2.5-4.5.5-3.6.5-2.7.5-1.7.5-.7.5.4.5 1.3.5 2.4.5 3.3.5 4.2.5 5 .5 5.7.5 6.2.5 6.8.5 7.1.5 7.4.5 7.4.5 7.5.5 7.3.5 7.2.5 6.9.5 6.4.5 6.1.5 5.5.5 5 .5 4.5.5 3.8.5 3.3.5 2.6.5 2 .5 1.4.5.7.5.1.5-.5.5-1.2.5-1.8.5-2.4.5-3.1.5-3.6.5-4.3.5-4.8.5-5.4.5-5.9.5-6.4.5-6.7.5-7.1.5-7.3.5-7.4.5-7.5.5-7.4.5-7.2.5-6.9.5-6.5.5-5.9.5-5.2.5-4.4.5-3.6.5-2.7.5-1.7.5-.6.5.3.5 1.4.5 2.4.5 3.3.5 4.2.5 5 .5 5.7.5 6.3.5 6.8.5 7.1.5 7.4.5 7.5.5 7.4.5 7.4.5 7.2.5 6.8.5 6.5.5 6 .5 5.6.5 5 .5 4.4.5 3.9.5 3.2.5 2.6.5 2 .5 1.3.5.8.5.1.5-.6.5-1.2.5-1.8.5-2.4.5-3.1.5-3.7.5-4.2.5-4.9.5-5.4.5-5.9.5-6.4.5-6.7.5-7.1.5-7.3.5-7.5.5-7.5.5-7.4.5-7.2.5-6.9.5-6.4.5-5.9.5-5.2.5-4.5.5-3.5.5-2.7.5-1.7.5-.6.5.4.5 1.4.5 2.4.5 3.3.5 4.3.5 5 .5 5.7.5 6.3.5 6.8.5 7.2.5 7.3.5 7.5.5 7.5.5 7.4.5 7.1.5 6.9.5 6.4.5 6.1.5 5.5.5 5 .5 4.4.5 3.9.5 3.2.5 2.6.5 2 .5 1.3.5.7.5.1.5-.5.5-1.2.5-1.9.5-2.4.5-3.1.5-3.7.5-4.3.5-4.9.5-5.4.5-5.9.5-6.4.5-6.8.5-7.1.5-7.3.5-7.4.5-7.5.5-7.4.5-7.3.5-6.8.5-6.5.5-5.9.5-5.2.5-4.4.5-3.6.5-2.6.5-1.6.5-.7.5.4.5 1.5.5 2.4.5 3.4.5 4.2.5 5.1.5 5.7.5 6.3.5 6.8.5 7.2.5 7.4.5 7.5.5 7.4.5 7.4.5 7.2.5 6.8.5 6.5.5 6 .5 5.6.5 5 .5 4.4.5 3.8.5 3.2.5 2.6.5 2 .5 1.3.5.7.5.1.5-.6.5-1.2.5-1.9.5-2.4.5-3.1.5-3.7.5-4.3.5-4.9.5-5.5.5-5.9.5-6.4.5-6.8.5-7.1.5-7.3.5-7.5.5-7.5.5-7.4.5-7.2.5-6.9.5-6.4.5-5.9.5-5.2.5-4.4.5-3.6.5-2.6.5-1.6.5-.6.5.4.5 1.5.5 2.4.5 3.4.5 4.3.5 5 .5 5.8.5 6.3.5 6.9.5 7.1.5 7.4.5 7.5.5 7.5.5 7.4.5 7.1.5 6.9.5 6.4.5 6.1.5 5.5.5 5 .5 4.4.5 3.8.5 3.2.5 2.6.5 1.9.5 1.4.5.7.5 0 .5-.6.5-1.2.5-1.9.5-2.4.5-3.2.5-3.7.5-4.3.5-4.9.5-5.4.5-6 .5-6.4.5-6.8.5-7.1.5-7.4.5-7.4.5-7.6.5-7.4.5-7.2.5-6.9.5-6.4.5-5.8.5-5.2.5-4.4.5-3.6.5-2.6.5-1.6.5-.6.5.5.5 1.5.5 2.4.5 3.4.5 4.3.5 5.1.5 5.8.5 6.4.5 6.8.5 7.2.5 7.4.5 7.5.5 7.4.5 7.4.5 7.2.5 6.8.5 6.5.5 6 .5 5.5.5 5 .5 4.4.5 3.8.5 3.2.5 2.6.5 1.9.5 1.3.5.7.5 0 .5-.6.5-1.2.5-1.9.5-2.5.5-3.1.5-3.7.5-4.4.5-4.9.5-5.4.5-6 .5-6.4.5-6.8.5-7.2.5-7.3.5-7.5.5-7.5.5-7.4.5-7.2.5-6.9.5-6.4.5-5.9.5-5.2.5-4.3.5-3.6.5-2.5.5-1.6.5-.6.5.5.5 1.5.5 2.5.5 3.4.5 4.3.5 5.1.5 5.8.5 6.4.5 6.8.5 7.2.5 7.4.5 7.5.5 7.5.5 7.4.5 7.1.5 6.9.5 6.4.5 6 .5 5.6.5 4.9.5 4.4.5 3.8.5 3.2.5 2.6.5 1.9.5 1.3.5.6.5.1.5-.6.5-1.3.5-1.9.5-2.5.5-3.1.5-3.8.5-4.3.5-5 .5-5.4.5-6 .5-6.4.5-6.9.5-7.1.5-7.4.5-7.5.5-7.5.5-7.4.5-7.2.5-6.9"/>
<path clip-path="url(#cc)" fill="none" stroke="#0072BD" stroke-width="0.9" stroke-linejoin="round" d="M77 663.5l.2 16.4.3-18.9.3 18.7.2-17.4.2 15.7.3-15.2.3 14.2.2-14.1.2 16.8.3-17.4.3 17.2.2-19 .2 18.6.3-16.9.3 17.9.2-18.6.2 16.7.3-14.5.3 14.6.2-15.7.2 16.9.3-16.1.3 17.7.2-18.6.2 18.2.3-17.7.3 16 .2-17 .2 16.5.3-16.5.3 16.1.2-16.4.2 17.2.3-18.5.3 17.3.2-15.4.2 16.5.3-17.9.3 18.1.2-18.4.2 18.1.3-16.5.3 16.8.2-17.6.2 17 .3-14.8.3 15.1.2-15.8.2 15.9.3-14.6.3 16.4.2-16.6.2 16.3.3-16.4.3 18.1.2-16.4.2 16.9.3-16.1.3 16.8.2-17.2.2 16.4.3-17.8.3 18.8.2-17.3.2 17.6.3-18 .3 15.3.2-16.4.2 19 .3-18.3.3 18 .2-17.5.2 16.5.3-17.5.3 18 .2-19 .2 16.4.3-16.4.3 18.9.2-19 .2 18.6.3-15.9.3 16.6.2-18.2.2 17 .3-15.9.3 17.8.2-18.5.2 18.6.3-18.8.3 17.7.2-17.6.2 16.6.3-16.4.3 17.6.2-18 .2 18.9.3-18.8.3 18.4.2-19.5.2 18 .3-17 .3 16.2.2-17.6.2 16.4.3-16.1.3 16.6.2-18.3.2 17.7.3-18.1.3 18.7.2-19.9.2 19.3.3-18.3.3 17.1.2-18.7.2 16.2.3-14.5.3 12.2.2-14.1.2 13.6.3-17.9.3 14.6.2-15.5.2 12.2.3-13.9.3 12.1.2-15.7.2 13.3.3-17 .3 14.6.2-17 .2 15.5.3-16 .3 15.5.2-17.2.2 15.7.3-19.3.3 17.8.2-16.4.2 15.3.3-14.1.3 14.1.2-15.2.2 14.6.3-10.7.3 12.7.2-10.1.2 11.5.3-8.1.3 10.1.2-7.3.2 10.6.3-5.8.3 8.4.2-3.6.2 7.5.3-2.9.3 7 .2-1.2.2 5.8.3-.8.3 5.8.2-1.1.2 6.1.3-1.1.3 6.5.2-2.1.2 6.8.3-1.9.3 7.2.2-3.3.2 8.5.3-5.8.3 10.1.2-6.4.2 10.4.3-7.8.3 13.6.2-11.5.2 14.9.3-13.8.3 17.1.2-13.4.2 16.3.3-17.1.3 17.6.2-14.9.2 16.6.3-16.2.3 16.2.2-15.2.2 13.7.3-14.9.3 14.4.2-13.9.2 13.8.3-16 .3 13.2.2-14.9.2 10.6.3-11.4.3 8.9.2-11.1.2 6.2.3-9.6.3 4.7.2-7.6.2 2.5.3-6.9.3 1.4.2-6.2.2.2.3-5.5.3-.8.2-5.1.2-1.2.3-5.2.3-1.1.2-5.7.2-.9.3-5.5.3-.7.2-6.6.2.8.3-8 .3 2.4.2-9.8.2 4.4.3-10.1.3 4.5.2-11.4.2 7.8.3-14.3.3 9.3.2-13.5.2 11.7.3-16.8.3 13.5.2-17.8.2 15.2.3-15.6.3 16 .2-16.4.2 15 .3-16.1.3 17 .2-16.6.2 16.4.3-14.2.3 17.4.2-12.5.2 14.5.3-12.3.3 14.8.2-8.3.2 12.2.3-6.6.3 12 .2-6.3.2 10.6.3-3 .3 9.1.2-1.8.2 7.8.3-.8.3 7.1.2.3.2 6.1.3 1.3.3 5.7.2 1.2.2 5.5.3 1.2.3 5.7.2 1 .2 5.6.3-.2.3 6.6.2-1 .2 7.6.3-2.8.3 8.4.2-4.7.2 10.4.3-6.4.3 11 .2-8.2.2 11.8.3-8.5.3 13.7.2-12 .2 13.7.3-11.5.3 14.3.2-15.1.2 15.6.3-15.4.3 16.9.2-16.6.2 18 .3-17.8.3 17.2.2-18 .2 15.4.3-15.2.3 12.7.2-15.8.2 12.2.3-12.5.3 9.8.2-13.4.2 7.9.3-10.9.3 6.8.2-9.4.2 3.1.3-8.2.3 2.9.2-7.5.2 1 .3-6.2.3-.7.2-5.6.2-1.1.3-5.4.3-1.2.2-5.8.2-1.4.3-5.6.3-1.2.2-6.1.2-.9.3-7 .3.5.2-7.9.2 2 .3-9.3.3 3.4.2-10.9.2 6.2.3-12.3.3 6.3.2-12.4.2 8.8.3-13.3.3 10.3.2-15.7.2 13.1.3-16.9.3 14.3.2-16.8.2 16.5.3-17.1.3 16 .2-17 .2 17.4.3-13.4.3 16.1.2-15.5.2 15.7.3-12.4.3 15.4.2-10.6.2 15.7.3-10.3.3 12.8.2-6.6.2 11.6.3-4.9.3 10.3.2-2.9.2 8.9.3-1.3.3 8.1.2-.6.2 7 .3.6.3 6.1.2 1.6.2 5.4.3 1.9.3 5.4.2 1.3.2 5.4.3 1.3.3 5.6.2.3.2 6.1.3-.6.3 7 .2-2 .2 8.2.3-4.6.3 10.6.2-6.6.2 10.3.3-8 .3 12.2.2-9.2.2 13.7.3-11.4.3 14.8.2-14.4.2 16.4.3-15.9.3 18.8.2-16.2.2 16.9.3-18.8.3 16.7.2-16 .2 14.9.3-16.1.3 16.2.2-15.4.2 12.6.3-16.1.3 11.6.2-12.7.2 9.8.3-12.9.3 7.7.2-10.8.2 6.5.3-9.8.3 4.3.2-8.2.2 1.5.3-6.5.3.4.2-6.3.2-.4.3-5.7.3-.9.2-5.7.2-1.3.3-5.7.3-1.6.2-5.6.2-1.1.3-6.4.3-.9.2-6.9.2.6.3-8.2.3 1.4.2-9.1.2 3.8.3-10.1.3 4.1.2-11.1.2 7.2.3-13.7.3 10.1.2-15 .2 11.5.3-15.9.3 11.6.2-14.8.2 14.4.3-15.8.3 15 .2-18.5.2 18.7.3-17.4.3 16.3.2-15.9.2 18.9.3-14.2.3 14.5.2-12.5.2 15.3.3-9.1.3 12.2.2-7.6.2 13.1.3-7.7.3 12.4.2-5.1.2 10.1.3-3.2.3 9 .2-1.1.2 7.9.3-.4.3 6.8.2 1.2.2 5.9.3 1.5.3 5.7.2 1.6.2 5.2.3 1.7.3 5.5.2 1 .2 5.9.3-.1.3 6.3.2-1.1.2 7.5.3-2 .3 8.2.2-4.2.2 10 .3-7 .3 10.9.2-7.6.2 12.3.3-8.6.3 12.5.2-11.1.2 15.6.3-13.7.3 15.6.2-15.6.2 17.5.3-16.8.3 16.2.2-16.2.2 17.1.3-15.7.3 14.9.2-17.3.2 14.3.3-15 .3 12.7.2-14.3.2 11.9.3-13.8.3 9.2.2-12.8.2 7.5.3-10.6.3 6.2.2-9.3.2 3.6.3-7.9.3 1.6.2-6.6.2.6.3-6.3.3-.6.2-5.5.2-1.2.3-5.6.3-1.5.2-5.3.2-1.7.3-5.7.3-1.3.2-6.5.2-.6.3-6.7.3.2.2-8.4.2 1.7.3-9.3.3 3.6.2-11 .2 5.3.3-11.9.3 7.9.2-13.1.2 8.1.3-14.2.3 10.7.2-15.2.2 12.9.3-16.9.3 15.4.2-16.8.2 16.3.3-16.6.3 17.3.2-18.7.2 18.1.3-14.9.3 16 .2-13.1.2 14.1.3-11.9.3 15.5.2-10.3.2 13.4.3-8.4.3 14.1.2-6.7.2 10.8.3-4.4.3 9.7.2-3.2.2 9.2.3-1.2.3 8 .2-.5.2 6.9.3 1 .3 6.1.2 1.4.2 5.8.3 1.7.3 5.3.2 1.6.2 5.4.3 1 .3 6.1.2.2.2 6 .3-.7.3 7.1.2-2 .2 8.4.3-4.5.3 10.3.2-6.7.2 11.7.3-8.6.3 12.7.2-9.8.2 13.1.3-11.8.3 14.8.2-12.9.2 15.9.3-13.8.3 14.3.2-15.6.2 17.4.3-17.7.3 17.6.2-16.9.2 15.1.3-14.8.3 13.4.2-14.4.2 10.9.3-14.5.3 12.7.2-14.6.2 10.9.3-13.5.3 8.6.2-11.6.2 6.2.3-9.6.3 3.9.2-7.9.2 1.6.3-6.7.3.6.2-6.5.2-.5.3-5.8.3-1.2.2-5.3.2-1.7.3-5.5.3-1.7.2-5.5.2-1.6.3-5.9.3-.7.2-6.9.2.3.3-8.5.3 1.9.2-8.7.2 3.1.3-10.2.3 4.6.2-11.4.2 6.2.3-12.9.3 10.1.2-15.2.2 11.1.3-16.2.3 12.6.2-15.5.2 13.4.3-14.2.3 15.2.2-17.5.2 17.4.3-17.5.3 16.5.2-15.6.2 16.5.3-12 .3 13.9.2-11.7.2 14.5.3-9.7.3 13.7.2-8.6.2 13.6.3-6.6.3 12.2.2-5.1.2 10.4.3-3.1.3 8.8.2-1.7.2 8 .3-.3.3 7.2.2.8.2 6.2.3 1.4.3 5.7.2 1.6.2 5.6.3 1.3.3 5.6.2.8.2 6 .3.1.3 6.7.2-1.4.2 7.8.3-2.2.3 8.2.2-4.5.2 9.4.3-5.8.3 11.7.2-8.7.2 12 .3-9.8.3 13.9.2-12.6.2 16.9.3-14.6.3 16.4.2-15.1.2 17.1.3-17.6.3 16.3.2-15.8.2 16.6.3-17.5.3 17.9.2-17 .2 14.4.3-14.8.3 11 .2-14.2.2 12.6.3-13.5.3 8.3.2-11.5.2 7.2.3-10.4.3 5.4.2-9.6.2 4.1.3-7.9.3 1.5.2-7.1.2.5.3-6.2.3-.4.2-5.7.2-1 .3-5.9.3-1.4.2-5.6.2-1.6.3-5.8.3-1.3.2-6.2.2-.9.3-6.9.3 0 .2-7.5.2 2 .3-9.7.3 2.8.2-10.7.2 6 .3-11.9.3 7.2.2-14.3.2 10 .3-13.8.3 9.8.2-15.3.2 13.6.3-17.6.3 16.6.2-16.9.2 14.3.3-15 .3 15.4.2-15.2.2 15.8.3-15.3.3 17.6.2-15.7.2 16.1.3-11.1.3 13.9.2-9.7.2 14.1.3-8.2.3 11.9.2-6.9.2 11.9.3-3.8.3 10 .2-3.6.2 9.3.3-1 .3 7.3.2.4.2 6.4.3 1.2.3 6.3.2 1.4.2 5.6.3 1.6.3 5.6.2 1.4.2 5.5.3 1.1.3 5.7.2.3.2 6.3.3-1.1.3 8.1.2-3.2.2 9.3.3-4.7.3 9.7.2-5.7.2 11.1.3-8.5.3 12.9.2-11.1.2 15.4.3-13.7.3 15.6.2-12.8.2 14.3.3-14.2.3 17.3.2-14.8.2 16.2.3-16.4.3 14.4.2-15.6.2 14.5.3-14.2.3 12.7.2-14.8.2 12.6.3-14.9.3 11.8.2-13 .2 9.7.3-13.4.3 7.7.2-9.8.2 5.5.3-10.1.3 4 .2-7.9.2 1.7.3-7.1.3.2.2-6.3.2-.4.3-5.6.3-1.3.2-5.5.2-1.7.3-5.6.3-1.6.2-5.8.2-1.1.3-6.4.3-.8.2-6.7.2 0 .3-7.8.3 1.2.2-9 .2 3.6.3-11.4.3 5.7.2-12.2.2 8.5.3-13.9.3 8.2.2-13 .2 9.7.3-15.4.3 13.7.2-16.9.2 15.1.3-17.7.3 16.4.2-15.4.2 14 .3-16.1.3 18.3.2-17 .2 17.3.3-14.6.3 17.2.2-11.1.2 15.2.3-11.8.3 14.6.2-9.2.2 12.8.3-6.7.3 11.4.2-3.9.2 10.1.3-2.6.3 8.4.2-1 .2 7.8.3.1.3 7 .2 1 .2 6 .3 1.5.3 5.6.2 1.5.2 5.6.3 1.5.3 5.7.2 1.1.2 5.7.3.5.3 6.4.2-1.2.2 7.5.3-2.1.3 8.3.2-4.6.2 9.7.3-6.6.3 12.7.2-8.4.2 12.9.3-11.4.3 14.7.2-12.5.2 15.2.3-13.9.3 16.2.2-14 .2 16.2.3-15.7.3 15.3.2-14.8.2 14.4.3-16.9.3 15.5.2-16.3.2 16 .3-16 .3 12.4.2-13.6.2 9.6.3-11.6.3 8.4.2-12 .2 7.1.3-10.4.3 6 .2-9.4.2 3.2.3-8 .3 1.5.2-6.8.2.9.3-6.4.3-.5.2-6.1.2-1.3.3-5.5.3-1.3.2-5.6.2-1.9.3-5.6.3-1.4.2-6.6.2-.6.3-6.8.3.5.2-8 .2 1.5.3-9.1.3 3.6.2-11.9.2 6.6.3-12.4.3 7.6.2-12.9.2 7.8.3-14 .3 11.4.2-15.3.2 11.7.3-16.8.3 15.1.2-17 .2 15.7.3-15.6.3 16.3.2-16.2.2 16.7.3-15.8.3 15.9.2-13.4.2 17.4.3-13 .3 16.5.2-11.1.2 13.1.3-7.4.3 12.8.2-7.3.2 11.7.3-4.2.3 9.6.2-2.5.2 9.1.3-1.3.3 7.9.2.2.2 6.5.3 1.1.3 5.8.2 1.5.2 5.8.3 1.6.3 5.8.2 1.4.2 5.4.3 1.2.3 6.1.2-.1.2 6.4.3-1.2.3 7.9.2-2.6.2 8.4.3-4.8.3 11 .2-7.4.2 12.5.3-7.9.3 11.1.2-9.1.2 12.8.3-10.4.3 13.7.2-12.3.2 14.1.3-14.8.3 16.6.2-15.6.2 17.7.3-17 .3 17.1.2-17.3.2 14.6.3-14.4.3 13.8.2-16.9.2 14.5.3-16.6.3 11.2.2-12.5.2 10.3.3-12.2.3 7 .2-11.4.2 6.2.3-10.1.3 4.4.2-8.3.2 1.9.3-7.4.3.7.2-6.4.2-.6.3-5.6.3-1.2.2-5.7.2-1.4.3-5.6.3-1.8.2-5.9.2-1.1.3-6.7.3-.6.2-6.7.2-.1.3-7.9.3 2 .2-10.2.2 4.2.3-11.5.3 5.8.2-11.8.2 8 .3-14.2.3 10.1.2-14.4.2 10.1.3-15.8.3 14.4.2-16.8.2 14.9.3-18.2.3 16.3.2-17.4.2 17.2.3-16.2.3 17.4.2-15 .2 14.8.3-14.2.3 16.9.2-12.1.2 15.3.3-9.3.3 13.5.2-8.1.2 11.9.3-6.9.3 12.6.2-5.4.2 10 .3-1.9.3 8.4.2-.7.2 7.7.3-.1.3 6.5.2 1.2.2 6.3.3 1.5.3 5.5.2 1.8.2 5.6.3 1.3.3 5.7.2 1 .2 6.2.3-.1.3 6.7.2-1.3.2 7.9.3-2.6.3 8.7.2-4.6.2 9.4.3-6.6.3 11.3.2-7.7.2 13 .3-10.9.3 15.3.2-12.3.2 14.9.3-12.7.3 13.5.2-13.4.2 15.5.3-16.5.3 17 .2-16 .2 17.1.3-17.9.3 15.5.2-14.9.2 13.2.3-14.8.3 13.2.2-14.7.2 10.1.3-12.3.3 9.1.2-12.8.2 8.4.3-11.8.3 6.5.2-10.2.2 3.5.3-7.4.3 1.4.2-6.6.2.1.3-6.3.3-.5.2-5.6.2-1.6.3-5.5.3-1.5.2-5.5.2-1.6.3-6.1.3-1.2.2-6.2.2-1 .3-6.8.3.3.2-8.6.2 2.2.3-9.9.3 4.1.2-10.3.2 4.4.3-11.4.3 6.1.2-12.1.2 10 .3-16.3.3 11.1.2-15 .2 13.4.3-17.5.3 15.1.2-15.5.2 15.7.3-16.4.3 14.1.2-13.5.2 15.8.3-15.3.3 16.6.2-14.5.2 16.6.3-12.8.3 16.5.2-11 .2 14.1.3-7.8.3 12.1.2-6.2.2 11.8.3-4.6.3 9.5.2-2.3.2 8.9.3-1.3.3 7.6.2.1.2 6.9.3.8.3 6 .2 1.8.2 5.5.3 1.6.3 5.6.2 1.5.2 5.5.3 1.1.3 6.3.2-.3.2 6.9.3-1.3.3 7.6.2-2.9.2 8.9.3-4.8.3 10.4.2-5.6.2 10.3.3-8.7.3 12.8.2-10.3.2 15.4.3-13.7.3 16.8.2-14.7.2 16.4.3-16.4.3 16.6.2-15.2.2 15.7.3-15.9.3 15.4.2-16 .2 15.4.3-15 .3 13.1.2-14.8.2 13.4.3-14.8.3 11.3.2-13.6.2 8.7.3-11 .3 6.7.2-10.2.2 5.2.3-9.2.3 2.9.2-8 .2 1.9.3-7 .3.6.2-6.3.2-.7.3-5.8.3-1.2.2-5.4.2-1.7.3-5.7.3-1.7.2-5.9.2-1 .3-6.5.3-1 .2-7.2.2.8.3-8 .3 1.9.2-9.5.2 3.1.3-10.7.3 6.2.2-13.6.2 7.3.3-12.7.3 9.4.2-13.7.2 10.5.3-16.4.3 14 .2-16.8.2 14.9.3-17.6.3 16.7.2-16.1.2 15.7.3-16.6.3 15.8.2-14.6.2 18.6.3-14.2.3 15.2.2-12.8.2 15.7.3-9.7.3 12.9.2-7.3.2 11.9.3-6.5.3 12 .2-4.7.2 10.3.3-2.9.3 8.9.2-.7.2 7.3.3.5.3 6.6.2 1.2.2 6.1.3 1.6.3 5.9.2 1.5.2 5.6.3 1.6.3 5.4.2.9.2 6.4.3-.4.3 6.9.2-.7.2 7 .3-2.8.3 8.5.2-3.7.2 9.4.3-5.5.3 10.6.2-8 .2 12.7.3-10.2.3 12.9.2-10.4.2 13.6.3-12.1.3 14.2.2-13.1.2 15.1.3-14.6.3 15.3.2-17.1.2 17.9.3-17.7.3 14.8.2-16.1.2 15.1.3-14.8.3 12 .2-13.2.2 9 .3-12.7.3 8.7.2-11.8.2 8.6.3-11.1.3 5.4.2-9.1.2 3.4.3-8.8.3 2.5.2-7.4.2.7.3-6.3.3-.6.2-6.1.2-1.3.3-5.4.3-1.6.2-5.8.2-1.5.3-6.1.3-1.2.2-6.3.2-1 .3-6.9.3.2.2-8 .2 1.6.3-9.7.3 4 .2-10.8.2 5.7.3-13 .3 8.8.2-14.4.2 10.3.3-14.7.3 10.9.2-15.8.2 13 .3-15.3.3 14.2.2-16.9.2 15 .3-15.8.3 15.5.2-14.7.2 16.8.3-17.4.3 17.3.2-14.7.2 17.4.3-11.1.3 14.9.2-12 .2 15.5.3-9 .3 13.2.2-6.9.2 12.4.3-4.8.3 9.4.2-2.1.2 8.6.3-.8.3 7.3.2.6.2 6.4.3 1.2.3 6.2.2 1.3.2 6 .3 1.4.3 5.7.2 1.6.2 5.6.3 1.1.3 5.9.2 0 .2 6.8.3-1.6.3 7.5.2-2.6.2 8.5.3-4.1.3 10.6.2-6.4.2 11.5.3-9.6.3 12.8.2-10.6.2 14.1.3-10 .3 14.1.2-14.8.2 17 .3-15.5.3 16.1.2-13.9.2 16.3.3-18.8.3 18.5.2-18.9.2 16 .3-15.7.3 13.3.2-14.5.2 12.4.3-14.5.3 11.8.2-12.8.2 8.9.3-11.7.3 6.7.2-10.8.2 5.3.3-8.7.3 2.7.2-7.8.2 1.9.3-7 .3.1.2-6.2.2-.5.3-5.8.3-1.5.2-5.5.2-1.6.3-5.9.3-1.6.2-5.9.2-1 .3-6.8.3-.6.2-7.3.2.7.3-8.3.3 2 .2-9.2.2 2.8.3-9.8.3 4.8.2-11.8.2 6.3.3-12.8.3 9.6.2-15.4.2 11.1.3-14.8.3 12.9.2-15.4.2 14.5.3-18.2.3 17.8.2-18.4.2 16.1.3-14.7.3 17.3.2-15.9.2 16.3.3-13.1.3 16.3.2-13.9.2 15.2.3-8.9.3 14.1.2-9.2.2 13.8.3-7.2.3 11.7.2-3.7.2 9.7.3-2.7.3 8.4.2-.4.2 7.1.3.3.3 6.7.2 1.4.2 6.1.3 1.5.3 5.7.2 1.6.2 5.6.3 1.4.3 5.7.2 1.1.2 5.8.3.2.3 6.5.2-.6.2 7.4.3-2.5.3 8.2.2-4.1.2 10.2.3-7.4.3 12.2.2-9.3.2 13 .3-10.5.3 15.5.2-13.1.2 15.7.3-13.7.3 15.1.2-15.3.2 17.4.3-16.1.3 17.7.2-17.1.2 14.9.3-16.4.3 15.3.2-15.3.2 14.4.3-16.6.3 12.2.2-12.3.2 9.9.3-12.4.3 9 .2-12.2.2 6.8.3-10.4.3 5.3.2-9.5.2 3.3.3-7.8.3 1.5.2-6.9.2.4.3-6.5.3-.5.2-5.8.2-1.4.3-5.5.3-1.7.2-5.6.2-1.6.3-5.9.3-1.1.2-6.6.2-.9.3-6.8.3.1.2-8.6.2 2.6.3-10 .3 3.8.2-11.2.2 5.8.3-11.6.3 6.3.2-12.5.2 8.1.3-13.6.3 11.3.2-14.5.2 11.4.3-16 .3 14.7.2-16.9.2 16 .3-17.8.3 16.6.2-15.5.2 17.5.3-15.2.3 17.6.2-16.1.2 17.9.3-12 .3 13.6.2-8.9.2 13.9.3-7.9.3 12.7.2-7.1.2 12.1.3-4.4.3 9.8.2-2.3.2 8.8.3-1.2.3 7.6.2.2.2 6.5.3 1 .3 6.2.2 1.8.2 5.4.3 1.9.3 5.5.2 1.6.2 5.5.3 1 .3 6.2.2-.2.2 7 .3-1.2.3 7.3.2-2.2.2 8.6.3-4.4.3 9.7.2-6 .2 10.3.3-7.5.3 11.9.2-10 .2 14.2.3-12.2.3 14.3.2-12.1.2 16.6.3-16.3.3 15.7.2-16.1.2 18.4.3-17.2.3 16.6.2-16.4.2 14.7.3-16.9.3 15.2.2-15 .2 12.1.3-14.1.3 11.2.2-13.7.2 9.6.3-12 .3 6.9.2-11 .2 4.9.3-9 .3 3.6.2-8.1.2 1.9.3-7.2.3-.1.2-6.1.2-.5.3-5.8.3-1.4.2-5.7.2-1.7.3-5.6.3-1.5.2-6.1.2-1.2.3-6.7.3-.2.2-7.7.2.4.3-8.3.3 2.5.2-10.2.2 3.7.3-10.3.3 5.6.2-12.4.2 7.5.3-12.7.3 8.9.2-15.2.2 11.9.3-15.8.3 12.8.2-15.5.2 12.8.3-16.6.3 16.6.2-15.7.2 15.8.3-15.5.3 15.7.2-16 .2 17.9.3-13.4.3 14.6.2-11.9.2 16.9.3-11.4.3 14.1.2-7.2.2 11.4.3-5.4.3 11 .2-4.2.2 10.7.3-2.9.3 9 .2-1 .2 7.6.3.2.3 6.5.2 1.1.2 6.2.3 1.6.3 5.5.2 2 .2 5.3.3 1.4.3 6 .2.8.2 5.8.3.2.3 6.5.2-1.1.2 7.8.3-2.5.3 8.5.2-5.1.2 10.7.3-6.6.3 10.7.2-7.3.2 12.1.3-10.1.3 13.2.2-11.8.2 15.8.3-14.2.3 15.3.2-14.4.2 16.9.3-15.7.3 15.8.2-15 .2 14.9.3-16.4.3 15.4.2-16.9.2 15.9.3-15.4.3 12.9.2-16.7.2 11.7.3-12.7.3 9 .2-12.6.2 6.9.3-10.1.3 5 .2-8.5.2 3.1.3-8.4.3 1.9.2-7.1.2.7.3-6.6.3-.4.2-5.9.2-1.1.3-5.9.3-1.6.2-5.6.2-1.5.3-6.1.3-1.5.2-6.2.2-.8.3-7.4.3.4.2-8.1.2 2.2.3-9.7.3 3.7.2-11.4.2 5.3.3-11.2.3 7.4.2-13.9.2 8.8.3-13.4.3 11.6.2-16.4.2 13.1.3-15.8.3 14.2.2-15.8.2 13.7.3-14.8.3 17.1.2-16.8.2 16.5.3-15.5.3 16.4.2-13.8.2 17.2.3-12.9.3 15.5.2-10.6.2 15.2.3-8.2.3 11.2.2-5.7.2 11.7.3-4.7.3 10.5.2-2.4.2 8.3.3-.5.3 7.6.2.3.2 6.3.3 1.4.3 5.9.2 1.8.2 5.7.3 1.5.3 5.7.2 1.4.2 5.7.3.8.3 6.3.2 0 .2 6.8.3-1.3.3 7.2.2-2.1.2 8.4.3-4.4.3 10.5.2-7.3.2 11.1.3-7.3.3 13 .2-11.5.2 15.5.3-12.2.3 15 .2-13.6.2 14.7.3-13.9.3 16.6.2-18.1.2 17.4.3-16.2.3 15.9.2-17 .2 15 .3-15.6.3 14.9.2-15 .2 12.3.3-14.2.3 10.4.2-13.5.2 9.7.3-13 .3 8 .2-10.1.2 4.5.3-8.8.3 2.3.2-7.7.2 1.9.3-7.1.3.1.2-6 .2-.8.3-5.7.3-1.5.2-5.4.2-1.8.3-5.6.3-1.5.2-6.2.2-1.1.3-6.7.3-.7.2-6.8.2 0 .3-8.3.3 2.1.2-9.1.2 3.3.3-11.7.3 5.8.2-11.3.2 7.7.3-13.8.3 9.5.2-14.5.2 9.9.3-13.6.3 12.2.2-16.1.2 13.8.3-15.4.3 15.3.2-17.8.2 18.7.3-18.2.3 18.6.2-17.2.2 16.5.3-13.3.3 18.1.2-12.6.2 14.2.3-9 .3 13.8.2-8.2.2 12.4.3-6.8.3 11.5.2-4.2.2 10.5.3-2.1.3 8 .2-.4.2 7.2.3.3.3 7 .2.8.2 6.4.3 1.3.3 5.8.2 1.6.2 5.8.3 1.3.3 5.6.2 1.3.2 5.9.3-.1.3 6.5.2-.9.2 7.7.3-2.7.3 8.8.2-4.2.2 9 .3-5.7.3 10.9.2-7.4.2 13.1.3-12 .3 14.1.2-11.6.2 14.4.3-14 .3 16.9.2-14.2.2 16.7.3-16.3.3 14.3.2-14.5.2 16.6.3-16.4.3 15.3.2-16 .2 13.2.3-15.8.3 11.8.2-13.2.2 10.1.3-13 .3 9.6.2-13 .2 7.4.3-9.9.3 4.3.2-9.1.2 3.4.3-7.8.3 1.4.2-6.3.2.1.3-6.2.3-1 .2-5.7.2-1.3.3-5.5.3-2 .2-5.6.2-1.5.3-6.2.3-1 .2-6.5.2-.9.3-7.3.3 1.1.2-8.5.2 2.1.3-10.2.3 4 .2-10.4.2 4.9.3-12.1.3 6.9.2-12.5.2 9.9.3-16 .3 12.9.2-15.8.2 12.3.3-16.1.3 15.3.2-16.7.2 16.1.3-18.1.3 15.6.2-14.4.2 15.9.3-13.8.3 14.9.2-12.1.2 14.6.3-10.4.3 14.1.2-10.3.2 14.8.3-8.8.3 12.6.2-5.3.2 10.6.3-3.2.3 9.4.2-2.7.2 8.8.3-.4.3 7.1.2.4.2 6.6.3 1.6.3 5.9.2 1.4.2 5.9.3 1.8.3 5.4.2 1.5.2 5.7.3.8.3 6.5.2 0 .2 6.2.3-.9.3 8 .2-2.8.2 8.6.3-5.3.3 11.1.2-7.9.2 13.1.3-9.1.3 12.1.2-10.2.2 14.8.3-12.1.3 14.5.2-13.9.2 15.1.3-14.4.3 17.4.2-16.1.2 16.7.3-17.3.3 16.3.2-17.2.2 15.9.3-15.9.3 14.7.2-16.9.2 12.3.3-14.3.3 11.6.2-12 .2 7.5.3-11.5.3 6.6.2-9.6.2 5.1.3-9.8.3 3 .2-7.1.2 1.3.3-6.7.3-.3.2-6 .2-.8.3-5.6.3-1.6.2-5.3.2-1.8.3-5.6.3-2 .2-5.7.2-1.5.3-6.6.3-.3.2-7.6.2 1 .3-8.6.3 2.1.2-9.5.2 3 .3-11.1.3 6.2.2-12.5.2 8.7.3-15.3.3 11.2.2-16.2.2 13.2.3-16.3.3 13.7.2-16.4.2 13.2.3-14.7.3 15.3.2-15.9.2 16.1.3-15.8.3 15.4.2-15.7.2 18.1.3-13.8.3 14.8.2-10.4.2 14.8.3-11 .3 15.2.2-8.9.2 12.1.3-5.3.3 11.3.2-4.3.2 9.9.3-2.6.3 8.9.2-.7.2 7.6.3 0 .3 6.8.2 1.4.2 5.8.3 1.6.3 5.9.2 1.6.2 5.6.3 1.6.3 5.5.2 1.2.2 5.8.3.2.3 6.7.2-1.8.2 8 .3-2.3.3 8.9.2-5.5.2 10 .3-5.7.3 11.6.2-9 .2 13.9.3-12.2.3 14 .2-11.1.2 16 .3-15.6.3 16.9.2-15.7.2 15.9.3-15.7.3 18 .2-18.4.2 18.2.3-19 .3 15.6.2-14.1.2 12.8.3-14.4.3 11.7.2-14 .2 10.7.3-12.5.3 8.3.2-12.7.2 7.6.3-10.6.3 4.6.2-8.7.2 3 .3-7.2.3 1.4.2-7.1.2.2.3-6.3.3-.7.2-5.8.2-1.4.3-5.4.3-1.9.2-5.5.2-1.8.3-6.2.3-.9.2-6.9.2-.1.3-7.8.3 1 .2-8.2.2 1.8.3-10.3.3 3.7.2-10.9.2 6.9.3-13.2.3 6.9.2-13.3.2 10.3.3-15.6.3 12.5.2-15.3.2 11.3.3-15.4.3 15.9.2-17.2.2 16.7.3-16.8.3 15.5.2-16.2.2 16.5.3-14.4.3 15.9.2-12 .2 16.2.3-13.7.3 15.1.2-9.5.2 13.5.3-7.1.3 12.5.2-5.7.2 11 .3-3.9.3 9.6.2-2.3.2 8.7.3-1 .3 7.6.2.1.2 6.9.3 1.3.3 5.9.2 1.4.2 6 .3 1.7.3 5.3.2 1.5.2 6 .3 1 .3 6 .2-.1.2 6.8.3-1.7.3 8 .2-2.6.2 8.7.3-4.8.3 10.5.2-7.3.2 12.7.3-8.9.3 11.8.2-10.4.2 15.7.3-13 .3 15.9.2-14.2.2 14.6.3-15.1.3 16.4.2-15.8.2 16.2.3-14.7.3 14.4.2-14.6.2 12.6.3-15.5.3 13.9.2-13.2.2 10.4.3-13.3.3 11.6.2-14.4.2 8.7.3-11.8.3 7.8.2-11.1.2 5.3.3-9.2.3 3.5.2-8.2.2 1.8.3-7.5.3.6.2-6.5.2-.8.3-5.5.3-1.6.2-5.4.2-1.9.3-5.7.3-1.5.2-5.9.2-1.6.3-6.3.3-.3.2-7.6.2.7.3-8.7.3 2.7.2-9.9.2 3.9"/>
<path clip-path="url(#cc)" fill="none" stroke="#D95319" stroke-width="2.4" stroke-linejoin="round" d="M77 674.4l.5.3.5.2.5.3.5.2.5.2.5 0 .5-.5.5-.5.5-.5.5-.6.5-.5.5-.6.5-.5.5-.6.5-.4.5 0 .5.1.5.1.5.1.5.1.5.2.5.1.5.2.5.2.5-.4.5-.4.5-.3.5-.3.5-.3.5-.3.5-.2.5-.2.5-.2.5.4.5.4.5.6.5.5.5.5.5.6.5.5.5.6.5.5.5.2.5-.1.5-.1.5-.1.5-.1.5-.1.5-.2.5-.1.5-.2.5.1.5.4.5.3.5.4.5.3.5.2.5 2.9.5 2.5.5 2.1.5 1.4.5.7.5.3.5-.2.5-.8.5-1.3.5-1.8.5-2.3.5-2.8.5-3.2.5-3.4.5-3.7.5-4.1.5-4.1.5-4.2.5-4.2.5-3.9.5-3.7.5-3.3.5-2.9.5-2.3.5-1.6.5-.9.5-.1.5.6.5 1.4.5 2.2.5 2.9.5 3.6.5 4.3.5 4.7.5 5.2.5 5.6.5 5.8.5 5.9.5 6 .5 6 .5 5.8.5 5.7.5 5.3.5 5.1.5 4.6.5 4.2.5 3.8.5 3.2.5 2.7.5 2.3.5 1.6.5 1.1.5.6.5 0 .5-.6.5-1.2.5-1.7.5-2.4.5-2.9.5-3.5.5-4.1.5-4.6.5-5.1.5-5.5.5-6 .5-6.4.5-6.6.5-6.8.5-6.9.5-6.9.5-6.8.5-6.5.5-6.3.5-5.7.5-5.2.5-4.5.5-3.8.5-2.9.5-2 .5-1.1.5-.1.5.9.5 1.8.5 2.7.5 3.6.5 4.4.5 5.1.5 5.7.5 6.2.5 6.6.5 6.9.5 7.1.5 7.1.5 7 .5 6.9.5 6.6.5 6.4.5 5.9.5 5.5.5 5 .5 4.5.5 3.9.5 3.3.5 2.8.5 2.1.5 1.6.5.9.5.4.5-.3.5-.8.5-1.5.5-2.1.5-2.7.5-3.2.5-3.9.5-4.4.5-5 .5-5.4.5-6 .5-6.3.5-6.7.5-6.9.5-7.1.5-7.2.5-7.2.5-7 .5-6.8.5-6.3.5-5.9.5-5.3.5-4.6.5-3.8.5-2.9.5-2 .5-1.1.5 0 .5 1 .5 1.9.5 2.9.5 3.7.5 4.5.5 5.3.5 5.8.5 6.4.5 6.8.5 7 .5 7.2.5 7.2.5 7.1.5 7 .5 6.8.5 6.4.5 6 .5 5.5.5 5 .5 4.5.5 4 .5 3.3.5 2.8.5 2.2.5 1.5.5.9.5.4.5-.3.5-.9.5-1.5.5-2.2.5-2.7.5-3.3.5-3.9.5-4.5.5-5 .5-5.6.5-6 .5-6.4.5-6.7.5-7 .5-7.2.5-7.2.5-7.3.5-7 .5-6.8.5-6.4.5-6 .5-5.3.5-4.6.5-3.8.5-2.9.5-2 .5-1 .5 0 .5 1 .5 1.9.5 3 .5 3.7.5 4.6.5 5.3.5 5.9.5 6.5.5 6.8.5 7 .5 7.3.5 7.2.5 7.2.5 7 .5 6.8.5 6.4.5 6.1.5 5.5.5 5.1.5 4.5.5 4 .5 3.3.5 2.8.5 2.1.5 1.6.5.9.5.3.5-.3.5-.9.5-1.6.5-2.1.5-2.8.5-3.3.5-4 .5-4.5.5-5 .5-5.6.5-6.1.5-6.4.5-6.8.5-7 .5-7.2.5-7.3.5-7.3.5-7.1.5-6.8.5-6.4.5-6 .5-5.3.5-4.6.5-3.8.5-2.9.5-2 .5-1 .5 0 .5 1 .5 2 .5 2.9.5 3.9.5 4.6.5 5.3.5 6 .5 6.4.5 6.9.5 7.1.5 7.3.5 7.3.5 7.2.5 7 .5 6.8.5 6.5.5 6 .5 5.6.5 5.1.5 4.5.5 4 .5 3.3.5 2.8.5 2.1.5 1.6.5.9.5.3.5-.3.5-1 .5-1.5.5-2.2.5-2.8.5-3.4.5-3.9.5-4.6.5-5.1.5-5.6.5-6.1.5-6.4.5-6.9.5-7 .5-7.3.5-7.3.5-7.3.5-7.1.5-6.9.5-6.4.5-6 .5-5.3.5-4.6.5-3.8.5-2.9.5-2 .5-1 .5.1.5 1 .5 2 .5 3 .5 3.8.5 4.7.5 5.4.5 6 .5 6.5.5 6.8.5 7.2.5 7.3.5 7.3.5 7.3.5 7 .5 6.9.5 6.4.5 6.1.5 5.6.5 5.1.5 4.5.5 4 .5 3.3.5 2.8.5 2.1.5 1.5.5 1 .5.2.5-.3.5-.9.5-1.6.5-2.2.5-2.8.5-3.4.5-4 .5-4.6.5-5.1.5-5.7.5-6.1.5-6.5.5-6.9.5-7.1.5-7.2.5-7.4.5-7.3.5-7.1.5-6.9.5-6.5.5-6 .5-5.3.5-4.6.5-3.8.5-2.9.5-2 .5-.9.5 0 .5 1.1.5 2 .5 3 .5 3.9.5 4.7.5 5.4.5 6.1.5 6.5.5 6.9.5 7.2.5 7.3.5 7.3.5 7.3.5 7.1.5 6.9.5 6.5.5 6 .5 5.6.5 5.1.5 4.6.5 3.9.5 3.4.5 2.7.5 2.2.5 1.5.5.9.5.3.5-.4.5-1 .5-1.5.5-2.3.5-2.8.5-3.4.5-4.1.5-4.6.5-5.1.5-5.7.5-6.1.5-6.6.5-6.9.5-7.1.5-7.3.5-7.4.5-7.3.5-7.2.5-6.9.5-6.4.5-6 .5-5.4.5-4.6.5-3.8.5-2.8.5-2 .5-.9.5 0 .5 1.1.5 2.1.5 3 .5 3.9.5 4.8.5 5.4.5 6.1.5 6.5.5 7 .5 7.2.5 7.3.5 7.4.5 7.3.5 7.1.5 6.9.5 6.5.5 6 .5 5.7.5 5 .5 4.6.5 3.9.5 3.4.5 2.8.5 2.1.5 1.5.5.9.5.3.5-.4.5-1 .5-1.6.5-2.2.5-2.9.5-3.4.5-4.1.5-4.6.5-5.2.5-5.7.5-6.2.5-6.5.5-7 .5-7.1.5-7.4.5-7.3.5-7.4.5-7.2.5-6.9.5-6.5.5-5.9.5-5.4.5-4.6.5-3.8.5-2.9.5-1.9.5-.9.5.1.5 1.1.5 2.1.5 3 .5 4 .5 4.7.5 5.5.5 6.1.5 6.6.5 6.9.5 7.3.5 7.3.5 7.4.5 7.4.5 7.1.5 6.9.5 6.5.5 6.1.5 5.6.5 5.1.5 4.5.5 4 .5 3.3.5 2.8.5 2.1.5 1.5.5.9.5.2.5-.4.5-1 .5-1.6.5-2.2.5-2.9.5-3.5.5-4.1.5-4.6.5-5.2.5-5.8.5-6.1.5-6.6.5-7 .5-7.2.5-7.3.5-7.4.5-7.4.5-7.2.5-6.9.5-6.5.5-6 .5-5.3.5-4.6.5-3.8.5-2.9.5-1.9.5-.9.5.1.5 1.2.5 2.1.5 3.1.5 3.9.5 4.8.5 5.5.5 6.1.5 6.6.5 7 .5 7.3.5 7.4.5 7.4.5 7.3.5 7.2.5 6.8.5 6.6.5 6.1.5 5.6.5 5.1.5 4.5.5 4 .5 3.3.5 2.7.5 2.2.5 1.5.5.8.5.3.5-.4.5-1 .5-1.7.5-2.3.5-2.8.5-3.5.5-4.1.5-4.7.5-5.3.5-5.7.5-6.2.5-6.6.5-7 .5-7.2.5-7.4.5-7.4.5-7.4.5-7.2.5-6.9.5-6.5.5-6 .5-5.3.5-4.6.5-3.8.5-2.8.5-1.9.5-.9.5.1.5 1.2.5 2.1.5 3.1.5 4 .5 4.8.5 5.5.5 6.2.5 6.6.5 7 .5 7.3.5 7.4.5 7.4.5 7.4.5 7.1.5 6.9.5 6.5.5 6.1.5 5.7.5 5.1.5 4.5.5 3.9.5 3.4.5 2.7.5 2.1.5 1.5.5.9.5.2.5-.4.5-1 .5-1.7.5-2.3.5-2.9.5-3.5.5-4.1.5-4.7.5-5.3.5-5.8.5-6.2.5-6.6.5-7 .5-7.2.5-7.4.5-7.5.5-7.3.5-7.3.5-6.9.5-6.5.5-6 .5-5.3.5-4.6.5-3.8.5-2.8.5-1.9.5-.8.5.1.5 1.2.5 2.2.5 3.1.5 4 .5 4.8.5 5.6.5 6.1.5 6.7.5 7 .5 7.3.5 7.4.5 7.5.5 7.3.5 7.2.5 6.9.5 6.5.5 6.1.5 5.6.5 5.1.5 4.6.5 3.9.5 3.3.5 2.8.5 2.1.5 1.4.5.9.5.2.5-.4.5-1.1.5-1.6.5-2.3.5-3 .5-3.5.5-4.1.5-4.8.5-5.2.5-5.8.5-6.3.5-6.6.5-7 .5-7.3.5-7.4.5-7.4.5-7.4.5-7.2.5-7 .5-6.5.5-6 .5-5.3.5-4.6.5-3.7.5-2.8.5-1.9.5-.9.5.2.5 1.2.5 2.2.5 3.2.5 4 .5 4.9.5 5.5.5 6.2.5 6.7.5 7 .5 7.3.5 7.5.5 7.4.5 7.4.5 7.2.5 6.9.5 6.5.5 6.1.5 5.6.5 5.1.5 4.5.5 4 .5 3.3.5 2.7.5 2.1.5 1.5.5.8.5.2.5-.4.5-1.1.5-1.7.5-2.3.5-2.9.5-3.6.5-4.2.5-4.7.5-5.3.5-5.8.5-6.3.5-6.6.5-7 .5-7.3.5-7.4.5-7.5.5-7.4.5-7.2.5-7 .5-6.5.5-5.9.5-5.4.5-4.5.5-3.8.5-2.8.5-1.8.5-.9.5.2.5 1.3.5 2.2.5 3.2.5 4 .5 4.9.5 5.6.5 6.2.5 6.7.5 7.1.5 7.3.5 7.4.5 7.5.5 7.4.5 7.1.5 6.9.5 6.6.5 6.1.5 5.6.5 5.1.5 4.5.5 3.9.5 3.3.5 2.7.5 2.1.5 1.5.5.8.5.2.5-.5.5-1 .5-1.7.5-2.4.5-2.9.5-3.6.5-4.2.5-4.7.5-5.3.5-5.9.5-6.3.5-6.6.5-7.1.5-7.2.5-7.5.5-7.4.5-7.5.5-7.2.5-6.9.5-6.5.5-6 .5-5.3.5-4.6.5-3.7.5-2.8.5-1.8.5-.8.5.2.5 1.2.5 2.3.5 3.2.5 4.1.5 4.9.5 5.6.5 6.2.5 6.7.5 7.1.5 7.3.5 7.5.5 7.4.5 7.4.5 7.2.5 6.9.5 6.5.5 6.1.5 5.6.5 5.1.5 4.5.5 3.9.5 3.4.5 2.7.5 2 .5 1.5.5.8.5.2.5-.5.5-1.1.5-1.7.5-2.4.5-2.9.5-3.6.5-4.2.5-4.8.5-5.3.5-5.9.5-6.3.5-6.7.5-7 .5-7.3.5-7.4.5-7.5.5-7.4.5-7.3.5-6.9.5-6.5.5-6 .5-5.3.5-4.5.5-3.7.5-2.8.5-1.8.5-.8.5.2.5 1.3.5 2.3.5 3.2.5 4.1.5 4.9.5 5.6.5 6.3.5 6.7.5 7.1.5 7.3.5 7.5.5 7.5.5 7.4.5 7.1.5 6.9.5 6.6.5 6.1.5 5.6.5 5 .5 4.6.5 3.9.5 3.3.5 2.7.5 2 .5 1.5.5.8.5.1.5-.5.5-1.1.5-1.7.5-2.4.5-2.9.5-3.7.5-4.2.5-4.8.5-5.3.5-5.8.5-6.4.5-6.7.5-7 .5-7.3.5-7.5.5-7.5.5-7.4.5-7.2.5-7 .5-6.5.5-5.9.5-5.3.5-4.6.5-3.7.5-2.7.5-1.8.5-.8.5.3.5 1.3.5 2.3.5 3.2.5 4.1.5 5 .5 5.6.5 6.3.5 6.7.5 7.1.5 7.4.5 7.4.5 7.5.5 7.4.5 7.2.5 6.9.5 6.5.5 6.1.5 5.6.5 5.1.5 4.5.5 3.9.5 3.3.5 2.7.5 2 .5 1.4.5.8.5.2.5-.5.5-1.1.5-1.8.5-2.4.5-3 .5-3.6.5-4.2.5-4.8.5-5.4.5-5.8.5-6.4.5-6.7.5-7.1.5-7.3.5-7.4.5-7.5.5-7.5.5-7.2.5-6.9.5-6.5.5-6 .5-5.3.5-4.5.5-3.7.5-2.7.5-1.8.5-.7.5.2.5 1.4.5 2.3.5 3.2.5 4.2.5 4.9.5 5.7.5 6.3.5 6.7.5 7.1.5 7.4.5 7.5.5 7.5.5 7.4.5 7.2.5 6.8.5 6.6.5 6.1.5 5.6.5 5 .5 4.5.5 3.9.5 3.3.5 2.7.5 2 .5 1.4.5.8.5.1.5-.5.5-1.1.5-1.8.5-2.4.5-3 .5-3.6.5-4.3.5-4.8.5-5.4.5-5.8.5-6.4.5-6.7.5-7.1.5-7.3.5-7.5.5-7.5.5-7.4.5-7.3.5-6.9.5-6.5.5-5.9.5-5.3.5-4.5.5-3.7.5-2.7.5-1.8.5-.7.5.3.5 1.3.5 2.4.5 3.3.5 4.1.5 5 .5 5.7.5 6.3.5 6.7.5 7.2.5 7.3.5 7.5.5 7.5.5 7.4.5 7.2.5 6.9.5 6.5.5 6.1.5 5.6.5 5 .5 4.5.5 3.9.5 3.3.5 2.7.5 2 .5 1.4.5.7.5.2.5-.5.5-1.2.5-1.8.5-2.4.5-3 .5-3.7.5-4.2.5-4.9.5-5.3.5-5.9.5-6.4.5-6.8.5-7 .5-7.4.5-7.4.5-7.5.5-7.5.5-7.2.5-6.9.5-6.5.5-6 .5-5.2.5-4.5.5-3.7.5-2.7.5-1.7.5-.7.5.3.5 1.3.5 2.4.5 3.3.5 4.2.5 5 .5 5.7.5 6.3.5 6.8.5 7.1.5 7.4.5 7.5.5 7.5.5 7.4.5 7.2.5 6.8.5 6.6.5 6 .5 5.6.5 5.1.5 4.4.5 3.9.5 3.3.5 2.6.5 2.1.5 1.3.5.8.5.1.5-.5.5-1.2.5-1.8.5-2.4.5-3.1.5-3.6.5-4.3.5-4.8.5-5.4.5-5.9.5-6.4.5-6.8.5-7.1.5-7.3.5-7.5.5-7.5.5-7.4.5-7.3.5-6.9.5-6.5.5-5.9.5-5.3.5-4.4.5-3.7.5-2.7.5-1.7.5-.7.5.4.5 1.3.5 2.4.5 3.3.5 4.3.5 5 .5 5.7.5 6.3.5 6.8.5 7.1.5 7.4.5 7.5.5 7.5.5 7.4.5 7.2.5 6.9.5 6.5.5 6.1.5 5.6.5 5 .5 4.5.5 3.8.5 3.3.5 2.6.5 2 .5 1.4.5.7.5.1.5-.5.5-1.2.5-1.8.5-2.4"/>
<path clip-path="url(#cc)" fill="none" stroke="#D95319" stroke-width="0.9" stroke-linejoin="round" d="M77 666.2l.2 17.1.3-18 .3 18.6.2-17.8.2 17 .3-15 .3 14.4.2-16.6.2 17 .3-16.6.3 18.5.2-18.8.2 18.9.3-19 .3 16 .2-15.2.2 14.4.3-15.3.3 14.8.2-16.1.2 17.2.3-16.7.3 14.8.2-15.8.2 17.6.3-16.7.3 16.3.2-19.4.2 18.8.3-17.7.3 15.6.2-16.2.2 18 .3-17.6.3 16.9.2-17 .2 17 .3-16.3.3 15.4.2-16.4.2 17.8.3-17.3.3 18.2.2-17.9.2 16.5.3-15.2.3 15 .2-15.7.2 15.3.3-15.4.3 16.6.2-17 .2 16.8.3-15.9.3 13.8.2-16.6.2 17.1.3-15.8.3 14.5.2-13.9.2 15.1.3-17.3.3 16.9.2-15.4.2 16.1.3-18.2.3 16.5.2-14.4.2 16 .3-17 .3 16 .2-14.6.2 15.1.3-14.2.3 17.3.2-18.3.2 17.6.3-15.3.3 16.8.2-17.2.2 15.6.3-14.9.3 16.9.2-15.9.2 16 .3-15.3.3 15.5.2-15.3.2 14 .3-15.9.3 16.8.2-16.6.2 17.4.3-16.8.3 16.3.2-17.7.2 16.1.3-15.7.3 17 .2-16.6.2 14.7.3-14.7.3 14.4.2-13.9.2 16.9.3-18 .3 17.3.2-16.8.2 15.5.3-14.6.3 17.2.2-17 .2 15.5.3-16.3.3 18 .2-15.4.2 17.9.3-14.3.3 17.7.2-13.9.2 13.6.3-13.5.3 16 .2-14.5.2 14.4.3-14.2.3 12.4.2-10.1.2 9.7.3-10 .3 9 .2-10.3.2 8.1.3-9.4.3 6.8.2-9.4.2 6.4.3-8.5.3 4.9.2-7.6.2 4.5.3-7.8.3 3.9.2-8.7.2 5.6.3-8.9.3 5.1.2-9.8.2 5.7.3-11.1.3 7.3.2-11.3.2 8.6.3-14.7.3 11.6.2-15.5.2 12.2.3-16.5.3 14.5.2-16.9.2 14.7.3-18.3.3 16.3.2-17 .2 14.2.3-15.7.3 16.1.2-15 .2 15 .3-16 .3 17.5.2-15 .2 16.8.3-13.2.3 13.1.2-9.4.2 13.5.3-8.7.3 11.5.2-7.5.2 10 .3-4.1.3 9 .2-3.3.2 8.4.3-2.2.3 7 .2-.5.2 5.9.3.5.3 5.3.2.7.2 5.6.3.3.3 5.6.2.2.2 5.5.3-.3.3 6.5.2-1.5.2 7.2.3-2.6.3 7.7.2-3.5.2 8.9.3-6.4.3 10.9.2-6.7.2 10.7.3-10 .3 14.9.2-11.6.2 14.7.3-12.4.3 14.7.2-15.4.2 16.1.3-15.2.3 16 .2-14.4.2 17.1.3-17.4.3 15.2.2-16.2.2 16.2.3-15.6.3 13 .2-15.9.2 13 .3-13.2.3 10.6.2-13.2.2 9 .3-11.9.3 6 .2-9.4.2 5.3.3-8.8.3 2.7.2-6.8.2 1.1.3-6.3.3-.1.2-5.6.2-.9.3-5.2.3-1.3.2-5.1.2-1.6.3-5.5.3-1.3.2-5.7.2-.9.3-6.6.3.6.2-8 .2 1.6.3-8.6.3 2.9.2-9.9.2 5 .3-12.3.3 6.9.2-12 .2 9.3.3-15 .3 11.1.2-15.2.2 11.6.3-16.5.3 15.9.2-16.9.2 13.9.3-15.4.3 17.3.2-18.5.2 17.5.3-15.1.3 16.7.2-15.5.2 15.7.3-12.8.3 17 .2-12.2.2 15 .3-10.1.3 13.8.2-6.8.2 10.9.3-4.1.3 10.2.2-3.9.2 9.3.3-1.9.3 8 .2-.1.2 6.6.3.4.3 6.2.2 1.2.2 5.8.3 1.4.3 5.4.2 1.7.2 5.3.3 1.1.3 5.6.2.3.2 6.3.3-1.2.3 7.7.2-2.8.2 8.3.3-4 .3 9.9.2-5.5.2 9.6.3-6.9.3 12.1.2-9.3.2 13.7.3-12.2.3 14.8.2-14.1.2 16.2.3-13 .3 16.2.2-15.5.2 14.3.3-15.2.3 14.6.2-15.2.2 17 .3-17.8.3 13.8.2-13.3.2 11.6.3-14.4.3 12.3.2-13.7.2 9.7.3-13.2.3 8.5.2-10.3.2 5.8.3-10.3.3 4.2.2-8.1.2 3 .3-7.6.3 1.2.2-6.8.2-.1.3-5.8.3-.9.2-5.5.2-1.6.3-5.1.3-1.9.2-5.6.2-1.4.3-5.8.3-.9.2-6.8.2.4.3-8.3.3 2.1.2-9.5.2 3.7.3-10.4.3 4.6.2-11.7.2 6.7.3-11.9.3 8.5.2-13.8.2 11.1.3-15.7.3 13 .2-16.5.2 13 .3-15 .3 14.9.2-17.8.2 15.6.3-15.5.3 17.2.2-17 .2 17 .3-13.4.3 16 .2-13.6.2 16.7.3-10.7.3 13.2.2-8.4.2 13.4.3-7.2.3 11 .2-4.8.2 11.3.3-3.7.3 9.5.2-1.9.2 7.8.3-.6.3 6.9.2 1.1.2 6.1.3 1.4.3 5.6.2 1.6.2 5.5.3 1.5.3 5.4.2 1 .2 5.7.3.1.3 6.6.2-1 .2 7.1.3-1.7.3 7.4.2-3.5.2 10.1.3-6.8.3 12.1.2-8.3.2 12.8.3-10.4.3 13.6.2-11.2.2 13.7.3-13.5.3 15.7.2-14.6.2 17.2.3-15.3.3 17.2.2-17.8.2 16.8.3-15.5.3 13.6.2-14.9.2 13.8.3-15.8.3 12.9.2-13.3.2 10.3.3-13.4.3 11.1.2-12.7.2 7.3.3-10.3.3 5.7.2-9.8.2 4 .3-8.1.3 2.5.2-7.8.2 1 .3-6.1.3-.3.2-6 .2-1 .3-5.6.3-1.4.2-5.5.2-1.6.3-5.5.3-1.5.2-6.2.2-.8.3-6.5.3-.4.2-7.9.2 2 .3-8.8.3 2.6.2-10.6.2 6 .3-12.3.3 6.5.2-11.9.2 9.1.3-15.7.3 11.5.2-16.1.2 14.4.3-17.4.3 13.1.2-14.9.2 14.9.3-15.4.3 14.9.2-15.2.2 16.5.3-15.4.3 16.8.2-14.6.2 14.9.3-10.9.3 14.7.2-12.2.2 15.1.3-9.2.3 14 .2-7.8.2 12.3.3-5.7.3 10.9.2-3.6.2 9.5.3-1.9.3 7.9.2-.2.2 7.2.3.5.3 6.3.2 1.3.2 5.6.3 1.6.3 5.4.2 1.8.2 5.2.3 1.4.3 5.4.2.4.2 6.6.3-.9.3 6.9.2-2.2.2 8.2.3-4.1.3 10.3.2-6.9.2 12.1.3-8.7.3 13.5.2-9.8.2 13.4.3-12.7.3 16.1.2-13.8.2 16.5.3-14.5.3 14.9.2-16.3.2 16.2.3-13.9.3 13.6.2-15.8.2 17.7.3-17.3.3 14.9.2-16.7.2 13.5.3-15 .3 12.1.2-13.5.2 10.1.3-13.5.3 9.1.2-11.9.2 6.3.3-10 .3 3.9.2-8.1.2 2.9.3-7.4.3.5.2-6.3.2-.2.3-6 .3-.9.2-5.4.2-1.5.3-5.5.3-1.6.2-5.7.2-1.7.3-5.8.3-1 .2-6.7.2 0 .3-8.2.3 1.7.2-8.9.2 3.4.3-10.1.3 5 .2-12.5.2 8.1.3-14.3.3 8.8.2-13.6.2 10.7.3-15.1.3 13.5.2-18.3.2 16.3.3-19 .3 17.4.2-18 .2 17.8.3-16.4.3 17 .2-16.7.2 16.3.3-12.5.3 15.6.2-13.7.2 15.5.3-10.5.3 14.5.2-9.6.2 13.1.3-7.1.3 11.7.2-4.5.2 10.5.3-2.5.3 8.5.2-1.6.2 8.1.3-.1.3 6.6.2 1 .2 5.9.3 1.4.3 6 .2 1.4.2 5.6.3 1.5.3 5.5.2.9.2 5.9.3.2.3 6.3.2-.8.2 7.5.3-2.3.3 8.6.2-4.4.2 9.4.3-5.3.3 10.5.2-7.5.2 12.6.3-10.5.3 14.1.2-11.7.2 14 .3-11.8.3 15.9.2-16.8.2 18.6.3-17 .3 15.5.2-13.9.2 16 .3-18.6.3 15.6.2-14.4.2 13.7.3-16.8.3 14.1.2-14.1.2 10.4.3-12.7.3 10.2.2-12.1.2 6.6.3-10.7.3 6.6.2-10.2.2 4.3.3-8.4.3 2.5.2-7.8.2 1.1.3-6.5.3-.2.2-6 .2-1.1.3-5.3.3-1.5.2-5.7.2-1.6.3-5.8.3-1.2.2-6.3.2-.7.3-7.1.3.3.2-8 .2 1.9.3-9.1.3 2.7.2-10 .2 5.2.3-11.9.3 6.4.2-13.5.2 10.4.3-16.1.3 12.7.2-16.1.2 12.7.3-15.4.3 13.8.2-16.7.2 16.4.3-17.3.3 14.4.2-15.8.2 16.2.3-14.9.3 18.1.2-13.7.2 15.7.3-14.2.3 17 .2-10.8.2 13.9.3-9.5.3 13.8.2-7 .2 11.1.3-5.3.3 11.1.2-3.4.2 9.7.3-1.8.3 7.7.2.1.2 6.5.3 1.3.3 6 .2 1.4.2 5.6.3 1.5.3 5.8.2 1.6.2 5.2.3 1.5.3 5.8.2.2.2 6.5.3-.9.3 7 .2-1.9.2 7.8.3-4 .3 10.1.2-6.8.2 11.8.3-7.5.3 11.8.2-10.1.2 15 .3-13.7.3 14.9.2-13.2.2 16.6.3-14.8.3 15.5.2-15.6.2 15.9.3-13.8.3 14.1.2-16.5.2 16.6.3-16.5.3 14.3.2-15.3.2 13 .3-15 .3 12.9.2-14.8.2 9.8.3-11.3.3 6.4.2-10.5.2 6.7.3-9.6.3 3.7.2-8.8.2 2.1.3-6.8.3.8.2-6.5.2-.6.3-5.5.3-1.3.2-5.5.2-1.4.3-5.8.3-1.3.2-5.8.2-1.6.3-6 .3-1.2.2-6.5.2.4.3-8.1.3 1.6.2-9.6.2 3.4.3-10.1.3 5.2.2-12 .2 7.6.3-14.1.3 8.6.2-13.4.2 9.7.3-15.4.3 12.6.2-15.4.2 13.5.3-15.3.3 14.4.2-15 .2 14.7.3-17.1.3 16.5.2-12.8.2 14.5.3-13.2.3 16.4.2-12.6.2 15.7.3-10.7.3 12.8.2-8.4.2 12.7.3-5.7.3 11.2.2-4.9.2 10.2.3-2.2.3 8.5.2-1.1.2 7.4.3.1.3 6.7.2 1.1.2 6.2.3 1.4.3 5.7.2 1.5.2 5.6.3 1.6.3 5.7.2 1.1.2 5.5.3.6.3 6.1.2-.8.2 7.2.3-1.8.3 7.6.2-4.1.2 10.8.3-5.9.3 10.2.2-7.1.2 11.2.3-8.5.3 12.8.2-11.5.2 15 .3-12.9.3 14.1.2-12.5.2 15.8.3-17.1.3 16.5.2-16 .2 17.6.3-18 .3 16.5.2-15.5.2 14.1.3-15.2.3 12.1.2-14.3.2 11.1.3-14.3.3 10 .2-11.5.2 7.4.3-11.4.3 5.9.2-9.2.2 3.8.3-8.8.3 2.3.2-6.9.2.9.3-6.8.3 0 .2-6.1.2-.9.3-5.7.3-1.6.2-5.3.2-2 .3-5.6.3-1.2.2-6.2.2-1.2.3-6.5.3.2.2-8.1.2 1 .3-8.3.3 2.4.2-9.7.2 4.3.3-12.3.3 7.4.2-12.6.2 9 .3-13.6.3 11.1.2-16.7.2 11.9.3-13.9.3 13.8.2-16.3.2 14 .3-15.4.3 15.1.2-15.7.2 15 .3-14.1.3 15.8.2-11.8.2 14.3.3-12 .3 14.5.2-9.5.2 14 .3-8.9.3 13.2.2-6.9.2 12.3.3-5.1.3 10.5.2-3.5.2 9.5.3-1.6.3 7.3.2.1.2 7.1.3.8.3 6.3.2 1.3.2 5.7.3 1.8.3 5.6.2 1.5.2 5.4.3 1 .3 6 .2.3.2 6.7.3-1.3.3 7.6.2-2.2.2 8.5.3-4.2.3 9.3.2-5.9.2 10.9.3-7.3.3 12.8.2-9.6.2 13.1.3-11.2.3 14.8.2-14.8.2 16.8.3-14.6.3 15.1.2-16.5.2 19.2.3-18.5.3 17.6.2-15.8.2 13.1.3-13.7.3 13.1.2-16 .2 14.3.3-15.9.3 11.2.2-12 .2 9.6.3-13.7.3 8.9.2-11.4.2 6 .3-10.3.3 4.3.2-8.4.2 2.1.3-7 .3.7.2-6.2.2-.7.3-5.5.3-1.4.2-5.6.2-1.5.3-5.4.3-1.8.2-6 .2-1.4.3-6.3.3-.8.2-6.9.2.3.3-7.6.3 1.2.2-9.4.2 3.3.3-10.8.3 4.9.2-11.8.2 7.1.3-13.4.3 10.2.2-14.6.2 10 .3-15.4.3 14.4.2-17.8.2 15.4.3-17.5.3 17 .2-17.9.2 15.2.3-13.9.3 16.7.2-17.3.2 18.6.3-14.4.3 15.6.2-14 .2 15.7.3-10.2.3 13.9.2-7.1.2 12 .3-7.2.3 12 .2-4.2.2 10.1.3-3.4.3 9.7.2-1.9.2 8.1.3-.2.3 7.1.2.6.2 6.6.3 1.3.3 5.6.2 1.6.2 5.8.3 1.3.3 5.7.2 1.3.2 5.5.3.5.3 6.6.2-1.4.2 7.3.3-2 .3 8.7.2-4.7.2 9.5.3-5.8.3 11.2.2-7.1.2 10.9.3-8.6.3 12.5.2-10.8.2 13.9.3-12.8.3 15.5.2-13.7.2 15.2.3-14.6.3 14.7.2-14.9.2 17.2.3-17.2.3 16 .2-17.8.2 16.3.3-16 .3 13.5.2-15.2.2 10.6.3-13.9.3 11.1.2-12.4.2 7.6.3-12 .3 6.5.2-10.4.2 4.4.3-8.5.3 2.1.2-7.3.2.9.3-6.4.3-.2.2-5.9.2-1.3.3-5.6.3-1.6.2-5.6.2-1.5.3-6 .3-1.3.2-6.4.2-.8.3-6.9.3.5.2-8.2.2 1.8.3-9.5.3 3 .2-10.5.2 5.2.3-11.2.3 6.8.2-14.6.2 11.2.3-15.2.3 11.7.2-15.5.2 11.1.3-16.3.3 14.9.2-16.2.2 15.8.3-18.1.3 17.6.2-16.7.2 17.2.3-15.6.3 17.3.2-14.4.2 15.5.3-11 .3 14.1.2-10.6.2 15 .3-9.8.3 13.2.2-7.3.2 12.4.3-4.1.3 9.3.2-2 .2 8.6.3-1.3.3 8 .2 0 .2 6.6.3.8.3 6.2.2 1.6.2 5.8.3 1.5.3 5.7.2 1.5.2 5.7.3.9.3 5.8.2.2.2 6.5.3-.7.3 7.6.2-2.6.2 8.4.3-4.2.3 10.4.2-7.2.2 11.2.3-7.8.3 12.1.2-8.5.2 12.6.3-12.1.3 16.6.2-14.4.2 14.9.3-15.1.3 18.2.2-16.2.2 17.2.3-17.4.3 16 .2-16.7.2 16.5.3-15.4.3 14.1.2-16.5.2 13.5.3-16 .3 11.9.2-13.4.2 9 .3-12 .3 8.3.2-10.8.2 5.3.3-9.3.3 4 .2-8.1.2 1.6.3-7.1.3.4.2-5.8.2-.6.3-5.8.3-1.3.2-5.7.2-1.6.3-5.6.3-1.5.2-5.8.2-1.4.3-6.5.3-.6.2-6.9.2-.3.3-7.9.3 2.2.2-9.3.2 3.1.3-10.2.3 5 .2-13 .2 8.5.3-13.9.3 8.9.2-15.5.2 13.2.3-16.7.3 14.1.2-16.6.2 13.7.3-17.3.3 14.6.2-16.1.2 16.2.3-15.5.3 18.2.2-16.4.2 16 .3-13.1.3 16.6.2-12.2.2 15.1.3-12 .3 15.7.2-10 .2 14.2.3-7.5.3 11.7.2-4.1.2 9.8.3-3.1.3 8.9.2-1.3.2 7.8.3.5.3 6.7.2.8.2 6.3.3 1.5.3 5.6.2 1.8.2 5.4.3 1.8.3 5.5.2 1.1.2 6 .3.3.3 6.1.2-1 .2 8.1.3-2.7.3 8.3.2-4.5.2 9.8.3-5.4.3 10.5.2-7 .2 12.7.3-11.8.3 14.4.2-10.9.2 14.9.3-15.1.3 16 .2-13.7.2 15.2.3-15.2.3 16.2.2-16.5.2 16.6.3-16 .3 16.3.2-16.4.2 13.1.3-14.3.3 12.5.2-15.6.2 12 .3-12.6.3 8.1.2-11.5.2 8.2.3-11.9.3 6.5.2-9.5.2 3.8.3-8.9.3 1.9.2-7.1.2.9.3-6.1.3-.7.2-5.9.2-1.1.3-5.6.3-1.7.2-5.6.2-1.6.3-5.8.3-1.5.2-6.3.2-.8.3-6.8.3.3.2-8.5.2 2.2.3-10.2.3 4.2.2-11.3.2 4.8.3-11.3.3 6.6.2-13.5.2 9.3.3-14.9.3 11 .2-13.8.2 12.4.3-17.1.3 15.1.2-16.1.2 15.9.3-18.3.3 15.9.2-15.3.2 15.9.3-14.6.3 18.1.2-14 .2 16 .3-14.4.3 15.3.2-9 .2 13.9.3-9 .3 14 .2-7.3.2 10.9.3-4.3.3 11 .2-3.1.2 8.8.3-1 .3 7.6.2 0 .2 6.9.3 1 .3 6 .2 1.7.2 5.5.3 1.6.3 5.8.2 1.5.2 5.6.3 1 .3 6.2.2.1.2 6.4.3-1.1.3 7.4.2-2.2.2 8.4.3-3.7.3 9 .2-5 .2 10.7.3-7.9.3 11.6.2-10.4.2 13.9.3-10.1.3 13.7.2-13.7.2 16.8.3-15 .3 16.2.2-15.2.2 14.6.3-15.1.3 17.1.2-17.1.2 16.1.3-16.4.3 13.9.2-15.2.2 13.4.3-16.5.3 13.2.2-14.4.2 8.5.3-11.4.3 8.1.2-11.1.2 6 .3-10 .3 3.5.2-8.1.2 1.9.3-7.1.3.7.2-6.6.2-.4.3-5.6.3-1.4.2-5.6.2-1.7.3-5.4.3-1.8.2-6 .2-1.1.3-6.7.3-.5.2-7.2.2 0 .3-7.7.3 1.6.2-9.7.2 3.9.3-11.1.3 6.3.2-12.3.2 6.3.3-13.6.3 10.1.2-15.1.2 12.5.3-17.1.3 14 .2-16.5.2 14.1.3-17.6.3 16.7.2-17.5.2 18 .3-17.8.3 17.3.2-16.2.2 18.8.3-15.6.3 16.6.2-12.3.2 14.9.3-9.8.3 13.7.2-8.4.2 12 .3-5.6.3 10.9.2-3.9.2 9.8.3-3 .3 9.1.2-1.2.2 8.3.3-.1.3 6.9.2.7.2 6.2.3 1.5.3 6 .2 1.8.2 5.3.3 1.7.3 5.7.2 1 .2 5.9.3.3.3 6.4.2-.8.2 7.2.3-2.1.3 7.9.2-3.5.2 10.1.3-6.9.3 11.5.2-8.5.2 12.6.3-8.8.3 12.3.2-12.5.2 15.2.3-12.7.3 15.7.2-15.4.2 17.1.3-14.5.3 15.4.2-16.5.2 17.4.3-19 .3 15.7.2-15.1.2 15.6.3-15.5.3 11.9.2-14.2.2 10.8.3-12.6.3 8.5.2-12.1.2 7.3.3-10.2.3 4.4.2-9 .2 3.9.3-8.3.3 2.1.2-7.2.2.6.3-6.7.3-.5.2-5.7.2-1.1.3-5.6.3-1.9.2-5.6.2-1.5.3-5.8.3-1.6.2-6 .2-1 .3-7.1.3-.1.2-7.5.2 1.6.3-9.9.3 4.4.2-12 .2 6.3.3-13.1.3 8.3.2-13.7.2 8.3.3-14.6.3 11.3.2-14.9.2 13.1.3-17.5.3 16.3.2-18.4.2 17.7.3-16.9.3 15.9.2-17.6.2 18.5.3-15.1.3 15.4.2-14.5.2 17.9.3-12.8.3 14.2.2-10.4.2 14.7.3-8.8.3 13 .2-6 .2 11.9.3-4.5.3 9.3.2-2.6.2 9.4.3-1.6.3 7.6.2.3.2 7 .3.8.3 6.4.2 1.6.2 5.7.3 1.5.3 5.6.2 1.5.2 5.9.3 1 .3 6.1.2-.1.2 6.5.3-1.1.3 7.5.2-2.6.2 8.6.3-3.5.3 9 .2-6.3.2 11.7.3-8.4.3 12.3.2-9.6.2 14.7.3-12.6.3 14.7.2-14.5.2 15.9.3-13.3.3 16.7.2-16.3.2 17 .3-16.5.3 16.4.2-16.6.2 14.6.3-15.3.3 13 .2-14.1.2 11.6.3-15.1.3 11.6.2-13.6.2 10.3.3-12.1.3 7.4.2-10.2.2 4.8.3-9.9.3 4.3.2-8.8.2 2.5.3-7.1.3.4.2-6.2.2-.6.3-5.9.3-1.5.2-5.3.2-2 .3-5.5.3-1.5.2-6 .2-1.6.3-6 .3-1.1.2-6.6.2.2.3-8.8.3 2.2.2-8.9.2 2.5.3-10 .3 4.9.2-12.1.2 7.2.3-13.3.3 10 .2-14.6.2 11.5.3-16.8.3 14.2.2-17 .2 14.4.3-18.3.3 18.2.2-17.1.2 16.5.3-16.7.3 15.3.2-14.1.2 15.7.3-12 .3 15 .2-11.8.2 14.2.3-10.2.3 14.6.2-8.8.2 13.6.3-6.4.3 11 .2-5 .2 10.9.3-2.7.3 8.7.2-1.3.2 8.2.3.1.3 6.8.2.7.2 6.3.3 1.7.3 5.8.2 1.5.2 5.7.3 1.5.3 5.7.2 1.1.2 5.9.3-.1.3 6.6.2-1.1.2 7.4.3-2.1.3 8 .2-4.3.2 9.8.3-5.2.3 10.8.2-8.7.2 13.8.3-11.2.3 14.2.2-11.7.2 15.6.3-14.1.3 15.9.2-13.9.2 16 .3-16 .3 16.6.2-18.2.2 15.9.3-15.6.3 16.2.2-16.8.2 15.6.3-16.1.3 11.9.2-14.3.2 12.6.3-14.1.3 8.6.2-12.5.2 8.9.3-11.5.3 6 .2-10.1.2 4 .3-8.5.3 2.1.2-7.3.2.6.3-6.4.3-.5.2-5.9.2-1.3.3-5.7.3-1.4.2-5.5.2-1.7.3-5.9.3-1.4.2-6.5.2-.9.3-6.7.3.2.2-8.4.2 1.9.3-9.4.3 3.2.2-11.3.2 6.8.3-13.6.3 7.8.2-13.2.2 8.3.3-13 .3 11.5.2-16 .2 13.4.3-17.1.3 15.6.2-18.4.2 16.2.3-15.5.3 14.8.2-15 .2 16.2.3-14.3.3 15.7.2-13.4.2 14.4.3-10.1.3 14.1.2-10 .2 14 .3-8.4.3 13.1.2-7.5.2 12.7.3-5 .3 9.9.2-2.9.2 9.7.3-1.2.3 7.4.2.2.2 6.9.3 1.1.3 5.8.2 1.6.2 6.1.3 1.4.3 5.6.2 1.5.2 5.6.3 1.3.3 6.1.2 0 .2 6.9.3-1.1.3 7.1.2-2.7.2 9.4.3-4.9.3 10.4.2-6 .2 10.4.3-7.2.3 12.3.2-9.9.2 12.3.3-11.9.3 15.3.2-13.9.2 17 .3-15.1.3 17.2.2-16.9.2 17.8.3-18.8.3 18.5.2-18.5.2 16.1.3-15.1.3 13.3.2-14.1.2 11 .3-13.7.3 10.1.2-12.9.2 8.9.3-11.6.3 8.1.2-10.9.2 4.7.3-8.9.3 3.5.2-8.4.2 2.2.3-7.1.3.1.2-5.9.2-.9.3-5.7.3-1.4.2-5.3.2-1.8.3-5.5.3-1.7.2-6.1.2-1.4.3-6.3.3-.6.2-7.2.2 0 .3-8.1.3 1.8.2-9.2.2 3.7.3-11 .3 4.8.2-10.9.2 6.1.3-13.3.3 10.4.2-15.1.2 10.3.3-15.9.3 13.9.2-17.1.2 14.1.3-15 .3 15.7.2-17.1.2 15.6.3-14.7.3 17.1.2-15.8.2 15.7.3-12.8.3 16.1.2-13.6.2 15 .3-9.6.3 13.9.2-8.4.2 13.6.3-6.5.3 11.9.2-5.2.2 10.4.3-2.2.3 8.6.2-1.5.2 8 .3.5.3 6.4.2 1.4.2 6 .3 1.6.3 5.7.2 1.8.2 5.5.3 1.6.3 5.7.2.7.2 6 .3.3.3 6.3.2-.4.2 7.5.3-3.2.3 8.6.2-3.9.2 10.1.3-6.8.3 11.3.2-8.1.2 13.8.3-10.6.3 13 .2-11.8.2 14.9.3-13.6.3 15.2.2-15 .2 16.6.3-13.6.3 16.4.2-16.6.2 16.1.3-17.9.3 15.6.2-16.4.2 14 .3-15.2.3 12.5.2-12.8.2 9 .3-12.3.3 9.6.2-11.9.2 6.8.3-11.1.3 5.8.2-9.8.2 3.7.3-7.5.3 1.2.2-6.7.2.5.3-6.5.3-.5.2-5.9.2-1.4.3-5.4.3-1.9.2-5.4.2-2 .3-5.8.3-1.1.2-6.8.2-.4.3-7.3.3.3.2-8 .2 1.6.3-10 .3 3.8.2-11.1.2 6.6.3-13.7.3 8.8.2-14.1.2 10.2.3-14.6.3 10.4.2-14.7.2 12 .3-17.4.3 14.9.2-16.3.2 15.9.3-15.2.3 14.6.2-14.7.2 16.2.3-15.7.3 16.9.2-12.4.2 13.7.3-10 .3 13.6.2-10.7.2 14.6.3-7.4.3 12 .2-5.4.2 11.5.3-4.6.3 10 .2-2.7.2 8.6.3-1.4.3 8 .2 0 .2 6.7.3 1.4.3 6.2.2 1.6.2 5.6.3 1.8.3 5.4.2 1.6.2 5.8.3 1 .3 6.1.2-.1.2 6.9.3-1.1.3 7.8.2-3.3.2 8.8.3-3.7.3 9.3.2-6.1.2 12.1.3-8.4.3 11.6.2-9.4.2 13.8.3-13.3.3 16.5.2-14 .2 14.5.3-14.9.3 18.3.2-15.6.2 16.4.3-16.9.3 16.3.2-17.6.2 16.8.3-16.6.3 13.6.2-16.2.2 14.1.3-14.2.3 11 .2-13.2.2 8.2.3-11.5.3 7.2.2-11.1.2 6.2.3-9.3.3 3.2.2-8 .2 1.3.3-6.9.3.3.2-6.5.2-.3.3-6 .3-1.3.2-5.4.2-1.9.3-5.4.3-1.8.2-6 .2-1.4.3-6.6.3-.6.2-6.9.2.4.3-8.4.3 1.8.2-9.2.2 2.7.3-10.4.3 4.9.2-11.3.2 7.2.3-13 .3 9.6.2-16.5.2 13.5.3-16.3.3 11.9.2-15.4.2 15.1.3-18.2.3 15.5.2-15.7.2 17.6.3-16.5.3 16.6.2-16.3.2 16.5.3-12.4.3 15.2.2-11.8.2 14.8.3-9.2.3 13.9.2-9 .2 12.7.3-6.9.3 12.6.2-5.4.2 10.2.3-1.8.3 8.8.2-1.4.2 7.7.3.2.3 6.7.2 1.3.2 6.1.3 1.6.3 5.7.2 1.9.2 5.4.3 1.5.3 5.8.2 1 .2 5.7.3.6.3 6.4.2-1 .2 7.7.3-3.2.3 8.5.2-3.6.2 9.7.3-7.1.3 11.9.2-7.2.2 11.9.3-11.2.3 15.4.2-11.7.2 14 .3-13.6.3 16.4.2-13.9.2 15.5.3-15.2.3 15.9.2-18.2.2 16.5.3-15.5.3 13.9.2-14.9.2 13 .3-13.6.3 11.4.2-13.3.2 9.6.3-12.2.3 8.6.2-10.9.2 5.9.3-9.7.3 5 .2-9.6.2 3.5.3-7.5.3 1.3.2-7 .2.5.3-6.4.3-.7.2-5.6.2-1.4.3-5.6.3-1.6.2-5.6.2-1.9.3-6 .3-1.2.2-6.5.2-.8.3-7.1.3.7.2-8.9.2 2.1.3-8.8.3 2.6.2-11 .2 5.8.3-12.2.3 7.3.2-12.5.2 8.1.3-13.7.3 12.1.2-16.9.2 14.3.3-17.8.3 13.5.2-16.3.2 17.1.3-18 .3 18.3.2-16.3.2 16.2.3-16 .3 17.7.2-14.2.2 15.6.3-11.6.3 15.6.2-10 .2 13.8.3-8.9.3 12.7.2-6.3.2 12.2.3-4.2.3 9.2.2-1.8.2 8.5.3-.9.3 7.7.2.2.2 6.8.3.9.3 6.3.2 1.6.2 5.7.3 1.7.3 5.6.2 1.6.2 5.6.3.8.3 6.3.2 0 .2 7 .3-1.4.3 7.2.2-2.8.2 9.5.3-4.6.3 9.4.2-6.5.2 11.4.3-7.1.3 12.9.2-10.1.2 13.1.3-12 .3 15.9.2-14.9.2 16.8.3-16.2.3 16.5.2-16.7.2 16.9.3-16.6.3 16.9.2-14.8.2 13.9.3-16.3.3 14.3.2-16.4.2 14.7.3-15.9.3 11.6.2-13.6.2 9.6.3-11.8.3 7.3.2-11 .2 5.1.3-9.1.3 2.8.2-7.4.2 1.4.3-6.7.3.3.2-6.7.2-.5.3-5.7.3-1.5.2-5.4.2-1.8.3-5.8.3-1.7.2-5.8.2-1.6.3-6.4.3-.4.2-7.2.2.4.3-8.8.3 2 .2-9.1.2 4.1.3-10.8.3 4.8.2-13 .2 8.6.3-14.5.3 10.7.2-16.5.2 12.2.3-16.2.3 12.8.2-15.4.2 13.6.3-15.8.3 14.8.2-15.1.2 14.8.3-13.8.3 14.6.2-12.7.2 15.5.3-14.7.3 16.2.2-10.8.2 14.2.3-9.2.3 14 .2-9.5.2 14 .3-6.1.3 10.6.2-4.1.2 9.9.3-2.5.3 8.5.2-.5.2 7.9.3.2.3 6.7.2.9.2 6.2.3 1.7.3 5.6.2 1.7.2 5.6.3 1.4.3 5.9.2.9.2 5.8.3.2.3 6.6.2-1.2.2 7.8.3-2.2.3 8.9.2-5.4.2 10.1.3-5.5.3 10.8.2-8 .2 13.3.3-10.9.3 14.4.2-12.2.2 14.5.3-13.2.3 15.2.2-13.9.2 14.8.3-16 .3 16.4.2-15.2.2 16.5.3-16 .3 14.2.2-17.5.2 16.2.3-15.7.3 11.5.2-13.8.2 10.2"/>
<path clip-path="url(#cc)" fill="none" stroke="#EDB120" stroke-width="2.6" stroke-linejoin="round" d="M77 670.9l.5 0 .5-.1.5-.1.5-.1.5 0 .5-.1.5-.1.5 0 .5-.1.5.3.5.5.5.5.5.5.5.5.5.5.5.4.5.4.5.4.5 0 .5-.3.5-.3.5-.4.5-.4.5-.4.5-.5.5-.4.5-.5.5-.3.5.1.5.1.5 0 .5.1.5.1.5 0 .5.1.5.1.5 0 .5-.6.5-.5.5-.5.5-.5.5-.4.5-.5.5-.4.5-.4.5-.3.5.3.5.3.5.4.5.3.5.4.5.5.5.4.5.5.5.5.5 0 .5-.1.5-.4.5.3.5 1.1.5 1.6.5 2.2.5 2.7.5 3.1.5 3.6.5 4.1.5 4.3.5 4.4.5 4.4.5 4.4.5 4.1.5 3.8.5 3.3.5 2.5.5 1.7.5.9.5.1.5-.8.5-1.6.5-2.3.5-2.9.5-3.5.5-4 .5-4.2.5-4.6.5-4.9.5-5.3.5-5.5.5-5.9.5-6.3.5-6.6.5-7.1.5-7.3.5-7.5.5-7.6.5-7.3.5-6.9.5-6.3.5-5.4.5-4.1.5-2.9.5-1.3.5.2.5 1.7.5 3.3.5 4.6.5 5.7.5 6.6.5 7.3.5 7.8.5 7.9.5 8 .5 7.9.5 7.8.5 7.5.5 7.3.5 7.1.5 7 .5 6.9.5 6.8.5 6.6.5 6.5.5 6.2.5 5.7.5 5.3.5 4.4.5 3.6.5 2.6.5 1.4.5.2.5-1 .5-2.1.5-3.2.5-4.2.5-5 .5-5.6.5-6.1.5-6.4.5-6.7.5-6.8.5-7 .5-7.2.5-7.4.5-7.6.5-7.9.5-8.1.5-8.5.5-8.6.5-8.7.5-8.6.5-8.3.5-7.6.5-6.8.5-5.6.5-4.3.5-2.7.5-1 .5.7.5 2.4.5 4 .5 5.5.5 6.6.5 7.5.5 8.2.5 8.6.5 8.7.5 8.7.5 8.6.5 8.3.5 8 .5 7.8.5 7.5.5 7.3.5 7.2.5 7.1.5 6.9.5 6.6.5 6.4.5 5.9.5 5.3.5 4.5.5 3.6.5 2.5.5 1.4.5 0 .5-1.1.5-2.4.5-3.4.5-4.4.5-5.2.5-5.9.5-6.3.5-6.6.5-6.9.5-7.1.5-7.1.5-7.4.5-7.5.5-7.8.5-8.1.5-8.3.5-8.6.5-8.8.5-8.8.5-8.7.5-8.4.5-7.7.5-6.8.5-5.7.5-4.3.5-2.6.5-1 .5.8.5 2.5.5 4.1.5 5.5.5 6.8.5 7.6.5 8.3.5 8.7.5 8.9.5 8.8.5 8.6.5 8.4.5 8.1.5 7.8.5 7.6.5 7.4.5 7.3.5 7.1.5 6.9.5 6.7.5 6.4.5 6 .5 5.3.5 4.5.5 3.6.5 2.5.5 1.3.5.1.5-1.2.5-2.4.5-3.5.5-4.5.5-5.3.5-5.9.5-6.3.5-6.7.5-7 .5-7.1.5-7.2.5-7.4.5-7.6.5-7.8.5-8.2.5-8.4.5-8.6.5-8.9.5-8.9.5-8.7.5-8.4.5-7.7.5-6.9.5-5.6.5-4.3.5-2.7.5-.9.5.9.5 2.5.5 4.2.5 5.6.5 6.8.5 7.7.5 8.3.5 8.8.5 8.9.5 8.8.5 8.7.5 8.4.5 8.2.5 7.9.5 7.6.5 7.4.5 7.3.5 7.1.5 7 .5 6.8.5 6.4.5 5.9.5 5.4.5 4.5.5 3.6.5 2.5.5 1.3.5 0 .5-1.2.5-2.5.5-3.5.5-4.5.5-5.3.5-6 .5-6.4.5-6.7.5-7 .5-7.1.5-7.3.5-7.5.5-7.6.5-7.9.5-8.1.5-8.5.5-8.7.5-8.9.5-8.9.5-8.8.5-8.4.5-7.8.5-6.8.5-5.7.5-4.2.5-2.7.5-.9.5.9.5 2.6.5 4.2.5 5.7.5 6.8.5 7.8.5 8.4.5 8.8.5 8.9.5 8.9.5 8.7.5 8.5.5 8.2.5 7.9.5 7.6.5 7.5.5 7.3.5 7.2.5 7 .5 6.7.5 6.5.5 6 .5 5.3.5 4.5.5 3.6.5 2.5.5 1.3.5 0 .5-1.3.5-2.5.5-3.6.5-4.5.5-5.4.5-5.9.5-6.5.5-6.8.5-7 .5-7.1.5-7.3.5-7.5.5-7.7.5-7.9.5-8.2.5-8.5.5-8.8.5-8.9.5-9 .5-8.8.5-8.4.5-7.8.5-6.9.5-5.6.5-4.2.5-2.6.5-.9.5.9.5 2.6.5 4.3.5 5.7.5 6.9.5 7.8.5 8.5.5 8.8.5 9 .5 8.9.5 8.8.5 8.4.5 8.3.5 7.9.5 7.7.5 7.5.5 7.3.5 7.2.5 7 .5 6.8.5 6.4.5 6 .5 5.4.5 4.5.5 3.6.5 2.5.5 1.2.5 0 .5-1.3.5-2.5.5-3.7.5-4.5.5-5.4.5-6 .5-6.5.5-6.8.5-7 .5-7.2.5-7.4.5-7.5.5-7.7.5-8 .5-8.2.5-8.5.5-8.8.5-9 .5-9 .5-8.8.5-8.5.5-7.8.5-6.8.5-5.7.5-4.2.5-2.6.5-.8.5.9.5 2.7.5 4.3.5 5.8.5 6.9.5 7.9.5 8.5.5 8.8.5 9 .5 9 .5 8.8.5 8.5.5 8.2.5 8 .5 7.7.5 7.5.5 7.4.5 7.2.5 7 .5 6.8.5 6.5.5 6 .5 5.3.5 4.6.5 3.5.5 2.5.5 1.2.5-.1.5-1.3.5-2.5.5-3.7.5-4.6.5-5.4.5-6.1.5-6.5.5-6.8.5-7.1.5-7.2.5-7.4.5-7.5.5-7.7.5-8 .5-8.3.5-8.5.5-8.9.5-8.9.5-9.1.5-8.8.5-8.5.5-7.8.5-6.9.5-5.6.5-4.2.5-2.6.5-.8.5 1 .5 2.8.5 4.3.5 5.8.5 7 .5 7.9.5 8.5.5 8.9.5 9 .5 9 .5 8.8.5 8.6.5 8.2.5 8 .5 7.7.5 7.5.5 7.4.5 7.2.5 7.1.5 6.8.5 6.5.5 6 .5 5.3.5 4.6.5 3.5.5 2.5.5 1.1.5 0 .5-1.4.5-2.6.5-3.6.5-4.7.5-5.4.5-6.1.5-6.5.5-6.9.5-7.1.5-7.2.5-7.4.5-7.6.5-7.8.5-8 .5-8.3.5-8.6.5-8.8.5-9 .5-9.1.5-8.9.5-8.4.5-7.8.5-6.9.5-5.6.5-4.2.5-2.5.5-.8.5 1 .5 2.8.5 4.4.5 5.8.5 7.1.5 7.9.5 8.6.5 8.9.5 9 .5 9.1.5 8.8.5 8.5.5 8.3.5 8 .5 7.7.5 7.6.5 7.3.5 7.3.5 7.1.5 6.8.5 6.5.5 6 .5 5.3.5 4.6.5 3.5.5 2.4.5 1.2.5-.1.5-1.4.5-2.6.5-3.7.5-4.7.5-5.5.5-6.1.5-6.5.5-6.9.5-7.1.5-7.3.5-7.4.5-7.6.5-7.8.5-8 .5-8.3.5-8.7.5-8.8.5-9.1.5-9 .5-8.9.5-8.5.5-7.8.5-6.9.5-5.6.5-4.2.5-2.5.5-.7.5 1.1.5 2.8.5 4.4.5 5.9.5 7.1.5 7.9.5 8.6.5 9 .5 9.1.5 9 .5 8.8.5 8.6.5 8.3.5 8 .5 7.7.5 7.6.5 7.4.5 7.2.5 7.1.5 6.9.5 6.4.5 6.1.5 5.3.5 4.5.5 3.5.5 2.4.5 1.2.5-.2.5-1.4.5-2.6.5-3.7.5-4.7.5-5.5.5-6.2.5-6.5.5-6.9.5-7.2.5-7.3.5-7.4.5-7.6.5-7.8.5-8.1.5-8.3.5-8.7.5-8.9.5-9 .5-9.1.5-8.9.5-8.5.5-7.8.5-6.9.5-5.6.5-4.1.5-2.5.5-.7.5 1.1.5 2.9.5 4.5.5 5.9.5 7.1.5 8 .5 8.6.5 9 .5 9.1.5 9 .5 8.9.5 8.5.5 8.3.5 8 .5 7.8.5 7.6.5 7.4.5 7.3.5 7 .5 6.9.5 6.5.5 6 .5 5.3.5 4.6.5 3.5.5 2.3.5 1.2.5-.2.5-1.4.5-2.7.5-3.8.5-4.7.5-5.5.5-6.2.5-6.6.5-6.9.5-7.1.5-7.3.5-7.5.5-7.6.5-7.9.5-8 .5-8.4.5-8.7.5-8.9.5-9.1.5-9.1.5-8.9.5-8.5.5-7.8.5-6.8.5-5.6.5-4.1.5-2.5.5-.6.5 1.1.5 2.9.5 4.6.5 5.9.5 7.1.5 8.1.5 8.6.5 9 .5 9.1.5 9.1.5 8.8.5 8.6.5 8.3.5 8 .5 7.8.5 7.6.5 7.4.5 7.3.5 7.1.5 6.8.5 6.5.5 6 .5 5.4.5 4.5.5 3.5.5 2.3.5 1.1.5-.2.5-1.4.5-2.7.5-3.8.5-4.8.5-5.5.5-6.2.5-6.6.5-7 .5-7.1.5-7.3.5-7.5.5-7.6.5-7.9.5-8.1.5-8.4.5-8.7.5-8.9.5-9.1.5-9.1.5-8.9.5-8.5.5-7.9.5-6.8.5-5.5.5-4.1.5-2.4.5-.6.5 1.1.5 3 .5 4.5.5 6 .5 7.2.5 8 .5 8.7.5 9 .5 9.2.5 9 .5 8.9.5 8.6.5 8.3.5 8 .5 7.8.5 7.6.5 7.4.5 7.3.5 7.1.5 6.9.5 6.5.5 6 .5 5.3.5 4.5.5 3.4.5 2.4.5 1 .5-.2.5-1.5.5-2.7.5-3.8.5-4.8.5-5.6.5-6.1.5-6.7.5-6.9.5-7.2.5-7.3.5-7.5.5-7.7.5-7.8.5-8.2.5-8.4.5-8.7.5-8.9.5-9.1.5-9.1.5-9 .5-8.5.5-7.8.5-6.8.5-5.5.5-4.1.5-2.4.5-.6.5 1.3.5 2.9.5 4.6.5 6.1.5 7.1.5 8.1.5 8.7.5 9.1.5 9.1.5 9.1.5 8.8.5 8.6.5 8.3.5 8.1.5 7.8.5 7.6.5 7.4.5 7.3.5 7.1.5 6.9.5 6.5.5 6 .5 5.3.5 4.5.5 3.4.5 2.3.5 1.1.5-.3.5-1.5.5-2.7.5-3.9.5-4.8.5-5.6.5-6.2.5-6.6.5-7 .5-7.2.5-7.3.5-7.5.5-7.7.5-7.9.5-8.1.5-8.4.5-8.7.5-9 .5-9.1.5-9.2.5-8.9.5-8.5.5-7.8.5-6.8.5-5.5.5-4.1.5-2.3.5-.5.5 1.2.5 3 .5 4.7.5 6 .5 7.2.5 8.1.5 8.7.5 9.1.5 9.1.5 9.1.5 8.9.5 8.6.5 8.3.5 8 .5 7.8.5 7.6.5 7.5.5 7.3.5 7.1.5 6.9.5 6.5.5 6 .5 5.3.5 4.4.5 3.5.5 2.2.5 1.1.5-.3.5-1.5.5-2.8.5-3.9.5-4.8.5-5.6.5-6.3.5-6.6.5-7 .5-7.2.5-7.4.5-7.5.5-7.6.5-7.9.5-8.2.5-8.4.5-8.7.5-9 .5-9.2.5-9.1.5-8.9.5-8.6.5-7.7.5-6.8.5-5.5.5-4 .5-2.3.5-.5.5 1.3.5 3 .5 4.7.5 6.1.5 7.2.5 8.1.5 8.8.5 9 .5 9.2.5 9.1.5 8.9.5 8.6.5 8.3.5 8 .5 7.8.5 7.6.5 7.5.5 7.3.5 7.1.5 6.9.5 6.5.5 5.9.5 5.3.5 4.5.5 3.4.5 2.3.5 1 .5-.3.5-1.6.5-2.8.5-3.9.5-4.9.5-5.6.5-6.2.5-6.7.5-7 .5-7.2.5-7.4.5-7.5.5-7.7.5-7.9.5-8.1.5-8.5.5-8.7.5-9 .5-9.2.5-9.1.5-9 .5-8.5.5-7.7.5-6.8.5-5.5.5-3.9.5-2.3.5-.5.5 1.3.5 3.1.5 4.7.5 6.1.5 7.3.5 8.2.5 8.7.5 9.1.5 9.2.5 9.1.5 8.8.5 8.6.5 8.4.5 8 .5 7.8.5 7.6.5 7.5.5 7.3.5 7.1.5 6.8.5 6.5.5 6 .5 5.3.5 4.4.5 3.4.5 2.3.5 1 .5-.4.5-1.6.5-2.8.5-3.9.5-4.9.5-5.6.5-6.3.5-6.7.5-7 .5-7.2.5-7.4.5-7.5.5-7.7.5-7.9.5-8.2.5-8.5.5-8.7.5-9 .5-9.2.5-9.1.5-9 .5-8.5.5-7.7.5-6.8.5-5.4.5-4 .5-2.2.5-.5.5 1.4.5 3.1.5 4.8.5 6.1.5 7.3.5 8.2.5 8.8.5 9 .5 9.2.5 9.1.5 8.9.5 8.6.5 8.3.5 8.1.5 7.8.5 7.6.5 7.4.5 7.3.5 7.2.5 6.8.5 6.5.5 6 .5 5.3.5 4.4.5 3.4.5 2.2.5.9.5-.3.5-1.7.5-2.8.5-4 .5-4.8.5-5.7.5-6.3.5-6.7.5-7 .5-7.2.5-7.4.5-7.5.5-7.8.5-7.9.5-8.2.5-8.4.5-8.8.5-9 .5-9.2.5-9.1.5-9 .5-8.5.5-7.7.5-6.8.5-5.4.5-3.9.5-2.2.5-.4.5 1.4.5 3.2.5 4.7.5 6.2.5 7.3.5 8.2.5 8.8.5 9.1.5 9.2.5 9.1.5 8.9.5 8.6.5 8.3.5 8 .5 7.8.5 7.6.5 7.5.5 7.3.5 7.1.5 6.9.5 6.5.5 5.9.5 5.3.5 4.4.5 3.4.5 2.2.5.9.5-.4.5-1.6.5-2.9.5-4 .5-4.9.5-5.7.5-6.3.5-6.7.5-7 .5-7.2.5-7.4.5-7.6.5-7.7.5-7.9.5-8.2.5-8.5.5-8.8.5-9 .5-9.2.5-9.2.5-8.9.5-8.5.5-7.7.5-6.7.5-5.4.5-3.9.5-2.2.5-.4.5 1.5.5 3.2.5 4.8.5 6.2.5 7.3.5 8.3.5 8.8.5 9.1.5 9.2.5 9.1.5 8.8.5 8.6.5 8.4.5 8 .5 7.8.5 7.6.5 7.5.5 7.3.5 7.1.5 6.9.5 6.4.5 6 .5 5.2.5 4.4.5 3.4.5 2.1.5.9.5-.4.5-1.6.5-2.9.5-4 .5-5 .5-5.7.5-6.3.5-6.7.5-7 .5-7.3.5-7.4.5-7.5.5-7.8.5-7.9.5-8.2.5-8.5.5-8.8.5-9 .5-9.2.5-9.2.5-8.9.5-8.5.5-7.7.5-6.7.5-5.4.5-3.8.5-2.1.5-.4.5 1.5.5 3.2.5 4.9.5 6.2.5 7.4.5 8.2.5 8.8.5 9.1.5 9.2.5 9.1.5 8.9.5 8.6"/>
<path clip-path="url(#cc)" fill="none" stroke="#EDB120" stroke-width="0.9" stroke-linejoin="round" d="M77 662.4l.2 14.8.3-14.8.3 17 .2-15.7.2 14.8.3-14.8.3 13.5.2-14.1.2 15.8.3-15.4.3 15.4.2-16.6.2 15.9.3-13.9.3 14.1.2-16.3.2 16.8.3-16.1.3 16.1.2-15.7.2 14.1.3-14.2.3 16.4.2-14.7.2 15.7.3-16.1.3 14.6.2-13.8.2 13.9.3-12.9.3 13.9.2-13.2.2 12.9.3-14.4.3 15.5.2-13.5.2 13.9.3-13.3.3 13.7.2-15.6.2 14.2.3-13.4.3 12.7.2-13.9.2 14.6.3-15.2.3 14.6.2-15.2.2 16.4.3-15.6.3 12.9.2-13.8.2 14.3.3-15.8.3 14.7.2-13.7.2 15.5.3-16.1.3 13.9.2-14.8.2 14.7.3-13.9.3 14.5.2-14.2.2 15.9.3-16.7.3 16.2.2-14.8.2 15 .3-16 .3 16.8.2-17.1.2 15.6.3-13.7.3 15 .2-15.2.2 14.5.3-16.4.3 15.5.2-15.4.2 14.6.3-15.5.3 15.5.2-16 .2 14.1.3-15.3.3 16.6.2-16.1.2 15 .3-15.1.3 14.3.2-15.4.2 16.5.3-14.4.3 14.6.2-14.5.2 13.4.3-13.5.3 14.1.2-14.1.2 14.8.3-15.6.3 16.2.2-15.8.2 17.1.3-15.6.3 14 .2-12.5.2 13.3.3-14.3.3 14.8.2-14.9.2 14.9.3-13.9.3 14.5.2-14.6.2 12 .3-12.6.3 14.7.2-12.8.2 12.1.3-9 .3 11.1.2-8.5.2 11.2.3-9.3.3 11.1.2-6.3.2 9.8.3-6.3.3 10.1.2-7.2.2 11.2.3-7.4.3 12.9.2-8.7.2 13.9.3-8.5.3 13.1.2-9.7.2 14 .3-9.3.3 12.6.2-9.2.2 13.8.3-11.1.3 13.6.2-10.6.2 13.8.3-13 .3 13.4.2-12.8.2 14 .3-13 .3 12.8.2-12.7.2 10.2.3-11.9.3 9.4.2-11 .2 8.4.3-11.1.3 6.5.2-9.1.2 5.1.3-9.1.3 4.2.2-7.6.2 2.7.3-6.6.3 1.4.2-5.9.2.2.3-5.4.3 0 .2-5.3.2-.5.3-5.4.3-.6.2-5.8.2-.7.3-6.2.3-.2.2-7.1.2.3.3-8.4.3 1.3.2-9.3.2 1.9.3-9.9.3 3.2.2-11.5.2 5.2.3-12.6.3 7.2.2-14.7.2 8.1.3-13.8.3 10.9.2-14.1.2 9.4.3-13.1.3 11.4.2-13.1.2 13.1.3-12 .3 12.2.2-10.8.2 13.2.3-9.4.3 14.3.2-10.1.2 14.7.3-7 .3 11.3.2-4.6.2 11.9.3-3.9.3 10.8.2-2.9.2 9.9.3-.6.3 8 .2-.1.2 7.5.3 1 .3 6.5.2 1.6.2 5.7.3 2 .3 5.2.2 2 .2 5.3.3 1.7.3 5.6.2 1.2.2 6 .3.6.3 6.5.2 0 .2 7.2.3-1.4.3 8.7.2-2.5.2 9.4.3-4.3.3 10.7.2-5.7.2 12.4.3-7.1.3 12.5.2-9.3.2 13.5.3-9.9.3 13.7.2-10.7.2 11.9.3-10.5.3 12.1.2-13.1.2 12.8.3-14.5.3 12 .2-13.5.2 11.3.3-12.9.3 9.2.2-12.7.2 7.3.3-12.3.3 5.4.2-10.3.2 4.4.3-9.5.3 2.5.2-8.9.2 2 .3-7.6.3 0 .2-6.6.2-.5.3-6.1.3-1.5.2-5.3.2-2.2.3-5.2.3-2.1.2-5.5.2-2.2.3-5.9.3-2.2.2-6.4.2-1.5.3-7.4.3-.5.2-8.2.2 0 .3-9.1.3.9.2-10.8.2 3.3.3-12.5.3 5.1.2-13.4.2 7.3.3-14.9.3 8.2.2-13.9.2 9.5.3-14.1.3 10.8.2-14.1.2 12.4.3-13.6.3 14.8.2-13.9.2 13.5.3-10.9.3 13.7.2-9.5.2 14.8.3-8.3.3 14.4.2-7.7.2 13.3.3-5.1.3 13.1.2-4.1.2 10.9.3-1.1.3 9.9.2-.9.2 9.1.3.5.3 7.1.2 1.6.2 6.6.3 2 .3 6 .2 2.5.2 5.5.3 2.1.3 5.4.2 2.2.2 5.3.3 1.7.3 6 .2 1.2.2 6.3.3.1.3 7 .2-.3.2 7.8.3-2 .3 9.5.2-4.5.2 11.2.3-5.5.3 12 .2-7.6.2 13.7.3-9.5.3 13 .2-9.4.2 12.4.3-10.4.3 13.3.2-12.3.2 14.1.3-14.9.3 13.7.2-14.9.2 12.9.3-12.9.3 8.9.2-13.3.2 9.5.3-13.9.3 8.3.2-11.7.2 4.8.3-9.8.3 3.8.2-10.4.2 3.1.3-8.9.3 1.4.2-7.5.2 0 .3-6.4.3-1 .2-5.9.2-1.5.3-5.6.3-2.1.2-5.5.2-2.3.3-5.3.3-2.5.2-5.7.2-2.4.3-6.5.3-1.3.2-7.5.2-1.2.3-8.4.3 0 .2-9.1.2 1.6.3-11.2.3 3.4.2-11.8.2 4.1.3-12.5.3 5.2.2-12.2.2 7.3.3-13.6.3 9 .2-14.5.2 10.1.3-12 .3 11.2.2-13.2.2 13 .3-13 .3 14.7.2-11.6.2 14.5.3-9 .3 14 .2-8.2.2 13 .3-5.7.3 12.8.2-5.2.2 12.3.3-3.3.3 11.6.2-1.3.2 9.6.3-.7.3 8.3.2 1.1.2 7.3.3 2 .3 6.4.2 2 .2 5.9.3 2.3.3 5.7.2 2.2.2 5.4.3 2.2.3 5.4.2 1.8.2 5.8.3 1.3.3 6.2.2 0 .2 8 .3-1.1.3 8.6.2-2.9.2 9.9.3-4.3.3 11.1.2-4.9.2 10.9.3-6.7.3 11.8.2-7.7.2 13.2.3-10.8.3 14 .2-11.5.2 14.7.3-12.8.3 11.4.2-12.1.2 13.2.3-14.9.3 12.2.2-14 .2 10.3.3-12.3.3 8.7.2-14 .2 7.7.3-11.8.3 5.1.2-9.9.2 4.2.3-9.7.3 2 .2-8.1.2.5.3-7.5.3.2.2-6.7.2-1 .3-5.6.3-1.8.2-5.7.2-1.9.3-5.4.3-2.5.2-5.4.2-2.4.3-5.8.3-2.3.2-6.4.2-1.6.3-7.5.3-.8.2-8.7.2-.1.3-9.5.3 1.5.2-10.7.2 3.2.3-12.5.3 5.4.2-13.8.2 5.8.3-13.8.3 9.4.2-14.9.2 10.4.3-15.4.3 12.6.2-15.2.2 13.2.3-14.3.3 14.3.2-12.7.2 12.9.3-10.8.3 13.5.2-7.8.2 13.4.3-8.8.3 15.1.2-6.7.2 11.8.3-3.6.3 11.9.2-3.3.2 10.9.3-1.6.3 10.3.2-.3.2 8.1.3 1.4.3 7.2.2 1.5.2 6.7.3 1.9.3 6.3.2 2.1.2 5.6.3 2.5.3 5.2.2 2.3.2 5.5.3 1.6.3 6.1.2.9.2 6.8.3-.3.3 8 .2-1.3.2 8.4.3-2.2.3 9.2.2-3 .2 10.5.3-6 .3 11.8.2-7.3.2 13.5.3-8.7.3 12.1.2-8.8.2 12.1.3-11.6.3 14.6.2-12.4.2 14.1.3-14.3.3 11.7.2-13.2.2 11.7.3-13 .3 9.8.2-13.8.2 9.7.3-12.4.3 6 .2-11.9.2 6.5.3-11.2.3 3.6.2-9.3.2 2.1.3-7.7.3 1 .2-8.1.2-.1.3-6.4.3-1.1.2-5.6.2-1.9.3-5.4.3-2.3.2-5.5.2-2.2.3-5.5.3-2.4.2-6 .2-2 .3-6.9.3-1.6.2-7.2.2-.9.3-8.8.3.1.2-9.4.2 1 .3-11.1.3 3.5.2-11.8.2 4.4.3-13.4.3 6.2.2-12.9.2 7.8.3-14.4.3 10.3.2-14.3.2 11.5.3-14.2.3 10.6.2-13.3.2 15.2.3-12.9.3 12.7.2-9.8.2 14.8.3-10.1.3 14.4.2-8.1.2 12.8.3-5.8.3 13.3.2-4.5.2 11.8.3-3.7.3 11.7.2-2.1.2 10 .3-.5.3 8.6.2 1.1.2 7.4.3 1.7.3 6.5.2 2.2.2 6.1.3 2.3.3 5.6.2 2.3.2 5.4.3 2.1.3 5.6.2 1.9.2 5.8.3 1 .3 6.7.2.3.2 7.1.3-.7.3 7.9.2-1.9.2 9.5.3-4.4.3 11.5.2-6.1.2 11.7.3-7 .3 12.7.2-8.8.2 13.1.3-8.5.3 13.5.2-12.2.2 13.4.3-11.8.3 12.8.2-13.4.2 11.8.3-13.4.3 12.8.2-14.1.2 10 .3-13.8.3 9.6.2-12.5.2 6.7.3-12 .3 6 .2-12 .2 4.1.3-8.9.3 2 .2-8.2.2.8.3-7.9.3.3.2-6.6.2-1 .3-6.3.3-1.6.2-5.6.2-1.9.3-5.5.3-2.5.2-5.5.2-2.4.3-6.1.3-2 .2-6.4.2-1.8.3-7.4.3-1.2.2-8.4.2-.2.3-9.2.3 1.4.2-11.3.2 3.3.3-11.8.3 3.4.2-11.6.2 5.1.3-13.6.3 7.9.2-14.4.2 10.5.3-14.9.3 10.9.2-13.7.2 12.7.3-13.8.3 13.2.2-12.2.2 13.5.3-10.8.3 15.8.2-9.8.2 14 .3-7.8.3 13.7.2-6.4.2 11.8.3-4 .3 12.8.2-3.5.2 10.9.3-1.3.3 9.4.2.5.2 8 .3 1.4.3 7.3.2 1.5.2 6.9.3 1.9.3 6.1.2 2.2.2 5.8.3 2.2.3 5.6.2 2.2.2 5.5.3 1.7.3 5.8.2 1.2.2 6.8.3 0 .3 7.2.2-.4.2 7.9.3-2.1.3 10.1.2-4.8.2 11.7.3-6.4.3 11.6.2-6.9.2 13.7.3-9 .3 13.4.2-10 .2 12.1.3-11.5.3 14.5.2-12.5.2 12.5.3-13 .3 12.6.2-12.2.2 9.8.3-13.8.3 10.3.2-13.6.2 10.4.3-12.9.3 7 .2-12.5.2 5.2.3-9.9.3 3.8.2-10.3.2 3 .3-9 .3.9.2-7.1.2-.2.3-6.5.3-1.3.2-6.1.2-1.7.3-5.6.3-1.9.2-5.7.2-2.4.3-5.5.3-2.4.2-6 .2-2.2.3-6.5.3-2 .2-7.1.2-1.4.3-8.5.3.7.2-10.1.2 1.5.3-11.3.3 3.6.2-12.1.2 4.3.3-12.3.3 5.3.2-12.6.2 7.9.3-15.6.3 10.8.2-15.3.2 10.8.3-12.9.3 13.1.2-13.5.2 13.6.3-12.8.3 13.5.2-12 .2 14.4.3-8 .3 13.8.2-7.4.2 13.2.3-6.8.3 13.6.2-5.1.2 12.5.3-2.9.3 10.6.2-.9.2 9.7.3-.1.3 8.5.2.7.2 7.4.3 1.8.3 6.5.2 2.3.2 6 .3 2.3.3 5.6.2 2.4.2 5.4.3 2.2.3 5.7.2 1.8.2 5.8.3.8.3 6.9.2.2.2 7.4.3-.8.3 8.1.2-2.6.2 10.2.3-4.5.3 10.8.2-4.3.2 11.3.3-6.8.3 12.3.2-8.6.2 13.1.3-10.4.3 13.8.2-10.7.2 12.9.3-12.7.3 13.8.2-13.4.2 11.5.3-13 .3 12.4.2-14.8.2 10.8.3-14.6.3 9 .2-11.7.2 6.8.3-12.8.3 6.6.2-11 .2 4.1.3-10.7.3 2.9.2-8.4.2.9.3-7.5.3-.5.2-6.5.2-.8.3-6 .3-2 .2-5.6.2-2 .3-5.4.3-2.5.2-5.8.2-2.2.3-6.1.3-2.1.2-6.8.2-1.8.3-7.4.3-1.1.2-8.6.2.7.3-9.6.3.9.2-11.4.2 3.6.3-12 .3 4.6.2-12.9.2 6 .3-13.1.3 7.6.2-14.6.2 9.1.3-12.6.3 10 .2-12.7.2 12.2.3-14.4.3 14.1.2-13.3.2 14 .3-10.9.3 15.1.2-9.1.2 13.3.3-6.9.3 12.4.2-5.4.2 12.1.3-3.3.3 10.7.2-1.5.2 10.7.3-1.4.3 9.5.2.2.2 8 .3.9.3 7.5.2 2.1.2 6.3.3 2.4.3 5.8.2 2.4.2 5.7.3 2.5.3 5.4.2 2.1.2 5.5.3 1.7.3 6 .2 1.3.2 6.7.3-.1.3 7.7.2-1.2.2 8.8.3-2.9.3 10.4.2-4.4.2 11 .3-5.8.3 12.9.2-7.9.2 13.2.3-8.4.3 11.7.2-10.3.2 14.6.3-11.4.3 13.2.2-12.7.2 14.5.3-14.3.3 11.8.2-13.3.2 11 .3-12.6.3 10.5.2-13.7.2 8.8.3-12.8.3 6.6.2-12.4.2 6 .3-11.1.3 4.3.2-10.3.2 3 .3-8.9.3.7.2-7 .2-.5.3-6.2.3-1.2.2-6.1.2-1.9.3-5.5.3-2.2.2-5.4.2-2.5.3-5.6.3-2.4.2-6.1.2-2.2.3-6.6.3-1.5.2-8 .2-.5.3-8.8.3.3.2-10.4.2 2.3.3-11.9.3 3.9.2-11.9.2 4.5.3-13.6.3 6.7.2-15 .2 8.6.3-13.2.3 8.6.2-13.9.2 11.4.3-15.1.3 14.4.2-13.3.2 11.9.3-12.6.3 14.5.2-10.9.2 14.8.3-9.9.3 15 .2-8.2.2 14.1.3-7.5.3 13.2.2-4.2.2 12.9.3-3.8.3 11 .2-1.3.2 10.4.3-.4.3 8.4.2 1 .2 7.7.3 1.7.3 6.4.2 2.4.2 5.8.3 2.5.3 5.8.2 2.3.2 5.6.3 2.1.3 5.7.2 1.6.2 6.1.3.9.3 7 .2.1.2 7.3.3-1.4.3 8.7.2-2.2.2 9.6.3-4 .3 10.6.2-4.5.2 11.9.3-8 .3 13.9.2-9.5.2 13 .3-10.7.3 13.4.2-10.4.2 13.4.3-12.6.3 13.5.2-12.9.2 11 .3-12.2.3 10 .2-13 .2 10.9.3-14.2.3 8.8.2-13.1.2 7.5.3-11.4.3 4.3.2-11 .2 4.2.3-9.5.3 2.4.2-8.6.2 1 .3-7.6.3-.2.2-6.9.2-1.1.3-5.7.3-1.8.2-5.5.2-2.4.3-5.4.3-2.6.2-5.5.2-2.4.3-6 .3-2.4.2-6.5.2-1.7.3-7.6.3-1.1.2-8.6.2-.3.3-9.7.3 1.6.2-11.3.2 3 .3-11.6.3 4.6.2-12.7.2 5.4.3-13.5.3 7.6.2-13.4.2 8.7.3-13.8.3 11.3.2-13.4.2 12.2.3-13 .3 13.9.2-12.7.2 14.1.3-11.4.3 13.7.2-8.4.2 12.9.3-6.8.3 13.9.2-6.6.2 13.1.3-4.6.3 11.8.2-1.5.2 10.1.3-.9.3 9.1.2.1.2 8.7.3 1.2.3 7.5.2 1.6.2 6.5.3 2.4.3 6.1.2 2.4.2 5.7.3 2.4.3 5.3.2 2.3.2 5.7.3 1.5.3 6.1.2.8.2 7.1.3.2.3 7.3.2-.9.2 8.4.3-2.1.3 9.5.2-4.3.2 11.5.3-6 .3 11.7.2-6.3.2 13.3.3-10.6.3 13.5.2-9.7.2 13.5.3-11.3.3 12.7.2-12.6.2 13.4.3-12.1.3 12 .2-13.8.2 11.9.3-15 .3 10.9.2-13.5.2 8.9.3-13.2.3 8 .2-11.9.2 4.7.3-10.8.3 3.2.2-8.8.2 2.3.3-8.9.3 1.2.2-7.7.2-.4.3-6.7.3-.8.2-6.1.2-2 .3-5.5.3-2.1.2-5.5.2-2.5.3-5.6.3-2.6.2-6.2.2-1.8.3-6.8.3-2 .2-7.6.2-.6.3-9 .3.6.2-10.4.2 1.8.3-11.2.3 2.7.2-12.2.2 5.3.3-12.9.3 6.7.2-15 .2 7.7.3-13.3.3 9.1.2-13.9.2 12.1.3-15.1.3 12.1.2-13.2.2 15 .3-13.2.3 13.7.2-11.2.2 16.1.3-10.1.3 14.2.2-8.2.2 14.6.3-7.3.3 12.8.2-3.2.2 11 .3-1.5.3 10.5.2-1.6.2 9.7.3-.1.3 8.5.2 1.5.2 7.5.3 1.6.3 6.4.2 2.5.2 5.8.3 2.6.3 5.4.2 2.5.2 5.5.3 2.3.3 5.6.2 1.5.2 6.1.3 1.1.3 7.1.2-.4.2 7.9.3-.9.3 8.8.2-3 .2 9.9.3-4.3.3 11.8.2-5.7.2 11.2.3-6.4.3 12.4.2-8.3.2 13 .3-9.8.3 12.6.2-11.9.2 13.8.3-12.7.3 12.5.2-12.6.2 12.4.3-12.6.3 11.6.2-13.7.2 8.5.3-13 .3 9.1.2-12.9.2 7.3.3-12.7.3 5.2.2-9.7.2 3 .3-9.6.3 2.7.2-9 .2.7.3-6.9.3-.7.2-6.2.2-1.4.3-6 .3-1.9.2-5.5.2-2.2.3-5.6.3-2.4.2-5.6.2-2.6.3-5.9.3-2.3.2-6.8.2-1.6.3-7.4.3-.9.2-8.9.2-.3.3-9.6.3 2.1.2-11.9.2 3.4.3-12.8.3 5 .2-12.6.2 5.2.3-12.6.3 7.9.2-14.9.2 10.1.3-13.1.3 10.4.2-14.5.2 11.9.3-12.6.3 13.8.2-12.2.2 15.2.3-12.7.3 14.2.2-9.2.2 15.7.3-8 .3 13 .2-5 .2 11.8.3-3.6.3 11.8.2-2.8.2 10.7.3-.8.3 9.3.2.5.2 8.1.3 1 .3 7.4.2 1.9.2 6.7.3 2.4.3 5.8.2 2.4.2 5.8.3 2.3.3 5.4.2 2.3.2 5.9.3 1.3.3 6.1.2 1.2.2 6.7.3.2.3 7.6.2-1.2.2 8.4.3-1.8.3 9.3.2-4 .2 11.8.3-6.1.3 11.5.2-7 .2 12.3.3-8 .3 13.5.2-10.7.2 14.2.3-13.1.3 13.3.2-12.3.2 14.2.3-13.6.3 11.4.2-11.8.2 11.4.3-14.2.3 9.9.2-13.6.2 8.5.3-13 .3 7.1.2-11.7.2 4.6.3-9.6.3 2.9.2-9.2.2 2.1.3-8.9.3 1.2.2-7.7.2-.1.3-6.5.3-1.4.2-5.8.2-2 .3-5.4.3-2.5.2-5.5.2-2.3.3-5.9.3-2.2.2-6.1.2-2.3.3-6.5.3-1.9.2-7.6.2-1.1.3-8.5.3.5.2-10.4.2 1.5.3-10.9.3 3.1.2-12.1.2 4.7.3-14.1.3 7.7.2-15.3.2 8.7.3-14.3.3 9.1.2-14.2.2 13 .3-15.2.3 13.5.2-14 .2 13.8.3-12.8.3 14.1.2-9.9.2 14.5.3-10.4.3 14.1.2-7.8.2 13.8.3-4.9.3 12.6.2-4.2.2 11.3.3-1.9.3 10.8.2-1.3.2 9.3.3.2.3 8.4.2 1.2.2 7.5.3 2 .3 6.5.2 2.4.2 5.9.3 2.4.3 5.6.2 2.6.2 5.5.3 2.2.3 5.5.2 1.7.2 6 .3 1 .3 6.7.2.4.2 7.7.3-1.4.3 9.2.2-3.4.2 11 .3-4.2.3 10.6.2-5.9.2 12.1.3-7.3.3 12.4.2-9.2.2 14.6.3-10 .3 12.7.2-11.1.2 14.1.3-14.1.3 13.1.2-13.1.2 12.9.3-14.2.3 12.7.2-14.9.2 9.3.3-11.4.3 6.5.2-12.1.2 6.9.3-11.5.3 5.6.2-11.1.2 3.9.3-9.7.3 2.2.2-8.5.2.5.3-7.5.3-.2.2-6.3.2-1.2.3-6.1.3-1.9.2-5.6.2-2.3.3-5.6.3-2.4.2-5.5.2-2.7.3-6.1.3-2.3.2-6.7.2-1.8.3-7.6.3-1 .2-8.8.2.1.3-9.4.3.8.2-10.4.2 3 .3-12.1.3 4.1.2-12.2.2 6 .3-14.6.3 9.4.2-14.4.2 10.2.3-16 .3 12.7.2-14.8.2 13.6.3-14.2.3 14.2.2-11.5.2 13.2.3-10 .3 13.9.2-8.8.2 12.2.3-5.9.3 13.1.2-5.6.2 11.9.3-3.9.3 11.5.2-1.3.2 10.4.3-1.1.3 9 .2.3.2 8.5.3 1.5.3 7 .2 2.2.2 6.6.3 2.3.3 5.8.2 2.5.2 5.6.3 2.5.3 5.4.2 2.3.2 5.7.3 1.7.3 6 .2 1 .2 6.6.3 0 .3 7.9.2-1.2.2 8.6.3-2.8.3 10.7.2-5 .2 12.1.3-5.9.3 12.3.2-8.4.2 12.7.3-8.9.3 13.1.2-9.6.2 13.8.3-12.8.3 14.9.2-13.2.2 13 .3-11.7.3 10.5.2-12.1.2 10.7.3-13.7.3 8.9.2-12.6.2 7.6.3-12.4.3 7 .2-11.8.2 5.9.3-11.3.3 3.8.2-9.2.2 2 .3-8.8.3 1.2.2-7.5.2-.3.3-7 .3-1.1.2-6 .2-1.6.3-5.7.3-2.2.2-5.8.2-2.3.3-5.8.3-2.4.2-6.2.2-2.3.3-6.6.3-1.9.2-7.7.2-.8.3-8.7.3 0 .2-10.1.2 2 .3-10.6.3 1.9.2-11.6.2 5.2.3-14.4.3 7.7.2-13.6.2 7.4.3-13.6.3 9.8.2-13.8.2 10.4.3-14.2.3 13.5.2-13.4.2 12.8.3-12.7.3 15.5.2-11.8.2 14.5.3-9.8.3 14.6.2-7.7.2 13.9.3-5 .3 11.5.2-3.5.2 11.5.3-1.5.3 10.3.2-.9.2 9.2.3 0 .3 8.5.2 1.5.2 7 .3 2.3.3 6.4.2 2.4.2 5.8.3 2.5.3 5.6.2 2.4.2 5.7.3 2.1.3 5.8.2 1.6.2 6.1.3.7.3 7.3.2-.1.2 7.6.3-1.2.3 8.5.2-2.6.2 10.5.3-5 .3 12.4.2-6.1.2 11.8.3-8.2.3 13.8.2-10.2.2 13.8.3-9.2.3 13.9.2-11.9.2 13.9.3-13.2.3 13.7.2-13.7.2 12.2.3-14.7.3 11 .2-12 .2 8.3.3-12.4.3 8.3.2-13 .2 7.2.3-11.7.3 5 .2-10.3.2 2.6.3-8.8.3 1.7.2-8 .2.4.3-7 .3-.9.2-6.6.2-1.1.3-6 .3-1.8.2-5.6.2-2.3.3-5.4.3-2.6.2-5.6.2-2.7.3-6 .3-2.2.2-7 .2-1.6.3-7.9.3-.4.2-8.6.2-.3.3-9.9.3 2.1.2-11.2.2 2.6.3-12.5.3 5.6.2-13.3.2 5.7.3-13.6.3 8.4.2-13.4.2 9.3.3-13.5.3 10.4.2-13.6.2 12 .3-13.5.3 14.2.2-11.8.2 13.6.3-10.5.3 15 .2-10.8.2 14.5.3-6.6.3 12.2.2-4.5.2 12.3.3-4.2.3 11.6.2-2.1.2 10.9.3-.8.3 9 .2.5.2 8.3.3 1.5.3 7.1.2 1.8.2 6.7.3 2.2.3 5.9.2 2.5.2 5.7.3 2.3.3 5.7.2 2.2.2 5.7.3 1.8.3 5.8.2.9.2 7.1.3-.2.3 7.6.2-.8.2 8.8.3-3 .3 10.1.2-4.6.2 11.1.3-4.7.3 11.3.2-7.9.2 13.4.3-9.7.3 14.3.2-10.9.2 13.2.3-10.2.3 13.4.2-12.6.2 13.5.3-13.6.3 11.1.2-13.8.2 12.8.3-15 .3 9.8.2-13.3.2 8.7.3-11.9.3 6.7.2-12 .2 4.6.3-10.8.3 3.8.2-9.4.2 1.7.3-8.3.3 1.1.2-7.5.2-.3.3-6.7.3-1.1.2-6 .2-2 .3-5.5.3-2.2.2-5.7.2-2.5.3-5.8.3-2.5.2-6.1.2-2.2.3-6.6.3-1.5.2-7.9.2-1.1.3-8.9.3.8.2-10 .2 1.4.3-10.8.3 2.4.2-12.3.2 4.8.3-13.1.3 7.3.2-14 .2 7.3.3-14.9.3 9.9.2-12.3.2 10.4.3-13.3.3 12.4.2-14.5.2 13.4.3-11.5.3 14.7.2-10.6.2 14.2.3-9.6.3 14.8.2-7.3.2 12.7.3-5.8.3 13.7.2-4.2.2 11.2.3-1.9.3 10.6.2-.6.2 9.4.3-.2.3 8.4.2 1.7.2 7.1.3 1.9.3 6.5.2 2.5.2 5.7.3 2.5.3 5.7.2 2.3.2 5.6.3 2.3.3 5.6.2 1.5.2 6.5.3.9.3 6.5.2-.1.2 7.7.3-1.2.3 8.8.2-2.2.2 10.3.3-5.2.3 11.6.2-5.6.2 12.3.3-8.6.3 14.8.2-10.6.2 14.1.3-10.7.3 13.6.2-10.4.2 11.8.3-12.6.3 14.8.2-13.3.2 10.8.3-12.9.3 11.1.2-14.2.2 9.9.3-13.2.3 8.2.2-12.7.2 6.2.3-11.6.3 5.8.2-11.3.2 4.2.3-9.3.3 2 .2-9.1.2.8.3-7.2.3-.1.2-6.6.2-1.7.3-5.8.3-1.8.2-5.5.2-2.5.3-5.6.3-2.5.2-5.7.2-2.5.3-6.2.3-2 .2-7.1.2-1.6.3-7.7.3-.8.2-8.6.2.1.3-10.4.3 1.6.2-10.3.2 2.5.3-12.1.3 4.8.2-12.7.2 5.2.3-13.3.3 8.5.2-13.6.2 9.7.3-15.5.3 13 .2-14.3.2 12.8.3-14.2.3 15 .2-12.9.2 13.6.3-10 .3 13.1.2-8.7.2 14.7.3-6.8.3 12.6.2-5.1.2 11.9.3-3.9.3 12.2.2-1.9.2 9.8.3-.3.3 9.1.2.5.2 8 .3 1.5.3 7.2.2 2 .2 6.8.3 2.3.3 5.7.2 2.7.2 5.6.3 2.5.3 5.4.2 2.2.2 5.5.3 1.6.3 6.5.2.9.2 6.8.3-.4.3 8 .2-1.1.2 8.7.3-3 .3 11 .2-4.3.2 10.9.3-6.1.3 12.4.2-7.4.2 12.7.3-10 .3 13.7.2-8.8.2 11.8.3-10.5.3 13.8.2-13.1.2 11.8.3-11.7.3 12.7.2-15.1.2 12.2.3-14.9.3 11.2.2-13.3.2 7.5.3-12 .3 5.3.2-10.7.2 4.4.3-10.5.3 3.4.2-9.4.2 2.4.3-9 .3 1.2.2-7.2.2-.6.3-6.5.3-1.3.2-6.1.2-1.7.3-5.7.3-2.5.2-5.5.2-2.5.3-5.8.3-2.3.2-6.1.2-2.2.3-7.1.3-1.4.2-8 .2-.6.3-8.9.3-.2.2-10 .2 2.3.3-12.2.3 3.9.2-12.5.2 5.5.3-13.8.3 6.4.2-14 .2 9.4.3-15 .3 10.3.2-13.9.2 9.7.3-11.8.3 10.8.2-13 .2 14.7.3-12.1.3 14 .2-10.6.2 12.9.3-7.9.3 14.5.2-8 .2 13.2.3-5.4.3 12.6.2-3.7.2 12.2.3-2.2.3 9.8.2-.6.2 9.6.3.2.3 8.1.2 1.5.2 7.5.3 2 .3 6.2.2 2.6.2 5.9.3 2.3.3 5.6.2 2.6.2 5.4.3 2.1.3 6 .2 1.3.2 6.4.3.9.3 6.9.2 0 .2 7.8.3-1.6.3 9.4.2-3 .2 10.5.3-5.1.3 11.4.2-5.4.2 12.2.3-7 .3 12.7.2-9.8.2 14.3.3-11.9.3 14.4.2-11.4.2 13.8.3-13.3.3 12.7.2-14.1.2 12.9.3-13.9.3 11.4.2-14 .2 9.9.3-13.5.3 9.6.2-13.2.2 6.7.3-11.5.3 4.5.2-10 .2 3 .3-9.6.3 2 .2-8.5.2.7.3-7.3.3-.2.2-6.5.2-1.2.3-6.2.3-1.7.2-5.8.2-2.2.3-5.6.3-2.5.2-5.8.2-2.4.3-6.1.3-2.2.2-6.9.2-1.7.3-7.9.3-.9.2-8.9.2.1.3-9.9.3 1.6.2-10.7.2 2.2.3-12.2.3 5.1.2-12.3.2 5.1.3-12.5.3 6.8.2-14.1.2 11.1.3-14.3.3 11.8.2-14.1.2 13.3.3-13.8.3 12.6.2-11.2.2 13.2.3-9.2.3 14.5.2-8.9.2 12.8.3-6.7.3 13.8.2-6.8.2 13.4.3-3.8.3 11.5.2-2.1.2 10.7.3-1.3.3 9.8.2 0 .2 8.9.3 1.2.3 7.2.2 1.9.2 6.4.3 2.4.3 6 .2 2.6.2 5.5.3 2.3.3 5.7.2 2.1.2 5.7.3 1.6.3 6.3.2.7.2 7.2.3 0 .3 7.4.2-1.4.2 9.1.3-2.6.3 10.7.2-4.6.2 10.8.3-6 .3 13.2.2-8.8.2 12.7.3-8.3.3 12.8.2-9.1.2 12 .3-9.9.3 13.6.2-14.3.2 14.1.3-14.3.3 13.2.2-15.2.2 12.3.3-13.9.3 9 .2-12.7.2 7.9.3-13 .3 7.8.2-11.6.2 4.9.3-11.5.3 3.9.2-9.1.2 2 .3-9.1.3.9.2-7.2.2-.6.3-6.4.3-1.5.2-6 .2-1.7.3-5.8.3-2.2.2-5.7.2-2.4.3-5.7.3-2.6.2-6.1.2-2.4.3-6.5.3-1.9.2-7.9.2-.3.3-8.9.3 0 .2-10 .2 1.3.3-11 .3 2.4.2-11.4.2 4.7.3-13.5.3 7.2.2-14.9.2 8.1.3-13.8.3 9.6.2-14.2.2 13.3.3-15.6.3 14.5.2-15.1.2 13.8.3-10.9.3 13.6.2-10.4.2 14.1.3-7.9.3 13.9.2-7.8.2 14.2.3-6.3.3 12.3.2-4.1.2 12.6.3-2.4.3 10.5.2-1 .2 9.9.3.1.3 8.2.2 1.1.2 7.5.3 2.1.3 6.4.2 2.4.2 5.7"/>
<path clip-path="url(#cd)" fill="none" stroke="#0072BD" stroke-width="2.4" stroke-linejoin="round" d="M77.1 1006.6l.5.1.5-.1.5-.2.5-.3.5-.3.5-.2.5-.3.5-.3.5-.2.5-.3.5-.3.5-.3.5-.3.5-.2.5-.3.5-.3.5-.3.5-.3.5-.2.5-.2.5 0 .5-.1.5-.1.5-.1.5-.2.5-.3.5-.3.5-.4.5-.4.5-.4.5-.4.5-.5.5-.5.5-.5.5-.5.5-.4.5-.5.5-.5.5-.6.5-.5.5-.5.5-.5.5-.4.5-.3.5-.3.5-.3.5-.1.5-.1.5-.1.5.1.5.1.5.2.5.2.5.4.5.4.5.5.5.6.5.6.5.8.5.8.5.8.5.9.5 1 .5 1 .5 1 .5 1.1.5 1.1.5 1.1.5 1.2.5 1.2.5 1.1.5 1.3.5 1.2.5 1.2.5 1.2.5 1.1.5 1.2.5 1.1.5 1.1.5 1.1.5 1.1.5 1.1.5 1 .5.9.5 1 .5.8.5.9.5.8.5.7.5.7.5.6.5.6.5.5.5.4.5.4.5.4.5.2.5.2.5.1.5.1.5-.1.5-.1.5-.2.5-.3.5-.3.5-.5.5-.5.5-.6.5-.7.5-.7.5-.9.5-.9.5-1.1.5-1.1.5-1.2.5-1.3.5-1.4.5-1.4.5-1.5.5-1.6.5-1.7.5-1.7.5-1.8.5-1.9.5-1.8.5-2 .5-2 .5-2 .5-2 .5-2 .5-2.1.5-2 .5-2 .5-2 .5-2 .5-2 .5-1.9.5-1.8.5-1.8.5-1.7.5-1.6.5-1.5.5-1.4.5-1.3.5-1.2.5-1 .5-1 .5-.8.5-.6.5-.5.5-.4.5-.2.5 0 .5.1.5.2.5.5.5.5.5.8.5.8.5 1.1.5 1.1.5 1.3.5 1.5.5 1.5.5 1.7.5 1.8.5 1.9.5 1.9.5 2.1.5 2.1.5 2.3.5 2.2.5 2.3.5 2.4.5 2.4.5 2.4.5 2.4.5 2.4.5 2.4.5 2.4.5 2.3.5 2.3.5 2.3.5 2.3.5 2.2.5 2.1.5 2 .5 2 .5 2 .5 1.8.5 1.8.5 1.6.5 1.6.5 1.5.5 1.4.5 1.3.5 1.2.5 1.1.5 1 .5.8.5.8.5.7.5.6.5.4.5.4.5.2.5.1.5.1.5-.1.5-.2.5-.4.5-.4.5-.5.5-.7.5-.8.5-.9.5-1 .5-1.1.5-1.3.5-1.3.5-1.5.5-1.6.5-1.6.5-1.8.5-1.9.5-2 .5-2.1.5-2.2.5-2.3.5-2.4.5-2.4.5-2.6.5-2.5.5-2.7.5-2.7.5-2.7.5-2.8.5-2.7.5-2.8.5-2.8.5-2.8.5-2.7.5-2.8.5-2.6.5-2.7.5-2.5.5-2.5.5-2.4.5-2.2.5-2.2.5-2 .5-1.9.5-1.8.5-1.6.5-1.4.5-1.3.5-1.1.5-.9.5-.7.5-.5.5-.3.5-.1.5 0 .5.3.5.5.5.6.5.9.5 1 .5 1.3.5 1.4.5 1.6.5 1.7.5 1.9.5 2.1.5 2.2.5 2.3.5 2.4.5 2.5.5 2.7.5 2.7.5 2.8.5 2.8.5 2.9.5 2.9.5 3 .5 2.9.5 3 .5 3 .5 2.9.5 2.9.5 2.8.5 2.9.5 2.7.5 2.7.5 2.6.5 2.5.5 2.5.5 2.4.5 2.2.5 2.2.5 2 .5 2 .5 1.8.5 1.7.5 1.6.5 1.5.5 1.4.5 1.2.5 1.1.5 1 .5.8.5.8.5.6.5.4.5.4.5.2.5.1.5 0 .5-.2.5-.3.5-.5.5-.5.5-.7.5-.8.5-1 .5-1.1.5-1.2.5-1.4.5-1.4.5-1.6.5-1.8.5-1.8.5-2 .5-2.1.5-2.2.5-2.3.5-2.5.5-2.5.5-2.6.5-2.7.5-2.8.5-2.9.5-3 .5-3 .5-3 .5-3.1.5-3.1.5-3.2.5-3.1.5-3.2.5-3.1.5-3.1.5-3 .5-3 .5-3 .5-2.8.5-2.7.5-2.7.5-2.5.5-2.4.5-2.2.5-2.1.5-1.9.5-1.8.5-1.5.5-1.4.5-1.2.5-.9.5-.8.5-.5.5-.4.5-.1.5.2.5.3.5.6.5.7.5 1 .5 1.2.5 1.4.5 1.6.5 1.8.5 1.9.5 2.2.5 2.3.5 2.4.5 2.6.5 2.7.5 2.8.5 2.9.5 3 .5 3 .5 3.2.5 3.1.5 3.2.5 3.3.5 3.2.5 3.2.5 3.3.5 3.2.5 3.1.5 3.1.5 3.1.5 3 .5 2.9.5 2.9.5 2.7.5 2.6.5 2.6.5 2.4.5 2.4.5 2.2.5 2.1.5 1.9.5 1.9.5 1.7.5 1.6.5 1.4.5 1.3.5 1.2.5 1 .5.9.5.8.5.6.5.5.5.4.5.2.5 0 .5 0 .5-.2.5-.4.5-.5.5-.6.5-.8.5-.9.5-1 .5-1.2.5-1.3.5-1.5.5-1.6.5-1.7.5-1.9.5-2 .5-2.1.5-2.3.5-2.4.5-2.5.5-2.6.5-2.7.5-2.8.5-2.9.5-3 .5-3.1.5-3.1.5-3.2.5-3.3.5-3.3.5-3.3.5-3.4.5-3.3.5-3.4.5-3.3.5-3.3.5-3.2.5-3.2.5-3.1.5-3 .5-2.9.5-2.8.5-2.6.5-2.5.5-2.4.5-2.2.5-2 .5-1.9.5-1.6.5-1.4.5-1.3.5-1 .5-.8.5-.5.5-.3.5-.1.5.1.5.4.5.6.5.8.5 1.1.5 1.3.5 1.5.5 1.6.5 1.9.5 2.1.5 2.3.5 2.4.5 2.6.5 2.7.5 2.8.5 3 .5 3 .5 3.2.5 3.2.5 3.3.5 3.4.5 3.4.5 3.4.5 3.4.5 3.4.5 3.4.5 3.3.5 3.3.5 3.3.5 3.2.5 3.1.5 3.1.5 3 .5 2.9.5 2.7.5 2.7.5 2.5.5 2.5.5 2.3.5 2.2.5 2 .5 1.9.5 1.8.5 1.7.5 1.5.5 1.3.5 1.2.5 1.1.5.9.5.8.5.7.5.5.5.3.5.2.5.1.5-.1.5-.2.5-.4.5-.5.5-.7.5-.8.5-.9.5-1.1.5-1.3.5-1.4.5-1.5.5-1.7.5-1.8.5-2 .5-2 .5-2.3.5-2.3.5-2.5.5-2.6.5-2.7.5-2.9.5-2.9.5-3 .5-3.2.5-3.2.5-3.2.5-3.4.5-3.4.5-3.4.5-3.4.5-3.5.5-3.5"/>
<path clip-path="url(#cd)" fill="none" stroke="#0072BD" stroke-width="0.9" stroke-linejoin="round" d="M77.1 998.4l.3 17.5.2-17.3.2 17.8.3-19.5.3 17.9.2-17.9.2 16.6.3-14.8.3 14.9.2-16.5.2 16.6.3-17.7.3 17.8.2-16.6.2 15.8.3-17.1.3 18.4.2-18.7.2 19.1.3-19.6.3 17.2.2-15.7.2 17.2.3-18.9.3 17.4.2-16.9.2 15.9.3-16 .3 17.8.2-17.2.2 14.8.3-16.2.3 15.6.2-17.6.2 17.5.3-16.8.3 19 .2-18.8.2 17.8.3-16.9.3 17.1.2-18.2.2 17 .3-17.2.3 17.1.2-16.6.2 15.3.3-14.1.3 15 .2-15.6.2 13.5.3-14.7.3 15.4.2-13.8.2 12.9.3-14.9.3 15 .2-13.6.2 13.2.3-15.3.3 13.6.2-13.4.2 15 .3-16.8.3 16.1.2-16.7.2 17.1.3-16.4.3 15.1.2-16.7.2 17 .3-17.7.3 16 .2-15.9.2 17.3.3-19.2.3 17.5.2-16.4.2 14.6.3-15.9.3 17.2.2-17 .2 15.3.3-16.6.3 17.4.2-17.3.2 16.7.3-16 .3 15.4.2-15.6.2 15.7.3-15.6.3 15.7.2-17.9.2 16.7.3-16 .3 14.5.2-14.7.2 14.3.3-12.7.3 13.1.2-13.3.2 13.2.3-12.5.3 11.7.2-12 .2 12.3.3-10.9.3 12.6.2-11.8.2 10.6.3-10.4.3 10.6.2-8.6.2 8.5.3-7.3.3 7.9.2-6.9.2 8 .3-6.6.3 7.2.2-6.9.2 7.2.3-5.7.3 6.2.2-4.7.2 5.3.3-4.2.3 5.3.2-3.8.2 4.2.3-3.7.3 4.6.2-3.1.2 4.3.3-2.8.3 4 .2-2.7.2 3.7.3-3.1.3 4.7.2-3.2.2 4.2.3-2.9.3 4.3.2-3.6.2 4.4.3-2.9.3 4.3.2-3 .2 4.4.3-3.7.3 5.7.2-4.4.2 5 .3-4.4.3 6.2.2-5.7.2 7.6.3-7 .3 8.4.2-7.9.2 9 .3-8.4.3 10.4.2-9.2.2 10.4.3-10.7.3 11.5.2-10.8.2 11.3.3-10 .3 12.5.2-11.8.2 13 .3-13.6.3 15.1.2-14 .2 14.6.3-13.5.3 13.8.2-14.5.2 15.8.3-15.4.3 14.7.2-15.2.2 15.9.3-14.8.3 17.5.2-16.6.2 17.4.3-17.1.3 15.8.2-14.9.2 15.7.3-16.9.3 16.7.2-15.4.2 15 .3-15.5.3 14.4.2-13.7.2 15.5.3-15.1.3 13.7.2-14.5.2 15.4.3-15.3.3 12.4.2-13.5.2 13.4.3-12.1.3 12.4.2-12.7.2 11.5.3-11.8.3 9.9.2-10.5.2 9 .3-8.6.3 7.9.2-9 .2 7.4.3-7.4.3 6.2.2-7.5.2 5.9.3-6.2.3 5.3.2-6.8.2 4.8.3-5.5.3 4 .2-5.2.2 3.8.3-4.8.3 2.7.2-3.8.2 2.1.3-3.4.3 1.6.2-3.3.2 1.5.3-3.3.3 1.7.2-3.2.2 1 .3-2.8.3 1 .2-3.2.2 1.5.3-3.2.3 1.2.2-3.3.2 1.3.3-3.2.3 1.3.2-3.5.2 1.9.3-4.2.3 2.4.2-4.5.2 2.6.3-5 .3 2.8.2-5.4.2 4.3.3-6.3.3 4.4.2-6.7.2 4.6.3-7.9.3 7.2.2-9.3.2 7.2.3-9.7.3 8 .2-8.9.2 8.8.3-11.4.3 9 .2-10.6.2 9.2.3-11.6.3 10.3.2-13.1.2 12.8.3-14.1.3 13.3.2-14.9.2 15.6.3-15.3.3 13.4.2-15 .2 14.8.3-16.5.3 16.2.2-16.4.2 14.5.3-16.9.3 18.4.2-17.9.2 16.5.3-16.3.3 16.2.2-16.2.2 16.1.3-15 .3 14.5.2-14.9.2 15.7.3-16.3.3 17.1.2-16.4.2 16 .3-14.2.3 15 .2-13 .2 13.5.3-13.3.3 14.8.2-12.1.2 12.2.3-10.5.3 10.9.2-10.5.2 12.6.3-10.3.3 11.5.2-8.6.2 9.6.3-7.7.3 9.5.2-6.6.2 7.6.3-5.5.3 7.4.2-5.1.2 6.5.3-3.8.3 5.5.2-3.1.2 5.6.3-3.4.3 5.1.2-2.2.2 4.4.3-1.9.3 4.2.2-1.7.2 4 .3-1.2.3 3.3.2-1.1.2 3.3.3-.6.3 3.1.2-.7.2 3 .3-.9.3 3.5.2-.9.2 3 .3-.7.3 3.2.2-1.3.2 3.7.3-1.7.3 4.3.2-2.4.2 4.6.3-2.6.3 5.2.2-3.4.2 5.6.3-3.8.3 5.8.2-3.9.2 6.4.3-5.7.3 7.2.2-5.6.2 8.4.3-6.3.3 8.8.2-8.2.2 10.2.3-8.7.3 10.6.2-10.3.2 11.5.3-10 .3 11.9.2-11.8.2 12.6.3-12.5.3 14.7.2-13.7.2 15.5.3-14.1.3 14.4.2-13.6.2 13.6.3-12.9.3 15.8.2-15.4.2 16.3.3-15.8.3 16 .2-16.5.2 16.8.3-18.3.3 16.6.2-14.1.2 13.8.3-14.3.3 15.4.2-15 .2 15.3.3-15.5.3 15.2.2-16.1.2 15 .3-15.3.3 15 .2-15.1.2 14.1.3-14.1.3 11.7.2-13.2.2 13.6.3-14.1.3 13 .2-12.1.2 9.9.3-11.4.3 10.2.2-11.1.2 9.7.3-11.3.3 9.2.2-9.4.2 6.7.3-7.7.3 6.5.2-8.8.2 6.7.3-8 .3 5.2.2-6.7.2 4 .3-5.1.3 3.4.2-5.7.2 2.7.3-4.4.3 2.2.2-4.1.2 1.8.3-4.2.3 1.4.2-3.8.2 1.1.3-3.3.3.8.2-3.3.2.6.3-3.3.3.7.2-3.2.2.5.3-3.4.3.7.2-3.7.2.8.3-3.5.3 1.2.2-4.4.2 1.8.3-4.5.3 1.5.2-4.8.2 2.2.3-5.1.3 2.8.2-5.6.2 3 .3-6.6.3 5.2.2-8 .2 4.8.3-7 .3 5.3.2-9.4.2 7.3.3-8.6.3 6.9.2-9.8.2 8.7.3-11.9.3 10 .2-12.4.2 10 .3-12 .3 10.3.2-13.1.2 11.8.3-12.5.3 12.5.2-14.6.2 12.9.3-15.7.3 14.1.2-15.4.2 14.6.3-15.5.3 16.9.2-16.8.2 15.6.3-17.1.3 17.3.2-16.6.2 14.8.3-16.6.3 17.9.2-15.9.2 14.8.3-14.8.3 16.2.2-16.1.2 16.7.3-14.9.3 14.5.2-15.7.2 15.7.3-13 .3 14.8.2-14 .2 14.8.3-11.7.3 12.3.2-11 .2 12.6.3-11.2.3 12.6.2-10.1.2 12.8.3-10.7.3 11.9.2-9.1.2 10.7.3-7.8.3 9.2.2-6.5.2 9.4.3-6 .3 7.7.2-4.5.2 6.5.3-3.4.3 6.2.2-3.5.2 6.4.3-3 .3 5.3.2-2 .2 4.6.3-1.5.3 4.4.2-1.5.2 4.2.3-1.1.3 3.7.2-.4.2 3.5.3-.4.3 3.5.2-.6.2 3.2.3-.3.3 3.2.2-.6.2 3.6.3-.6.3 3.5.2-1 .2 3.8.3-1.1.3 4.1.2-1.8.2 4.4.3-2.2.3 5 .2-2.5.2 5.3.3-3.5.3 6 .2-4.3.2 7.4.3-5.8.3 7.6.2-5.4.2 7.6.3-6 .3 8.6.2-7.8.2 10.7.3-9.8.3 11.7.2-10.1.2 11.2.3-10.5.3 13.8.2-12 .2 13.7.3-13.6.3 13.2.2-10.8.2 13.7.3-15 .3 14.7.2-13.1.2 14.8.3-13.2.3 13 .2-13.2.2 16.5.3-17.6.3 16.3.2-15.2.2 14.9.3-15.6.3 18 .2-16.8.2 16 .3-16.5.3 17.4.2-16.9.2 16 .3-17.6.3 16.2.2-14.2.2 13.6.3-14.4.3 14.9.2-16.1.2 13.2.3-14.7.3 14.7.2-15.3.2 13.2.3-12 .3 9.6.2-11.5.2 11.6.3-12.7.3 10.2.2-10.1.2 8 .3-10.6.3 8.1.2-8.4.2 7.2.3-9 .3 5.7.2-7.5.2 5 .3-6.9.3 4.4.2-5.8.2 3.4.3-5.5.3 2.7.2-5.1.2 2.7.3-4.7.3 1.9.2-4.5.2 1.7.3-4 .3.9.2-3.6.2.9.3-3.8.3.8.2-3.7.2.7.3-3.6.3.3.2-3.4.2.4.3-3.7.3.9.2-3.8.2.7.3-4.2.3 1 .2-4 .2 1.1.3-4.4.3 1.3.2-4.6.2 2 .3-5.6.3 2.5.2-6 .2 3.2.3-6.5.3 4.3.2-8.1.2 5.8.3-8.6.3 6.2.2-9.3.2 6.9.3-9.9.3 7.2.2-9.8.2 8.7.3-12.2.3 9.9.2-11.3.2 9.5.3-13.1.3 11.5.2-13.5.2 12 .3-14.3.3 13.1.2-15.8.2 14.9.3-16.4.3 14 .2-14.5.2 14.7.3-16.6.3 16.5.2-16.8.2 15.3.3-14.9.3 14.5.2-15.6.2 15.1.3-15.9.3 17 .2-16.4.2 16.5.3-15 .3 15.9.2-17.8.2 18.8.3-16.8.3 16.4.2-15.9.2 16.6.3-15 .3 15.5.2-13 .2 14.1.3-11 .3 12.4.2-11.8.2 12.7.3-9.5.3 12.9.2-11.2.2 11.5.3-9.2.3 12.2.2-9.2.2 11.5.3-7.1.3 8.3.2-5.6.2 8 .3-5.6.3 8 .2-3.8.2 7.2.3-4 .3 6.2.2-2.7.2 5.5.3-2.6.3 5.6.2-2 .2 5 .3-1.7.3 4.8.2-1.4.2 4.5.3-.8.3 3.6.2-.5.2 3.8.3-.5.3 3.5.2-.3.2 3.8.3-.5.3 3.7.2-.7.2 3.7.3-.8.3 3.9.2-.9.2 4.1.3-1.4.3 4.2.2-1.5.2 4.9.3-2.2.3 4.9.2-2.8.2 5.8.3-3.1.3 5.9.2-3.8.2 6.4.3-5.3.3 7.8.2-6 .2 9.3.3-7.1.3 8.5.2-6.9.2 10.2.3-8.5.3 9.8.2-8.1.2 10 .3-8.7.3 12 .2-11.6.2 13.4.3-13.4.3 14.2.2-12 .2 14.1.3-13.8.3 14.2.2-12.7.2 13.7.3-14.6.3 14.9.2-14 .2 14.4.3-13.6.3 16.1.2-17.2.2 18.1.3-16.3.3 16 .2-17.1.2 17.7.3-17.8.3 16.4.2-16.6.2 16.5.3-16 .3 16.4.2-16.8.2 15 .3-14.8.3 14.2.2-15.2.2 13 .3-15.1.3 13.3.2-12.7.2 13.2.3-14.7.3 11.1.2-10.7.2 10.4.3-13.2.3 10.1.2-10.4.2 9.1.3-10.2.3 7.8.2-10.2.2 7.5.3-8 .3 5.6.2-7.9.2 5.2.3-6.6.3 3.9.2-6.7.2 3.8.3-5.3.3 2.6.2-5.4.2 2.7.3-4.8.3 1.6.2-4.2.2 1.6.3-4.3.3.9.2-4 .2 1.1.3-4 .3.6.2-3.8.2.5.3-3.6.3.4.2-3.7.2.6.3-3.8.3.4.2-3.9.2.7.3-4 .3.8.2-4.6.2 1.3.3-4.5.3 1.7.2-5.5.2 2.2.3-5.9.3 3.3.2-6.4.2 3.2.3-6.9.3 4 .2-7.1.2 4.5.3-7.9.3 5.8.2-10 .2 6.6.3-9.7.3 7.4.2-9.8.2 8.6.3-12.5.3 9.4.2-12.4.2 11.1.3-13.5.3 12.6.2-14.6.2 12.9.3-14.7.3 11.7.2-13.8.2 12.5.3-13 .3 13.7.2-17.3.2 15 .3-15.7.3 16.7.2-17.9.2 15.7.3-15.2.3 15.9.2-15.6.2 16.2.3-17.2.3 17.2.2-18.4.2 17.7.3-15.1.3 13.9.2-14.1.2 15.1.3-13 .3 14.3.2-14 .2 15.2.3-13 .3 14.7.2-12.9.2 13.5.3-12 .3 13.4.2-10.9.2 12.7.3-11.6.3 13.3.2-9.8.2 11.7.3-8.4.3 10.7.2-7.4.2 10.2.3-8 .3 9.6.2-5.6.2 8.7.3-5.9.3 8.5.2-4.7.2 7.2.3-4.2.3 6.9.2-3.6.2 6.5.3-2.2.3 5.4.2-2.3.2 5.3.3-1.3.3 4.2.2-.6.2 4.1.3-.8.3 3.8.2-.3.2 3.8.3-.5.3 3.7.2-.2.2 3.7.3-.4.3 3.6.2-.2.2 3.5.3-.3.3 3.8.2-1 .2 4.1.3-1 .3 4.4.2-2 .2 5.2.3-2 .3 4.5.2-2.4.2 6.1.3-3.8.3 5.9.2-3.3.2 6.9.3-5 .3 7.1.2-5.3.2 8.3.3-6.9.3 9.7.2-7.7.2 10.4.3-8.9.3 10.1.2-8.2.2 10.2.3-10.5.3 13.6.2-12.1.2 13.3.3-12 .3 12.9.2-11.2.2 13 .3-11.7.3 12.5.2-13.3.2 14.4.3-14.9.3 17.4.2-16.6.2 16.5.3-15.9.3 15.7.2-13.6.2 16.1.3-17.2.3 16.3.2-17.2.2 18.7.3-17.2.3 16.4.2-16.3.2 16 .3-17.6.3 15.4.2-16.4.2 15.4.3-13.5.3 12.2.2-14.3.2 14.7.3-14.5.3 11.8.2-13.9.2 12.7.3-12.9.3 12.6.2-12.8.2 9.5.3-10.6.3 9.3.2-11.5.2 9.4.3-9.6.3 7.8.2-9.7.2 6.3.3-8 .3 6.4.2-8.1.2 4.7.3-7.4.3 4.4.2-6.2.2 3.4.3-6 .3 3.5.2-6 .2 2.6.3-4.6.3 1.5.2-4.7.2 1.6.3-4.3.3.9.2-3.7.2.7.3-3.9.3.3.2-3.5.2.3.3-3.7.3.2.2-3.5.2.3.3-4 .3.4.2-3.8.2.6.3-4.2.3.8.2-4.6.2 1.2"/>
<path clip-path="url(#cd)" fill="none" stroke="#D95319" stroke-width="2.4" stroke-linejoin="round" d="M77.1 1005.6l.5-.1.5-.1.5 0 .5-.1.5-.1.5-.1.5-.1.5-.1.5 0 .5.2.5.2.5.2.5.2.5.2.5.1.5.2.5.1.5.2.5.1.5.3.5.5.5.5.5.4.5.4.5.4.5.4.5.3.5.1.5 0 .5 0 .5-.1.5 0 .5-.1.5-.2.5-.2.5-.2.5-.3.5-.3.5-.4.5-.4.5-.5.5-.5.5-.6.5-.6.5-.7.5-.6.5-.7.5-.7.5-.7.5-.8.5-.9.5-.9.5-.9.5-.9.5-.9.5-1 .5-.9.5-1 .5-.9.5-1 .5-.9.5-.9.5-.8.5-.8.5-.9.5-.7.5-.7.5-.6.5-.6.5-.5.5-.4.5-.3.5-.2.5-.2.5 0 .5.1.5.1.5.3.5.3.5.4.5.6.5.6.5.8.5.8.5.9.5 1 .5 1.1.5 1.2.5 1.2.5 1.3.5 1.4.5 1.4.5 1.4.5 1.5.5 1.6.5 1.5.5 1.6.5 1.6.5 1.7.5 1.6.5 1.6.5 1.6.5 1.6.5 1.6.5 1.5.5 1.5.5 1.5.5 1.5.5 1.4.5 1.4.5 1.3.5 1.2.5 1.2.5 1.2.5 1.1.5 1 .5 1 .5.8.5.9.5.7.5.7.5.6.5.5.5.4.5.4.5.2.5.2.5.1.5 0 .5 0 .5-.2.5-.2.5-.4.5-.4.5-.6.5-.6.5-.7.5-.8.5-1 .5-1 .5-1.1.5-1.2.5-1.3.5-1.4.5-1.4.5-1.6.5-1.7.5-1.7.5-1.8.5-1.9.5-2 .5-2 .5-2.1.5-2.1.5-2.2.5-2.2.5-2.3.5-2.3.5-2.3.5-2.3.5-2.3.5-2.3.5-2.2.5-2.3.5-2.1.5-2.2.5-2.1.5-2 .5-1.9.5-1.8.5-1.7.5-1.6.5-1.5.5-1.4.5-1.2.5-1.1.5-.9.5-.8.5-.6.5-.5.5-.3.5-.1.5.1.5.2.5.4.5.5.5.8.5.9.5 1 .5 1.2.5 1.4.5 1.5.5 1.7.5 1.7.5 1.9.5 2.1.5 2.1.5 2.2.5 2.3.5 2.3.5 2.5.5 2.5.5 2.5.5 2.6.5 2.5.5 2.6.5 2.7.5 2.6.5 2.5.5 2.6.5 2.5.5 2.5.5 2.5.5 2.3.5 2.4.5 2.2.5 2.2.5 2.1.5 2 .5 1.9.5 1.9.5 1.7.5 1.6.5 1.6.5 1.4.5 1.3.5 1.3.5 1.1.5 1 .5.9.5.7.5.7.5.5.5.5.5.3.5.2.5.1.5-.1.5-.1.5-.3.5-.4.5-.5.5-.6.5-.8.5-.9.5-1 .5-1.1.5-1.2.5-1.4.5-1.4.5-1.6.5-1.7.5-1.9.5-1.9.5-2 .5-2.2.5-2.2.5-2.3.5-2.5.5-2.5.5-2.6.5-2.6.5-2.7.5-2.8.5-2.8.5-2.9.5-2.9.5-2.9.5-2.9.5-2.9.5-2.9.5-2.9.5-2.8.5-2.7.5-2.7.5-2.7.5-2.5.5-2.4.5-2.3.5-2.2.5-2.1.5-1.9.5-1.8.5-1.6.5-1.4.5-1.2.5-1.1.5-.8.5-.7.5-.5.5-.2.5-.1.5.2.5.3.5.6.5.8.5.9.5 1.2.5 1.3.5 1.6.5 1.7.5 1.8.5 2.1.5 2.1.5 2.4.5 2.4.5 2.6.5 2.6.5 2.8.5 2.8.5 2.9.5 2.9.5 3 .5 3.1.5 3 .5 3.1.5 3 .5 3.1.5 3 .5 3 .5 2.9.5 2.9.5 2.8.5 2.7.5 2.7.5 2.6.5 2.5.5 2.4.5 2.2.5 2.2.5 2.1.5 2 .5 1.8.5 1.7.5 1.6.5 1.5.5 1.3.5 1.3.5 1.1.5.9.5.9.5.7.5.5.5.5.5.3.5.2.5 0 .5-.1.5-.2.5-.4.5-.5.5-.6.5-.7.5-.9.5-1.1.5-1.1.5-1.3.5-1.4.5-1.6.5-1.7.5-1.8.5-1.9.5-2.1.5-2.2.5-2.3.5-2.4.5-2.5.5-2.6.5-2.7.5-2.8.5-2.9.5-3 .5-3 .5-3.1.5-3.1.5-3.2.5-3.2.5-3.2.5-3.2.5-3.2.5-3.2.5-3.1.5-3.1.5-3.1.5-2.9.5-2.9.5-2.7.5-2.7.5-2.5.5-2.4.5-2.2.5-2.1.5-1.9.5-1.7.5-1.5.5-1.4.5-1.1.5-.9.5-.7.5-.5.5-.2.5-.1.5.2.5.5.5.6.5.9.5 1 .5 1.3.5 1.5.5 1.7.5 1.9.5 2 .5 2.2.5 2.4.5 2.5.5 2.7.5 2.8.5 2.8.5 3 .5 3.1.5 3.1.5 3.2.5 3.3.5 3.3.5 3.2.5 3.3.5 3.3.5 3.3.5 3.2.5 3.2.5 3.2.5 3.1.5 3 .5 2.9.5 2.9.5 2.7.5 2.7.5 2.6.5 2.4.5 2.3.5 2.2.5 2.1.5 2 .5 1.8.5 1.7.5 1.5.5 1.5.5 1.3.5 1.1.5 1 .5.9.5.7.5.6.5.5.5.3.5.1.5.1.5-.2.5-.2.5-.4.5-.5.5-.7.5-.9.5-.9.5-1.1.5-1.3.5-1.4.5-1.5.5-1.7.5-1.8.5-1.9.5-2.1.5-2.2.5-2.3.5-2.4.5-2.6.5-2.7.5-2.7.5-2.9.5-3 .5-3.1.5-3.1.5-3.2.5-3.3.5-3.3.5-3.3.5-3.4.5-3.4.5-3.4.5-3.3.5-3.4.5-3.3.5-3.3.5-3.1.5-3.1.5-3.1.5-2.9.5-2.7.5-2.7.5-2.5.5-2.3.5-2.2.5-2 .5-1.8.5-1.6.5-1.4.5-1.1.5-1 .5-.7.5-.5.5-.2.5-.1.5.3.5.4.5.7.5.9.5 1.2.5 1.3.5 1.6.5 1.8.5 1.9.5 2.2.5 2.3.5 2.5.5 2.7.5 2.7.5 3 .5 3 .5 3.1.5 3.2.5 3.3.5 3.4.5 3.4.5 3.4.5 3.4.5 3.5.5 3.4.5 3.4.5 3.4.5 3.3.5 3.3.5 3.2.5 3.2.5 3 .5 3 .5 2.9.5 2.7.5 2.7.5 2.5.5 2.5.5 2.2.5 2.2.5 2 .5 1.9.5 1.8.5 1.6.5 1.5.5 1.3.5 1.2.5 1 .5.9.5.8.5.6.5.5.5.3.5.1.5 0 .5-.1.5-.3"/>
<path clip-path="url(#cd)" fill="none" stroke="#D95319" stroke-width="0.9" stroke-linejoin="round" d="M77.1 996.4l.3 16.6.2-14.5.2 15.7.3-17 .3 17.4.2-18.3.2 18.4.3-17.5.3 16.5.2-16.9.2 16.3.3-15.9.3 17.4.2-17.8.2 15.4.3-15 .3 15.1.2-16.7.2 17 .3-15.8.3 15.3.2-15.1.2 16 .3-16.2.3 15.8.2-15.6.2 18.3.3-19.1.3 18.4.2-15.7.2 15.5.3-15 .3 16.4.2-17.9.2 17.8.3-18.1.3 17.7.2-17.3.2 17.5.3-15.4.3 15.5.2-16.8.2 17.3.3-15.1.3 14.2.2-14.9.2 15.4.3-15.5.3 16.2.2-14.9.2 15.3.3-15.6.3 15.8.2-13.8.2 13.5.3-14.1.3 13.8.2-13.8.2 15.2.3-15.9.3 13.4.2-11.9.2 13 .3-11.9.3 11.2.2-12.6.2 11.4.3-9.7.3 10.9.2-11 .2 9.9.3-10.5.3 10.4.2-10.7.2 9.3.3-9.7.3 9.9.2-9.2.2 8.3.3-8.2.3 7.6.2-8.1.2 7.6.3-8.5.3 7.2.2-7.6.2 7.4.3-7.4.3 5.5.2-6.7.2 6 .3-6.3.3 5.7.2-6.6.2 6.8.3-7 .3 5.7.2-7 .2 6.8.3-7.8.3 6.4.2-7 .2 6.2.3-7.5.3 7.5.2-7.8.2 7 .3-8.5.3 6.8.2-7.4.2 7.2.3-9.8.3 10 .2-9.9.2 8.2.3-10.1.3 9.1.2-10.6.2 11.3.3-12.3.3 10.6.2-10.8.2 10.7.3-12.1.3 10.5.2-12.5.2 13.5.3-14.4.3 13.6.2-15.2.2 14.3.3-15.8.3 14.9.2-14.8.2 14.8.3-16.6.3 17.5.2-16.7.2 15.2.3-16.8.3 16.8.2-17.4.2 16.7.3-16.8.3 16.9.2-18.2.2 17.8.3-17.5.3 16.2.2-15.6.2 17.1.3-16.8.3 16.4.2-15.4.2 14.8.3-14.9.3 14.5.2-14.3.2 15.9.3-13.8.3 13.7.2-13.6.2 13.4.3-12.4.3 12.3.2-9.9.2 10.3.3-9.6.3 9.2.2-8.4.2 9.9.3-7.7.3 8.9.2-8.5.2 8.2.3-6.4.3 7.4.2-5.8.2 7 .3-5.3.3 6.4.2-4.3.2 5.4.3-4 .3 4.6.2-3.1.2 4.5.3-2.5.3 4.1.2-2.4.2 3.8.3-1.9.3 3.1.2-1.6.2 3.1.3-1.3.3 3 .2-1.6.2 3.3.3-1.6.3 3.3.2-1.9.2 3.5.3-2 .3 3.8.2-2 .2 3.6.3-2.2.3 3.8.2-2.7.2 4.5.3-3.1.3 5.2.2-4.2.2 5.8.3-4.8.3 6.6.2-4.7.2 5.9.3-5.2.3 7.3.2-7.1.2 8.9.3-6.9.3 9 .2-8.2.2 9.2.3-8.8.3 10.7.2-10 .2 11.2.3-10.9.3 12.6.2-12.3.2 14.2.3-13.9.3 15.1.2-14.7.2 14.1.3-12.7.3 14.9.2-15 .2 15.8.3-14.4.3 14.9.2-16.8.2 16.8.3-13.9.3 15.7.2-15.5.2 15.9.3-17 .3 17.3.2-16.2.2 14.3.3-15.2.3 17.7.2-16.3.2 14.3.3-15.2.3 14.7.2-13.7.2 14.8.3-15.2.3 13.2.2-14.7.2 14.4.3-14.8.3 14.4.2-13.5.2 12.7.3-13.8.3 12.6.2-12.2.2 10 .3-9.8.3 8.7.2-9.7.2 9.7.3-9.8.3 7.6.2-8.2.2 7 .3-8.3.3 6.9.2-7.6.2 4.9.3-5.8.3 4.9.2-6 .2 4 .3-5.5.3 3.2.2-4.6.2 2.6.3-4.5.3 2.4.2-3.7.2 2 .3-3.6.3 1.3.2-3.3.2 1.4.3-3.4.3 1.1.2-3 .2 1 .3-3.1.3.8.2-3 .2.9.3-3.3.3 1 .2-3.3.2 1.4.3-3.7.3 1.6.2-4.1.2 1.8.3-4.1.3 1.8.2-4.6.2 2.7.3-5.5.3 3.2.2-5.8.2 4 .3-6.7.3 5.3.2-7.4.2 4.9.3-7.9.3 6.8.2-9.1.2 6.9.3-8.5.3 7.5.2-10.1.2 9.2.3-12.4.3 9.9.2-12.1.2 11.1.3-12.6.3 12 .2-13.1.2 12.4.3-14.5.3 11.9.2-14.3.2 15.4.3-15.2.3 14.1.2-16.1.2 16.1.3-16.3.3 14 .2-15 .2 14.4.3-16.4.3 16.9.2-16 .2 16.3.3-18.3.3 16.7.2-15.3.2 16.4.3-16.4.3 15.2.2-14 .2 14.6.3-13.4.3 15.6.2-15.1.2 14.8.3-14.2.3 13.8.2-11.7.2 13.8.3-13.6.3 15 .2-11.4.2 10.9.3-9.7.3 11.2.2-8.6.2 10.3.3-8.2.3 10.2.2-7.9.2 8.7.3-7 .3 9 .2-6.4.2 8.5.3-5.9.3 7 .2-4.4.2 6.7.3-3.8.3 6.4.2-3.4.2 4.9.3-2.4.3 4.7.2-2.2.2 4.8.3-2 .3 4.4.2-1.3.2 3.5.3-1 .3 3.6.2-.7.2 3.3.3-.9.3 3.3.2-.4.2 3 .3-.6.3 3.4.2-1 .2 3.5.3-1 .3 3.5.2-1.2.2 4 .3-1.9.3 4.2.2-1.7.2 4.3.3-2.6.3 4.8.2-2.6.2 5.5.3-4.3.3 6.6.2-4.2.2 6.3.3-5.3.3 7.6.2-6.6.2 8.5.3-6.9.3 9.8.2-8.9.2 10.5.3-8.5.3 9.9.2-9.6.2 12.4.3-12.1.3 13.8.2-11.7.2 11.8.3-11.9.3 13.5.2-12.3.2 15.3.3-13.5.3 14.5.2-14 .2 14.2.3-15.9.3 15.4.2-13.8.2 16.5.3-17.4.3 16.3.2-15.8.2 16.4.3-15.8.3 17.9.2-18.2.2 16.2.3-16 .3 17.4.2-17.6.2 17.7.3-17.6.3 15 .2-16 .2 15.3.3-13.5.3 13.4.2-15.8.2 14.7.3-14.3.3 14.1.2-14.2.2 11.8.3-12.4.3 11.4.2-12.4.2 11.2.3-12.7.3 11 .2-11.5.2 9.3.3-10.3.3 7.5.2-7.9.2 6 .3-7.3.3 6.2.2-8.1.2 5.2.3-6.8.3 4.1.2-6.1.2 4 .3-5.6.3 3 .2-4.6.2 2.2.3-4.6.3 2.2.2-4.4.2 1.3.3-3.6.3 1 .2-3.7.2.9.3-3.3.3.9.2-3.5.2.5.3-3.4.3.8.2-3.4.2.6.3-3.6.3.4.2-3.6.2.9.3-3.7.3 1 .2-3.9.2 1.3.3-4.6.3 1.9.2-5 .2 2.5.3-6 .3 3.1.2-6 .2 3.8.3-6.4.3 4.5.2-8 .2 5.8.3-9.1.3 6 .2-8.2.2 6.4.3-10.2.3 8 .2-9.8.2 7.9.3-10.8.3 9.8.2-12.8.2 11.3.3-13.4.3 10.6.2-12.1.2 12 .3-13.6.3 11.2.2-13 .2 13.8.3-15.2.3 13.9.2-15.5.2 13.8.3-15 .3 14.6.2-16.4.2 16.7.3-15.7.3 14.1.2-14.4.2 15.7.3-16.7.3 14.9.2-15.3.2 17.6.3-16.6.3 14.9.2-13.4.2 13.9.3-13.3.3 16.4.2-14.9.2 13.3.3-13.3.3 16.6.2-14.6.2 14.7.3-12.7.3 14.3.2-13.1.2 14.3.3-10.7.3 12.9.2-11.5.2 12 .3-8.2.3 9.4.2-7.6.2 11 .3-7.6.3 9.6.2-6.6.2 8.1.3-5.2.3 7.6.2-4.1.2 6.6.3-3.3.3 6 .2-3.5.2 6.2.3-2.3.3 5.1.2-2.4.2 4.7.3-1.4.3 4.4.2-1.1.2 3.9.3-.5.3 3.7.2-.6.2 3.5.3-.5.3 3.5.2-.6.2 3.6.3-.4.3 3.4.2-.8.2 3.6.3-.8.3 4.1.2-1.2.2 4 .3-1.7.3 4.4.2-1.6.2 4.3.3-2.1.3 5.4.2-3.4.2 6.2.3-4.1.3 6.7.2-4.2.2 6.3.3-5.3.3 7.8.2-5.4.2 8.1.3-6.9.3 9 .2-8.2.2 9.9.3-7.4.3 10.7.2-10.1.2 11 .3-10.7.3 13.5.2-12.1.2 14.1.3-13.2.3 14.6.2-12.6.2 12.6.3-12.2.3 15.2.2-14.4.2 14.4.3-14.1.3 13.6.2-14.8.2 15.4.3-14.8.3 16.3.2-15.7.2 15.4.3-14.8.3 15.1.2-16 .2 16.7.3-16 .3 14.5.2-14.6.2 15.7.3-17.5.3 16.3.2-14.8.2 14.2.3-15.3.3 14.9.2-16.2.2 14.1.3-12.6.3 10.9.2-11.6.2 11 .3-12.4.3 10.9.2-12.8.2 10.9.3-10.6.3 9.3.2-10.8.2 8.7.3-10.9.3 8.5.2-8.6.2 5.7.3-8.4.3 6.3.2-7.3.2 5.4.3-7.5.3 4.4.2-6.3.2 3.4.3-5.1.3 2.5.2-5.1.2 2.7.3-4.7.3 1.5.2-4.2.2 1.3.3-4.1.3 1.3.2-3.8.2.6.3-3.6.3.4.2-3.3.2.3.3-3.4.3.5.2-3.9.2.7.3-3.8.3.5.2-3.6.2.5.3-4.2.3 1.1.2-4.2.2 1.2.3-4.6.3 2 .2-5.3.2 2.5.3-5.9.3 2.8.2-6.1.2 3 .3-6.9.3 4.9.2-8.5.2 5.3.3-8.3.3 6.9.2-10.6.2 8.3.3-10.7.3 8.4.2-10.9.2 8.3.3-12.1.3 10.3.2-12.3.2 10.3.3-11.9.3 11.5.2-15.7.2 13.6.3-14.1.3 13.5.2-15.6.2 13.2.3-15.4.3 14 .2-14 .2 13.9.3-17.3.3 16.3.2-14.9.2 14.9.3-17.5.3 17.2.2-16.5.2 15.5.3-15 .3 16.6.2-17.2.2 17 .3-15.7.3 15 .2-13.7.2 14.7.3-13.8.3 15.7.2-15 .2 15.9.3-15.2.3 15.4.2-13.7.2 16 .3-12.5.3 13.4.2-12.1.2 12.8.3-9.7.3 12.3.2-10 .2 12.2.3-9.3.3 10.2.2-7.7.2 10.6.3-7.8.3 10.1.2-6.6.2 8.5.3-4.4.3 6.8.2-4.1.2 7.3.3-3.4.3 5.6.2-2.3.2 5.9.3-2.4.3 4.8.2-1.5.2 4.8.3-1.4.3 4.6.2-1 .2 3.9.3-.5.3 3.8.2-.5.2 3.6.3-.2.3 3.5.2-.3.2 3.6.3-.6.3 3.8.2-.6.2 3.7.3-.8.3 3.8.2-.6.2 3.8.3-1.4.3 4.5.2-1.5.2 4.9.3-2.4.3 4.8.2-2.4.2 5.5.3-3.2.3 5.8.2-4 .2 6.9.3-4.8.3 7.5.2-5.2.2 8.5.3-7.6.3 9.1.2-7.3.2 9.8.3-7.7.3 10.1.2-10.5.2 12.4.3-10.1.3 11.9.2-12.2.2 13.8.3-10.9.3 13.7.2-12.8.2 12.7.3-12.4.3 15.5.2-15.1.2 14.6.3-14.2.3 14.5.2-15.3.2 16.7.3-16.1.3 16.6.2-15 .2 16.9.3-16.2.3 16.3.2-18.9.2 18.1.3-17.8.3 18.1.2-17.1.2 15.2.3-15.1.3 15.4.2-15.3.2 14.4.3-15.6.3 13.7.2-14.7.2 14.2.3-14.4.3 13.4.2-15.1.2 13.1.3-13.5.3 10.8.2-10.8.2 9 .3-11.5.3 9.8.2-10.8.2 8.4.3-10 .3 7.8.2-8.7.2 6.8.3-8.3.3 5.6.2-7.7.2 5.5.3-7.6.3 4.6.2-6.3.2 3.1.3-5.3.3 2.5.2-5.1.2 2.1.3-4.4.3 1.6.2-4.7.2 1.3.3-3.8.3.7.2-3.7.2.6.3-3.8.3.6.2-3.9.2.6.3-3.6.3.3.2-3.7.2.4.3-3.7.3.4.2-3.8.2.4.3-4.1.3 1.1.2-4.8.2 1.7.3-5 .3 1.4.2-5.2.2 2.2.3-5.3.3 2.4.2-6.4.2 3.8.3-7 .3 4.4.2-8.2.2 5.1.3-8.8.3 6 .2-8.8.2 6.5.3-10.4.3 8.9.2-11.3.2 8.6.3-10.8.3 9.7.2-13.4.2 10.8.3-12.5.3 9.5.2-13.6.2 14.3.3-16.6.3 13.1.2-12.8.2 12.9.3-14.8.3 14 .2-16.3.2 13.6.3-14.8.3 16.6.2-17.3.2 16.5.3-18.4.3 18.6.2-19 .2 18.6.3-17.1.3 16.3.2-16 .2 17.2.3-15.5.3 16 .2-15.7.2 15.3.3-15.9.3 17.6.2-15.2.2 15.4.3-14.1.3 14.4.2-12.6.2 15.2.3-12.4.3 13.9.2-12.5.2 12.9.3-9.7.3 12.3.2-10.6.2 12.2.3-9.1.3 11.2.2-7.1.2 9.7.3-6.5.3 8.8.2-5.6.2 8.3.3-5.2.3 7.9.2-3.9.2 7.2.3-4.2.3 7.1.2-3 .2 5.4.3-2.3.3 5.8.2-1.6.2 4.5.3-.9.3 4 .2-.4.2 4 .3-.6.3 3.9.2-.6.2 3.9.3-.2.3 3.5.2-.1.2 3.6.3-.4.3 3.5.2 0 .2 3.7.3-.8.3 4 .2-1.2.2 4.2.3-1.1.3 4.3.2-1.3.2 4.6.3-2.3.3 5 .2-2.1.2 5.7.3-4 .3 6.9.2-4.8.2 7.2.3-4.7.3 7.3.2-5.2.2 7.9.3-6.2.3 9 .2-7.8.2 10.8.3-9.8.3 11.8.2-10.6.2 13 .3-11.4.3 12.8.2-11.3.2 13.3.3-11.6.3 12.7.2-13.4.2 15.6.3-14.2.3 15 .2-13.5.2 15.8.3-15.4.3 15.6.2-16.2.2 16.2.3-16.9.3 16.9.2-15.8.2 15.8.3-14.3.3 15.1.2-16.9.2 16.5.3-16 .3 17.8.2-18.6.2 16.9"/>
<path clip-path="url(#cd)" fill="none" stroke="#EDB120" stroke-width="2.6" stroke-linejoin="round" d="M77.1 999.4l.5.2.5.1.5.2.5.1.5.2.5.2.5.2.5.2.5.2.5.2.5.2.5.3.5.2.5.2.5.3.5.2.5 0 .5-.1.5 0 .5-.1.5-.2.5-.1.5 0 .5.1.5.1.5.2.5.2.5.4.5.3.5.5.5.4.5.6.5.5.5.7.5.7.5.9.5.9.5.9.5.9.5 1 .5 1 .5 1 .5 1 .5 1.1.5 1 .5 1.1.5 1 .5 1 .5 1 .5 1 .5.9.5.9.5.8.5.7.5.6.5.5.5.5.5.3.5.3.5.2.5.1.5-.1.5-.1.5-.2.5-.4.5-.4.5-.5.5-.6.5-.7.5-.7.5-.8.5-.9.5-.9.5-1 .5-1.1.5-1.1.5-1.1.5-1.2.5-1.3.5-1.3.5-1.4.5-1.4.5-1.4.5-1.6.5-1.5.5-1.7.5-1.7.5-1.8.5-1.9.5-1.9.5-2 .5-2 .5-2.1.5-2.2.5-2.2.5-2.2.5-2.2.5-2.3.5-2.2.5-2.1.5-2.2.5-2 .5-2 .5-1.8.5-1.7.5-1.6.5-1.4.5-1.2.5-1 .5-.8.5-.5.5-.4.5-.1.5.1.5.4.5.6.5.8.5 1.1.5 1.2.5 1.5.5 1.6.5 1.8.5 1.9.5 2.1.5 2.2.5 2.2.5 2.4.5 2.4.5 2.4.5 2.5.5 2.5.5 2.5.5 2.5.5 2.5.5 2.4.5 2.5.5 2.4.5 2.4.5 2.4.5 2.4.5 2.4.5 2.3.5 2.3.5 2.4.5 2.3.5 2.3.5 2.3.5 2.4.5 2.3.5 2.2.5 2.3.5 2.2.5 2.2.5 2.2.5 2 .5 2 .5 1.9.5 1.8.5 1.7.5 1.5.5 1.4.5 1.2.5 1 .5.8.5.7.5.4.5.2.5 0 .5-.2.5-.5.5-.6.5-.9.5-1 .5-1.2.5-1.4.5-1.6.5-1.7.5-1.8.5-1.9.5-2.1.5-2.1.5-2.2.5-2.3.5-2.3.5-2.4.5-2.4.5-2.5.5-2.5.5-2.5.5-2.6.5-2.6.5-2.7.5-2.7.5-2.8.5-2.8.5-2.9.5-3 .5-3 .5-3.1.5-3.2.5-3.2.5-3.3.5-3.3.5-3.3.5-3.4.5-3.4.5-3.3.5-3.3.5-3.2.5-3.2.5-3 .5-2.9.5-2.7.5-2.5.5-2.2.5-2.1.5-1.7.5-1.5.5-1.2.5-.8.5-.5.5-.2.5.2.5.5.5.9.5 1.1.5 1.5.5 1.8.5 2 .5 2.4.5 2.5.5 2.7.5 3 .5 3 .5 3.2.5 3.3.5 3.4.5 3.5.5 3.4.5 3.5.5 3.5.5 3.4.5 3.4.5 3.4.5 3.4.5 3.3.5 3.2.5 3.2.5 3.2.5 3.1.5 3.1.5 3 .5 3 .5 3 .5 3 .5 2.9.5 2.9.5 2.9.5 2.9.5 2.8.5 2.8.5 2.8.5 2.6.5 2.6.5 2.5.5 2.4.5 2.3.5 2.1.5 2 .5 1.7.5 1.6.5 1.3.5 1.2.5.8.5.7.5.4.5.1.5-.2.5-.4.5-.7.5-.9.5-1.1.5-1.4.5-1.6.5-1.8.5-2 .5-2.1.5-2.3.5-2.4.5-2.6.5-2.6.5-2.7.5-2.8.5-2.8.5-2.9.5-2.9.5-3 .5-3 .5-3.1.5-3 .5-3.1.5-3.2.5-3.2.5-3.3.5-3.3.5-3.4.5-3.5.5-3.5.5-3.6.5-3.6.5-3.7.5-3.8.5-3.8.5-3.8.5-3.9.5-3.8.5-3.8.5-3.7.5-3.7.5-3.5.5-3.4.5-3.2.5-3 .5-2.8.5-2.5.5-2.3.5-1.9.5-1.6.5-1.2.5-.9.5-.5.5-.1.5.3.5.7.5 1 .5 1.4.5 1.7.5 2.1.5 2.4.5 2.6.5 2.9.5 3.1.5 3.4.5 3.5.5 3.6.5 3.7.5 3.8.5 3.9.5 3.9.5 3.8.5 3.9.5 3.9.5 3.8.5 3.8.5 3.7.5 3.6.5 3.6.5 3.6.5 3.5.5 3.4.5 3.4.5 3.3.5 3.3.5 3.3.5 3.2.5 3.2.5 3.2.5 3.2.5 3.1.5 3.1.5 3 .5 3 .5 2.9.5 2.8.5 2.6.5 2.6.5 2.4.5 2.3.5 2.1.5 1.9.5 1.6.5 1.5.5 1.1.5 1 .5.6.5.4.5 0 .5-.2.5-.4.5-.8.5-1 .5-1.3.5-1.5.5-1.8.5-2 .5-2.1.5-2.4.5-2.5.5-2.6.5-2.8.5-2.8.5-2.9.5-3 .5-3.1.5-3.1.5-3.2.5-3.2.5-3.2.5-3.3.5-3.3.5-3.4.5-3.4.5-3.4.5-3.5.5-3.5.5-3.7.5-3.6.5-3.8.5-3.8.5-3.9.5-4 .5-3.9.5-4.1.5-4.1.5-4 .5-4.1.5-4 .5-3.9.5-3.9.5-3.7.5-3.6.5-3.4.5-3.2.5-2.9.5-2.7.5-2.3.5-2 .5-1.7.5-1.3.5-.9.5-.4.5-.1.5.3.5.7.5 1.1.5 1.5.5 1.9.5 2.2.5 2.5.5 2.8.5 3.1.5 3.3.5 3.5.5 3.7.5 3.9.5 3.9.5 4 .5 4.1.5 4.1.5 4.1.5 4.1.5 4 .5 4.1.5 3.9.5 3.9.5 3.9.5 3.7.5 3.7.5 3.7.5 3.6.5 3.5.5 3.5.5 3.5.5 3.4.5 3.4.5 3.3.5 3.4.5 3.3.5 3.2.5 3.2.5 3.2.5 3.1.5 3 .5 2.9.5 2.8.5 2.7.5 2.5.5 2.3.5 2.2.5 1.9.5 1.7.5 1.5.5 1.2.5 1 .5.6.5.4.5.1.5-.3.5-.5.5-.8.5-1.1.5-1.3.5-1.7.5-1.8.5-2.1.5-2.2.5-2.5.5-2.6.5-2.7.5-2.9.5-3 .5-3 .5-3.2.5-3.1.5-3.3.5-3.3.5-3.3.5-3.4.5-3.4.5-3.4.5-3.5.5-3.5.5-3.6.5-3.6.5-3.7.5-3.7.5-3.8.5-3.9.5-4 .5-4 .5-4.1.5-4.1.5-4.2.5-4.2.5-4.2.5-4.2.5-4.1.5-4.1.5-4 .5-3.9.5-3.7.5-3.5.5-3.2.5-3.1.5-2.7.5-2.4.5-2.1.5-1.6.5-1.4.5-.9.5-.5.5 0 .5.3.5.8.5 1.1.5 1.6.5 1.9.5 2.3.5 2.6.5 2.9.5 3.2.5 3.4.5 3.6.5 3.9.5 3.9.5 4.1.5 4.1.5 4.2.5 4.2"/>
<path clip-path="url(#cd)" fill="none" stroke="#EDB120" stroke-width="0.9" stroke-linejoin="round" d="M77.1 993.2l.3 14.1.2-15.7.2 14.1.3-13.6.3 15.6.2-14.1.2 13.6.3-13.4.3 13.1.2-13.1.2 13.2.3-15.2.3 15.8.2-13.5.2 15 .3-15.5.3 14.1.2-13.3.2 13.4.3-14.5.3 14.3.2-14.2.2 15.7.3-15.6.3 16.5.2-15.9.2 15.1.3-13.2.3 13.6.2-14.8.2 14.6.3-15.2.3 14.8.2-14.1.2 14 .3-14.1.3 14.5.2-14.9.2 14.2.3-13.7.3 15.2.2-15.2.2 13.6.3-14.1.3 15.3.2-15.2.2 13.5.3-13 .3 12.4.2-12 .2 12.5.3-11.6.3 11.8.2-11.8.2 11.9.3-11 .3 10.6.2-9.5.2 10.6.3-9.8.3 10 .2-9.8.2 10.1.3-9.9.3 9.8.2-8.9.2 10.1.3-8.6.3 9 .2-8.7.2 9.6.3-9.1.3 9.5.2-8.7.2 9.5.3-7.9.3 9 .2-7.5.2 9.3.3-8.6.3 9.6.2-9.2.2 9.7.3-8.8.3 10.5.2-9.7.2 11.2.3-10.9.3 12.2.2-10.7.2 11.8.3-11.7.3 12 .2-9.6.2 10.9.3-11.1.3 12.1.2-10.1.2 12.7.3-13.5.3 14.2.2-12.8.2 12.1.3-11.5.3 13.4.2-12.8.2 14.6.3-14.2.3 13.5.2-12.7.2 12.9.3-12.5.3 13.6.2-13.2.2 14 .3-13 .3 12.7.2-12.1.2 14 .3-14.7.3 12.5.2-11.6.2 13.2.3-13.3.3 13 .2-13.8.2 12.2.3-10.9.3 11.5.2-11.7.2 11.3.3-11.5.3 10 .2-10.8.2 10 .3-9.3.3 7.9.2-8.4.2 7.3.3-7.9.3 7.5.2-7.7.2 5.8.3-6.4.3 5.1.2-6.4.2 5.3.3-6.2.3 5.2.2-5.8.2 4.8.3-5.5.3 3.5.2-4.5.2 3.4.3-4 .3 2.4.2-3.4.2 2.3.3-3.5.3 2 .2-3.3.2 1.6.3-3.1.3 1.7.2-3.2.2 1.7.3-3.1.3 1.3.2-3 .2 1.8.3-3.2.3 1.4.2-3.4.2 1.5.3-3.4.3 2 .2-3.8.2 1.6.3-3.5.3 1.9.2-4.4.2 2.5.3-4.7.3 2.9.2-5.1.2 3.2.3-5.8.3 4.2.2-6.8.2 4.6.3-7.3.3 5.8.2-7.9.2 6 .3-8.4.3 6.1.2-9.3.2 7.5.3-10.1.3 8.4.2-10 .2 8.5.3-11.3.3 9.3.2-11.4.2 10.3.3-13.3.3 10.4.2-12.3.2 10.9.3-11.6.3 11 .2-13.5.2 13 .3-13.6.3 12.1.2-12.4.2 12.2.3-14.3.3 14 .2-13.7.2 11.9.3-12.1.3 12.9.2-14.7.2 14.4.3-12.3.3 12.9.2-14.4.2 14.9.3-12.1.3 11 .2-10.7.2 11.6.3-11 .3 12.8.2-10.1.2 11.1.3-10.3.3 11.1.2-9 .2 9.8.3-7.3.3 9.8.2-8.1.2 8.9.3-7 .3 9.8.2-6.9.2 8.8.3-5.9.3 7.5.2-4.6.2 7.2.3-5 .3 6.8.2-3.6.2 5.7.3-3 .3 4.8.2-2.4.2 4.9.3-1.7.3 3.9.2-1.3.2 3.5.3-1.1.3 3.6.2-.8.2 3.1.3-.7.3 3.2.2-.7.2 2.9.3-.5.3 3 .2-.5.2 2.9.3-.5.3 2.8.2-.6.2 2.9.3-.5.3 3 .2-.9.2 3.2.3-1 .3 3.7.2-1.3.2 3.6.3-1.7.3 4.3.2-2 .2 4.8.3-3 .3 5.3.2-3 .2 5.4.3-3.5.3 6.8.2-4.9.2 6.8.3-5.2.3 8 .2-6.3.2 9.4.3-7.3.3 8.9.2-7.1.2 9.4.3-7.7.3 9.5.2-7.8.2 10.6.3-9.9.3 11.7.2-8.8.2 11.4.3-11.4.3 11.7.2-11 .2 13 .3-10.7.3 13.4.2-13.5.2 13.2.3-11.1.3 11.6.2-12.1.2 14.1.3-14.3.3 13.5.2-11.4.2 11.7.3-13.6.3 12.7.2-12.5.2 12.1.3-12.8.3 13.6.2-13.2.2 11 .3-11 .3 10.3.2-11.5.2 11.1.3-13.2.3 11.9.2-12.8.2 10.9.3-12 .3 8.6.2-9.6.2 8.1.3-10.2.3 8.2.2-9.4.2 6.5.3-8 .3 6.2.2-8.3.2 6.2.3-8.1.3 5.1.2-6.2.2 3.4.3-6 .3 3.4.2-5.1.2 2.2.3-4.5.3 2.3.2-4.5.2 1.7.3-4 .3 1.1.2-3.6.2.9.3-3.3.3.5.2-3 .2.3.3-2.8.3 0 .2-2.9.2.2.3-3 .3.2.2-3.1.2.4.3-3.1.3.2.2-3.2.2.3.3-3.5.3.6.2-3.7.2.7.3-4.1.3.9.2-4.2.2 1.5.3-5 .3 1.7.2-5.1.2 1.7.3-5.5.3 3.1.2-6.9.2 3.2.3-7.2.3 4.9.2-7.9.2 4.1.3-8.1.3 5.7.2-9.4.2 5.8.3-9.1.3 7.4.2-11.1.2 7.2.3-10.2.3 8.3.2-10.6.2 8.7.3-11.4.3 9.7.2-12.1.2 8.9.3-11.9.3 10.8.2-12.1.2 10.6.3-13.6.3 12 .2-12.4.2 12.5.3-14.7.3 14.1.2-12.7.2 11.8.3-13.9.3 13.6.2-13.4.2 14.6.3-12.9.3 13.1.2-11.7.2 12.1.3-11.2.3 11.9.2-9.6.2 12.3.3-11.8.3 13.8.2-11.2.2 13.3.3-11 .3 12.9.2-8.9.2 10.3.3-7.8.3 10.5.2-7.7.2 9.9.3-6.4.3 10.2.2-5.9.2 8.5.3-5 .3 7.8.2-3.8.2 6.6.3-3.2.3 6.5.2-3 .2 6.5.3-2.3.3 5.7.2-2.5.2 5.4.3-1.4.3 4.7.2-1.1.2 4.2.3-.6.3 3.8.2-.4.2 3.8.3-.2.3 3.3.2-.2.2 3.5.3-.1.3 3.1.2 0 .2 3.2.3-.2.3 3.1.2 0 .2 3.3.3-.4.3 3.5.2-.5.2 3.6.3-.9.3 3.9.2-.8.2 4 .3-1.4.3 4.6.2-2.1.2 5.5.3-2.7.3 5.8.2-3.1.2 6.2.3-3.8.3 6.6.2-3.6.2 6.6.3-4.1.3 7.2.2-5.2.2 8.2.3-6.1.3 9.1.2-6.9.2 10.4.3-7.9.3 9.6.2-7.7.2 11.2.3-9.2.3 11 .2-9.7.2 12.5.3-10.3.3 11.6.2-11.4.2 12.5.3-11 .3 13.3.2-12.4.2 11.9.3-11 .3 11.9.2-11.6.2 12.8.3-13.4.3 13.9.2-13.9.2 13.3.3-13 .3 14.3.2-13.5.2 13.1.3-15.2.3 12.9.2-12 .2 11.6.3-12.4.3 9.8.2-10.9.2 9.5.3-12.1.3 11.2.2-13 .2 10.9.3-12 .3 8.7.2-10.5.2 8 .3-10.1.3 7.8.2-9.7.2 6.9.3-8.8.3 5.4.2-8.5.2 5.2.3-7.1.3 4.5.2-6.7.2 3.8.3-6.5.3 3 .2-6 .2 2.9.3-5.1.3 1.6.2-4.3.2 1.5.3-4.5.3 1.1.2-3.9.2.6.3-3.7.3.6.2-3.3.2.1.3-3.3.3.1.2-3.3.2-.1.3-3 .3-.3.2-3.3.2 0 .3-3.3.3-.1.2-3.3.2-.2.3-3.7.3.5.2-4 .2.2.3-4.1.3.7.2-4.5.2 1 .3-5.4.3 2.1.2-5.8.2 2.2.3-6 .3 2.3.2-6.9.2 3.2.3-7.5.3 4.7.2-8.1.2 4.5.3-9.5.3 5.7.2-9.7.2 7.1.3-9.9.3 6.3.2-10.2.2 7.1.3-10.3.3 7.7.2-10.9.2 8 .3-12.2.3 9.3.2-11.7.2 9.5.3-12.3.3 10.9.2-13.4.2 12.4.3-14.4.3 13.4.2-13.4.2 12 .3-12.9.3 11.5.2-12.1.2 11.9.3-12.8.3 13.6.2-12 .2 11.2.3-11.5.3 12.3.2-11.1.2 12.4.3-10.7.3 12.5.2-10.3.2 12.5.3-11.3.3 13.4.2-9.4.2 11.8.3-9.7.3 12.5.2-10 .2 11.4.3-7.8.3 11.7.2-7.3.2 9.3.3-5.9.3 9.6.2-4.9.2 8.8.3-4.7.3 7.6.2-4 .2 7.5.3-2.9.3 6.9.2-2.7.2 6.4.3-2.3.3 5.7.2-1.6.2 5.1.3-1.4.3 5.1.2-.9.2 4.3.3-.5.3 4.3.2-.2.2 3.5.3 0 .3 3.8.2.1.2 3.2.3.2.3 3.5.2.1.2 3.2.3.1.3 3.3.2.2.2 3.4.3-.1.3 3.3.2-.1.2 3.6.3-.4.3 3.9.2-1 .2 4.4.3-1.2.3 4.3.2-1.4.2 5 .3-2 .3 5.5.2-2.9.2 6.4.3-3.4.3 6.4.2-4.1.2 7.1.3-4.4.3 8 .2-5.3.2 8.9.3-6.5.3 10 .2-7.7.2 9.8.3-7.9.3 11.1.2-9.3.2 12.4.3-9.6.3 10.9.2-8.3.2 11.7.3-10.2.3 11.7.2-10.4.2 11.1.3-9.7.3 11.5.2-11.9.2 14.3.3-13.2.3 14.1.2-13.8.2 12.9.3-11 .3 12 .2-12.2.2 12.5.3-13.4.3 11.9.2-13.1.2 12.5.3-13.3.3 14.1.2-14.6.2 12.9.3-12.7.3 9.6.2-11 .2 8.9.3-10.2.3 9.7.2-12.8.2 10.5.3-12.6.3 9.6.2-10.6.2 8 .3-10 .3 7 .2-10 .2 6.6.3-8.7.3 6 .2-8.1.2 4.9.3-8.3.3 5 .2-7.4.2 3.6.3-5.9.3 2.4.2-5.5.2 2.3.3-5.5.3 2 .2-5 .2 1.8.3-4.6.3.8.2-3.7.2.3.3-3.8.3.5.2-3.5.2-.1.3-3.3.3-.1.2-3.2.2-.3.3-3.3.3-.2.2-3.2.2-.3.3-3.5.3 0 .2-3.6.2-.1.3-4 .3.2.2-4.2.2.7.3-4.4.3.3.2-4.4.2.7.3-5.2.3 1.8.2-6 .2 1.9.3-6.1.3 2.5.2-7.4.2 3.3.3-7.3.3 3.4.2-7.9.2 4.5.3-8.1.3 5.2.2-10.5.2 7.1.3-10.5.3 6.7.2-10.3.2 7.1.3-12.1.3 9.9.2-12.8.2 10 .3-12.6.3 9 .2-13.1.2 11.8.3-12.9.3 10 .2-12.4.2 11.4.3-13.2.3 11.3.2-12.7.2 12.9.3-14.7.3 12 .2-12 .2 13.8.3-14.1.3 13.5.2-13.4.2 14.4.3-13.3.3 13.3.2-11.9.2 14 .3-12.6.3 13.6.2-11.6.2 12.3.3-8.9.3 11.2.2-8.9.2 12.6.3-10.1.3 11.4.2-8.4.2 11.9.3-6.9.3 9.8.2-7.4.2 10.9.3-5.9.3 9.2.2-5.5.2 8.6.3-4.2.3 8.8.2-4.8.2 8.6.3-3.7.3 7 .2-2.5.2 6 .3-2 .3 6.1.2-1.3.2 5 .3-1.1.3 5.1.2-1 .2 4.8.3-.3.3 4.1.2 0 .2 3.7.3.1.3 3.6.2.1.2 3.6.3.3.3 3.4.2.1.2 3.5.3.3.3 3.4.2-.1.2 3.5.3.2.3 3.2.2.1.2 3.6.3-.2.3 3.8.2-.8.2 4.4.3-1 .3 4.6.2-1.7.2 5.5.3-2.3.3 5.8.2-2.8.2 6.1.3-3.3.3 6.7.2-4.5.2 7.9.3-4.3.3 7.3.2-5.3.2 8.4.3-5.2.3 8.8.2-6.6.2 10.6.3-7.8.3 9.6.2-7.6.2 10.4.3-9.3.3 12.8.2-9.8.2 10.9.3-9 .3 11.8.2-10.6.2 13.3.3-12.2.3 13.5.2-11.8.2 11.9.3-12.4.3 13.1.2-11.8.2 12 .3-12.4.3 12.7.2-12.7.2 12.9.3-12.5.3 11.9.2-11.3.2 10.6.3-12.7.3 13.4.2-14.6.2 11.4.3-11.5.3 11 .2-12.7.2 9.5.3-11.7.3 11 .2-12.6.2 9.5.3-11 .3 7.9.2-10.5.2 8 .3-10.4.3 8.1.2-10.4.2 5.9.3-8.5.3 5.9.2-8 .2 4.9.3-7.7.3 3.6.2-6.5.2 3.7.3-6.3.3 2.3.2-5.8.2 2.7.3-5.6.3 1.9.2-4.9.2 1.1.3-4.5.3 1 .2-3.8.2.2.3-3.8.3.5.2-3.7.2.1.3-3.5.3-.2.2-3.6.2.1.3-3.6.3-.2.2-3.4.2-.4.3-3.4.3-.2.2-3.6.2-.3.3-3.7.3.1.2-4.4.2.5.3-4.5.3.7.2-4.9.2.6.3-5 .3 1.1.2-5.6.2 2.1.3-6.3.3 2.4.2-6.8.2 2.8.3-7.6.3 4.1.2-8.6.2 4.8.3-9.5.3 5.8.2-10.2.2 5.6.3-9.3.3 6.3.2-11.4.2 8.4.3-11.5.3 7.6.2-11.5.2 8.6.3-11 .3 9.2.2-12.4.2 10.3.3-13.8.3 12.1.2-14.2.2 12.3.3-14.6.3 12.8.2-14.2.2 13.4.3-12.8.3 11.5.2-11.9.2 12.1.3-13.9.3 13.1.2-11.9.2 12.6.3-12.7.3 14.4.2-12.5.2 14.6.3-13.2.3 13.8.2-11.5.2 13.1.3-10.2.3 12.4.2-9.6.2 11.6.3-7.8.3 10.8.2-8.2.2 11 .3-6.6.3 10.3.2-6.4.2 10.4.3-5.9.3 9.1.2-5.4.2 9 .3-4.2.3 8 .2-4.4.2 7.9.3-2.8.3 7.4.2-3.1.2 6.9"/>
<path clip-path="url(#ce)" fill="none" stroke="#0072BD" stroke-width="2.4" stroke-linejoin="round" d="M387.9 1006.5l.5.1.5 0 .5-.3.5-.2.5-.3.5-.3.5-.3.5-.2.5-.3.5-.3.5-.3.5-.2.5-.3.5-.3.5-.3.5-.3.5-.3.5-.2.5-.3.5-.3.5-.2.5-.4.5-.6.5-.7.5-.8.5-.9.5-1 .5-1.2.5-1.1.5-1.3.5-1.2.5-1.3.5-1.3.5-1.3.5-1.3.5-1.2.5-1.2.5-1.1.5-1.1.5-1.1.5-.9.5-.8.5-.7.5-.5.5-.4.5-.2.5 0 .5.1.5.2.5.5.5.6.5.8.5.9.5 1.1.5 1.3.5 1.4.5 1.6.5 1.7.5 1.8.5 2 .5 2.1.5 2.1.5 2.3.5 2.3.5 2.4.5 2.4.5 2.5.5 2.5.5 2.5.5 2.5.5 2.5.5 2.5.5 2.5.5 2.4.5 2.4.5 2.3.5 2.3.5 2.2.5 2.1.5 2.1.5 2 .5 1.9.5 1.8.5 1.6.5 1.6.5 1.5.5 1.4.5 1.2.5 1.2.5 1 .5.9.5.8.5.6.5.5.5.4.5.3.5.1.5 0 .5-.2.5-.3.5-.4.5-.6.5-.7.5-.8.5-1 .5-1.2.5-1.3.5-1.4.5-1.6.5-1.7.5-1.8.5-2 .5-2.2.5-2.2.5-2.4.5-2.5.5-2.7.5-2.7.5-2.8.5-3 .5-3 .5-3.1.5-3.2.5-3.2.5-3.3.5-3.3.5-3.3.5-3.4.5-3.3.5-3.3.5-3.3.5-3.3.5-3.1.5-3.2.5-3 .5-2.9.5-2.8.5-2.7.5-2.5.5-2.4.5-2.2.5-2 .5-1.8.5-1.7.5-1.4.5-1.2.5-.9.5-.8.5-.5.5-.3.5 0 .5.2.5.5.5.7.5.9.5 1.1.5 1.4.5 1.6.5 1.8.5 2 .5 2.2.5 2.4.5 2.5.5 2.8.5 2.8.5 3 .5 3.1.5 3.2.5 3.3.5 3.3.5 3.4.5 3.5.5 3.5.5 3.5.5 3.5.5 3.5.5 3.5.5 3.5.5 3.4.5 3.3.5 3.3.5 3.2.5 3.1.5 3.1.5 2.9.5 2.8.5 2.7.5 2.6.5 2.4.5 2.3.5 2.2.5 2 .5 1.9.5 1.8.5 1.6.5 1.5.5 1.3.5 1.2.5 1 .5.9.5.7.5.6.5.4.5.3.5.1.5-.1.5-.2.5-.3.5-.5.5-.6.5-.8.5-1 .5-1.1.5-1.2.5-1.4.5-1.6.5-1.7.5-1.9.5-1.9.5-2.2.5-2.3.5-2.4.5-2.5.5-2.7.5-2.8.5-2.9.5-3 .5-3.1.5-3.3.5-3.3.5-3.3.5-3.5.5-3.5.5-3.5.5-3.6.5-3.6.5-3.6.5-3.6.5-3.6.5-3.5.5-3.5.5-3.4.5-3.4.5-3.2.5-3.1.5-3 .5-2.9.5-2.7.5-2.6.5-2.3.5-2.2.5-2 .5-1.8.5-1.5.5-1.3.5-1.1.5-.9.5-.6.5-.3.5-.1.5.1.5.4.5.6.5.9.5 1.1.5 1.4.5 1.6.5 1.8.5 2 .5 2.2.5 2.4.5 2.6.5 2.8.5 2.9.5 3 .5 3.2.5 3.2.5 3.4.5 3.4.5 3.6.5 3.5.5 3.6.5 3.6.5 3.6.5 3.7.5 3.6.5 3.5.5 3.5.5 3.5.5 3.4.5 3.3.5 3.3.5 3.1.5 3 .5 2.9.5 2.9.5 2.6.5 2.6.5 2.4.5 2.3.5 2.1.5 2 .5 1.9.5 1.7.5 1.6.5 1.4.5 1.2.5 1.2.5.9.5.8.5.6.5.5.5.4.5.2.5 0 .5-.1.5-.3.5-.4.5-.6.5-.8.5-.9.5-1 .5-1.2.5-1.4.5-1.5.5-1.6.5-1.8.5-2 .5-2.1.5-2.2.5-2.4.5-2.5.5-2.7.5-2.7.5-2.9.5-3 .5-3.1.5-3.2.5-3.3.5-3.4.5-3.5.5-3.5.5-3.6.5-3.6.5-3.6.5-3.6.5-3.7.5-3.6.5-3.6.5-3.5.5-3.5.5-3.4.5-3.4.5-3.2.5-3.1.5-3 .5-2.8.5-2.6.5-2.5.5-2.3.5-2.1.5-1.9.5-1.7.5-1.5.5-1.2.5-1 .5-.7.5-.5.5-.2.5 0 .5.2.5.6.5.7.5 1 .5 1.3.5 1.5.5 1.7.5 1.9.5 2.1.5 2.3.5 2.6.5 2.6.5 2.9.5 3 .5 3.1.5 3.2.5 3.4.5 3.4.5 3.5.5 3.6.5 3.6.5 3.6.5 3.6.5 3.7.5 3.6.5 3.6.5 3.6.5 3.5.5 3.5.5 3.4.5 3.3.5 3.2.5 3.1.5 3 .5 2.9.5 2.8.5 2.6.5 2.5.5 2.4.5 2.2.5 2.1.5 2 .5 1.8.5 1.6.5 1.5.5 1.4.5 1.1.5 1.1.5.9.5.7.5.6.5.4.5.3.5.1.5-.1.5-.2.5-.3.5-.5.5-.7.5-.8.5-1 .5-1.1.5-1.3.5-1.4.5-1.6.5-1.7.5-1.9.5-2.1.5-2.1.5-2.3.5-2.5.5-2.6.5-2.7.5-2.9.5-2.9.5-3.1.5-3.2.5-3.2.5-3.4.5-3.4.5-3.5.5-3.6.5-3.6.5-3.6.5-3.7.5-3.6.5-3.7.5-3.6.5-3.6.5-3.6.5-3.4.5-3.4.5-3.3.5-3.2.5-3.1.5-2.9.5-2.8.5-2.6.5-2.4.5-2.2.5-2 .5-1.8.5-1.6.5-1.4.5-1.1.5-.9.5-.6.5-.4.5-.1.5.1.5.4.5.7.5.8.5 1.2.5 1.3.5 1.6.5 1.8.5 2.1.5 2.2.5 2.4.5 2.6.5 2.8.5 2.9.5 3.1.5 3.2.5 3.3.5 3.4.5 3.5.5 3.5.5 3.6.5 3.7.5 3.6.5 3.7.5 3.7.5 3.6.5 3.6.5 3.6.5 3.5.5 3.4.5 3.4.5 3.3.5 3.2.5 3 .5 3 .5 2.9.5 2.7.5 2.6.5 2.4.5 2.4.5 2.1.5 2.1.5 1.9.5 1.7.5 1.6.5 1.4.5 1.3.5 1.1.5 1 .5.8.5.7.5.5.5.3.5.2.5.1.5-.1.5-.3.5-.4.5-.6.5-.8.5-.8.5-1.1.5-1.2.5-1.4.5-1.5.5-1.6.5-1.8.5-2 .5-2.1.5-2.3.5-2.4.5-2.5.5-2.7.5-2.7.5-3 .5-3 .5-3.1.5-3.3.5-3.3.5-3.4.5-3.5.5-3.5.5-3.6.5-3.7.5-3.6.5-3.7.5-3.7.5-3.6"/>
<path clip-path="url(#ce)" fill="none" stroke="#0072BD" stroke-width="0.9" stroke-linejoin="round" d="M387.9 997.7l.3 17.3.2-16.7.2 17.6.3-19.1.3 18.7.2-17 .2 17.6.3-19.8.3 17.8.2-18.3.2 17.9.3-16.5.3 17 .2-18.4.2 16.4.3-15.7.3 17.6.2-18 .2 17.8.3-18 .3 17.4.2-17.2.2 16.4.3-15.7.3 16.8.2-18.6.2 18.4.3-19.3.3 16.2.2-16.6.2 18.8.3-17.1.3 15.2.2-17.5.2 17.3.3-16.2.3 17.8.2-19.3.2 19.1.3-17.7.3 16.8.2-18 .2 15.8.3-15.5.3 15.5.2-15.3.2 13.5.3-14 .3 13.4.2-15.5.2 16 .3-17 .3 14.1.2-13.5.2 13.8.3-16.6.3 15.1.2-15.8.2 13.5.3-13.3.3 12.2.2-14.9.2 15.9.3-17.5.3 14.8.2-17.1.2 15.6.3-15.6.3 16.4.2-19.1.2 17.6.3-17.2.3 15.8.2-18.8.2 17.5.3-16.9.3 15.9.2-19.1.2 16.3.3-15.5.3 14.7.2-17.1.2 17.5.3-16.4.3 15.2.2-16.5.2 14.6.3-15.1.3 15.9.2-15.5.2 15.6.3-15.3.3 13.7.2-15.9.2 15.8.3-14 .3 13.4.2-12.6.2 14.7.3-13.3.3 13.4.2-13 .2 12.9.3-12.5.3 11.8.2-9.8.2 10.7.3-8.8.3 10.6.2-9 .2 10.3.3-8.9.3 9.5.2-8.2.2 9.6.3-7.6.3 8.5.2-5.5.2 7.4.3-6.2.3 8.3.2-5 .2 6.6.3-4.6.3 6.6.2-4 .2 5.7.3-3.2.3 5.7.2-3.3.2 5.4.3-2.6.3 5 .2-2.4.2 5 .3-2.9.3 5.3.2-2.6.2 4.8.3-2.2.3 4.9.2-2.2.2 4.6.3-2.7.3 5.2.2-2.6.2 5.7.3-3.7.3 6.1.2-3.5.2 6 .3-3.9.3 6.8.2-4.6.2 6.2.3-4 .3 7.3.2-6.4.2 8.5.3-7 .3 8.8.2-7.3.2 10 .3-8 .3 11 .2-10.1.2 11.6.3-9.3.3 11.5.2-10 .2 12.8.3-11.5.3 13.2.2-12.1.2 12.8.3-12.1.3 13.1.2-14.2.2 16.3.3-14.6.3 16 .2-15.2.2 14.8.3-14 .3 17.2.2-18 .2 18.2.3-16.8.3 15.9.2-16 .2 16.1.3-14.6.3 17.2.2-16.3.2 16.2.3-17.3.3 15.7.2-15.5.2 15.7.3-15.1.3 14.2.2-16.6.2 14.9.3-12.8.3 13 .2-14.3.2 12.4.3-13.8.3 11.9.2-11.5.2 10.4.3-11.9.3 11.3.2-11.2.2 9.4.3-10.6.3 8.8.2-11 .2 8.5.3-9.1.3 7.2.2-8.9.2 6.4.3-8.1.3 5.5.2-6.7.2 4.4.3-6.4.3 3.2.2-5.6.2 3.2.3-5.7.3 2.7.2-4.5.2 2 .3-4.9.3 1.7.2-4.3.2 1.2.3-4.1.3 1.1.2-4 .2.7.3-3.8.3.6.2-3.8.2.9.3-4.1.3.5.2-3.6.2.7.3-4.2.3.9.2-4.4.2.9.3-4.2.3 1.5.2-5.3.2 1.9.3-5.2.3 2 .2-5.7.2 2.9.3-6.2.3 2.9.2-7 .2 4.2.3-7.9.3 5.5.2-8.8.2 6.5.3-9.2.3 6.8.2-9.9.2 8.1.3-10.9.3 8.2.2-11.4.2 9 .3-12 .3 9.6.2-12.9.2 12.4.3-14.5.3 11.4.2-14.1.2 12.8.3-13.3.3 14.1.2-16.9.2 14.8.3-16.7.3 15.9.2-17.6.2 17.9.3-17.3.3 16.8.2-18.7.2 16.1.3-14.7.3 14.4.2-15.1.2 16.2.3-15.9.3 17.7.2-16.9.2 16.2.3-14.1.3 14.6.2-14.8.2 14.4.3-11.9.3 14 .2-12.5.2 13 .3-12 .3 13.9.2-11 .2 11.8.3-10 .3 12.3.2-10.3.2 12.5.3-8.9.3 10.8.2-8.2.2 10.6.3-8 .3 10.9.2-6.7.2 9.3.3-6.7.3 8.4.2-4.4.2 7.2.3-3.5.3 6.4.2-2.9.2 6.5.3-2.7.3 5.6.2-2.4.2 5.3.3-1.2.3 4.7.2-1.3.2 4.8.3-1 .3 4 .2-.6.2 4 .3-.3.3 4 .2-.3.2 3.6.3-.2.3 3.7.2-.3.2 3.7.3-.4.3 3.9.2-.9.2 4.1.3-.7.3 3.9.2-1.3.2 4.7.3-1.9.3 5 .2-2.2.2 5.5.3-3.2.3 6 .2-3.4.2 6.3.3-3.9.3 7.7.2-5.6.2 7.9.3-5.8.3 8.1.2-7.3.2 9.4.3-7.4.3 10.5.2-9.5.2 12.6.3-10.3.3 11.8.2-10.5.2 11.9.3-12.1.3 14.9.2-12.4.2 14 .3-15 .3 15.7.2-14.5.2 16.3.3-14.5.3 14 .2-14.5.2 16.7.3-16.7.3 16.8.2-14.4.2 14.1.3-14.9.3 16.2.2-16.5.2 17.1.3-15.8.3 13.6.2-15.7.2 17.1.3-17 .3 15.8.2-15.6.2 15.2.3-14.7.3 14.1.2-16.4.2 16 .3-15.6.3 12 .2-12.9.2 13.2.3-13.7.3 10.6.2-11.8.2 11 .3-13.4.3 10.8.2-10.5.2 7.8.3-9.2.3 7.8.2-10.8.2 8.6.3-9.7.3 5.8.2-7.9.2 6 .3-7.7.3 4.9.2-6.7.2 3.9.3-6.7.3 3.5.2-6.2.2 2.6.3-5.1.3 1.8.2-4.3.2 1.1.3-4 .3.9.2-4.1.2.8.3-4.2.3.7.2-4 .2.5.3-3.8.3.2.2-3.6.2 0 .3-3.5.3.1.2-4 .2.6.3-4.4.3 1 .2-4.5.2 1.1.3-4.7.3 1 .2-5 .2 1.5.3-5.6.3 3.1.2-6.3.2 3.1.3-7.3.3 4 .2-7.8.2 4.8.3-7.7.3 4.4.2-8.9.2 7.3.3-10.9.3 8 .2-11.3.2 9.1.3-11.5.3 8.7.2-11.7.2 10.5.3-14.1.3 11.5.2-12.8.2 11.4.3-13.4.3 11.7.2-15.3.2 14.2.3-14.7.3 14.1.2-17.4.2 16.4.3-16.6.3 15.4.2-15.6.2 16.1.3-17.9.3 16.5.2-15.8.2 14.9.3-16.2.3 17.4.2-17.5.2 17.1.3-17.5.3 16.6.2-15.8.2 17.8.3-15.2.3 16.4.2-15.3.2 15.2.3-14.7.3 15.2.2-11.9.2 14.6.3-13 .3 15.3.2-13.3.2 13.6.3-11.3.3 14.3.2-11.4.2 13.5.3-9 .3 10 .2-7.2.2 10.6.3-6.9.3 9.2.2-6.1.2 9.1.3-5.2.3 7.3.2-4.7.2 8.1.3-3.8.3 6.8.2-3 .2 6.3.3-2.5.3 5.4.2-1.5.2 5 .3-1.4.3 4.7.2-.8.2 4.3.3-.6.3 4.3.2-.6.2 3.8.3-.2.3 3.8.2-.1.2 3.8.3-.3.3 3.7.2-.4.2 4 .3-.8.3 4 .2-.7.2 4.4.3-1.3.3 4.5.2-1.2.2 4.5.3-2.2.3 5.5.2-2.7.2 5.9.3-3.6.3 6.7.2-3.6.2 6.7.3-4.9.3 7.3.2-5.6.2 8.2.3-6.4.3 10.1.2-8.7.2 10.8.3-8.8.3 11.5.2-9.8.2 10.5.3-8.8.3 11.2.2-10.9.2 12.7.3-10.3.3 12.7.2-12.1.2 13.8.3-12.7.3 13.3.2-13.1.2 14 .3-13.2.3 13.7.2-14.7.2 17.8.3-17.7.3 17.6.2-15.6.2 16.1.3-17.1.3 15.2.2-16 .2 17.9.3-15.8.3 15.5.2-16 .2 15.1.3-15.7.3 15.4.2-16.4.2 14.3.3-15 .3 13.4.2-13.1.2 13.5.3-13.7.3 10.7.2-13.5.2 12.4.3-12.6.3 11.4.2-12.9.2 10.5.3-11.6.3 10.3.2-11.6.2 8.5.3-9.9.3 7.9.2-9 .2 6.4.3-9.1.3 5.8.2-7.5.2 5.4.3-7.6.3 4.5.2-6.6.2 3.3.3-6.1.3 3.3.2-5.4.2 1.9.3-4.8.3 1.8.2-4.5.2.8.3-4.3.3.9.2-3.7.2.4.3-4 .3.6.2-4 .2.3.3-3.8.3.4.2-3.7.2.2.3-4.2.3.7.2-4.1.2.2.3-4.3.3.9.2-4.6.2 1.5.3-5.1.3 1.7.2-5.6.2 2.1.3-5.8.3 2.5.2-6.8.2 3.6.3-6.9.3 4.4.2-8.5.2 5.3.3-8.5.3 5.4.2-9.7.2 7.4.3-10.9.3 8.6.2-11 .2 8.7.3-12.8.3 10.7.2-12.1.2 10.4.3-13 .3 11 .2-14.2.2 11.6.3-14.9.3 15.2.2-16.1.2 14.1.3-14.9.3 14 .2-17 .2 15.9.3-17.2.3 15.7.2-16.3.2 17.2.3-16.2.3 14.9.2-15.4.2 14.9.3-16.7.3 16.6.2-16.1.2 17 .3-16.8.3 17.8.2-15.7.2 14.7.3-13.4.3 16.3.2-13.7.2 13.9.3-13.6.3 14.2.2-12.8.2 15.7.3-11.6.3 11.7.2-10.2.2 13.5.3-11.2.3 12.9.2-10.2.2 11.8.3-8 .3 10.9.2-7.8.2 10.7.3-7.6.3 10 .2-6.5.2 9 .3-4.7.3 7.4.2-3.7.2 7.1.3-3.9.3 6.5.2-2.1.2 5.7.3-2.2.3 5.5.2-1.7.2 5.2.3-1 .3 4.2.2-.4.2 3.9.3-.2.3 3.9.2-.3.2 4 .3-.5.3 4 .2-.2.2 3.7.3-.4.3 3.9.2-.4.2 3.8.3-.4.3 4.1.2-.8.2 3.9.3-1.1.3 4.4.2-1.8.2 5.1.3-2 .3 5.2.2-2.4.2 5.4.3-3.6.3 6.7.2-4.2.2 7.7.3-4.8.3 7.5.2-6 .2 8.3.3-6 .3 8.2.2-7 .2 10.9.3-9.9.3 12.1.2-11.2.2 12.2.3-10.1.3 13.6.2-13.3.2 13.6.3-12.9.3 16.1.2-15.2.2 16 .3-13.8.3 15.3.2-15.5.2 16.5.3-14.4.3 14.5.2-14.7.2 16.6.3-15.8.3 14.9.2-16.3.2 17.5.3-16.4.3 14.6.2-16.1.2 16.7.3-15.4.3 16.3.2-16.3.2 13.5.3-15.9.3 16.8.2-16 .2 13.9.3-13.3.3 13.9.2-16.1.2 13.5.3-12.9.3 11.4.2-12.2.2 11.6.3-13.8.3 11.6.2-12.8.2 10.8.3-12.2.3 8.6.2-9.2.2 7.4.3-9.8.3 7.7.2-9.9.2 7.1.3-8.4.3 4.9.2-7.3.2 4.4.3-6.2.3 3.8.2-6.7.2 3.8.3-5.8.3 2.4.2-5.4.2 2.2.3-4.8.3 1.2.2-4.1.2.8.3-4.1.3.7.2-3.8.2.3.3-3.9.3.5.2-3.8.2.2.3-4 .3.3.2-3.8.2.3.3-4.2.3.4.2-4 .2.6.3-4.2.3.5.2-4.6.2 1.2.3-5.2.3 1.8.2-5.4.2 2.4.3-6.6.3 3.5.2-6.6.2 3 .3-7.6.3 5.4.2-8.8.2 5.7.3-8.8.3 6.1.2-10 .2 8 .3-11.1.3 7.3.2-10.7.2 8.5.3-11.4.3 9.6.2-11.6.2 10.6.3-14 .3 11.8.2-15 .2 14 .3-15.7.3 13 .2-15.6.2 14 .3-14.8.3 15.1.2-17.4.2 17.4.3-18.4.3 17.9.2-17.9.2 17.3.3-17.4.3 16.7.2-15.9.2 15.1.3-17 .3 18.4.2-16.1.2 15.7.3-15.5.3 16.8.2-16 .2 17.1.3-14.8.3 15.6.2-15.4.2 15.6.3-12.8.3 14.5.2-13.5.2 15.2.3-11.7.3 13.8.2-12.2.2 14.3.3-10.5.3 11 .2-8.7.2 12.3.3-9 .3 11.5.2-7.8.2 10.4.3-6.5.3 8.7.2-5.4.2 8 .3-4.5.3 7.4.2-3.6.2 6.7.3-2.7.3 5.8.2-1.8.2 5.7.3-1.9.3 4.8.2-.9.2 4.6.3-1 .3 4.3.2-.6.2 4.1.3-.2.3 4 .2-.3.2 3.9.3-.1.3 3.5.2-.1.2 3.6.3-.2.3 3.8.2-.2.2 3.9.3-1 .3 4.4.2-1.2.2 4.6.3-1.6.3 4.8.2-2 .2 5.6.3-2.7.3 5.3.2-3.2.2 6.7.3-3.7.3 6.4.2-4 .2 7.7.3-5.9.3 7.7.2-5.4.2 7.9.3-6.6.3 10.1.2-9.2.2 11.6.3-10.2.3 11.4.2-9.4.2 12.3.3-11.6.3 13.6.2-12.5.2 14.6.3-13.7.3 15.4.2-14.7.2 14.2.3-13.6.3 15.5.2-13 .2 15.6.3-16.2.3 17 .2-15.9.2 14.6.3-14.1.3 14 .2-15.3.2 16 .3-15.3.3 16.3.2-17.3.2 16.4.3-17.2.3 16.9.2-16.6.2 14.7.3-14.7.3 15.7.2-16.4.2 14.3.3-14.7.3 14.9.2-15 .2 13.5.3-15.1.3 12.1.2-11.9.2 9.4.3-11.4.3 10.7.2-12.4.2 10.7.3-12.4.3 9.9.2-10.8.2 7.1.3-8.8.3 6.2.2-8.1.2 5.6.3-7.7.3 5.8.2-8.1.2 4.3.3-6.5.3 3.8.2-6.3.2 3 .3-5.5.3 2.2.2-4.6.2 1.5.3-4.4.3 1 .2-4.2.2.9.3-4 .3.3.2-4 .2.5.3-3.9.3.4.2-3.9.2.3.3-4 .3.4.2-3.9.2.3.3-4.1.3.4.2-4.3.2 1.1.3-4.6.3.9.2-5 .2 1.4"/>
<path clip-path="url(#ce)" fill="none" stroke="#D95319" stroke-width="2.4" stroke-linejoin="round" d="M387.9 1005.6l.5 0 .5-.1.5-.1.5 0 .5-.1.5-.1.5-.1.5-.1.5-.1.5.2.5.2.5.2.5.1.5.2.5.2.5.2.5.1.5.2.5.1.5.1.5 1.5.5 1.4.5 1.3.5 1.2.5 1.1.5 1 .5.9.5.6.5.4.5.3.5.2.5 0 .5 0 .5-.2.5-.3.5-.5.5-.6.5-.7.5-.9.5-.9.5-1.2.5-1.2.5-1.3.5-1.5.5-1.6.5-1.6.5-1.7.5-1.8.5-1.9.5-1.9.5-2 .5-2 .5-2.1.5-2.1.5-2.1.5-2.1.5-2.1.5-2.1.5-2 .5-2 .5-1.8.5-1.8.5-1.7.5-1.6.5-1.5.5-1.4.5-1.2.5-1 .5-.9.5-.7.5-.5.5-.3.5-.1.5 0 .5.3.5.4.5.7.5.9.5 1 .5 1.2.5 1.5.5 1.5.5 1.8.5 2 .5 2.1.5 2.2.5 2.4.5 2.4.5 2.6.5 2.7.5 2.8.5 2.8.5 3 .5 2.9.5 3 .5 3 .5 3 .5 3 .5 3.1.5 2.9.5 3 .5 2.9.5 2.8.5 2.8.5 2.7.5 2.6.5 2.6.5 2.4.5 2.4.5 2.2.5 2.2.5 2 .5 1.9.5 1.8.5 1.6.5 1.5.5 1.4.5 1.3.5 1.1.5 1 .5.9.5.7.5.6.5.4.5.3.5.1.5 0 .5-.1.5-.3.5-.4.5-.6.5-.7.5-.9.5-1 .5-1.2.5-1.3.5-1.5.5-1.6.5-1.7.5-1.9.5-2.1.5-2.1.5-2.3.5-2.5.5-2.5.5-2.7.5-2.8.5-2.9.5-3 .5-3.1.5-3.2.5-3.3.5-3.3.5-3.4.5-3.4.5-3.5.5-3.5.5-3.4.5-3.5.5-3.5.5-3.4.5-3.3.5-3.3.5-3.2.5-3.2.5-3 .5-2.9.5-2.7.5-2.6.5-2.4.5-2.3.5-2.1.5-1.8.5-1.7.5-1.5.5-1.2.5-1 .5-.7.5-.6.5-.2.5-.1.5.3.5.4.5.7.5 1 .5 1.2.5 1.4.5 1.6.5 1.8.5 2.1.5 2.2.5 2.4.5 2.6.5 2.8.5 2.9.5 3 .5 3.1.5 3.3.5 3.3.5 3.4.5 3.5.5 3.5.5 3.6.5 3.6.5 3.5.5 3.6.5 3.5.5 3.5.5 3.5.5 3.4.5 3.3.5 3.2.5 3.2.5 3.1.5 2.9.5 2.9.5 2.7.5 2.6.5 2.5.5 2.3.5 2.2.5 2.1.5 1.9.5 1.8.5 1.7.5 1.5.5 1.3.5 1.2.5 1 .5.9.5.8.5.5.5.5.5.2.5.2.5-.1.5-.1.5-.4.5-.5.5-.6.5-.8.5-.9.5-1.1.5-1.3.5-1.4.5-1.5.5-1.7.5-1.9.5-2 .5-2.1.5-2.3.5-2.4.5-2.5.5-2.7.5-2.8.5-2.9.5-3.1.5-3.1.5-3.2.5-3.3.5-3.4.5-3.5.5-3.5.5-3.5.5-3.6.5-3.6.5-3.7.5-3.6.5-3.6.5-3.5.5-3.5.5-3.5.5-3.3.5-3.3.5-3.1.5-3.1.5-2.9.5-2.7.5-2.6.5-2.4.5-2.2.5-2 .5-1.8.5-1.6.5-1.3.5-1.2.5-.8.5-.7.5-.4.5-.1.5.1.5.4.5.6.5.9.5 1.1.5 1.3.5 1.6.5 1.8.5 1.9.5 2.2.5 2.4.5 2.6.5 2.7.5 2.9.5 3.1.5 3.1.5 3.3.5 3.4.5 3.4.5 3.5.5 3.6.5 3.6.5 3.6.5 3.6.5 3.7.5 3.6.5 3.5.5 3.6.5 3.5.5 3.4.5 3.3.5 3.3.5 3.1.5 3.1.5 2.9.5 2.8.5 2.7.5 2.6.5 2.5.5 2.3.5 2.1.5 2.1.5 1.8.5 1.8.5 1.5.5 1.5.5 1.3.5 1.1.5 1 .5.8.5.6.5.6.5.3.5.2.5.1.5-.1.5-.3.5-.4.5-.6.5-.7.5-.9.5-1 .5-1.2.5-1.4.5-1.4.5-1.7.5-1.8.5-1.9.5-2.1.5-2.2.5-2.4.5-2.5.5-2.6.5-2.8.5-2.9.5-3 .5-3.1.5-3.2.5-3.3.5-3.3.5-3.5.5-3.5.5-3.6.5-3.6.5-3.6.5-3.6.5-3.7.5-3.6.5-3.6.5-3.6.5-3.5.5-3.4.5-3.4.5-3.2.5-3.1.5-3 .5-2.9.5-2.7.5-2.5.5-2.3.5-2.1.5-2 .5-1.7.5-1.5.5-1.2.5-1 .5-.8.5-.5.5-.3.5 0 .5.2.5.5.5.8.5.9.5 1.3.5 1.4.5 1.7.5 1.9.5 2.1.5 2.3.5 2.5.5 2.7.5 2.8.5 3 .5 3.1.5 3.2.5 3.3.5 3.5.5 3.5.5 3.5.5 3.6.5 3.7.5 3.6.5 3.7.5 3.6.5 3.6.5 3.6.5 3.6.5 3.4.5 3.4.5 3.3.5 3.3.5 3.1.5 3 .5 2.9.5 2.8.5 2.7.5 2.5.5 2.4.5 2.3.5 2.1.5 1.9.5 1.9.5 1.6.5 1.5.5 1.4.5 1.2.5 1.1.5.9.5.7.5.6.5.5.5.3.5.1.5 0 .5-.2.5-.3.5-.5.5-.7.5-.8.5-.9.5-1.1.5-1.3.5-1.4.5-1.6.5-1.7.5-1.9.5-2 .5-2.2.5-2.3.5-2.4.5-2.6.5-2.7.5-2.8.5-3 .5-3 .5-3.2.5-3.3.5-3.3.5-3.4.5-3.5.5-3.6.5-3.6.5-3.6.5-3.7.5-3.7.5-3.6.5-3.7.5-3.6.5-3.5.5-3.5.5-3.4.5-3.3.5-3.2.5-3.1.5-3 .5-2.7.5-2.7.5-2.4.5-2.3.5-2 .5-1.9.5-1.6.5-1.4.5-1.1.5-.9.5-.7.5-.4.5-.1.5.1.5.3.5.6.5.9.5 1.1.5 1.3.5 1.6.5 1.8.5 2 .5 2.2.5 2.4.5 2.6.5 2.7.5 3 .5 3 .5 3.2.5 3.3.5 3.4.5 3.5.5 3.5.5 3.6.5 3.7.5 3.6.5 3.7.5 3.7.5 3.6.5 3.6.5 3.6.5 3.5.5 3.5.5 3.4.5 3.2.5 3.2.5 3.1.5 3 .5 2.9.5 2.7.5 2.6.5 2.5.5 2.4.5 2.2.5 2 .5 1.9.5 1.8.5 1.6.5 1.5.5 1.3.5 1.1.5 1 .5.8.5.7.5.6.5.3.5.2.5.1.5-.1.5-.3.5-.4"/>
<path clip-path="url(#ce)" fill="none" stroke="#D95319" stroke-width="0.9" stroke-linejoin="round" d="M387.9 997.4l.3 16.3.2-14.9.2 15 .3-16.5.3 15.2.2-16 .2 17.1.3-15.6.3 16.8.2-19.1.2 17.4.3-14.9.3 15.5.2-17.1.2 17.9.3-19.1.3 17.6.2-17.5.2 18.3.3-15.9.3 14.6.2-15 .2 14.7.3-13.7.3 14.8.2-15.9.2 16.9.3-16.5.3 15.3.2-14.7.2 16.7.3-16.9.3 14.9.2-14 .2 16.5.3-16.5.3 15.5.2-15.2.2 15.1.3-16.4.3 16.4.2-14.2.2 17.9.3-16.6.3 17.2.2-16.9.2 18.9.3-17.2.3 18.3.2-15.7.2 15.8.3-16.6.3 17.1.2-15.5.2 16 .3-15.7.3 15.9.2-13.9.2 14 .3-12.8.3 12.6.2-12.7.2 11.7.3-10.8.3 11.1.2-11.2.2 11.4.3-12.8.3 11.3.2-9.8.2 9.4.3-10.4.3 9 .2-8.9.2 8.6.3-8.5.3 7.1.2-8.4.2 7.8.3-8.7.3 8 .2-8.6.2 6.6.3-7.5.3 6.2.2-8.2.2 6.5.3-7.1.3 5.9.2-8.3.2 6.5.3-7.8.3 6.5.2-7.5.2 5.3.3-7.8.3 6.3.2-7.7.2 5.4.3-7 .3 5.6.2-8.4.2 5.8.3-7.8.3 5.8.2-8.8.2 7.8.3-9.5.3 6.8.2-9.5.2 8 .3-9.9.3 7.7.2-10.5.2 9.2.3-12 .3 10.7.2-12.7.2 9.9.3-12 .3 12.1.2-14.1.2 11.9.3-14.7.3 12.2.2-14.3.2 14.9.3-17 .3 14.8.2-15 .2 14.6.3-16 .3 15.1.2-18.3.2 15.4.3-15.6.3 16.4.2-18.6.2 17.9.3-17.8.3 15.5.2-14.9.2 14.2.3-16.5.3 16.7.2-15.2.2 16.6.3-16.8.3 16.6.2-16.4.2 15.5.3-13.8.3 14.3.2-12.9.2 12.8.3-13 .3 14.4.2-13.2.2 13.7.3-11.7.3 13.5.2-12.7.2 13.1.3-11 .3 11.9.2-8.7.2 10.2.3-7.9.3 9.9.2-7.5.2 9.6.3-6.6.3 9.1.2-6.8.2 7.7.3-4.8.3 7.1.2-4.2.2 6.6.3-3.5.3 6.2.2-3.6.2 5.8.3-2.4.3 5.6.2-2.3.2 4.9.3-1.7.3 4.4.2-1.6.2 4.6.3-1.2.3 4.1.2-1.3.2 4.2.3-.7.3 3.7.2-.9.2 3.6.3-.6.3 3.9.2-1.3.2 4.2.3-1.3.3 4.4.2-1.5.2 4.6.3-1.9.3 4.8.2-2.5.2 5.1.3-3 .3 5.7.2-3.3.2 6.1.3-3.4.3 6.6.2-5.6.2 8.4.3-5.6.3 8.6.2-7.6.2 10.2.3-8.6.3 11 .2-9.6.2 10.6.3-9.3.3 11.1.2-9.7.2 12 .3-11.3.3 14.7.2-11.9.2 11.7.3-11.9.3 13.6.2-12.6.2 13.7.3-12.9.3 14.1.2-14.1.2 16.9.3-15.1.3 14.4.2-14.4.2 15.5.3-15.8.3 15.3.2-15.8.2 17.8.3-17.9.3 16.2.2-14.6.2 16.7.3-16.3.3 16.2.2-18.2.2 17.6.3-17.1.3 14.1.2-13.3.2 12.3.3-13 .3 12.1.2-14.2.2 14.3.3-14.1.3 11.9.2-13.7.2 11.5.3-10.9.3 10.6.2-12.2.2 8.9.3-10.6.3 8.6.2-9.4.2 8.5.3-10.7.3 8.2.2-9.2.2 6 .3-7.8.3 5.1.2-6.8.2 4.5.3-7.2.3 4.5.2-6.6.2 3 .3-4.9.3 2.4.2-5.4.2 2.3.3-4.9.3 1.6.2-4.4.2 1 .3-3.9.3.6.2-3.5.2.4.3-3.7.3.4.2-3.7.2.4.3-3.8.3.5.2-4.1.2.7.3-4.2.3.5.2-4 .2 1 .3-4.6.3.9.2-4.5.2 1.5.3-5.4.3 2.3.2-5.9.2 2.9.3-6.5.3 3.4.2-6.8.2 3.7.3-7.1.3 3.9.2-7.4.2 5.8.3-10.3.3 6.6.2-9.2.2 7.6.3-11.1.3 8.5.2-11.6.2 9.3.3-11.4.3 9.2.2-13 .2 12.8.3-13.6.3 11 .2-14.8.2 12.5.3-14.8.3 13.5.2-14.9.2 15.7.3-17.1.3 16.7.2-18.5.2 17.2.3-18 .3 17.2.2-16.3.2 14.1.3-15.6.3 16.8.2-16.5.2 15.4.3-15.4.3 16.6.2-16.6.2 18.7.3-15.8.3 14.9.2-14 .2 14.9.3-14.8.3 14.8.2-11.9.2 13.5.3-11.9.3 15.2.2-12.7.2 13.8.3-11.9.3 12.8.2-9.6.2 11.7.3-8.9.3 10.3.2-7.8.2 11.5.3-7.7.3 9.7.2-7 .2 8.6.3-4.9.3 8.4.2-5.1.2 7.9.3-4.7.3 7.6.2-3.7.2 6.8.3-2.5.3 5.8.2-2.6.2 5.6.3-1.5.3 4.9.2-1.3.2 4.3.3-.6.3 4.3.2-.8.2 4.1.3-.2.3 3.8.2-.4.2 3.9.3-.3.3 3.7.2-.1.2 3.6.3-.4.3 4 .2-.8.2 4.2.3-1.2.3 4.6.2-1.3.2 4.4.3-1.9.3 5.5.2-2.4.2 5.5.3-3.5.3 6.2.2-3.9.2 6.8.3-4.3.3 7.5.2-5.1.2 7.8.3-6 .3 8.1.2-6.1.2 8.9.3-7.8.3 10 .2-8.5.2 11.8.3-10.8.3 12.4.2-10.5.2 13.1.3-12.2.3 13.1.2-12.5.2 15.2.3-14 .3 15.8.2-14.8.2 15.1.3-13.6.3 15 .2-14 .2 14.8.3-16.5.3 17.4.2-17.5.2 16.6.3-16.3.3 18.3.2-17.7.2 18.3.3-18.5.3 16.3.2-16.5.2 15.8.3-13.9.3 13.2.2-15.2.2 14.8.3-13.9.3 14.1.2-16 .2 14.6.3-15.3.3 13.4.2-14.9.2 13.9.3-12.6.3 10.4.2-11.4.2 10.5.3-11.8.3 8.5.2-10.7.2 8.9.3-10.9.3 9.2.2-10.5.2 8.3.3-9.9.3 7.2.2-9.1.2 5.6.3-7.8.3 4.8.2-6.8.2 4.2.3-6.4.3 3 .2-5.6.2 2.6.3-4.8.3 1.8.2-5 .2 1.8.3-4.7.3 1.3.2-4.3.2.6.3-3.7.3.6.2-3.8.2.2.3-3.7.3.2.2-3.7.2.3.3-3.8.3.1.2-3.8.2.4.3-4.4.3.8.2-4.4.2.7.3-4.5.3 1.3.2-5.2.2 1.9.3-5.6.3 2.7.2-6.8.2 3.2.3-7 .3 4.1.2-7.9.2 4.8.3-8 .3 5.3.2-8.3.2 6.2.3-11 .3 7.3.2-10.2.2 8.6.3-11.1.3 7.8.2-10.6.2 9 .3-12.7.3 10.5.2-11.7.2 9.8.3-13.7.3 13 .2-14.6.2 14.3.3-15.5.3 13.7.2-15.8.2 15.3.3-18 .3 16.1.2-14.8.2 14.8.3-17.6.3 16.6.2-17.5.2 18 .3-17.2.3 16.6.2-15.4.2 16.3.3-15.7.3 14.6.2-15.7.2 18.3.3-16.9.3 16.6.2-14.5.2 16 .3-14.8.3 14.5.2-12.1.2 15.2.3-14.1.3 14 .2-10.9.2 13.7.3-11 .3 12.7.2-9.3.2 11.6.3-9.7.3 11.1.2-8.5.2 10.6.3-6.3.3 9.8.2-6.7.2 8.8.3-5.5.3 8.6.2-4.6.2 7.8.3-3.8.3 6.6.2-2.8.2 6 .3-2.5.3 5.9.2-1.8.2 5.2.3-1.5.3 4.6.2-.9.2 4.3.3-.4.3 3.9.2-.2.2 3.8.3-.3.3 3.9.2 0 .2 3.6.3-.4.3 3.7.2.1.2 3.7.3-.5.3 4 .2-.9.2 4.3.3-1.1.3 4.5.2-1.8.2 4.9.3-1.6.3 4.8.2-2.5.2 6 .3-3.7.3 7 .2-4.6.2 7.6.3-5.4.3 7.6.2-4.6.2 8.3.3-7.5.3 8.9.2-6.1.2 9.4.3-7.8.3 10.2.2-10 .2 12.9.3-10.3.3 12.4.2-12.4.2 13.1.3-10.7.3 13.2.2-14.2.2 14.5.3-13.3.3 15.5.2-13.4.2 14.2.3-13.3.3 14.6.2-15.8.2 15.8.3-13.8.3 15.5.2-15.3.2 15.3.3-15.5.3 17.1.2-17.4.2 16.5.3-17.3.3 17.8.2-17.5.2 17.1.3-17.9.3 14.7.2-14.2.2 15.6.3-15.9.3 13 .2-13.9.2 13.1.3-14.5.3 14.3.2-14.5.2 11 .3-11.6.3 11.8.2-12.9.2 9.7.3-10.8.3 8.6.2-10.8.2 9.6.3-10.9.3 7.8.2-10.2.2 8 .3-8.6.3 5.9.2-8.9.2 6 .3-8 .3 4.5.2-6.9.2 4.1.3-5.9.3 2.9.2-5.4.2 2.1.3-4.9.3 1.4.2-4.8.2 1.3.3-3.9.3.5.2-3.7.2.5.3-3.8.3.3.2-3.9.2.2.3-3.5.3-.1.2-3.5.2 0 .3-3.6.3.2.2-4.1.2.4.3-3.9.3.5.2-4.3.2.7.3-4.6.3 1.7.2-5.8.2 2.1.3-5.5.3 2.1.2-6.2.2 3 .3-7.1.3 4.5.2-8.2.2 4.9.3-8.4.3 5.7.2-9.7.2 7.7.3-10.3.3 7.3.2-11 .2 8.9.3-12 .3 9.3.2-11.7.2 10.9.3-13.9.3 10.2.2-11.7.2 10.2.3-12.6.3 12.2.2-16.3.2 15 .3-16.9.3 15 .2-16.3.2 15.6.3-16.4.3 15.3.2-14.9.2 14.6.3-14.8.3 15.7.2-15.8.2 16 .3-16.1.3 14.6.2-16.5.2 17.6.3-16.3.3 16.3.2-15.3.2 16 .3-14.9.3 15.6.2-14.1.2 15.3.3-14 .3 16.5.2-14.7.2 15.3.3-11.4.3 12.6.2-11.1.2 12.9.3-9.4.3 12.5.2-10.8.2 12.7.3-9.1.3 11.2.2-7.9.2 9.4.3-6.6.3 9.9.2-5.2.2 8 .3-5.1.3 7.9.2-3.9.2 6.8.3-3.5.3 6.6.2-2.7.2 5.9.3-1.8.3 5.3.2-1.3.2 4.7.3-1 .3 4.4.2-.7.2 4.2.3-.4.3 4.1.2-.5.2 3.9.3-.1.3 3.8.2 0 .2 3.7.3-.4.3 3.7.2-.2.2 3.7.3-.5.3 4 .2-.5.2 3.8.3-1.2.3 5 .2-1.7.2 5 .3-2.5.3 5.3.2-2.7.2 6 .3-3 .3 6.2.2-4.8.2 7.8.3-5.2.3 8.4.2-6.1.2 8 .3-6.2.3 8.7.2-7.4.2 10.6.3-9.6.3 11.1.2-8.2.2 11.4.3-10.5.3 12.4.2-12 .2 14.4.3-12.7.3 13.5.2-13.4.2 15.3.3-14.5.3 15.1.2-13.6.2 13.9.3-14.6.3 16.8.2-14.5.2 14.8.3-14.8.3 16.2.2-16.8.2 17.5.3-18.2.3 15.7.2-14.1.2 16.4.3-17.2.3 15.3.2-17 .2 15.6.3-13.5.3 15 .2-17.8.2 15.8.3-15.9.3 14.3.2-13.5.2 12.4.3-15.1.3 12.7.2-13.1.2 12.3.3-12 .3 11 .2-13 .2 10.5.3-11.2.3 7.9.2-9.2.2 7.4.3-10.2.3 7.4.2-8.5.2 6.2.3-7.9.3 5.8.2-8.4.2 5.3.3-7.4.3 4.1.2-6.1.2 3.4.3-6.4.3 2.9.2-5.3.2 2.1.3-4.9.3 1.5.2-4.5.2 1.2.3-4.5.3.9.2-4.1.2.5.3-3.7.3.2.2-3.5.2-.1.3-3.7.3.2.2-3.6.2.2.3-3.9.3.1.2-3.9.2.5.3-4.2.3.6.2-4.7.2 1.3.3-5.1.3 1.6.2-5.7.2 2.6.3-6.4.3 2.8.2-6.5.2 3.3.3-7.1.3 4.4.2-8.4.2 6 .3-9.3.3 6.8.2-10.2.2 6.5.3-9.4.3 7.8.2-11.9.2 9.4.3-12.2.3 10.2.2-12.6.2 10.2.3-12.6.3 10.8.2-14.7.2 12.5.3-14.6.3 14 .2-14.1.2 12.2.3-15.3.3 15.4.2-15.8.2 15.3.3-16.8.3 16.8.2-16.7.2 16 .3-17.4.3 17.4.2-16.7.2 16.5.3-18.3.3 16.6.2-15.8.2 17.7.3-15.2.3 16.5.2-17.5.2 17.4.3-16.3.3 16 .2-12.6.2 14.2.3-13.7.3 14.9.2-11.6.2 12.9.3-10.3.3 13.3.2-10.8.2 12.2.3-9.3.3 11 .2-9.4.2 11.3.3-7.4.3 10.1.2-6.1.2 9.1.3-5.8.3 9 .2-5.7.2 8.6.3-4.7.3 7.1.2-3.6.2 6.8.3-3.1.3 6.3.2-2.7.2 6.1.3-2.1.3 5.3.2-1.1.2 4.6.3-1.1.3 4.6.2-.7.2 4.2.3-.5.3 4.1.2-.3.2 3.7.3 0 .3 3.5.2.1.2 3.5.3 0 .3 3.6.2-.4.2 4.1.3-.6.3 4.1.2-1.2.2 4.5.3-1.2.3 4.7.2-1.9.2 5.3.3-2.9.3 5.7.2-3.3.2 6.3.3-3.4.3 6.5.2-4 .2 6.8.3-5.2.3 8.2.2-6.8.2 9.7.3-7.8.3 10.1.2-7.4.2 10.6.3-8.8.3 11 .2-10.3.2 12.6.3-12 .3 13.2.2-10.7.2 13.2.3-14 .3 15.6.2-13.5.2 13 .3-11.7.3 13.4.2-14.9.2 17.6.3-16.1.3 14.7.2-15.6.2 18.3.3-15.7.3 14.2.2-14 .2 16.2.3-16.2.3 16.2.2-17.6.2 16 .3-17 .3 15.4.2-14.7.2 15.6"/>
<path clip-path="url(#ce)" fill="none" stroke="#EDB120" stroke-width="2.6" stroke-linejoin="round" d="M387.9 999.4l.5.1.5.2.5.2.5.1.5.2.5.2.5.2.5.2.5.2.5.3.5.2.5.2.5.3.5.2.5.2.5.3.5.1.5-.1.5-.1.5 0 .5-.3.5-.1.5.1.5.2.5.5.5.6.5.8.5.9.5 1 .5 1.2.5 1.3.5 1.4.5 1.5.5 1.6.5 1.7.5 2 .5 2 .5 2.1.5 2.1.5 2.2.5 2.2.5 2.2.5 2.3.5 2.2.5 2.2.5 2.2.5 2.1.5 2 .5 2 .5 1.8.5 1.7.5 1.5.5 1.4.5 1.1.5.9.5.8.5.5.5.3.5.1.5-.1.5-.3.5-.5.5-.7.5-1 .5-1.1.5-1.2.5-1.5.5-1.6.5-1.7.5-1.8.5-2 .5-2 .5-2.1.5-2.2.5-2.3.5-2.4.5-2.4.5-2.6.5-2.6.5-2.7.5-2.7.5-2.9.5-2.9.5-3 .5-3.2.5-3.2.5-3.3.5-3.4.5-3.6.5-3.6.5-3.6.5-3.8.5-3.7.5-3.8.5-3.8.5-3.8.5-3.7.5-3.7.5-3.5.5-3.3.5-3.2.5-3 .5-2.8.5-2.4.5-2.2.5-1.8.5-1.5.5-1.1.5-.8.5-.3.5 0 .5.5.5.8.5 1.2.5 1.6.5 1.9.5 2.3.5 2.5.5 2.9.5 3.1.5 3.3.5 3.5.5 3.7.5 3.8.5 3.8.5 4 .5 4 .5 4 .5 4.1.5 4 .5 3.9.5 4 .5 3.9.5 3.8.5 3.8.5 3.7.5 3.7.5 3.7.5 3.5.5 3.6.5 3.5.5 3.5.5 3.4.5 3.5.5 3.4.5 3.4.5 3.3.5 3.3.5 3.2.5 3.2.5 3.2.5 3 .5 2.9.5 2.8.5 2.6.5 2.4.5 2.3.5 2 .5 1.8.5 1.6.5 1.2.5 1 .5.7.5.4.5.1.5-.2.5-.5.5-.8.5-1.1.5-1.4.5-1.7.5-1.8.5-2.2.5-2.3.5-2.5.5-2.7.5-2.8.5-3 .5-3.1.5-3.1.5-3.3.5-3.3.5-3.3.5-3.4.5-3.5.5-3.5.5-3.5.5-3.6.5-3.6.5-3.6.5-3.7.5-3.8.5-3.9.5-3.9.5-3.9.5-4.1.5-4.1.5-4.2.5-4.3.5-4.3.5-4.3.5-4.4.5-4.4.5-4.4.5-4.3.5-4.2.5-4.1.5-4 .5-3.8.5-3.6.5-3.3.5-3.1.5-2.8.5-2.4.5-2 .5-1.7.5-1.3.5-.8.5-.4.5 0 .5.5.5.9.5 1.4.5 1.7.5 2.1.5 2.5.5 2.8.5 3.2.5 3.4.5 3.6.5 3.9.5 4 .5 4.1.5 4.3.5 4.3.5 4.4.5 4.4.5 4.4.5 4.4.5 4.3.5 4.3.5 4.2.5 4.2.5 4.1.5 4 .5 3.9.5 3.9.5 3.8.5 3.8.5 3.7.5 3.7.5 3.6.5 3.6.5 3.6.5 3.5.5 3.5.5 3.4.5 3.4.5 3.3.5 3.3.5 3.2.5 3 .5 2.9.5 2.8.5 2.6.5 2.4.5 2.1.5 2 .5 1.7.5 1.4.5 1.1.5.9.5.5.5.2.5-.1.5-.4.5-.8.5-1 .5-1.3.5-1.6.5-1.9.5-2.1.5-2.3.5-2.6.5-2.7.5-2.8.5-3.1.5-3.1.5-3.2.5-3.3.5-3.4.5-3.4.5-3.5.5-3.5.5-3.6.5-3.6.5-3.6.5-3.7.5-3.7.5-3.8.5-3.8.5-3.9.5-3.9.5-4.1.5-4.1.5-4.1.5-4.3.5-4.3.5-4.3.5-4.4.5-4.5.5-4.4.5-4.5.5-4.4.5-4.3.5-4.2.5-4.1.5-4 .5-3.8.5-3.5.5-3.2.5-3 .5-2.6.5-2.3.5-1.9.5-1.5.5-1 .5-.6.5-.2.5.2.5.7.5 1.2.5 1.5.5 2 .5 2.3.5 2.7.5 3 .5 3.3.5 3.6.5 3.8.5 4 .5 4.1.5 4.3.5 4.3.5 4.4.5 4.5.5 4.4.5 4.5.5 4.4.5 4.3.5 4.3.5 4.3.5 4.1.5 4.1.5 4 .5 4 .5 3.9.5 3.8.5 3.8.5 3.7.5 3.7.5 3.7.5 3.6.5 3.5.5 3.6.5 3.5.5 3.4.5 3.4.5 3.3.5 3.3.5 3.1.5 3 .5 2.9.5 2.7.5 2.5.5 2.3.5 2.1.5 1.8.5 1.6.5 1.3.5 1 .5.7.5.4.5 0 .5-.2.5-.6.5-.9.5-1.2.5-1.4.5-1.8.5-2 .5-2.2.5-2.5.5-2.6.5-2.8.5-3 .5-3.1.5-3.2.5-3.2.5-3.4.5-3.4.5-3.5.5-3.5.5-3.6.5-3.6.5-3.7.5-3.6.5-3.8.5-3.7.5-3.8.5-3.9.5-4 .5-4 .5-4 .5-4.2.5-4.2.5-4.3.5-4.4.5-4.4.5-4.4.5-4.5.5-4.5.5-4.4.5-4.4.5-4.4.5-4.2.5-4 .5-3.9.5-3.7.5-3.4.5-3.2.5-2.8.5-2.5.5-2.1.5-1.7.5-1.3.5-.9.5-.4.5 0 .5.5.5.9.5 1.4.5 1.7.5 2.2.5 2.5.5 2.8.5 3.2.5 3.5.5 3.7.5 3.9.5 4 .5 4.3.5 4.3.5 4.4.5 4.5.5 4.5.5 4.4.5 4.5.5 4.4.5 4.3.5 4.3.5 4.3.5 4.1.5 4.1.5 4 .5 4 .5 3.8.5 3.9.5 3.7.5 3.8.5 3.7.5 3.6.5 3.6.5 3.6.5 3.5.5 3.5.5 3.5.5 3.3.5 3.3.5 3.2.5 3.1.5 3 .5 2.8.5 2.6.5 2.5.5 2.2.5 2 .5 1.7.5 1.5.5 1.1.5.9.5.5.5.3.5-.1.5-.4.5-.7.5-1.1.5-1.3.5-1.6.5-1.9.5-2.1.5-2.3.5-2.6.5-2.7.5-2.9.5-3.1.5-3.1.5-3.3.5-3.3.5-3.4.5-3.5.5-3.5.5-3.6.5-3.6.5-3.6.5-3.7.5-3.7.5-3.8.5-3.8.5-3.9.5-3.9.5-4 .5-4 .5-4.2.5-4.2.5-4.3.5-4.3.5-4.4.5-4.5.5-4.4.5-4.5.5-4.5.5-4.5.5-4.4.5-4.3.5-4.1.5-4 .5-3.8.5-3.6.5-3.3.5-3.1.5-2.6.5-2.4.5-1.9.5-1.5.5-1.1.5-.7.5-.2.5.2.5.7.5 1.1.5 1.5.5 2 .5 2.3.5 2.7.5 3 .5 3.3.5 3.6.5 3.9.5 4 .5 4.1.5 4.3.5 4.4.5 4.5.5 4.5.5 4.5.5 4.5"/>
<path clip-path="url(#ce)" fill="none" stroke="#EDB120" stroke-width="0.9" stroke-linejoin="round" d="M387.9 992.7l.3 13.9.2-13.2.2 12.5.3-13.9.3 15.5.2-14.8.2 14.6.3-15.3.3 15.7.2-14.5.2 15 .3-16.1.3 16.7.2-14.9.2 12.9.3-13.7.3 14.9.2-15.2.2 16.3.3-15 .3 14.4.2-13.1.2 12.4.3-14.7.3 16.3.2-16.1.2 16.5.3-14.7.3 15.7.2-16.6.2 16.9.3-16.2.3 14.8.2-14.2.2 14.1.3-14.7.3 14.9.2-14.6.2 13.8.3-13.3.3 13.9.2-15.2.2 14.3.3-12.3.3 13 .2-13 .2 12.5.3-11.6.3 10.5.2-10.9.2 13.2.3-12.8.3 13.2.2-12.3.2 11.2.3-9.2.3 10.7.2-9.5.2 9.8.3-9 .3 11.4.2-9.4.2 9.7.3-8.1.3 9.3.2-8.7.2 10.6.3-7.8.3 9.8.2-8.4.2 9.3.3-7.1.3 9.2.2-7.9.2 10 .3-7 .3 10.4.2-8.2.2 9.9.3-9 .3 10.3.2-8.3.2 11.6.3-9 .3 12 .2-9.8.2 11.9.3-10.9.3 11.9.2-9.2.2 13.3.3-11.6.3 13 .2-11.3.2 14.3.3-11.2.3 13.6.2-12.6.2 14 .3-10.9.3 13 .2-12.2.2 12.4.3-12.4.3 14.3.2-12.5.2 14.5.3-12.8.3 13.2.2-12.4.2 12.9.3-11.7.3 12.6.2-12.7.2 13.3.3-11.8.3 11.5.2-13 .2 13.6.3-11.7.3 12.1.2-14 .2 13 .3-11.4.3 11.3.2-12.9.2 10.1.3-9.8.3 8.4.2-9.3.2 9.2.3-11.4.3 9.2.2-9.7.2 7.8.3-9 .3 7.3.2-8.8.2 6.5.3-8 .3 5.4.2-7.7.2 5.6.3-6.3.3 4.2.2-6.6.2 4 .3-6.2.3 3.4.2-5.3.2 3.4.3-5.4.3 2.7.2-5.2.2 2.3.3-4.1.3 1.3.2-4 .2 1.4.3-4.2.3 1.3.2-3.9.2.9.3-3.5.3.6.2-3.5.2.5.3-3.6.3.6.2-3.7.2.5.3-3.8.3.7.2-4.5.2 1.1.3-4.7.3 1.8.2-5.1.2 1.2.3-5.4.3 2.4.2-6.2.2 2.3.3-6.5.3 3.3.2-7.4.2 3.7.3-7.4.3 4.2.2-7.7.2 4.4.3-9.4.3 5.6.2-9.8.2 6.1.3-9.9.3 6.8.2-9.9.2 6.6.3-11.4.3 9.1.2-11.8.2 8.8.3-12.8.3 10 .2-11.5.2 10.2.3-13.7.3 10.5.2-12.5.2 11.9.3-14.8.3 13.2.2-14.4.2 13 .3-15.2.3 12.7.2-13.4.2 14.9.3-13.7.3 12.5.2-12.8.2 14.1.3-14.4.3 13 .2-10.7.2 11.4.3-10.9.3 13.2.2-12.3.2 12.9.3-9.2.3 12.2.2-11.2.2 13.3.3-9 .3 10.6.2-7.2.2 11.3.3-9 .3 10.8.2-7 .2 10.3.3-5.7.3 9.4.2-6.2.2 8.9.3-5 .3 9.2.2-4.8.2 7.7.3-2.8.3 6.8.2-2.7.2 6.6.3-2.4.3 5.7.2-1.8.2 5.8.3-1.3.3 5.1.2-1 .2 4.8.3-.5.3 4.2.2 0 .2 3.9.3-.2.3 3.9.2-.1.2 3.6.3.2.3 3.7.2 0 .2 3.6.3.2.3 3.4.2.1.2 3.5.3-.2.3 3.6.2.1.2 3.7.3-.6.3 4.1.2-.6.2 4.1.3-.8.3 4.5.2-1.4.2 5.4.3-2.5.3 5.9.2-3 .2 6.8.3-3.4.3 6.8.2-4.2.2 7.3.3-3.6.3 8 .2-6.1.2 9.1.3-5.6.3 8.7.2-7.2.2 11 .3-8.3.3 10.8.2-7.6.2 11 .3-9.2.3 11.3.2-10.3.2 13.3.3-10.8.3 13 .2-10.8.2 12.2.3-10.5.3 11.1.2-10 .2 12.7.3-13.6.3 14.7.2-13.5.2 13 .3-13.2.3 14.5.2-14.4.2 12.7.3-12 .3 11.9.2-13.4.2 14.4.3-13.9.3 11 .2-12.8.2 12.6.3-12.7.3 10.6.2-13.4.2 10.8.3-11.1.3 9.8.2-12.8.2 9.7.3-10.3.3 7.9.2-10.8.2 7.5.3-10 .3 7 .2-9 .2 5.3.3-8.8.3 6.3.2-8.5.2 4.2.3-6.9.3 3.6.2-6.2.2 3.1.3-6.2.3 2.2.2-5.8.2 2.2.3-5.2.3 1.8.2-4.8.2.8.3-4.3.3 1 .2-4.2.2.2.3-3.7.3 0 .2-3.7.2-.1.3-3.3.3-.2.2-3.6.2-.1.3-3.5.3-.6.2-3.5.2-.1.3-3.6.3-.4.2-3.8.2 0 .3-4.2.3 0 .2-4 .2 0 .3-4.3.3.3.2-5 .2.9.3-5.3.3 1.5.2-6.1.2 1.6.3-6.4.3 2.3.2-6.8.2 2.8.3-7.7.3 3.8.2-8 .2 4.1.3-9 .3 4.7.2-9.1.2 5.2.3-9.8.3 6.3.2-10.3.2 7.4.3-10.5.3 7.5.2-11.1.2 7.6.3-11.8.3 10.2.2-13.3.2 10.2.3-13.2.3 12.5.2-15.3.2 13.2.3-13.8.3 11.9.2-12.8.2 11.2.3-11.8.3 11.9.2-13.5.2 14.1.3-14.2.3 14.4.2-13.6.2 12.7.3-11.7.3 12.3.2-11.3.2 14.5.3-12.2.3 14.1.2-11.5.2 13.4.3-10.4.3 12.2.2-10.1.2 13.3.3-8.6.3 10.7.2-7.4.2 10.7.3-7.7.3 11.2.2-5.7.2 9.4.3-5.1.3 9.5.2-5.4.2 9 .3-4.4.3 8.1.2-3.5.2 7.2.3-3 .3 7.6.2-2.7.2 6.3.3-1.8.3 6 .2-1.4.2 5.7.3-.9.3 5.1.2-.4.2 4.2.3-.1.3 4.4.2.1.2 3.9.3.2.3 3.8.2.2.2 3.8.3.1.3 3.7.2.3.2 3.4.3.4.3 3.7.2 0 .2 3.6.3 0 .3 3.7.2.1.2 3.9.3-.6.3 4.1.2-.5.2 4.4.3-1 .3 4.9.2-1.7.2 5.1.3-1.9.3 5.8.2-2.5.2 6.2.3-2.9.3 6.4.2-4 .2 8.4.3-5.6.3 8.7.2-6 .2 10.1.3-7.7.3 10.3.2-6.7.2 10.7.3-9 .3 10.7.2-7.6.2 10.3.3-9.3.3 11.8.2-8.8.2 11.7.3-9.8.3 11.5.2-10.5.2 13.6.3-11.7.3 13 .2-12.9.2 13 .3-11.1.3 11.9.2-12.5.2 13.3.3-12.2.3 12 .2-13.6.2 14.1.3-13.9.3 12.1.2-11.9.2 11.1.3-13.6.3 12.6.2-13.9.2 11.7.3-12.6.3 11.2.2-12.2.2 9.5.3-11.4.3 8.5.2-11.5.2 9.5.3-11.6.3 8.2.2-9.1.2 6.7.3-9.6.3 6.7.2-10.2.2 6.1.3-8.8.3 4.9.2-7.4.2 4.5.3-7.9.3 4 .2-6.6.2 2.5.3-5.5.3 2.1.2-5.4.2 2 .3-5.7.3 1.8.2-5 .2 1 .3-4.3.3.4.2-3.9.2.2.3-3.7.3 0 .2-3.7.2-.2.3-3.6.3-.1.2-3.7.2-.2.3-3.7.3-.2.2-3.7.2-.5.3-3.6.3-.2.2-3.9.2-.2.3-4.1.3.3.2-4.6.2.1.3-4.9.3 1.1.2-5.4.2 1 .3-5.6.3 1.5.2-6.6.2 2.7.3-7 .3 2.5.2-7.3.2 2.9.3-7.5.3 4.4.2-9.7.2 5 .3-8.6.3 5.4.2-9.9.2 6.4.3-11.4.3 7.7.2-11.2.2 7.1.3-12.2.3 9.6.2-12.5.2 10.1.3-13.6.3 9.8.2-13.1.2 10.6.3-11.7.3 11.5.2-14.7.2 12.5.3-14.1.3 12.8.2-13 .2 13 .3-13.6.3 13.2.2-13 .2 13.2.3-12.9.3 13 .2-12.3.2 12.6.3-11.4.3 11.7.2-11.5.2 14.5.3-12.4.3 13.1.2-8.9.2 12 .3-10.4.3 12.3.2-8.5.2 12.5.3-8.8.3 12.3.2-8.2.2 11.5.3-8.1.3 10.3.2-5 .2 9.5.3-5.6.3 9.5.2-4.7.2 8.3.3-3.3.3 7.6.2-3.6.2 7.7.3-2.3.3 6.6.2-2.2.2 6.4.3-2 .3 6.1.2-1.4.2 5.3.3-.6.3 4.9.2-.4.2 4.3.3.2.3 4.1.2.1.2 4 .3.1.3 3.8.2.5.2 3.3.3.5.3 3.6.2.2.2 3.5.3.4.3 3.4.2.2.2 3.8.3.1.3 3.6.2-.1.2 4 .3-.8.3 4.5.2-.8.2 4.5.3-1 .3 5.2.2-2.3.2 6 .3-2.5.3 6.1.2-3.3.2 6.9.3-3.7.3 7.6.2-4 .2 7.9.3-6 .3 8.8.2-5.3.2 9.6.3-6.8.3 9.1.2-6.6.2 10.3.3-7.8.3 11.1.2-9.7.2 11.7.3-8.8.3 11.6.2-9.7.2 12 .3-10.8.3 12.7.2-10.9.2 13.3.3-13.1.3 13.6.2-11.6.2 12.4.3-12.9.3 14.1.2-12.9.2 11.8.3-13 .3 14.7.2-14.7.2 13.7.3-14.1.3 12.2.2-12.4.2 10.8.3-13 .3 12.4.2-13.6.2 11.4.3-13 .3 11.5.2-12.4.2 9.4.3-11.2.3 8.6.2-11.5.2 8.3.3-10.2.3 8 .2-10.3.2 7.4.3-9.7.3 5.7.2-8.3.2 5.4.3-9.1.3 5.6.2-7.7.2 3.3.3-7.1.3 3.9.2-6.3.2 2.2.3-6 .3 2.4.2-5.2.2 1.3.3-4.7.3 1 .2-4.4.2.6.3-4 .3.2.2-4 .2.2.3-3.8.3 0 .2-3.7.2-.2.3-3.4.3-.4.2-3.7.2-.4.3-3.6.3-.2.2-3.8.2-.1.3-3.9.3-.3.2-4 .2.1.3-4.5.3.3.2-4.9.2.7.3-4.9.3.7.2-5.7.2 1.6.3-6.3.3 2.2.2-6.6.2 2.1.3-6.6.3 2.5.2-7.8.2 4.1.3-8.3.3 4.5.2-9.5.2 5.1.3-9.9.3 5.5.2-9.2.2 5.5.3-10.2.3 7.6.2-12.5.2 8.9.3-11 .3 8 .2-13.2.2 10.1.3-11.5.3 9.4.2-12.4.2 10 .3-12.2.3 10.2.2-12.7.2 11 .3-12.1.3 11.7.2-12.1.2 11.8.3-13.9.3 12.8.2-11.3.2 13.6.3-13.8.3 12.8.2-12.4.2 14.8.3-11.8.3 12.4.2-10.8.2 12.6.3-11.5.3 14.4.2-11.8.2 14.4.3-10.6.3 12.4.2-8.7.2 12 .3-8 .3 11.4.2-7.6.2 10.7.3-6 .3 10.3.2-6.7.2 9.6.3-4.7.3 9 .2-4.7.2 9.2.3-4.3.3 8.2.2-3.1.2 7.2.3-2.5.3 6.6.2-1.7.2 5.5.3-1.3.3 5.6.2-.5.2 4.9.3-.3.3 4.4.2 0 .2 4.2.3-.2.3 4.1.2.4.2 3.6.3.4.3 3.6.2.4.2 3.6.3.5.3 3.5.2.3.2 3.6.3.1.3 3.8.2.1.2 3.6.3-.2.3 4.2.2-.5.2 4.1.3-.7.3 4.4.2-1.1.2 5 .3-1.3.3 5.2.2-2.1.2 6.2.3-3 .3 6.4.2-3.3.2 7 .3-3.6.3 7.9.2-5.5.2 8.6.3-5.2.3 8.3.2-5.5.2 9.1.3-6.5.3 10.6.2-8.2.2 10.2.3-8.8.3 12.5.2-8.8.2 10.9.3-8.9.3 10.4.2-9.9.2 13.3.3-10.7.3 11.2.2-10.5.2 13.1.3-12.8.3 12.8.2-11.7.2 14.4.3-14.1.3 14.6.2-14.4.2 14.2.3-14.2.3 13.2.2-13.7.2 12.4.3-12.4.3 12.5.2-14.6.2 11.9.3-12.2.3 11.7.2-12.8.2 10.6.3-12 .3 10.4.2-12.5.2 9.1.3-11.6.3 9.1.2-10.4.2 8 .3-11.7.3 8.5.2-11.2.2 7.2.3-8.7.3 5.4.2-8.8.2 5.7.3-8.6.3 4.6.2-7.1.2 2.9.3-6.3.3 3 .2-6.4.2 2.6.3-5.4.3 1.7.2-5.3.2 1.5.3-5 .3 1.2.2-4.8.2.8.3-4.1.3.3.2-3.9.2-.1.3-3.5.3-.3.2-3.6.2-.4.3-3.3.3-.4.2-3.5.2-.5.3-3.5.3-.4.2-3.7.2-.4.3-3.9.3-.2.2-4.2.2 0 .3-4.4.3.5.2-4.9.2.7.3-5.2.3.9.2-6.1.2 1.8.3-6.6.3 2.2.2-7.1.2 3.6.3-7.5.3 3.2.2-8.7.2 4.8.3-8.8.3 4.1.2-8.9.2 5.8.3-11 .3 5.9.2-9.1.2 7 .3-11.4.3 7.5.2-11 .2 7.8.3-12 .3 9.6.2-14 .2 10.8.3-12.9.3 10.4.2-12.2.2 11.2.3-13.7.3 12.4.2-14.9.2 11.7.3-12.2.3 11.8.2-12.7.2 12.7.3-12.2.3 12.6.2-12.2.2 11.3.3-11.9.3 14.3.2-12.1.2 12.2.3-11.3.3 14.1.2-11.7.2 13.1.3-9.8.3 11.3.2-9.2.2 12.7.3-9.3.3 12.9.2-9.3.2 10.9.3-7.9.3 11.4.2-6.8.2 10.8.3-5.9.3 10.2.2-5.4.2 9.3.3-5.4.3 9.2.2-4.5.2 8.2.3-3.5.3 8 .2-3.2.2 7 .3-1.9.3 6.7.2-1.9.2 5.9"/>
<text x="37.1" y="258.2" font-size="25" textLength="37.00" lengthAdjust="spacingAndGlyphs" fill="#1a1a1a" stroke="#1a1a1a" stroke-width="0.0">600</text>
<text x="37.1" y="218.3" font-size="25" textLength="37.00" lengthAdjust="spacingAndGlyphs" fill="#1a1a1a" stroke="#1a1a1a" stroke-width="0.0">620</text>
<text x="37.1" y="178.4" font-size="25" textLength="37.00" lengthAdjust="spacingAndGlyphs" fill="#1a1a1a" stroke="#1a1a1a" stroke-width="0.0">640</text>
<text x="37.1" y="138.5" font-size="25" textLength="37.00" lengthAdjust="spacingAndGlyphs" fill="#1a1a1a" stroke="#1a1a1a" stroke-width="0.0">660</text>
<text x="37.1" y="98.6" font-size="25" textLength="37.00" lengthAdjust="spacingAndGlyphs" fill="#1a1a1a" stroke="#1a1a1a" stroke-width="0.0">680</text>
<text x="36.5" y="58.7" font-size="25" textLength="37.61" lengthAdjust="spacingAndGlyphs" fill="#1a1a1a" stroke="#1a1a1a" stroke-width="0.0">700</text>
<text x="36.5" y="18.8" font-size="25" textLength="37.61" lengthAdjust="spacingAndGlyphs" fill="#1a1a1a" stroke="#1a1a1a" stroke-width="0.0">720</text>
<text x="40.5" y="505.4" font-size="25" textLength="33.70" lengthAdjust="spacingAndGlyphs" fill="#1a1a1a" stroke="#1a1a1a" stroke-width="0.0">-20</text>
<text x="40.5" y="457.3" font-size="25" textLength="33.70" lengthAdjust="spacingAndGlyphs" fill="#1a1a1a" stroke="#1a1a1a" stroke-width="0.0">-10</text>
<text x="60.9" y="409.2" font-size="25" textLength="13.33" lengthAdjust="spacingAndGlyphs" fill="#1a1a1a" stroke="#1a1a1a" stroke-width="0.0">0</text>
<text x="48.5" y="361.1" font-size="25" textLength="25.63" lengthAdjust="spacingAndGlyphs" fill="#1a1a1a" stroke="#1a1a1a" stroke-width="0.0">10</text>
<text x="49.7" y="313" font-size="25" textLength="24.40" lengthAdjust="spacingAndGlyphs" fill="#1a1a1a" stroke="#1a1a1a" stroke-width="0.0">20</text>
<text x="40.5" y="777.9" font-size="25" textLength="33.70" lengthAdjust="spacingAndGlyphs" fill="#1a1a1a" stroke="#1a1a1a" stroke-width="0.0">-20</text>
<text x="40.5" y="729.9" font-size="25" textLength="33.70" lengthAdjust="spacingAndGlyphs" fill="#1a1a1a" stroke="#1a1a1a" stroke-width="0.0">-10</text>
<text x="60.9" y="681.9" font-size="25" textLength="13.33" lengthAdjust="spacingAndGlyphs" fill="#1a1a1a" stroke="#1a1a1a" stroke-width="0.0">0</text>
<text x="48.5" y="633.9" font-size="25" textLength="25.63" lengthAdjust="spacingAndGlyphs" fill="#1a1a1a" stroke="#1a1a1a" stroke-width="0.0">10</text>
<text x="49.7" y="585.9" font-size="25" textLength="24.40" lengthAdjust="spacingAndGlyphs" fill="#1a1a1a" stroke="#1a1a1a" stroke-width="0.0">20</text>
<text x="40.5" y="1109.9" font-size="25" textLength="33.70" lengthAdjust="spacingAndGlyphs" fill="#1a1a1a" stroke="#1a1a1a" stroke-width="0.0">-20</text>
<text x="40.5" y="1061.8" font-size="25" textLength="33.70" lengthAdjust="spacingAndGlyphs" fill="#1a1a1a" stroke="#1a1a1a" stroke-width="0.0">-10</text>
<text x="60.9" y="1013.7" font-size="25" textLength="13.33" lengthAdjust="spacingAndGlyphs" fill="#1a1a1a" stroke="#1a1a1a" stroke-width="0.0">0</text>
<text x="48.5" y="965.6" font-size="25" textLength="25.63" lengthAdjust="spacingAndGlyphs" fill="#1a1a1a" stroke="#1a1a1a" stroke-width="0.0">10</text>
<text x="49.7" y="917.5" font-size="25" textLength="24.40" lengthAdjust="spacingAndGlyphs" fill="#1a1a1a" stroke="#1a1a1a" stroke-width="0.0">20</text>
<text x="89.8" y="825.9" font-size="25" textLength="31.95" lengthAdjust="spacingAndGlyphs" fill="#1a1a1a" stroke="#1a1a1a" stroke-width="0.0">0.0</text>
<text x="227.3" y="825.9" font-size="25" textLength="32.56" lengthAdjust="spacingAndGlyphs" fill="#1a1a1a" stroke="#1a1a1a" stroke-width="0.0">0.1</text>
<text x="364.7" y="825.9" font-size="25" textLength="32.42" lengthAdjust="spacingAndGlyphs" fill="#1a1a1a" stroke="#1a1a1a" stroke-width="0.0">0.2</text>
<text x="502.2" y="825.9" font-size="25" textLength="31.97" lengthAdjust="spacingAndGlyphs" fill="#1a1a1a" stroke="#1a1a1a" stroke-width="0.0">0.3</text>
<text x="639.6" y="825.9" font-size="25" textLength="31.35" lengthAdjust="spacingAndGlyphs" fill="#1a1a1a" stroke="#1a1a1a" stroke-width="0.0">0.4</text>
<text x="71.3" y="1156.8" font-size="25" textLength="31.95" lengthAdjust="spacingAndGlyphs" fill="#1a1a1a" stroke="#1a1a1a" stroke-width="0.0">0.0</text>
<text x="203.1" y="1156.8" font-size="25" textLength="43.41" lengthAdjust="spacingAndGlyphs" fill="#1a1a1a" stroke="#1a1a1a" stroke-width="0.0">0.05</text>
<text x="346.3" y="1156.8" font-size="25" textLength="32.56" lengthAdjust="spacingAndGlyphs" fill="#1a1a1a" stroke="#1a1a1a" stroke-width="0.0">0.1</text>
<text x="382.2" y="1156.8" font-size="25" textLength="31.95" lengthAdjust="spacingAndGlyphs" fill="#1a1a1a" stroke="#1a1a1a" stroke-width="0.0">0.0</text>
<text x="513.4" y="1156.8" font-size="25" textLength="43.41" lengthAdjust="spacingAndGlyphs" fill="#1a1a1a" stroke="#1a1a1a" stroke-width="0.0">0.05</text>
<text x="656.1" y="1156.8" font-size="25" textLength="32.56" lengthAdjust="spacingAndGlyphs" fill="#1a1a1a" stroke="#1a1a1a" stroke-width="0.0">0.1</text>
<text x="334.1" y="856.2" font-size="28" textLength="93.19" lengthAdjust="spacingAndGlyphs" fill="#1a1a1a" stroke="#1a1a1a" stroke-width="0.25">Time (s)</text>
<text x="180" y="1184" font-size="28" textLength="92.48" lengthAdjust="spacingAndGlyphs" fill="#1a1a1a" stroke="#1a1a1a" stroke-width="0.25">Time (s)</text>
<text x="490.2" y="1184" font-size="28" textLength="92.48" lengthAdjust="spacingAndGlyphs" fill="#1a1a1a" stroke="#1a1a1a" stroke-width="0.25">Time (s)</text>
<text x="23.7" y="200.7" font-size="26.6" textLength="145.01" lengthAdjust="spacingAndGlyphs" fill="#1a1a1a" stroke="#1a1a1a" stroke-width="0.25" transform="rotate(-90 23.7 200.7)">DC-Link (V)</text>
<text x="23.2" y="465.7" font-size="26.6" textLength="128.63" lengthAdjust="spacingAndGlyphs" fill="#1a1a1a" stroke="#1a1a1a" stroke-width="0.25" transform="rotate(-90 23.2 465.7)">Current (A)</text>
<text x="23.2" y="738.4" font-size="26.6" textLength="128.63" lengthAdjust="spacingAndGlyphs" fill="#1a1a1a" stroke="#1a1a1a" stroke-width="0.25" transform="rotate(-90 23.2 738.4)">Current (A)</text>
<text x="23.2" y="1070.2" font-size="26.6" textLength="128.63" lengthAdjust="spacingAndGlyphs" fill="#1a1a1a" stroke="#1a1a1a" stroke-width="0.25" transform="rotate(-90 23.2 1070.2)">Current (A)</text>
<rect x="91.5" y="216.5" width="33.6" height="33.2" rx="2.5" fill="#fff" stroke="#1a1a1a" stroke-width="1.8"/>
<text x="101.1" y="241.2" font-size="30" textLength="14.27" lengthAdjust="spacingAndGlyphs" fill="#1a1a1a" stroke="#1a1a1a" stroke-width="0.2">a</text>
<rect x="91.4" y="485.1" width="33.3" height="33.4" rx="2.5" fill="#fff" stroke="#1a1a1a" stroke-width="1.8"/>
<text x="101.4" y="509.8" font-size="30" textLength="15.37" lengthAdjust="spacingAndGlyphs" fill="#1a1a1a" stroke="#1a1a1a" stroke-width="0.2">b</text>
<rect x="91.3" y="757.7" width="33.4" height="33.5" rx="2.5" fill="#fff" stroke="#1a1a1a" stroke-width="1.8"/>
<text x="100.9" y="783.1" font-size="30" textLength="14.20" lengthAdjust="spacingAndGlyphs" fill="#1a1a1a" stroke="#1a1a1a" stroke-width="0.2">c</text>
<rect x="91.4" y="1089.8" width="33.7" height="34" rx="2.5" fill="#fff" stroke="#1a1a1a" stroke-width="1.8"/>
<text x="99.7" y="1116.1" font-size="30" textLength="15.61" lengthAdjust="spacingAndGlyphs" fill="#1a1a1a" stroke="#1a1a1a" stroke-width="0.2">d</text>
<rect x="403.2" y="1089.9" width="33.7" height="33.9" rx="2.5" fill="#fff" stroke="#1a1a1a" stroke-width="1.8"/>
<text x="412.6" y="1115" font-size="30" textLength="14.75" lengthAdjust="spacingAndGlyphs" fill="#1a1a1a" stroke="#1a1a1a" stroke-width="0.2">e</text>
<rect x="87.3" y="885.3" width="57.8" height="33.2" rx="2.5" fill="#fff" stroke="#1a1a1a" stroke-width="1.8"/>
<text x="102.5" y="909.9" font-size="29" textLength="28.66" lengthAdjust="spacingAndGlyphs" fill="#1a1a1a" stroke="#1a1a1a" stroke-width="0.2">PI</text>
<rect x="397.9" y="884.9" width="71.8" height="32.8" rx="2.5" fill="#fff" stroke="#1a1a1a" stroke-width="1.8"/>
<text x="401.8" y="911.5" font-size="29" textLength="66.12" lengthAdjust="spacingAndGlyphs" fill="#1a1a1a" stroke="#1a1a1a" stroke-width="0.2">SMC</text>
<rect x="139.8" y="13.6" width="71.5" height="33.7" rx="2.5" fill="#fff" stroke="#1a1a1a" stroke-width="1.8"/>
<text x="143.8" y="38.6" font-size="29" textLength="66.23" lengthAdjust="spacingAndGlyphs" fill="#1a1a1a" stroke="#1a1a1a" stroke-width="0.2">SMC</text>
<rect x="293.6" y="210.3" width="58.1" height="33.6" rx="2.5" fill="#fff" stroke="#1a1a1a" stroke-width="1.8"/>
<text x="308.8" y="234.6" font-size="29" textLength="28.66" lengthAdjust="spacingAndGlyphs" fill="#1a1a1a" stroke="#1a1a1a" stroke-width="0.2">PI</text>
<rect x="603.6" y="279.4" width="57.5" height="32.5" rx="2.5" fill="#fff" stroke="#1a1a1a" stroke-width="1.8"/>
<text x="619.3" y="303.6" font-size="29" textLength="28.02" lengthAdjust="spacingAndGlyphs" fill="#1a1a1a" stroke="#1a1a1a" stroke-width="0.2">PI</text>
<rect x="596.2" y="550.4" width="71.8" height="33.2" rx="2.5" fill="#fff" stroke="#1a1a1a" stroke-width="1.8"/>
<text x="600.6" y="576" font-size="29" textLength="65.70" lengthAdjust="spacingAndGlyphs" fill="#1a1a1a" stroke="#1a1a1a" stroke-width="0.2">SMC</text>
<path d="M225.7 28.8 Q256 28 267 57" fill="none" stroke="#1a1a1a" stroke-width="1.6"/>
<path d="M268 59.6 L261.5 52.5 L266.2 53.2 L268.6 49.8 Z" fill="#1a1a1a"/>
<path d="M286.8 228.8 Q265 240 244 220" fill="none" stroke="#1a1a1a" stroke-width="1.6"/>
<path d="M242.5 218 L251.5 221.5 L247 223 L246.5 227.5 Z" fill="#1a1a1a"/>
</svg>
</body></html>
